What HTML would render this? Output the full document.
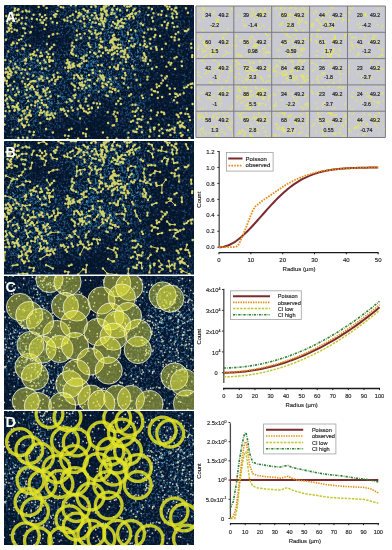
<!DOCTYPE html><html><head><meta charset="utf-8"><style>html,body{margin:0;padding:0;background:#fff;}#p{position:relative;width:392px;height:550px;overflow:hidden;background:#fff;}svg{position:absolute;left:0;top:0;} text{font-family:"Liberation Sans", Arial, sans-serif;} .pl text{stroke:#222;stroke-width:0.14px;}</style></head><body><div id="p"><svg width="392" height="550" viewBox="0 0 392 550" font-size="6" fill="#2a2a2a"><defs><clipPath id="cpA"><rect x="0" y="0" width="190" height="134"/></clipPath><clipPath id="cpB"><rect x="0" y="0" width="190" height="133.4"/></clipPath><clipPath id="cpC"><rect x="0" y="0" width="190" height="133.8"/></clipPath><clipPath id="cpD"><rect x="0" y="0" width="190" height="134.3"/></clipPath><filter id="soft" x="-5%" y="-5%" width="110%" height="110%"><feGaussianBlur stdDeviation="0.5"/></filter><filter id="bl6" x="-20%" y="-20%" width="140%" height="140%"><feGaussianBlur stdDeviation="7"/></filter><filter id="tz" x="0" y="0" width="190" height="134" filterUnits="userSpaceOnUse"><feTurbulence type="fractalNoise" baseFrequency="0.45" numOctaves="2" seed="4"/><feColorMatrix type="matrix" values="0 0 0 0 0.08  0 0 0 0 0.36  0 0 0 0 0.58  3.4 0 0 0 -1.6"/></filter><mask id="mAB" maskUnits="userSpaceOnUse" x="0" y="0" width="190" height="134"><rect width="190" height="134" fill="#1c1c1c"/><g filter="url(#bl6)" fill="#fff"><rect x="0.0" y="0.0" width="23.8" height="22.3" fill-opacity="0.40"/><rect x="23.8" y="0.0" width="23.8" height="22.3" fill-opacity="0.20"/><rect x="47.5" y="0.0" width="23.8" height="22.3" fill-opacity="0.40"/><rect x="71.2" y="0.0" width="23.8" height="22.3" fill-opacity="1.00"/><rect x="95.0" y="0.0" width="23.8" height="22.3" fill-opacity="1.00"/><rect x="118.8" y="0.0" width="23.8" height="22.3" fill-opacity="0.70"/><rect x="142.5" y="0.0" width="23.8" height="22.3" fill-opacity="0.20"/><rect x="166.2" y="0.0" width="23.8" height="22.3" fill-opacity="0.20"/><rect x="0.0" y="22.3" width="23.8" height="22.3" fill-opacity="0.40"/><rect x="23.8" y="22.3" width="23.8" height="22.3" fill-opacity="0.00"/><rect x="47.5" y="22.3" width="23.8" height="22.3" fill-opacity="0.10"/><rect x="71.2" y="22.3" width="23.8" height="22.3" fill-opacity="0.60"/><rect x="95.0" y="22.3" width="23.8" height="22.3" fill-opacity="0.80"/><rect x="118.8" y="22.3" width="23.8" height="22.3" fill-opacity="0.70"/><rect x="142.5" y="22.3" width="23.8" height="22.3" fill-opacity="0.10"/><rect x="166.2" y="22.3" width="23.8" height="22.3" fill-opacity="0.20"/><rect x="0.0" y="44.7" width="23.8" height="22.3" fill-opacity="1.00"/><rect x="23.8" y="44.7" width="23.8" height="22.3" fill-opacity="0.70"/><rect x="47.5" y="44.7" width="23.8" height="22.3" fill-opacity="0.40"/><rect x="71.2" y="44.7" width="23.8" height="22.3" fill-opacity="1.00"/><rect x="95.0" y="44.7" width="23.8" height="22.3" fill-opacity="0.40"/><rect x="118.8" y="44.7" width="23.8" height="22.3" fill-opacity="1.00"/><rect x="142.5" y="44.7" width="23.8" height="22.3" fill-opacity="0.10"/><rect x="166.2" y="44.7" width="23.8" height="22.3" fill-opacity="0.10"/><rect x="0.0" y="67.0" width="23.8" height="22.3" fill-opacity="0.40"/><rect x="23.8" y="67.0" width="23.8" height="22.3" fill-opacity="1.00"/><rect x="47.5" y="67.0" width="23.8" height="22.3" fill-opacity="0.40"/><rect x="71.2" y="67.0" width="23.8" height="22.3" fill-opacity="1.00"/><rect x="95.0" y="67.0" width="23.8" height="22.3" fill-opacity="1.00"/><rect x="118.8" y="67.0" width="23.8" height="22.3" fill-opacity="0.40"/><rect x="142.5" y="67.0" width="23.8" height="22.3" fill-opacity="0.00"/><rect x="166.2" y="67.0" width="23.8" height="22.3" fill-opacity="0.10"/><rect x="0.0" y="89.3" width="23.8" height="22.3" fill-opacity="1.00"/><rect x="23.8" y="89.3" width="23.8" height="22.3" fill-opacity="1.00"/><rect x="47.5" y="89.3" width="23.8" height="22.3" fill-opacity="0.70"/><rect x="71.2" y="89.3" width="23.8" height="22.3" fill-opacity="0.40"/><rect x="95.0" y="89.3" width="23.8" height="22.3" fill-opacity="0.10"/><rect x="118.8" y="89.3" width="23.8" height="22.3" fill-opacity="0.40"/><rect x="142.5" y="89.3" width="23.8" height="22.3" fill-opacity="0.00"/><rect x="166.2" y="89.3" width="23.8" height="22.3" fill-opacity="0.10"/><rect x="0.0" y="111.7" width="23.8" height="22.3" fill-opacity="0.40"/><rect x="23.8" y="111.7" width="23.8" height="22.3" fill-opacity="0.40"/><rect x="47.5" y="111.7" width="23.8" height="22.3" fill-opacity="0.10"/><rect x="71.2" y="111.7" width="23.8" height="22.3" fill-opacity="0.00"/><rect x="95.0" y="111.7" width="23.8" height="22.3" fill-opacity="0.10"/><rect x="118.8" y="111.7" width="23.8" height="22.3" fill-opacity="0.40"/><rect x="142.5" y="111.7" width="23.8" height="22.3" fill-opacity="0.10"/><rect x="166.2" y="111.7" width="23.8" height="22.3" fill-opacity="0.40"/></g></mask><mask id="mCD" maskUnits="userSpaceOnUse" x="0" y="0" width="190" height="134"><rect width="190" height="134" fill="#2a2a2a"/><g filter="url(#bl6)" fill="#fff"><rect x="0.0" y="0.0" width="23.8" height="22.3" fill-opacity="0.11"/><rect x="23.8" y="0.0" width="23.8" height="22.3" fill-opacity="0.89"/><rect x="47.5" y="0.0" width="23.8" height="22.3" fill-opacity="0.56"/><rect x="71.2" y="0.0" width="23.8" height="22.3" fill-opacity="0.00"/><rect x="95.0" y="0.0" width="23.8" height="22.3" fill-opacity="0.00"/><rect x="118.8" y="0.0" width="23.8" height="22.3" fill-opacity="0.11"/><rect x="142.5" y="0.0" width="23.8" height="22.3" fill-opacity="0.56"/><rect x="166.2" y="0.0" width="23.8" height="22.3" fill-opacity="0.56"/><rect x="0.0" y="22.3" width="23.8" height="22.3" fill-opacity="0.11"/><rect x="23.8" y="22.3" width="23.8" height="22.3" fill-opacity="0.67"/><rect x="47.5" y="22.3" width="23.8" height="22.3" fill-opacity="0.11"/><rect x="71.2" y="22.3" width="23.8" height="22.3" fill-opacity="0.11"/><rect x="95.0" y="22.3" width="23.8" height="22.3" fill-opacity="0.00"/><rect x="118.8" y="22.3" width="23.8" height="22.3" fill-opacity="0.33"/><rect x="142.5" y="22.3" width="23.8" height="22.3" fill-opacity="0.89"/><rect x="166.2" y="22.3" width="23.8" height="22.3" fill-opacity="0.89"/><rect x="0.0" y="44.7" width="23.8" height="22.3" fill-opacity="0.89"/><rect x="23.8" y="44.7" width="23.8" height="22.3" fill-opacity="0.33"/><rect x="47.5" y="44.7" width="23.8" height="22.3" fill-opacity="0.11"/><rect x="71.2" y="44.7" width="23.8" height="22.3" fill-opacity="0.00"/><rect x="95.0" y="44.7" width="23.8" height="22.3" fill-opacity="0.11"/><rect x="118.8" y="44.7" width="23.8" height="22.3" fill-opacity="0.33"/><rect x="142.5" y="44.7" width="23.8" height="22.3" fill-opacity="0.89"/><rect x="166.2" y="44.7" width="23.8" height="22.3" fill-opacity="0.89"/><rect x="0.0" y="67.0" width="23.8" height="22.3" fill-opacity="0.89"/><rect x="23.8" y="67.0" width="23.8" height="22.3" fill-opacity="0.67"/><rect x="47.5" y="67.0" width="23.8" height="22.3" fill-opacity="0.11"/><rect x="71.2" y="67.0" width="23.8" height="22.3" fill-opacity="0.11"/><rect x="95.0" y="67.0" width="23.8" height="22.3" fill-opacity="0.11"/><rect x="118.8" y="67.0" width="23.8" height="22.3" fill-opacity="0.56"/><rect x="142.5" y="67.0" width="23.8" height="22.3" fill-opacity="0.67"/><rect x="166.2" y="67.0" width="23.8" height="22.3" fill-opacity="0.67"/><rect x="0.0" y="89.3" width="23.8" height="22.3" fill-opacity="0.33"/><rect x="23.8" y="89.3" width="23.8" height="22.3" fill-opacity="0.89"/><rect x="47.5" y="89.3" width="23.8" height="22.3" fill-opacity="0.56"/><rect x="71.2" y="89.3" width="23.8" height="22.3" fill-opacity="0.11"/><rect x="95.0" y="89.3" width="23.8" height="22.3" fill-opacity="0.11"/><rect x="118.8" y="89.3" width="23.8" height="22.3" fill-opacity="0.56"/><rect x="142.5" y="89.3" width="23.8" height="22.3" fill-opacity="0.33"/><rect x="166.2" y="89.3" width="23.8" height="22.3" fill-opacity="0.67"/><rect x="0.0" y="111.7" width="23.8" height="22.3" fill-opacity="0.11"/><rect x="23.8" y="111.7" width="23.8" height="22.3" fill-opacity="0.33"/><rect x="47.5" y="111.7" width="23.8" height="22.3" fill-opacity="0.33"/><rect x="71.2" y="111.7" width="23.8" height="22.3" fill-opacity="0.11"/><rect x="95.0" y="111.7" width="23.8" height="22.3" fill-opacity="0.11"/><rect x="118.8" y="111.7" width="23.8" height="22.3" fill-opacity="0.33"/><rect x="142.5" y="111.7" width="23.8" height="22.3" fill-opacity="0.33"/><rect x="166.2" y="111.7" width="23.8" height="22.3" fill-opacity="0.33"/></g></mask></defs><g transform="translate(4,5)" clip-path="url(#cpA)"><g filter="url(#soft)"><g><rect width="190" height="134" fill="#06122a"/><rect width="190" height="134" filter="url(#tz)" mask="url(#mAB)"/><path d="M97.8 79.0h0M92.6 38.6h0M82.6 31.4h0M17.5 132.4h0M3.8 22.2h0M117.2 97.7h0M51.9 78.7h0M10.4 44.3h0M43.2 92.3h0M188.3 114.6h0M142.5 57.6h0M42.3 83.6h0M146.7 43.7h0M1.3 64.5h0M87.1 78.1h0M29.6 84.4h0M131.1 74.0h0M28.7 58.5h0M32.7 120.9h0M126.1 124.7h0M111.7 64.3h0M129.8 23.9h0M68.7 21.5h0M55.1 105.2h0M162.0 44.6h0M92.1 71.4h0M98.9 38.9h0M149.1 38.6h0M20.7 115.7h0M31.5 35.8h0M60.2 121.1h0M114.1 15.7h0M6.5 91.5h0M1.9 23.1h0M184.5 122.7h0M115.2 81.0h0M93.1 58.8h0M36.6 58.3h0M119.0 17.2h0M72.2 103.8h0M174.0 71.1h0M107.6 22.9h0M9.3 101.7h0M111.1 53.5h0M36.5 80.2h0M117.0 83.9h0M66.8 23.2h0M55.5 4.2h0M59.2 95.7h0M49.4 114.0h0M169.7 123.8h0M93.4 126.0h0M103.6 133.3h0M107.1 88.4h0M109.2 78.4h0M122.8 56.2h0M136.1 15.7h0M76.0 101.8h0M140.2 49.2h0M7.7 31.9h0M83.5 29.5h0M70.4 49.1h0M187.7 18.3h0M135.5 44.6h0M11.6 100.9h0M39.1 47.7h0M63.8 107.2h0M78.0 121.5h0M16.1 95.5h0M14.9 70.8h0M187.1 122.4h0M121.6 27.7h0M23.0 93.9h0M84.3 55.2h0M60.8 122.1h0M61.1 79.2h0M64.9 61.9h0M21.5 83.2h0M73.8 58.7h0M146.5 53.7h0M95.8 33.6h0M96.8 37.4h0M111.2 130.1h0M98.1 15.1h0M144.2 88.2h0M141.8 43.3h0M86.7 17.8h0M59.3 2.3h0M109.1 28.4h0M123.2 18.0h0M26.1 98.3h0M175.0 5.6h0M101.8 1.8h0M141.2 76.3h0M33.8 73.3h0M46.7 81.8h0M22.9 70.1h0M130.6 122.5h0M104.9 62.6h0M31.8 99.1h0M34.3 89.5h0M98.1 75.1h0M143.2 25.5h0M113.5 44.9h0M173.6 2.6h0M69.9 28.6h0M11.4 5.1h0M35.6 61.9h0M82.8 2.8h0M41.8 84.7h0M99.6 27.2h0M20.1 83.0h0M70.5 54.2h0M3.7 47.7h0M189.1 119.5h0M2.6 43.5h0M24.9 81.8h0M25.2 58.3h0M183.8 36.1h0M96.7 15.0h0M31.3 55.8h0M60.0 92.7h0M104.6 9.3h0M187.5 94.8h0M83.1 86.2h0M24.5 96.4h0M136.0 48.2h0M188.5 59.7h0M187.4 8.7h0M145.5 84.3h0M67.7 13.3h0M74.4 1.2h0M33.1 108.4h0M13.1 14.8h0M20.2 12.1h0M23.8 102.5h0M118.0 69.8h0M101.5 72.2h0M171.7 17.6h0M4.7 16.0h0M77.0 116.5h0M137.6 20.0h0M50.6 121.5h0M189.8 88.4h0M99.0 59.1h0M53.8 86.0h0M22.9 53.4h0M187.0 3.5h0M155.2 113.0h0M167.5 95.6h0M80.7 127.6h0M133.4 131.5h0M20.9 67.5h0M174.4 129.8h0M102.7 74.7h0M128.0 64.8h0M50.0 110.5h0M25.3 85.2h0M41.8 103.2h0M130.3 45.4h0M169.0 29.9h0M36.6 115.2h0M7.8 63.4h0M36.5 114.7h0M28.4 65.5h0M181.3 41.6h0M71.5 49.2h0M146.4 53.2h0M38.0 34.5h0M83.7 8.1h0M172.6 8.7h0M121.6 38.8h0M27.3 101.4h0M188.1 132.4h0M35.7 79.6h0M68.7 46.5h0M38.6 41.9h0M27.6 10.1h0M9.8 109.1h0M23.3 130.3h0M107.6 77.4h0M133.8 11.5h0M143.5 50.4h0M106.5 12.6h0M45.7 71.4h0M9.8 65.3h0M38.7 88.1h0M46.7 91.3h0M72.5 11.3h0M163.2 95.5h0M129.1 65.1h0M66.2 101.9h0M42.5 122.4h0M77.5 81.2h0M69.0 66.0h0M149.2 113.6h0M28.0 59.6h0M36.0 76.8h0M132.0 17.4h0M122.3 80.8h0M94.3 84.9h0M159.5 65.4h0M67.6 54.7h0M14.6 47.6h0M22.3 47.9h0M114.6 82.1h0M24.6 21.2h0M38.1 95.9h0M91.1 31.6h0M12.7 109.4h0M9.9 73.7h0M155.6 15.3h0M121.1 54.6h0M72.7 51.2h0M134.3 5.3h0M80.9 74.3h0M35.1 125.5h0M98.4 12.6h0M73.4 57.4h0M68.4 6.9h0M132.0 117.8h0M77.8 50.2h0M119.8 33.7h0M13.7 50.7h0M57.0 66.6h0M61.1 94.9h0M23.9 104.8h0M188.0 37.6h0M186.1 117.9h0M98.4 82.8h0M173.3 21.8h0M35.3 45.5h0M86.5 57.9h0M52.9 75.5h0M138.7 123.2h0M85.8 65.4h0M166.8 23.7h0M35.3 117.9h0M116.9 45.3h0M8.0 92.5h0M9.4 72.1h0M13.9 124.0h0M71.2 42.8h0M5.1 101.3h0M113.7 36.3h0M33.9 91.3h0M175.0 54.7h0M177.0 96.9h0M50.6 86.6h0M10.7 34.7h0M39.5 51.7h0M159.3 62.6h0M91.9 80.7h0M40.7 61.3h0M82.3 80.0h0M124.2 67.3h0M67.3 85.9h0M184.0 9.3h0M107.7 26.4h0M133.2 90.8h0M7.8 52.5h0M38.6 56.7h0M73.6 129.8h0M145.4 54.3h0M25.9 47.9h0M128.5 88.2h0M78.3 87.3h0M20.8 73.0h0M48.2 33.3h0M29.2 56.8h0M11.4 38.6h0M40.2 83.9h0M58.6 64.8h0M78.9 114.3h0M38.8 113.3h0M25.9 112.2h0M149.3 106.0h0M41.2 115.6h0M2.2 111.1h0M110.8 70.1h0M40.5 49.3h0M105.5 61.3h0M108.3 10.4h0M19.6 11.0h0M13.7 79.0h0M75.9 28.7h0M117.8 47.8h0M5.7 7.1h0M52.4 65.9h0M89.5 73.2h0M23.6 133.7h0M50.6 68.0h0M99.8 89.5h0M24.5 125.3h0M111.4 1.5h0M90.5 88.5h0M124.9 36.3h0M121.7 22.0h0M163.0 132.3h0M39.3 96.1h0M83.4 32.7h0M96.9 63.0h0M119.2 104.6h0M88.2 11.3h0M44.8 79.9h0M71.7 120.2h0M7.9 97.0h0M119.0 19.1h0M70.7 94.4h0M67.3 58.5h0M9.2 132.1h0M47.0 80.9h0M56.4 24.0h0M177.8 49.7h0M25.8 58.8h0M25.4 87.3h0M15.2 37.7h0M43.1 50.5h0M32.3 126.4h0M53.6 120.6h0M51.1 107.7h0M185.5 46.7h0M5.1 80.1h0M188.6 2.8h0M37.7 87.1h0M103.4 4.8h0M79.1 68.7h0M16.7 17.5h0M132.4 82.0h0M17.6 76.3h0M89.2 47.7h0M82.6 108.1h0M112.0 69.6h0M90.6 87.5h0M155.1 23.6h0M2.9 121.0h0M38.9 45.2h0M98.1 78.5h0M73.2 4.5h0M156.2 26.7h0M94.7 111.1h0M80.5 70.7h0M76.7 66.0h0M142.4 107.6h0M176.1 56.9h0M122.4 45.9h0M117.5 128.9h0M74.5 39.3h0M166.2 2.6h0M22.1 90.3h0M173.7 117.4h0M186.0 100.0h0M160.3 38.2h0M23.4 60.3h0M54.5 102.1h0M19.0 3.6h0M164.2 119.0h0M90.9 82.9h0M91.8 4.5h0M79.0 75.5h0M99.2 32.3h0M130.3 78.3h0M152.2 86.8h0M60.6 35.7h0M103.4 12.4h0M82.9 10.2h0M50.4 11.6h0M116.2 104.1h0M139.9 72.8h0M112.0 74.7h0M19.5 120.8h0M132.1 40.3h0M110.8 105.7h0M167.7 26.3h0M7.1 12.5h0M47.3 64.6h0M129.7 7.9h0M102.4 5.0h0M165.6 100.0h0M117.5 19.3h0M127.0 14.5h0M112.9 66.1h0M90.0 12.5h0M40.6 39.9h0M176.2 114.5h0M105.8 78.3h0M162.3 39.9h0M125.0 51.2h0M120.9 52.6h0M21.2 107.1h0M4.0 111.9h0M22.0 108.6h0M100.1 78.3h0M111.1 7.9h0M74.7 99.6h0M98.8 72.3h0M147.9 32.2h0M127.7 20.3h0M77.2 41.9h0M55.5 130.3h0M68.4 1.6h0M145.0 103.7h0M20.3 104.4h0M43.0 116.8h0M39.8 90.4h0M67.8 116.8h0M75.6 31.6h0M71.1 67.1h0M104.7 72.5h0M71.6 69.0h0M67.2 100.6h0M45.1 105.3h0M66.3 101.8h0M160.2 21.3h0M188.6 22.8h0M89.4 55.2h0M138.4 110.8h0M125.8 17.9h0M100.5 83.3h0M166.3 129.7h0M184.8 5.9h0M9.4 32.2h0M120.4 111.3h0M88.1 85.1h0M49.7 81.0h0M150.4 10.3h0M10.1 111.8h0M10.1 5.3h0M15.0 47.9h0M83.8 54.5h0M117.5 60.2h0M21.6 50.0h0M38.8 28.7h0M117.0 24.1h0M151.2 6.8h0M144.1 87.8h0M101.2 16.0h0M18.9 104.4h0M166.2 8.4h0M79.5 105.9h0M29.5 12.7h0M103.4 2.8h0M107.1 56.8h0M110.0 103.7h0M138.0 32.6h0M112.7 92.7h0M153.6 96.9h0M68.1 123.2h0M116.9 49.7h0M98.4 19.7h0M126.8 3.5h0M145.5 93.9h0M121.3 36.9h0M103.2 63.6h0M173.4 0.4h0M71.9 34.1h0M139.7 50.3h0M149.3 27.0h0M147.5 65.8h0M64.6 107.8h0M106.5 10.8h0M62.6 115.2h0M11.3 49.6h0M176.0 6.7h0M92.2 14.0h0M23.0 105.3h0M134.3 90.7h0M112.6 68.2h0M45.4 76.4h0M162.3 99.7h0M135.1 12.5h0M41.7 0.8h0M77.9 12.5h0M70.8 52.2h0M28.0 69.4h0M98.8 55.9h0M34.5 99.9h0M48.3 70.5h0M71.4 59.2h0M74.5 77.7h0M185.2 131.9h0M134.6 83.1h0M164.6 83.6h0M169.1 42.9h0M68.0 110.7h0M9.8 23.5h0M24.2 105.4h0M50.5 20.7h0M74.8 58.6h0M21.6 78.7h0M97.1 130.8h0M97.9 53.7h0M162.8 28.2h0M22.0 59.6h0M117.3 22.7h0M174.4 31.9h0M33.7 74.5h0M169.6 66.3h0M88.0 29.1h0M181.9 114.9h0M116.9 66.9h0M120.6 23.8h0M172.0 56.5h0M112.6 56.8h0M64.7 104.7h0M62.2 0.2h0M82.1 22.6h0M69.6 11.5h0M178.8 97.8h0M32.1 14.8h0M68.1 38.4h0M2.7 118.7h0M154.7 114.2h0M121.4 12.6h0M53.6 87.1h0M2.1 111.6h0M79.6 30.0h0M21.5 82.3h0M161.8 47.2h0M82.9 3.1h0M0.3 15.6h0M142.1 68.3h0M62.2 79.0h0M155.9 8.8h0M132.9 89.8h0M12.2 94.0h0M133.1 56.6h0M126.3 113.4h0M90.6 24.7h0M67.1 109.1h0M68.9 10.5h0M115.9 114.2h0M89.6 67.4h0M19.2 29.4h0M90.2 33.8h0M15.2 47.1h0M189.4 70.6h0M52.7 2.4h0M135.0 54.2h0M134.5 66.0h0M134.9 83.9h0M4.9 38.9h0M136.7 88.4h0M101.2 81.3h0M45.0 115.9h0M83.5 20.3h0M5.0 61.3h0M122.5 77.4h0M187.4 20.0h0M118.5 123.4h0M130.1 115.3h0M84.3 49.2h0M167.8 70.6h0M137.3 30.5h0M44.8 7.2h0M40.3 73.4h0M151.9 96.2h0M53.6 52.4h0M51.5 22.0h0M139.3 44.3h0M170.2 22.2h0M182.6 34.8h0M123.3 6.7h0M52.9 31.1h0M39.3 10.8h0M65.2 33.6h0M17.7 77.3h0M166.6 3.7h0M18.4 18.5h0M125.6 49.3h0M177.0 45.0h0M70.7 79.1h0M105.0 49.1h0M26.6 48.1h0M131.7 37.4h0M43.9 15.6h0M107.7 5.8h0M98.5 100.0h0M76.2 77.3h0M55.2 104.6h0M21.7 5.0h0M169.4 132.1h0M106.2 30.5h0M181.0 18.8h0M152.9 68.0h0M18.3 104.4h0M107.0 14.5h0M93.3 61.5h0M129.3 130.5h0M12.9 112.9h0M93.4 58.8h0M161.5 12.0h0M1.5 109.6h0M25.8 107.9h0M66.4 76.9h0M45.0 101.8h0M34.7 78.2h0M114.6 73.8h0M121.1 62.3h0M45.1 80.0h0M44.4 69.2h0M55.2 114.9h0M102.1 13.5h0M145.1 106.2h0M118.5 67.0h0M15.7 34.4h0M158.0 21.8h0M79.5 15.6h0M139.8 29.2h0M0.2 69.0h0M106.6 84.1h0M63.9 66.1h0M34.2 34.3h0M110.4 26.9h0M175.6 119.1h0M129.3 68.1h0M19.4 129.9h0M163.4 90.7h0M117.4 110.2h0M76.4 43.9h0M74.8 73.4h0M33.6 105.0h0M121.6 121.0h0M27.8 78.0h0M64.9 67.5h0M43.0 77.1h0M182.1 55.0h0M142.1 21.8h0M71.6 85.6h0M72.7 73.3h0M152.1 32.7h0M90.3 126.4h0M53.2 20.9h0M92.4 58.9h0M23.8 109.6h0M149.7 115.0h0M175.1 87.8h0M88.9 53.4h0M142.2 63.4h0M167.8 31.4h0M81.9 109.6h0M15.0 99.9h0M124.3 17.6h0M18.6 94.1h0M106.1 68.0h0M29.7 73.8h0M167.2 18.0h0M68.2 42.8h0M11.1 82.7h0M88.1 8.9h0M188.4 117.1h0M33.5 8.5h0M175.7 62.8h0M52.0 24.1h0M9.7 100.5h0M66.7 60.2h0M152.3 30.8h0M135.0 25.3h0M156.0 128.4h0M175.5 85.2h0M10.8 20.5h0M120.9 94.0h0M70.3 3.7h0M110.6 60.1h0M36.5 88.9h0M123.8 54.3h0M0.9 62.8h0M117.9 28.6h0M21.9 63.2h0M185.9 127.3h0M45.1 121.0h0M130.3 73.3h0M102.6 75.1h0M166.6 116.9h0M164.8 89.5h0M156.9 20.3h0M133.6 60.6h0M52.5 107.7h0M111.7 130.7h0M150.6 43.1h0M35.1 88.6h0M48.1 33.8h0M131.1 41.3h0M158.0 39.5h0M89.7 108.0h0M49.1 105.5h0M17.1 76.6h0M64.5 109.8h0M114.9 60.7h0M134.9 45.8h0M34.5 86.0h0M144.4 18.4h0M175.5 26.3h0M106.2 45.6h0M49.2 2.5h0M103.7 62.1h0M136.1 126.2h0M60.7 0.0h0M165.2 101.6h0M8.7 82.0h0M88.2 7.1h0M64.6 106.4h0M42.0 107.2h0M87.8 21.1h0M33.4 43.7h0M99.2 115.5h0M35.2 37.3h0M25.6 93.3h0M133.7 92.3h0M148.0 55.6h0M88.7 18.6h0M78.7 56.4h0M85.1 73.5h0M42.5 25.3h0M53.5 49.9h0M189.3 64.1h0M135.0 80.2h0M88.8 44.2h0M51.6 54.8h0M176.3 28.0h0M90.6 6.3h0M157.2 18.2h0M8.0 98.6h0M9.6 69.1h0M164.6 82.6h0M20.5 3.9h0M44.9 57.8h0M36.6 82.3h0M37.4 6.3h0M96.2 32.5h0M169.7 111.3h0M106.6 12.8h0M115.8 75.8h0M7.3 81.5h0M103.3 75.5h0M184.2 110.9h0M107.9 41.5h0M24.0 98.2h0M176.5 128.8h0M88.3 7.0h0M34.4 76.9h0M89.3 77.4h0M89.9 62.1h0M131.9 54.8h0M154.9 113.5h0M93.5 60.7h0M188.1 1.0h0M42.5 53.3h0M113.6 94.7h0M126.8 70.8h0M19.3 75.1h0M121.0 95.9h0M10.9 132.1h0M112.7 21.4h0M56.5 5.8h0M114.2 5.8h0M55.1 107.8h0M155.2 12.6h0M88.2 84.1h0M37.0 104.3h0M104.3 103.7h0M172.7 109.3h0M177.9 24.4h0M179.2 104.9h0M189.3 101.1h0M147.0 39.6h0M18.9 7.1h0M40.2 90.9h0M64.6 106.7h0M141.9 100.3h0M74.1 70.0h0M34.6 81.8h0M176.4 79.8h0M29.2 113.8h0M31.4 2.8h0M35.3 77.4h0M122.5 124.7h0M132.5 8.2h0M131.5 91.0h0M176.7 29.0h0M66.7 124.5h0M16.9 104.2h0M153.3 68.9h0M2.6 42.5h0M86.1 13.0h0M189.8 109.9h0M7.8 1.9h0M94.0 62.0h0M91.2 7.9h0M121.1 30.6h0M96.3 39.4h0M83.8 79.3h0M121.6 21.6h0M180.8 120.5h0M97.2 85.1h0M130.3 132.6h0M144.6 92.9h0M15.6 45.1h0M65.3 96.2h0M75.9 104.4h0M38.7 127.4h0M184.6 74.2h0M76.1 83.2h0M105.9 54.4h0M128.5 102.6h0M23.7 107.3h0M2.0 53.8h0M117.9 8.3h0M6.9 61.0h0M171.0 51.4h0M79.9 17.2h0M48.2 41.4h0M78.5 35.1h0M93.6 67.2h0M11.7 83.4h0M143.6 119.6h0M132.0 127.5h0M108.7 70.4h0M73.5 74.8h0M135.9 38.0h0M181.6 61.5h0M132.1 19.8h0M174.7 84.3h0M126.0 15.9h0M62.8 46.1h0M99.7 6.6h0M166.7 17.4h0M123.8 10.8h0M29.7 76.1h0M74.3 10.1h0M122.3 54.4h0M42.9 131.7h0M73.4 121.4h0M4.8 24.3h0M71.5 59.2h0M22.3 98.9h0M158.6 56.3h0M179.9 109.7h0M116.7 17.6h0M26.5 78.7h0M124.7 77.2h0M98.4 67.5h0M66.4 112.6h0M187.4 38.2h0M38.9 38.9h0M121.0 38.5h0M0.3 90.8h0M122.4 20.7h0M91.0 56.7h0M96.0 51.0h0M57.0 106.4h0M56.9 128.6h0M0.3 24.1h0M21.4 124.8h0M174.4 31.7h0M36.2 53.1h0M97.8 36.4h0M145.2 88.2h0M134.3 77.7h0M135.1 102.7h0M21.2 76.7h0M103.8 100.0h0M177.9 90.8h0M16.8 23.6h0M111.6 53.1h0M113.4 130.0h0M72.4 21.8h0M59.1 27.5h0M171.6 96.5h0M26.8 113.0h0M85.2 61.7h0M5.8 74.8h0M16.5 48.1h0M126.7 71.4h0M51.8 72.2h0M57.5 18.5h0M189.6 96.4h0M45.9 129.0h0M135.2 12.9h0" stroke="#0e2a48" stroke-width="1.5" stroke-linecap="round" opacity="0.75"/><path d="M185.6 73.2h0M149.9 124.2h0M173.0 90.2h0M68.7 96.6h0M91.7 26.8h0M99.8 47.8h0M20.0 65.9h0M81.5 79.8h0M94.2 22.9h0M120.8 77.5h0M85.2 59.9h0M33.9 67.6h0M108.0 117.0h0M98.4 18.1h0M48.6 63.0h0M36.3 52.1h0M115.6 88.2h0M141.4 95.0h0M57.2 49.4h0M181.6 60.2h0M17.6 6.7h0M49.9 58.4h0M74.2 43.2h0M69.5 94.0h0M47.8 127.5h0M119.6 30.8h0M140.4 50.3h0M16.2 99.2h0M83.3 18.7h0M12.0 37.7h0M69.7 78.5h0M57.0 42.8h0M71.1 132.7h0M165.7 39.9h0M56.6 7.7h0M106.1 126.3h0M102.2 28.5h0M76.0 65.0h0M110.4 11.6h0M1.1 51.4h0M74.2 44.0h0M54.3 91.1h0M166.8 8.2h0M14.5 70.7h0M16.0 60.8h0M5.2 3.8h0M163.4 2.3h0M24.3 117.1h0M11.3 81.5h0M56.6 103.4h0M0.4 82.1h0M120.4 97.0h0M64.1 107.2h0M136.9 76.0h0M22.9 58.5h0M120.0 118.4h0M111.0 76.9h0M139.4 98.8h0M119.7 45.9h0M174.1 114.3h0M82.1 113.6h0M141.9 32.9h0M155.1 3.1h0M45.6 99.4h0M125.3 9.4h0M127.4 34.7h0M129.2 103.8h0M44.7 22.2h0M70.7 11.2h0M98.0 54.9h0M94.2 33.5h0M70.4 100.5h0M125.9 132.2h0M104.8 106.9h0M122.8 102.1h0M109.2 67.5h0M84.0 77.5h0M92.7 52.1h0M72.5 40.8h0M179.2 15.8h0M157.9 126.2h0M121.5 9.5h0M0.8 58.3h0M9.5 92.4h0M86.9 36.2h0M144.9 38.6h0M130.8 35.3h0M97.4 16.1h0M164.3 123.9h0M81.9 118.9h0M96.0 26.4h0M104.5 40.6h0M86.0 92.0h0M65.1 69.1h0M139.5 114.8h0M4.5 60.1h0M165.2 54.3h0M158.8 97.3h0M153.1 87.0h0M171.1 98.8h0M177.7 22.2h0M99.0 28.6h0M187.2 10.9h0M62.5 11.6h0M180.8 74.3h0M46.5 104.3h0M92.1 81.9h0M32.9 107.2h0M142.9 89.3h0M112.7 124.4h0M43.9 98.2h0M49.5 19.2h0M31.2 61.9h0M67.4 20.2h0M170.4 46.3h0M43.1 113.2h0M50.7 122.4h0M63.7 0.9h0M124.6 96.5h0M122.3 10.2h0M180.2 115.7h0M28.7 32.0h0M2.4 105.1h0M108.4 94.0h0M122.0 57.5h0M37.5 81.9h0M91.1 97.7h0M132.5 73.0h0M70.6 103.8h0M51.6 121.2h0M24.3 106.8h0M62.1 0.0h0M142.1 79.2h0M125.2 41.0h0M66.7 18.2h0M106.5 89.7h0M187.8 29.1h0M80.8 55.6h0M77.5 11.7h0M106.1 5.7h0M6.6 91.6h0M21.8 40.2h0M123.2 31.1h0M125.8 115.7h0M156.3 103.4h0M76.8 34.4h0M7.5 84.9h0M153.3 73.4h0M56.3 116.4h0M94.8 3.9h0M106.1 73.4h0M84.5 57.8h0M51.7 88.3h0M73.8 107.3h0M102.9 66.3h0M131.2 75.9h0M73.3 109.6h0M12.2 123.9h0M54.3 132.3h0M35.2 132.9h0M188.8 130.0h0M39.4 47.2h0M151.0 60.9h0M35.9 10.2h0M46.8 112.6h0M87.4 81.4h0M32.6 77.6h0M129.8 38.8h0M24.2 132.6h0M10.4 116.5h0M0.7 40.5h0M148.4 44.6h0M183.7 114.7h0M99.7 61.7h0M17.0 85.7h0M130.9 72.7h0M169.2 34.1h0M171.3 121.6h0M0.6 67.3h0M96.9 39.3h0M125.2 74.0h0M99.4 74.7h0M174.6 26.0h0M78.3 78.0h0M95.5 96.9h0M85.5 22.1h0M118.2 48.6h0M68.5 114.7h0M4.0 62.9h0M176.1 120.5h0M143.7 104.3h0M33.8 73.7h0M123.2 32.9h0M142.5 23.1h0M33.8 54.1h0M120.5 56.7h0M79.4 47.1h0M104.1 59.7h0M82.9 10.4h0M5.2 41.6h0M1.4 127.1h0M33.5 79.0h0M107.0 69.4h0M90.1 86.2h0M136.6 7.9h0M108.7 52.3h0M19.7 114.8h0M65.2 17.3h0M129.1 14.6h0M183.6 54.5h0M136.4 80.2h0M80.9 64.3h0M56.4 57.8h0M73.4 34.0h0M182.4 22.8h0M106.0 119.0h0M25.1 74.4h0M107.7 114.4h0M57.6 110.0h0M16.2 36.6h0M21.8 112.1h0M46.5 7.8h0M181.0 94.9h0M93.8 55.7h0M65.7 11.7h0M25.2 68.2h0M28.4 99.7h0M144.3 66.5h0M49.1 27.1h0M50.1 77.6h0M85.8 48.3h0M153.5 100.1h0M23.0 62.4h0M27.9 59.6h0M75.2 91.4h0M122.5 109.7h0M92.5 1.9h0M88.6 54.8h0M69.6 118.8h0M93.3 75.9h0M107.9 93.7h0M180.6 69.6h0M146.1 124.1h0M128.6 52.5h0M123.3 103.3h0M1.4 114.6h0M184.8 123.3h0M77.8 19.1h0M7.6 79.7h0M139.4 11.9h0M13.6 42.5h0M70.3 118.2h0M132.8 106.4h0M9.6 31.5h0M48.8 131.7h0M70.1 15.2h0M176.9 51.1h0M44.1 50.6h0M70.8 58.1h0M95.2 63.1h0M0.8 64.1h0M93.0 61.6h0M75.4 93.1h0M99.8 61.7h0M162.4 52.0h0M47.4 85.5h0M96.0 108.3h0M160.4 118.4h0M48.3 99.7h0M147.1 2.9h0M59.6 42.3h0M68.8 34.9h0M128.0 41.6h0M98.0 36.9h0M4.0 1.8h0M64.3 26.6h0M121.9 91.7h0M12.8 40.0h0M87.3 67.2h0M61.7 68.0h0M3.1 49.5h0M27.1 68.7h0M81.4 33.9h0M19.4 30.5h0M90.2 15.8h0M161.2 29.2h0M164.9 4.9h0M27.2 121.0h0M63.3 67.7h0M104.2 19.2h0M45.2 9.5h0M59.8 14.5h0M68.2 92.2h0M59.7 122.1h0M121.7 17.0h0M138.9 129.0h0M187.6 6.0h0M65.8 70.9h0M161.2 108.1h0M176.0 16.3h0M85.0 57.3h0M99.6 77.6h0M0.6 109.0h0M184.2 55.4h0M58.8 115.1h0M33.0 6.5h0M74.1 68.4h0M3.0 2.2h0M112.9 53.5h0M187.5 130.8h0M173.3 3.9h0M36.6 12.1h0M6.1 59.1h0M21.0 127.7h0M16.5 55.9h0M29.9 103.3h0M0.5 0.6h0M79.7 35.5h0M98.6 39.1h0M143.1 61.1h0M38.3 113.0h0M13.9 119.7h0M8.5 5.5h0M75.9 79.8h0M107.0 45.1h0M20.7 129.4h0M14.1 8.0h0M9.1 60.5h0M14.0 46.1h0M106.4 40.3h0M155.1 63.4h0M85.1 41.4h0M130.2 8.6h0M64.2 83.4h0M46.6 76.4h0M2.9 45.3h0M84.9 99.0h0M9.8 104.3h0M153.7 0.9h0M163.9 14.9h0M118.2 76.8h0M146.5 95.7h0M74.6 11.3h0M31.5 72.9h0M63.5 56.4h0M1.2 28.1h0M95.1 81.0h0M107.8 48.2h0M8.2 48.7h0M93.9 88.3h0M82.6 113.7h0M36.5 32.4h0M37.7 56.1h0M62.8 42.2h0M94.8 34.2h0M84.2 82.1h0M181.1 127.5h0M157.4 1.6h0M41.0 49.2h0M179.7 95.8h0M122.0 43.7h0M7.3 45.3h0M65.9 21.4h0M100.6 74.5h0M156.2 55.2h0M140.2 41.8h0M109.8 129.1h0M81.1 83.2h0M2.8 77.0h0M86.4 69.8h0M3.8 97.6h0M85.2 78.2h0M69.7 85.5h0M22.5 73.2h0M116.0 26.7h0M26.2 19.1h0M123.1 103.0h0M117.6 115.1h0M43.0 8.8h0M129.3 2.6h0M106.3 31.0h0M23.8 102.1h0M21.1 28.8h0M61.8 9.5h0M74.6 15.2h0M28.4 122.7h0M131.4 118.1h0M68.1 43.7h0M3.3 111.0h0M151.0 69.1h0M96.0 27.8h0M61.3 58.4h0M165.7 56.1h0M29.3 99.9h0M100.6 13.8h0M106.2 5.9h0M107.6 98.0h0M33.3 90.1h0M42.8 58.2h0M21.5 89.4h0M189.5 120.9h0M147.1 124.3h0M77.5 78.9h0M133.2 39.1h0M150.6 59.8h0M31.7 113.9h0M106.0 37.8h0M102.3 48.1h0M125.7 108.9h0M21.4 65.3h0M87.4 8.0h0M157.9 8.6h0M86.8 12.8h0M95.3 68.5h0M113.2 118.5h0M113.8 6.6h0M185.9 34.0h0M8.7 54.9h0M64.9 38.5h0M128.0 132.1h0M89.4 55.6h0M16.2 116.9h0M85.6 75.9h0M59.2 94.5h0M108.0 132.6h0M37.6 45.4h0M46.4 49.1h0M71.3 76.3h0M99.0 41.5h0M71.2 31.7h0M91.3 69.5h0M47.0 25.3h0M40.6 107.3h0M119.9 48.5h0M110.1 60.4h0M177.1 104.1h0M100.4 66.9h0M106.0 116.3h0M77.4 123.9h0M107.8 124.1h0M155.7 8.1h0M124.8 91.6h0M55.7 99.8h0M44.3 100.2h0M87.5 41.5h0M88.3 21.4h0M182.9 43.3h0M133.1 54.2h0M68.3 74.2h0M51.3 54.4h0M45.2 132.9h0M69.3 28.1h0M74.6 45.0h0M38.3 11.1h0M31.6 130.6h0M40.2 69.2h0M34.2 93.0h0M152.8 133.5h0M45.5 87.4h0M150.0 65.8h0M146.9 35.5h0M100.4 39.6h0M2.4 107.3h0M185.8 22.6h0M17.7 129.5h0M43.7 37.5h0M181.4 64.2h0M86.3 60.9h0M122.7 97.2h0M152.2 70.6h0M115.6 49.3h0M185.8 40.9h0M75.2 53.6h0M37.9 71.1h0M41.6 82.8h0M8.3 125.8h0M131.9 85.2h0M111.6 115.9h0M91.2 97.6h0M83.8 4.9h0M91.3 91.1h0M35.8 46.5h0M139.1 108.2h0M97.5 13.2h0M97.0 102.7h0M115.7 106.1h0M140.4 103.3h0M146.9 9.8h0M134.0 33.9h0M180.7 70.4h0M136.2 45.5h0M90.0 71.6h0M45.9 103.0h0M185.1 132.2h0M3.6 73.2h0M148.8 53.1h0M132.9 93.9h0M34.9 102.5h0M49.5 6.3h0M107.2 17.2h0M8.2 126.8h0M5.1 93.8h0M3.6 21.1h0M90.5 0.4h0M177.0 45.8h0M30.5 73.5h0M119.0 72.7h0M93.2 6.8h0M149.3 99.5h0M95.1 92.3h0M60.2 75.0h0M176.9 19.6h0M37.9 83.5h0M162.0 129.5h0M172.7 70.6h0M6.9 106.1h0M34.4 116.6h0M118.9 56.9h0M85.5 83.9h0M38.0 101.9h0M12.5 115.5h0M39.3 53.8h0M67.3 60.8h0M186.2 122.7h0M161.4 16.4h0M67.3 91.6h0M22.2 133.1h0M61.4 4.7h0M124.7 53.4h0M81.2 76.5h0M162.0 117.5h0M97.1 91.9h0M114.1 52.7h0M40.0 111.5h0M25.6 4.5h0M117.9 82.7h0M71.4 46.1h0M120.8 91.5h0M111.0 19.7h0M55.4 64.4h0M50.2 85.2h0M154.2 114.8h0M68.4 29.4h0M21.4 64.0h0M67.9 2.6h0M71.7 41.1h0M50.8 47.8h0M106.4 90.9h0M67.0 18.4h0M33.9 58.9h0M10.1 90.5h0M137.4 23.8h0M129.0 65.2h0M25.5 127.1h0M79.0 83.3h0M59.1 79.1h0M158.7 34.0h0M85.9 27.8h0M40.6 117.5h0M22.2 55.8h0M177.4 47.3h0M109.3 65.4h0M14.5 71.5h0M105.7 81.1h0M72.4 48.8h0M78.3 51.8h0M94.0 81.2h0M80.4 50.2h0M173.0 119.1h0M19.6 93.5h0M110.7 47.0h0M107.6 57.9h0M179.0 103.0h0M84.0 100.2h0M53.9 96.5h0M49.8 53.9h0M42.5 79.3h0M141.6 66.1h0M94.0 115.2h0M129.6 74.0h0M30.6 40.5h0M1.8 96.1h0M114.6 39.2h0M27.3 7.0h0M171.5 55.2h0M33.3 112.0h0M28.3 93.0h0M184.6 43.8h0M33.4 73.4h0M57.4 64.8h0M0.6 37.1h0M182.6 62.7h0M60.9 39.2h0M24.6 59.7h0M148.4 123.3h0M72.3 109.6h0M61.5 21.9h0M11.5 114.3h0M114.1 52.2h0M154.1 73.8h0M113.2 97.4h0M48.5 85.8h0M28.2 64.9h0M88.4 57.1h0M161.2 17.5h0M78.4 56.2h0M134.6 41.9h0M51.5 69.4h0M64.0 89.4h0M134.2 118.7h0M88.8 88.4h0M109.0 37.7h0M60.1 37.8h0M29.2 59.0h0M180.9 115.7h0M14.1 72.5h0M75.2 107.1h0M18.8 113.5h0M25.3 44.2h0M0.2 58.3h0M19.2 75.9h0M104.1 89.6h0M56.1 59.8h0M79.4 97.8h0M118.0 42.7h0M77.3 90.0h0M91.4 20.2h0M104.6 68.2h0M133.7 75.8h0M12.5 84.3h0M42.8 20.2h0M177.9 9.8h0M9.6 109.3h0M18.3 17.8h0M108.5 40.5h0M31.0 101.3h0M156.1 30.1h0M117.7 23.9h0M131.4 117.6h0M138.8 8.7h0M58.9 69.0h0M133.9 120.1h0M46.4 20.5h0M38.5 43.1h0M42.8 34.7h0M121.2 110.7h0M41.5 63.1h0M76.2 73.0h0M105.9 66.7h0M89.1 85.9h0M84.2 91.0h0M164.2 5.8h0M105.2 43.4h0M29.2 129.9h0M105.0 78.7h0M128.3 82.4h0M78.6 32.4h0M114.7 18.7h0M37.7 105.1h0M73.9 31.4h0M139.9 108.3h0M134.7 111.7h0M39.8 124.3h0M89.2 24.8h0M19.2 69.7h0M54.9 24.6h0M42.7 77.1h0M28.6 129.8h0M11.7 110.4h0M91.0 65.2h0M129.9 100.6h0M20.5 26.6h0M186.4 8.4h0M103.9 44.9h0M105.2 72.9h0M116.3 69.8h0M154.7 97.6h0M107.4 77.2h0M49.0 50.0h0M44.4 59.8h0M164.1 131.4h0M43.1 70.5h0M29.4 43.6h0M125.4 16.0h0M37.4 100.6h0M172.8 128.4h0M112.6 113.9h0M101.0 69.9h0M39.9 126.3h0M139.0 111.9h0M56.3 21.6h0M36.7 59.3h0M131.7 99.8h0M104.2 12.3h0M44.8 92.3h0M119.1 114.5h0M73.7 83.4h0M84.7 59.4h0M160.1 50.6h0M129.5 38.8h0M118.0 107.1h0M117.5 27.7h0M55.8 87.3h0M46.8 83.4h0M28.9 70.2h0M110.9 127.3h0M88.7 68.3h0M11.8 53.3h0M3.8 107.4h0M172.9 29.7h0M116.8 115.9h0M64.9 93.7h0M78.6 113.9h0M77.8 23.4h0M83.3 36.0h0M50.6 59.3h0M79.5 78.5h0M102.3 87.5h0M8.2 131.2h0M111.0 70.4h0M148.7 62.1h0M68.1 101.4h0M99.9 99.1h0M117.7 82.9h0M149.5 99.1h0M114.3 41.1h0M164.3 74.5h0M1.0 66.6h0M79.0 60.2h0M3.5 79.1h0M15.8 120.0h0M133.2 27.0h0M22.0 48.9h0M83.7 11.2h0M103.6 35.1h0M25.1 63.3h0M115.3 82.5h0M22.9 20.8h0M21.9 121.7h0M91.4 56.3h0M128.9 66.4h0M114.3 16.8h0M126.5 41.6h0M175.5 42.2h0M77.0 19.7h0M73.7 18.9h0M17.0 124.8h0M2.0 6.4h0M21.3 106.5h0M112.5 54.2h0M11.2 101.4h0M126.5 69.2h0M37.1 106.4h0M182.1 105.2h0M142.0 95.7h0M168.4 122.1h0M135.1 88.8h0M56.4 63.6h0M63.7 116.6h0M25.9 83.4h0M55.9 41.7h0M7.8 124.7h0M58.7 46.1h0M135.1 39.8h0M102.9 31.1h0M90.2 16.0h0M188.9 120.6h0M62.0 5.2h0M27.4 96.0h0M132.5 104.5h0M3.0 28.3h0M64.8 26.5h0M25.7 3.6h0M80.1 30.6h0M13.4 28.1h0M70.2 105.4h0M145.9 71.5h0M67.3 58.1h0M47.4 43.2h0M82.1 96.3h0M171.0 121.4h0M118.4 117.4h0M132.2 63.9h0M44.7 79.4h0M94.2 102.3h0M91.7 110.7h0M124.3 24.0h0M74.2 117.0h0M29.5 115.8h0M79.5 59.1h0M109.0 76.4h0M151.5 30.3h0M47.2 119.0h0M139.5 133.6h0M165.2 46.9h0M41.4 98.3h0M11.2 89.2h0M53.7 32.5h0M24.3 95.8h0M117.8 5.9h0M102.7 59.5h0M34.4 126.0h0M54.7 64.8h0M80.5 97.5h0M2.9 113.6h0M89.4 5.3h0M126.4 78.8h0M82.5 33.4h0M117.3 84.1h0M91.2 45.7h0M144.8 85.7h0M42.4 81.8h0M54.2 23.7h0M187.6 11.4h0M86.6 64.9h0M144.9 95.4h0M57.4 64.9h0M130.6 124.7h0M58.4 1.8h0M80.6 104.5h0M115.3 73.2h0M113.9 97.9h0M29.0 9.7h0M33.8 58.7h0M119.2 63.6h0M62.8 58.2h0M72.0 23.3h0M40.0 11.3h0M107.1 12.5h0M61.7 8.4h0M4.1 86.2h0M46.1 91.8h0M27.5 9.1h0M103.0 48.2h0M136.6 11.7h0M63.7 72.2h0M163.8 18.4h0M45.9 100.7h0M50.6 1.3h0M78.2 9.3h0M107.1 57.6h0M130.5 5.2h0M136.0 50.5h0M36.9 69.9h0M71.2 32.9h0M85.7 13.7h0M101.0 106.5h0M150.2 41.7h0M48.2 70.4h0M31.4 129.9h0M93.3 70.6h0M153.3 133.3h0M135.7 4.1h0M144.3 65.6h0M102.7 94.0h0M39.5 68.8h0M101.6 24.8h0M153.2 25.4h0M136.8 53.2h0M160.2 91.7h0M39.2 85.0h0M56.2 98.8h0M174.7 49.3h0M164.6 30.3h0M156.8 11.8h0M25.4 82.3h0M12.8 106.8h0" stroke="#1a4e7c" stroke-width="1.5" stroke-linecap="round" opacity="0.75"/><path d="M181.4 80.3h0M120.7 125.1h0M96.8 23.8h0M103.1 26.3h0M84.8 19.7h0M118.2 59.6h0M148.2 13.9h0M93.5 53.5h0M47.1 80.1h0M102.9 69.7h0M160.7 100.5h0M183.3 49.3h0M35.1 9.1h0M81.5 84.7h0M39.6 36.0h0M14.3 133.6h0M13.1 48.8h0M60.7 92.1h0M56.5 105.2h0M114.3 64.0h0M129.5 14.0h0M62.9 68.9h0M4.8 62.8h0M133.2 20.1h0M131.4 10.6h0M181.9 38.0h0M119.6 51.2h0M84.8 85.4h0M166.9 46.4h0M179.1 70.5h0M68.2 58.4h0M18.1 82.7h0M74.6 53.5h0M90.0 56.4h0M37.4 61.4h0M67.8 42.3h0M113.3 19.3h0M7.0 86.3h0M78.0 9.7h0M121.6 19.2h0M0.9 81.7h0M94.6 96.6h0M116.6 82.1h0M187.6 5.0h0M150.4 130.9h0M24.1 82.5h0M162.1 112.9h0M26.1 58.6h0M51.0 69.7h0M66.4 64.6h0M2.0 4.8h0M34.8 43.8h0M135.7 98.7h0M120.8 30.4h0M20.9 37.3h0M116.4 5.1h0M140.7 88.7h0M165.1 119.7h0M49.8 133.3h0M70.8 32.6h0M81.7 21.1h0M128.4 32.9h0M19.4 42.5h0M88.9 39.3h0M55.7 97.9h0M3.5 93.9h0M112.1 93.3h0M39.2 68.4h0M8.1 98.1h0M85.8 52.8h0M108.6 3.4h0M21.6 38.4h0M158.0 21.1h0M76.4 69.6h0M95.3 85.3h0M159.6 115.2h0M125.4 47.0h0M138.8 26.4h0M1.0 0.1h0M68.4 99.8h0M13.3 103.8h0M148.8 11.7h0M175.0 118.0h0M101.9 71.9h0M21.4 10.9h0M15.6 108.6h0M68.8 46.0h0M20.1 93.5h0M9.5 46.9h0M27.4 16.7h0M165.2 9.0h0M52.5 20.3h0M7.3 67.0h0M174.2 56.8h0M70.3 127.7h0M167.8 21.8h0M105.5 88.1h0M120.9 36.8h0M104.5 67.8h0M141.6 113.4h0M97.3 13.4h0M91.7 111.0h0M123.3 113.4h0M16.2 30.3h0M145.5 9.6h0M1.6 96.6h0M0.4 125.7h0M112.5 33.8h0M147.4 42.0h0M89.9 29.3h0M72.7 77.4h0M128.4 116.3h0M109.3 77.6h0M186.3 67.2h0M132.5 104.4h0M120.0 45.5h0M143.1 22.2h0M33.7 40.2h0M107.7 40.5h0M144.7 116.8h0M72.4 75.3h0M121.4 3.1h0M8.7 42.8h0M89.0 71.3h0M47.3 6.1h0M99.0 23.6h0M99.9 35.8h0M8.3 43.0h0M25.9 27.5h0M121.3 36.5h0M41.7 94.7h0M142.0 133.9h0M8.0 97.2h0M83.3 60.6h0M76.0 45.8h0M85.6 87.5h0M22.6 50.9h0M37.4 25.2h0M157.8 5.9h0M44.4 107.9h0M62.1 47.0h0M91.3 78.3h0M123.6 3.1h0M145.6 92.8h0M106.8 122.7h0M0.1 16.2h0M92.1 35.5h0M134.4 124.6h0M169.0 44.4h0M10.3 69.0h0M41.3 74.3h0M86.2 32.7h0M131.9 74.6h0M152.7 7.7h0M20.3 90.2h0M56.7 78.1h0M65.9 32.2h0M181.9 71.4h0M17.1 7.0h0M73.2 51.5h0M109.9 92.7h0M163.5 72.5h0M21.5 105.7h0M121.6 107.7h0M55.5 81.9h0M35.5 76.1h0M102.7 73.1h0M11.6 18.7h0M187.4 130.1h0M139.7 98.7h0M109.9 14.3h0M25.4 21.7h0M47.8 96.4h0M112.0 12.0h0M106.8 72.4h0M92.9 47.1h0M122.9 128.1h0M82.1 9.1h0M22.9 28.3h0M159.8 5.0h0M36.3 40.2h0M174.8 128.2h0M107.9 25.3h0M61.5 21.5h0M110.8 59.9h0M57.5 67.3h0M3.1 48.7h0M123.1 65.1h0M98.0 20.3h0M185.0 111.2h0M102.2 3.7h0M89.1 18.3h0M3.6 89.5h0M141.7 127.4h0M51.4 61.0h0M38.9 74.9h0M176.1 122.9h0M117.9 13.9h0M130.9 83.1h0M126.2 99.7h0M52.0 57.7h0M113.5 16.9h0M64.7 73.8h0M176.6 122.0h0M108.3 48.2h0M35.6 131.5h0M53.3 3.6h0M102.0 82.6h0M85.5 41.1h0M7.0 113.6h0M36.3 49.9h0M140.0 60.8h0M39.3 31.3h0M111.1 48.6h0M9.4 98.0h0M98.4 17.9h0M171.5 0.8h0M91.9 30.2h0M126.9 71.4h0M127.6 30.4h0M9.9 58.0h0M3.5 131.3h0M129.7 127.0h0M122.4 103.3h0M123.8 85.0h0M22.9 108.2h0M187.6 52.5h0M50.8 24.5h0M115.5 19.7h0M44.6 66.5h0M87.7 66.2h0M47.1 88.9h0M150.2 41.0h0M119.6 125.9h0M8.5 84.2h0M35.9 18.1h0M82.5 75.9h0M65.8 49.4h0M98.6 73.0h0M100.7 27.9h0M93.6 106.7h0M182.7 28.8h0M100.5 30.2h0M26.0 96.8h0M8.0 81.4h0M99.3 61.9h0M30.6 57.2h0M106.2 80.7h0M52.9 36.0h0M112.9 103.8h0M18.5 78.8h0M137.9 97.8h0M6.0 32.7h0M94.0 21.0h0M11.4 131.8h0M139.9 114.6h0M117.8 77.6h0M99.4 78.9h0M167.6 44.1h0M157.7 12.7h0M80.3 13.6h0M73.5 102.7h0M167.6 78.9h0M76.8 21.6h0M118.9 54.8h0M6.2 83.0h0M169.2 69.2h0M31.1 97.7h0M4.1 61.4h0M59.1 7.3h0M74.3 108.4h0M116.6 36.9h0M84.3 61.2h0M114.5 119.7h0M59.4 1.3h0M35.7 97.5h0M98.0 85.5h0M146.7 55.8h0M134.7 100.5h0M189.6 79.9h0M4.2 94.9h0M102.8 87.1h0M55.3 54.3h0M112.1 38.4h0M84.7 65.0h0M15.0 89.8h0M185.4 88.3h0M116.4 9.7h0M125.6 22.0h0M164.1 76.8h0M44.7 73.6h0M44.8 30.5h0M8.3 112.2h0M8.5 133.9h0M174.3 18.7h0M35.5 26.1h0M153.3 67.8h0M159.8 124.8h0M30.0 77.9h0M78.3 89.0h0M16.6 126.6h0M58.5 23.8h0M26.2 32.8h0M39.9 70.0h0M57.3 27.6h0M93.7 56.4h0M99.2 24.4h0M20.7 44.7h0M176.5 103.6h0M87.3 59.0h0M159.0 22.9h0M85.4 131.1h0M110.2 73.7h0M42.7 37.3h0M25.0 40.2h0M176.7 38.7h0M146.1 111.5h0M120.7 25.8h0M10.6 57.3h0M153.3 14.9h0M146.2 121.3h0M132.6 30.4h0M174.1 47.9h0M4.2 0.9h0M122.7 0.1h0M147.4 5.6h0M58.2 61.3h0M45.5 105.8h0M21.8 105.8h0M40.3 64.1h0M46.1 124.2h0M4.7 121.1h0M16.9 62.1h0M40.6 48.1h0M101.9 10.1h0M28.5 51.4h0M146.2 101.0h0M104.2 18.6h0M11.8 16.9h0M73.7 32.9h0M124.5 47.7h0M145.0 106.2h0M162.3 19.1h0M13.3 81.5h0M131.3 55.6h0M6.8 128.2h0M135.5 26.6h0M126.7 110.9h0M80.2 48.9h0M20.4 120.6h0M3.7 52.0h0M121.0 79.6h0M27.5 56.1h0M108.9 64.0h0M51.7 40.4h0M47.1 114.2h0M70.5 86.3h0M80.1 25.6h0M111.5 3.5h0M83.3 43.9h0M146.1 23.2h0M110.6 17.7h0M173.9 12.0h0M169.7 19.0h0M19.6 55.6h0M104.9 82.0h0M16.3 54.3h0M86.2 84.8h0M39.9 21.9h0M128.5 51.2h0M24.2 87.4h0M26.4 126.9h0M101.1 3.6h0M88.1 60.4h0M21.6 85.3h0M124.0 57.3h0M144.4 47.4h0M92.2 24.7h0M123.6 107.0h0M166.3 52.5h0M126.0 45.2h0M127.5 78.5h0M77.0 53.1h0M122.9 4.4h0M57.4 45.0h0M96.6 73.0h0M90.7 94.1h0M139.4 125.5h0M27.8 67.4h0M155.8 90.9h0M150.3 35.3h0M117.0 108.7h0M9.7 2.1h0M65.0 96.9h0M11.1 24.7h0M120.2 31.7h0M141.7 7.4h0M126.0 33.3h0M130.2 92.7h0M107.2 48.0h0M179.3 24.7h0M112.4 81.8h0M43.2 105.0h0M139.3 89.8h0M72.1 40.2h0M55.9 121.2h0M16.7 128.0h0M75.9 46.8h0M46.0 30.6h0M11.5 98.8h0M111.6 56.1h0M170.3 87.7h0M153.9 86.8h0M135.8 92.1h0M15.3 101.8h0M40.0 36.4h0M148.8 41.8h0M87.4 50.0h0M111.3 103.0h0M132.7 123.4h0M131.0 80.9h0M115.7 80.5h0M169.6 121.0h0M116.7 63.5h0M3.9 94.1h0M103.2 43.0h0M40.8 43.9h0M115.6 50.1h0M100.0 84.2h0M83.2 62.9h0M133.8 32.0h0M95.1 1.3h0M32.8 14.3h0M167.3 93.8h0M77.5 46.8h0M6.3 100.2h0M20.5 101.4h0M113.8 120.1h0M50.3 68.4h0M30.4 57.8h0M2.9 33.5h0M34.4 57.4h0M101.7 90.3h0M75.7 126.7h0M80.3 73.3h0M132.2 38.2h0M118.2 113.5h0M133.9 21.1h0M88.4 57.2h0M69.4 5.4h0M66.6 47.6h0M136.2 65.8h0M56.7 88.2h0M100.5 55.4h0M187.8 34.7h0M166.5 11.8h0M95.8 72.5h0M179.8 31.8h0M146.8 122.3h0M18.6 131.8h0M180.2 17.0h0M103.6 24.5h0M111.7 21.8h0M116.7 23.3h0M19.9 51.5h0M31.3 21.3h0M77.4 10.0h0M45.8 105.9h0M150.7 22.5h0M114.5 22.6h0M118.8 38.0h0M76.9 62.4h0M17.9 97.4h0M171.7 22.2h0M62.8 28.8h0M97.1 16.1h0M178.9 51.5h0M111.0 126.4h0M129.0 8.5h0M149.4 63.2h0M103.7 48.7h0M171.2 35.8h0M4.6 115.2h0M110.1 47.6h0M159.3 114.7h0M185.3 127.6h0M7.4 6.6h0M104.8 20.1h0M61.3 62.8h0M3.5 93.2h0M149.6 74.0h0M58.5 29.7h0M20.1 48.0h0M23.1 103.1h0M76.7 7.8h0M139.5 42.8h0M100.0 35.6h0M42.7 39.0h0M51.9 77.8h0M127.8 130.1h0M49.1 0.4h0M101.4 35.7h0M16.9 12.6h0M118.2 70.0h0M122.1 104.3h0M23.8 66.5h0M5.8 91.1h0M64.9 110.8h0M46.6 16.3h0M40.6 130.4h0M36.5 67.7h0M133.9 25.9h0M47.4 97.4h0M159.6 56.1h0M15.8 74.0h0M24.1 53.1h0M117.4 59.0h0M17.7 17.3h0M59.4 91.4h0M51.6 109.2h0M142.5 37.7h0M121.5 70.0h0M6.7 67.5h0M86.8 11.9h0M50.6 109.0h0M72.8 41.5h0M153.1 45.6h0M124.3 68.8h0M60.4 50.0h0M11.2 65.5h0M139.6 37.3h0M31.2 53.2h0M154.3 108.7h0M69.7 89.9h0M132.3 99.2h0M47.0 100.8h0M52.0 47.2h0M178.0 5.8h0M136.9 54.9h0M42.8 65.6h0M47.4 9.2h0M119.5 14.8h0M124.4 54.1h0M30.6 90.9h0M38.8 87.0h0M73.3 31.2h0M136.9 81.9h0M120.0 65.5h0M120.6 1.7h0M175.1 7.6h0M99.5 84.2h0M12.0 5.3h0M24.2 130.1h0M26.7 0.1h0M20.4 52.2h0M6.8 16.2h0M42.5 90.3h0M126.3 15.2h0M134.6 109.2h0M70.4 24.3h0M67.0 113.4h0M100.0 21.2h0M135.4 1.5h0M128.6 127.7h0M35.0 11.5h0M161.5 124.5h0M169.5 132.3h0M15.3 84.9h0M137.1 31.0h0M106.1 76.0h0M24.5 26.2h0M80.6 117.3h0M45.7 131.8h0M141.4 9.4h0M183.7 130.6h0M117.6 44.2h0M53.2 80.1h0M39.1 98.7h0M188.3 56.3h0M45.1 120.9h0M117.2 25.2h0M101.1 64.5h0M174.9 89.3h0M174.6 133.2h0M133.7 32.5h0M113.0 11.2h0M50.9 53.0h0M135.2 12.4h0M158.2 113.8h0M17.6 96.4h0M137.3 126.1h0M115.1 24.6h0M65.9 62.6h0M19.2 20.4h0M66.0 6.0h0M47.0 74.7h0M95.1 92.0h0M156.2 19.5h0M19.3 90.3h0M77.9 4.4h0M124.0 74.0h0M25.3 86.6h0M1.7 110.1h0M69.0 94.7h0M36.8 47.0h0M62.5 87.3h0M49.0 19.1h0M44.4 132.1h0M116.2 22.0h0M90.1 17.2h0M166.5 12.7h0M54.6 62.6h0M88.1 10.3h0M134.2 123.3h0M58.3 21.0h0M128.0 34.3h0M127.3 41.8h0M80.3 10.4h0M60.1 4.3h0M170.3 9.3h0M44.1 45.7h0M75.5 97.4h0M86.9 81.0h0M2.7 95.0h0M22.6 92.9h0M78.5 23.0h0M157.9 73.6h0M176.8 60.4h0M184.8 117.8h0M179.1 54.1h0M166.0 97.3h0M162.8 14.7h0M66.9 13.9h0M139.6 130.8h0M37.0 44.9h0M133.2 99.8h0M136.8 82.4h0M22.3 15.4h0M179.6 80.7h0M110.4 74.8h0M59.8 86.1h0M53.1 67.8h0M144.8 93.8h0M91.5 65.2h0M99.6 6.6h0M111.3 7.2h0M79.5 82.5h0M101.1 110.6h0M68.8 20.8h0M43.9 94.6h0M117.6 19.3h0M141.6 92.6h0M125.3 23.2h0M131.8 38.2h0M108.4 52.6h0M119.6 40.1h0M189.9 10.6h0M176.9 11.8h0M125.5 122.5h0M182.1 52.9h0M150.5 11.6h0M17.7 86.1h0M28.9 82.4h0M5.0 44.4h0M25.8 68.8h0M76.1 117.6h0M93.6 42.1h0M172.6 130.5h0M55.3 29.0h0M55.3 12.2h0M137.3 101.9h0M104.2 95.8h0M87.9 70.3h0M150.5 31.2h0M86.1 56.3h0M183.7 126.5h0M113.2 14.3h0M176.1 28.7h0M133.0 37.7h0M99.2 102.0h0M160.8 71.4h0M97.4 12.5h0M134.2 97.7h0M117.0 6.4h0M169.0 95.9h0M142.5 74.8h0M106.6 15.1h0M132.8 11.0h0M129.8 28.0h0M27.8 95.0h0M22.7 19.8h0M79.2 88.2h0M132.3 3.1h0M60.0 120.3h0M71.5 80.4h0M92.3 42.2h0M13.6 120.0h0M94.5 29.6h0M79.3 10.8h0M114.2 123.1h0M95.2 52.1h0M143.4 59.1h0M179.2 117.7h0M163.1 25.1h0M2.8 76.1h0M53.6 113.5h0M123.2 5.1h0M25.2 14.9h0M86.1 87.7h0M133.8 59.2h0M98.1 59.0h0M79.3 11.9h0M179.7 86.5h0M21.9 35.4h0M178.6 101.7h0M121.0 0.6h0M114.8 79.5h0M28.5 92.3h0M92.1 58.6h0M2.3 30.1h0M109.4 27.1h0M102.3 87.9h0M32.1 67.1h0M52.6 119.0h0M68.6 8.0h0M20.6 64.8h0M5.3 68.3h0M168.9 63.5h0M10.5 82.0h0M165.4 65.4h0M33.3 81.8h0M173.5 35.3h0M55.3 68.7h0M12.7 132.2h0M70.5 30.2h0M42.6 55.0h0M3.6 73.9h0M86.4 85.6h0M51.6 58.5h0M77.4 24.2h0M45.9 87.3h0M154.6 21.3h0M14.3 131.2h0M134.4 132.9h0M150.5 129.1h0M10.8 4.0h0M63.5 74.6h0M125.6 22.8h0M9.6 122.9h0M179.0 77.4h0M140.0 2.8h0M172.4 132.6h0M12.5 9.5h0M38.4 88.2h0M179.1 39.5h0M79.6 106.2h0M92.4 126.8h0M65.0 15.5h0M5.8 23.0h0M40.4 53.4h0M30.6 67.1h0M84.0 60.1h0M120.8 67.7h0M75.5 4.7h0M83.8 80.7h0M20.4 37.2h0M185.2 16.5h0M168.9 9.6h0M46.2 97.7h0M71.4 82.7h0M9.4 15.1h0M91.6 106.5h0M15.6 15.3h0M8.0 2.6h0M15.7 60.4h0M143.0 10.1h0M38.5 49.6h0M127.3 1.4h0M79.6 54.1h0M104.5 4.3h0M113.6 50.1h0M69.9 70.7h0M91.0 56.6h0M38.5 57.3h0M85.0 116.3h0M57.9 91.9h0M34.1 95.3h0M185.6 23.9h0M41.7 125.8h0M47.8 6.7h0M168.4 97.2h0M88.2 50.0h0M140.7 101.3h0M88.5 61.3h0M92.8 55.7h0M97.4 67.3h0M30.4 119.9h0M13.0 72.2h0M7.4 92.7h0M63.1 82.4h0M109.8 62.2h0M55.9 90.2h0M35.4 67.0h0M82.8 8.9h0M113.4 125.5h0M128.6 51.2h0M70.2 1.8h0M8.5 58.9h0M140.5 50.8h0M149.5 23.8h0M55.9 122.6h0M188.0 46.8h0M54.1 102.7h0M29.9 109.3h0M108.6 6.8h0M132.4 33.2h0M35.6 103.8h0M68.5 60.2h0M60.3 77.2h0M149.7 2.1h0M104.5 18.3h0M28.7 57.3h0M4.9 13.7h0M167.4 46.9h0M93.2 64.9h0M116.1 3.9h0M50.0 7.4h0M109.1 7.9h0M92.5 83.4h0M96.7 3.1h0M19.0 109.5h0M173.7 20.8h0M49.0 40.0h0M12.1 112.4h0M108.7 58.9h0M34.1 95.5h0M66.8 46.4h0M11.0 80.4h0M189.9 114.5h0M117.5 93.9h0M49.5 66.0h0M182.4 43.8h0M28.1 132.5h0M164.9 10.9h0M102.9 14.5h0M80.4 50.2h0M7.9 89.2h0M17.8 69.8h0M53.4 83.0h0M138.4 25.2h0M145.9 122.6h0M121.7 56.6h0M6.1 55.8h0M103.4 10.3h0" stroke="#2878a8" stroke-width="1.5" stroke-linecap="round" opacity="0.75"/><path d="M86.0 75.0h0M81.2 76.5h0M36.1 107.7h0M36.8 105.3h0M35.3 110.1h0M153.8 92.9h0M158.1 92.0h0M117.0 21.1h0M119.1 22.0h0M120.0 18.2h0M97.4 4.0h0M76.1 113.4h0M161.0 0.1h0M51.3 11.7h0M51.4 9.1h0M46.8 13.5h0M48.6 17.2h0M85.0 25.6h0M79.7 51.4h0M112.6 133.7h0M19.1 132.6h0M23.3 132.8h0M157.8 51.7h0M110.7 32.6h0M108.8 30.7h0M111.6 111.5h0M112.7 114.0h0M172.6 109.6h0M30.1 84.3h0M33.2 81.5h0M80.1 13.9h0M80.4 18.4h0M48.8 110.4h0M43.6 109.7h0M124.2 82.5h0M174.3 27.3h0M171.7 28.9h0M8.9 37.8h0M17.5 18.5h0M15.0 14.8h0M111.0 18.8h0M90.2 47.9h0M4.0 85.2h0M1.7 90.2h0M150.7 122.6h0M154.8 119.6h0M108.8 83.7h0M111.3 83.9h0M111.0 85.1h0M48.9 55.8h0M45.3 56.8h0M45.1 54.8h0M97.8 41.6h0M43.7 93.6h0M41.7 90.4h0M46.5 91.5h0M27.2 82.0h0M25.3 78.9h0M173.7 118.0h0M176.2 116.6h0M175.9 120.5h0M170.2 5.4h0M171.3 3.1h0M72.7 69.7h0M70.3 70.4h0M77.7 70.7h0M7.9 95.0h0M5.5 91.7h0M121.8 54.3h0M122.0 57.0h0M8.9 84.3h0M6.2 80.3h0M13.2 83.2h0M37.9 63.7h0M143.5 71.7h0M98.9 82.3h0M101.5 78.7h0M73.7 60.4h0M123.8 27.5h0M66.2 11.1h0M63.5 12.6h0M68.8 9.7h0M164.8 57.5h0M162.4 61.6h0M166.5 59.6h0M131.0 126.7h0M144.0 58.9h0M141.5 55.9h0M146.2 55.5h0M38.2 71.8h0M35.3 74.6h0M43.2 73.2h0M103.4 132.6h0M131.3 8.8h0M135.5 6.5h0M76.8 33.0h0M72.3 35.0h0M171.1 63.9h0M79.7 3.9h0M6.8 20.8h0M5.3 23.9h0M117.8 14.1h0M133.3 117.8h0M135.2 114.0h0M119.3 46.6h0M117.2 51.4h0M120.4 52.0h0M168.6 17.9h0M80.1 105.9h0M76.8 102.4h0M18.3 76.4h0M21.1 78.9h0M35.9 9.5h0M91.4 25.4h0M87.8 102.5h0M84.8 104.0h0M7.8 26.8h0M7.5 23.3h0M76.9 80.3h0M77.9 77.5h0M13.4 45.8h0M94.5 28.6h0M96.8 28.3h0M116.9 99.0h0M112.2 98.9h0M123.1 1.4h0M126.5 -0.8h0M8.6 124.6h0M13.5 123.7h0M103.0 79.9h0M99.5 81.8h0M113.6 49.0h0M110.7 47.8h0M136.2 39.7h0M111.3 84.8h0M114.4 85.9h0M75.6 78.0h0M80.2 80.3h0M155.2 80.9h0M152.9 82.2h0M157.3 78.3h0M29.4 48.7h0M26.5 49.5h0M139.5 31.9h0M140.4 27.8h0M107.3 79.3h0M174.0 117.8h0M1.8 34.8h0M19.5 72.6h0M173.4 21.6h0M170.1 21.9h0M64.3 66.3h0M142.0 52.3h0M124.2 132.6h0M124.5 127.6h0M126.0 136.5h0M110.3 61.9h0M113.8 63.9h0M105.9 62.3h0M56.8 103.9h0M94.0 102.4h0M41.6 88.1h0M171.5 92.1h0M172.5 89.0h0M170.0 95.3h0M177.6 119.9h0M178.7 117.9h0M140.4 49.3h0M158.9 75.4h0M161.2 73.3h0M4.2 69.1h0M3.6 71.3h0M6.2 66.1h0M110.6 40.9h0M114.6 43.2h0M27.3 99.9h0M64.3 61.5h0M62.5 58.1h0M121.7 70.2h0M80.1 56.3h0M188.3 50.3h0M74.0 70.9h0M89.6 97.9h0M147.4 24.0h0M151.2 24.5h0M152.1 41.9h0M152.7 44.8h0M136.3 79.7h0M75.9 29.1h0M80.7 28.4h0M147.1 105.5h0M85.5 33.0h0M79.0 103.4h0M82.2 106.8h0M76.1 100.8h0M10.1 76.6h0M18.5 64.3h0M14.7 63.3h0M21.3 64.7h0M36.7 91.4h0M37.7 95.3h0M99.9 21.1h0M98.5 24.3h0M12.7 10.0h0M10.6 5.8h0M149.0 16.3h0M148.1 12.7h0M143.4 74.4h0M38.0 98.0h0M33.8 96.2h0M63.0 110.8h0M118.1 17.6h0M112.6 12.1h0M26.4 27.5h0M21.2 28.1h0M60.4 105.7h0M57.4 105.1h0M61.6 108.7h0M83.8 74.7h0M85.0 69.9h0M116.2 21.2h0M113.0 20.2h0M95.1 19.0h0M99.6 18.9h0M98.8 17.4h0M25.9 64.0h0M23.4 68.7h0M68.6 62.0h0M45.3 76.3h0M23.3 110.5h0M23.5 114.6h0M14.5 4.3h0M3.1 26.7h0M100.3 15.8h0M97.2 15.5h0M107.9 44.5h0M137.1 105.5h0M134.1 103.3h0M78.2 83.6h0M78.2 79.8h0M77.7 58.2h0M75.8 61.6h0M75.7 59.2h0M82.3 50.4h0M86.1 47.0h0M46.4 113.1h0M50.1 112.5h0M20.0 121.9h0M24.8 120.1h0M70.1 73.2h0M42.1 100.0h0M18.7 106.2h0M15.4 104.5h0M17.4 110.6h0M4.5 23.0h0M5.9 19.8h0M67.7 78.5h0M86.4 42.0h0M177.4 131.0h0M132.6 75.0h0M36.4 117.9h0M22.9 92.6h0M95.3 39.6h0M98.4 36.8h0M95.7 42.8h0M176.1 89.4h0M87.9 10.2h0M100.9 6.1h0M97.4 5.2h0M5.5 105.9h0M0.5 119.5h0M105.6 86.4h0M106.4 82.6h0M98.9 127.5h0M21.3 58.4h0M22.0 53.6h0M22.1 55.5h0M92.9 29.6h0M92.7 32.5h0M137.4 114.8h0M150.4 31.9h0M146.4 33.9h0M97.0 50.8h0M95.2 46.2h0M149.5 8.2h0M148.0 3.9h0M114.1 18.0h0M114.1 15.7h0M114.4 23.2h0M26.9 52.7h0M31.9 50.5h0M116.4 39.6h0M79.5 11.5h0M76.7 16.2h0M116.1 5.3h0M168.0 123.8h0M170.7 122.7h0M72.0 6.6h0M34.9 73.6h0M76.0 79.6h0M70.9 81.4h0M129.0 115.6h0M127.0 116.8h0M107.8 87.0h0M172.3 2.7h0M167.6 4.3h0M127.2 40.5h0M129.8 41.2h0M113.1 4.3h0M108.7 4.9h0M98.2 73.5h0M96.9 71.1h0M42.9 39.1h0M91.7 1.5h0M90.4 -0.5h0M23.2 103.8h0M26.2 105.7h0M74.6 8.1h0M73.6 12.5h0M42.1 124.0h0M66.6 95.4h0M70.7 92.8h0M13.7 4.7h0M10.9 3.5h0M126.9 24.9h0M124.1 29.3h0M131.4 25.8h0M41.1 10.1h0M38.1 12.0h0M40.3 15.0h0M7.2 18.2h0M3.5 18.3h0M4.0 81.1h0M2.7 78.4h0M0.2 72.9h0M131.3 106.7h0M93.2 75.6h0M90.3 78.8h0M94.7 86.6h0M129.1 5.4h0M130.7 3.7h0M74.5 95.9h0M76.6 100.5h0M38.9 75.5h0M37.3 73.5h0M140.6 36.0h0M71.6 89.7h0M150.2 124.3h0M146.5 126.4h0M9.3 95.6h0M36.8 47.8h0M162.6 22.9h0M164.1 18.2h0M145.4 131.5h0M103.7 107.2h0M167.3 58.0h0M51.3 76.2h0M50.9 79.1h0M91.6 49.0h0M127.3 0.5h0M75.2 7.7h0M75.2 10.5h0M74.5 10.6h0M102.4 90.4h0M143.2 41.5h0M168.4 8.5h0M168.1 11.5h0M171.8 6.8h0M170.8 83.6h0M43.2 52.0h0M44.4 48.9h0M121.2 47.4h0M118.7 45.7h0M40.6 24.1h0M103.8 91.1h0M29.6 50.0h0M1.8 67.3h0M6.5 65.8h0M144.7 2.8h0M81.7 129.0h0M82.7 124.0h0M154.4 9.4h0M157.9 6.1h0M99.8 1.4h0M101.8 0.1h0M117.1 46.2h0M113.1 46.1h0M21.7 112.2h0M18.2 113.7h0M102.8 5.7h0M100.3 3.1h0M99.4 3.4h0M188.6 98.9h0M192.2 98.7h0M47.6 108.2h0M51.2 108.5h0M42.3 108.5h0M143.8 117.5h0M146.7 113.7h0M28.8 49.0h0M176.5 128.0h0M178.6 129.9h0M39.3 84.3h0M179.7 88.2h0M88.6 17.3h0M86.0 15.1h0M139.9 48.3h0M140.6 50.6h0M53.1 17.9h0M65.8 94.3h0M67.7 96.0h0M69.6 90.6h0M14.9 86.9h0M11.3 89.9h0M114.2 60.1h0M112.2 63.7h0M125.1 35.9h0M127.7 32.8h0M112.7 116.1h0M110.1 120.2h0M18.9 120.1h0M21.2 120.4h0M29.6 9.7h0M27.8 13.8h0M25.3 6.4h0M185.5 133.0h0M12.6 61.9h0M98.4 78.3h0M98.0 12.9h0M31.7 87.0h0M28.9 82.3h0M29.6 49.7h0M20.7 55.3h0M107.2 9.1h0M96.8 41.3h0M46.9 55.5h0M111.9 22.8h0M29.4 130.0h0M25.5 126.4h0M43.5 106.8h0M45.7 110.1h0M5.4 14.8h0M2.3 10.9h0M8.8 15.8h0M14.9 35.0h0M13.1 38.3h0M49.1 49.3h0M45.8 52.2h0M63.4 15.7h0M67.1 17.1h0M60.1 14.6h0M42.3 13.3h0M38.9 17.4h0M98.8 70.6h0M94.3 73.6h0M69.5 80.1h0M70.7 84.7h0M10.6 24.6h0M13.0 25.4h0M54.3 91.1h0M158.0 44.0h0M149.8 86.1h0M153.8 87.3h0M110.2 0.7h0M108.0 4.4h0M173.6 110.0h0M83.7 100.7h0M81.6 96.4h0M158.7 128.2h0M157.7 123.8h0M155.2 130.9h0M18.4 43.4h0M170.4 124.7h0M165.9 124.9h0M73.7 104.3h0M146.9 43.4h0M123.8 50.5h0M119.8 51.7h0M87.8 103.3h0M85.7 107.3h0M109.2 34.4h0M106.0 37.6h0M82.2 82.8h0M85.3 80.8h0M6.7 93.6h0M2.9 93.8h0M1.6 95.4h0M67.8 40.5h0M115.9 16.2h0M118.6 21.0h0M113.6 18.6h0M20.7 105.5h0M23.6 101.9h0M20.4 108.5h0M3.9 72.0h0M2.9 75.9h0M49.9 10.2h0M52.4 9.2h0M30.9 100.6h0M31.4 97.5h0M35.9 102.3h0M68.9 105.5h0M67.6 102.4h0M41.1 85.8h0M42.9 84.2h0M104.5 77.0h0M182.6 26.2h0M184.3 24.4h0M126.6 9.1h0M129.8 13.1h0M132.0 8.2h0M129.1 11.5h0M126.2 11.6h0M128.1 8.1h0M92.3 10.5h0M97.1 8.6h0M96.7 13.3h0M48.7 29.4h0M163.1 125.3h0M164.7 120.0h0M108.6 120.4h0M181.9 3.2h0M130.8 69.6h0M185.3 111.7h0M186.0 115.1h0M170.7 32.4h0M167.5 31.9h0M128.2 61.0h0M129.4 63.4h0M49.4 70.0h0M62.6 97.3h0M102.6 10.5h0M83.9 6.0h0M188.2 51.9h0M64.2 105.9h0M59.3 103.9h0M80.7 21.2h0M65.0 124.7h0M67.6 123.8h0M138.0 127.2h0M137.3 122.0h0M137.8 90.6h0M138.9 93.0h0M100.1 72.4h0M99.9 74.9h0M98.8 70.5h0M121.3 14.0h0M117.2 15.1h0M123.4 11.0h0M4.6 102.2h0M53.5 6.1h0M182.7 82.0h0M34.7 2.0h0M116.3 57.6h0M113.8 62.1h0M187.1 38.7h0M187.4 42.8h0M29.9 127.0h0M120.4 0.4h0M72.0 0.2h0M67.0 0.3h0M108.0 7.6h0M110.5 8.6h0M5.2 72.2h0M6.1 69.3h0M157.5 106.9h0M160.2 108.9h0M159.8 107.8h0M163.3 20.3h0M158.0 20.2h0M160.6 16.7h0M84.8 40.0h0M153.8 107.4h0M152.8 110.2h0M12.3 89.4h0M14.5 87.1h0M35.3 93.0h0M32.6 89.3h0M33.6 89.8h0M77.4 52.9h0M93.5 51.5h0M43.9 82.9h0M98.0 42.3h0M19.6 44.0h0M182.9 103.7h0M184.0 109.1h0M9.5 101.4h0M10.8 105.3h0M45.9 43.9h0M162.8 71.2h0M150.0 122.8h0M146.0 124.6h0M178.3 120.9h0M176.3 122.0h0M180.7 122.4h0M187.5 82.4h0M188.5 78.4h0M7.9 7.8h0M180.9 26.0h0M104.6 0.3h0M102.2 1.3h0M100.9 2.1h0M141.4 54.0h0M139.3 55.4h0M138.6 52.8h0M108.4 54.0h0M107.8 49.7h0M121.2 45.0h0M117.1 42.8h0M123.2 42.9h0M6.4 12.4h0M69.5 58.5h0M70.1 60.7h0M165.8 83.4h0M163.0 80.5h0M125.3 90.8h0M127.1 89.2h0M65.5 57.2h0M66.1 60.6h0M110.0 33.7h0M107.7 35.2h0M114.6 34.5h0M4.1 101.4h0M1.6 106.1h0M18.6 6.5h0M22.7 6.2h0M21.9 5.5h0M144.2 10.1h0M131.1 111.0h0M133.6 114.3h0M97.6 72.3h0M99.5 74.9h0M165.8 125.1h0M5.1 25.6h0M41.5 63.5h0M45.7 61.1h0M53.5 67.7h0M54.2 71.9h0M56.6 72.1h0M64.8 59.0h0M173.9 90.7h0M171.3 88.7h0M91.0 7.9h0M129.3 126.1h0M132.5 127.0h0M11.9 13.6h0M13.3 16.4h0M9.7 9.7h0M61.3 62.6h0M64.3 63.0h0M66.5 62.8h0M56.9 2.0h0M54.4 0.3h0M21.5 113.4h0M22.9 117.1h0M25.2 109.9h0M46.4 109.4h0M42.5 110.2h0M42.6 3.0h0M123.1 5.3h0M124.9 10.0h0M125.4 1.4h0M131.4 99.8h0M128.5 99.7h0M63.8 57.2h0M14.4 133.1h0M112.4 73.2h0M13.0 99.8h0M13.8 103.4h0M103.3 45.1h0M106.2 45.5h0M101.7 42.7h0M13.8 102.1h0M8.5 101.3h0M15.0 104.7h0M151.3 30.0h0M156.1 31.0h0M26.7 27.0h0M60.7 15.4h0M124.7 51.9h0M119.3 52.1h0M128.1 8.8h0M22.8 84.9h0M25.8 83.6h0M1.3 55.0h0M100.9 6.5h0M98.6 8.9h0M103.4 9.9h0M14.8 115.9h0M72.9 30.2h0M72.7 25.5h0M28.1 21.8h0M45.9 86.7h0M152.6 79.4h0M36.3 15.0h0M37.6 17.4h0M32.9 14.3h0M28.4 76.1h0M31.6 76.2h0M161.8 38.8h0M50.1 39.8h0M132.9 123.9h0M135.1 121.4h0M47.8 74.7h0M50.1 72.2h0M27.3 54.1h0M163.9 4.0h0M162.9 1.4h0M165.5 1.7h0M105.8 45.5h0M89.1 67.9h0M88.5 65.0h0M177.7 56.4h0M178.0 61.0h0M23.9 80.3h0M21.5 81.7h0M183.9 7.8h0M26.4 90.6h0M21.6 89.2h0M70.7 15.1h0M90.4 13.5h0M30.4 46.7h0M33.4 45.0h0M123.4 49.8h0M123.6 52.1h0M120.3 49.0h0M84.4 38.3h0M2.0 63.8h0M4.3 62.4h0M1.6 67.8h0M68.3 49.0h0M72.1 50.8h0M162.4 10.8h0M157.2 9.7h0M18.6 30.9h0M17.3 34.1h0M173.2 97.6h0M91.8 17.7h0M107.6 20.7h0M39.6 86.2h0M180.3 82.8h0M184.2 80.1h0M7.7 67.5h0M3.8 67.2h0M7.2 70.3h0M165.1 125.6h0M22.5 12.8h0M18.1 12.9h0M69.3 49.4h0M67.2 47.8h0M68.0 45.4h0M166.5 129.9h0M170.6 127.4h0M106.6 36.0h0M47.7 42.3h0M175.0 40.6h0M93.0 12.7h0M97.6 10.9h0M177.2 108.0h0M181.4 108.8h0M152.5 43.7h0M79.7 11.1h0M83.4 11.4h0M77.0 9.2h0M6.6 56.4h0M109.1 16.9h0M33.5 87.9h0M147.8 89.7h0M151.1 86.2h0M147.6 84.5h0M21.6 18.8h0M20.8 23.5h0M19.2 23.1h0M17.7 118.5h0M15.1 114.9h0M144.1 24.4h0M81.3 5.6h0M83.4 7.2h0M37.5 71.4h0M119.1 63.8h0M121.1 68.0h0M155.4 125.6h0M172.5 12.2h0M173.1 8.6h0M168.9 13.2h0M70.3 61.0h0M74.8 60.2h0M29.3 70.5h0M42.6 47.0h0M70.1 41.7h0M68.4 37.8h0M68.6 44.1h0M38.0 50.7h0M140.0 40.6h0M142.1 41.9h0M184.1 125.1h0M179.7 122.0h0M38.1 107.8h0M40.1 106.4h0M111.6 42.7h0M114.1 39.8h0M9.6 38.3h0M7.6 39.7h0M76.7 80.1h0M78.9 81.0h0M78.3 73.2h0M75.0 72.4h0M76.1 73.8h0M110.5 106.7h0M113.5 107.7h0M109.7 109.2h0M5.6 64.4h0M68.5 59.5h0M79.6 53.8h0M82.5 55.8h0M132.5 105.6h0M128.7 106.5h0M9.4 63.7h0M11.5 67.1h0M12.3 67.4h0M92.9 98.5h0M95.9 98.7h0M100.3 4.5h0M102.3 8.1h0M23.9 74.1h0M63.4 55.0h0M65.5 57.4h0M3.6 98.6h0M4.0 101.6h0M-0.6 99.7h0M59.3 2.6h0M125.1 13.4h0M170.6 35.3h0M175.0 34.5h0M96.8 36.4h0M96.6 33.7h0M48.9 127.4h0M14.1 98.1h0M84.9 90.5h0M82.0 93.7h0M152.5 61.9h0M147.9 63.7h0M174.6 111.9h0M176.4 108.2h0M25.5 107.9h0M26.9 110.7h0M26.6 110.1h0M161.4 73.6h0M157.6 70.6h0M87.3 2.0h0M0.9 111.3h0M-3.3 108.5h0M170.5 53.2h0M172.6 52.0h0M108.3 42.4h0M17.4 68.3h0M64.5 131.0h0M63.5 134.1h0M61.0 130.4h0M116.2 93.5h0M114.3 96.0h0M30.0 76.0h0M26.6 76.8h0M27.9 81.0h0M11.3 59.0h0M49.3 29.2h0M44.9 31.4h0M53.4 28.6h0M39.8 99.9h0M43.2 102.1h0M24.1 96.1h0M94.1 60.1h0M97.9 60.2h0M97.4 60.1h0M33.5 55.5h0M36.2 58.3h0M36.1 51.2h0M130.7 39.3h0M128.9 41.4h0M186.6 78.9h0M74.1 133.5h0M42.0 19.7h0M38.9 18.0h0M104.1 118.0h0M101.2 13.8h0M98.3 11.1h0M101.3 16.4h0M94.3 14.3h0M97.6 15.4h0M172.9 9.0h0M45.4 114.3h0M43.1 113.8h0M83.9 108.3h0M0.7 74.2h0M4.9 72.8h0M53.5 74.1h0M51.4 75.3h0M39.6 0.6h0M79.1 128.2h0M81.9 131.3h0M26.1 40.7h0M21.8 40.2h0M138.6 111.4h0M10.7 102.4h0M96.1 19.5h0M91.2 27.9h0M87.7 28.9h0M10.5 105.7h0M12.4 101.8h0M136.9 18.4h0M138.9 20.0h0M14.7 9.8h0M4.3 46.5h0M112.3 34.8h0M109.5 38.9h0M108.6 34.5h0M40.3 55.2h0M41.6 57.1h0M109.5 33.0h0M108.7 37.2h0M108.3 37.6h0M110.6 34.5h0M110.1 29.8h0M110.6 33.2h0M110.6 43.4h0M109.5 48.7h0M108.5 45.1h0M165.8 89.1h0M98.4 81.2h0M106.0 74.1h0M109.3 41.8h0M112.8 42.3h0M34.0 96.0h0M35.4 91.4h0M31.4 96.5h0M96.3 70.4h0M95.8 66.2h0M146.0 38.6h0M140.8 38.9h0M104.3 47.7h0M98.9 47.9h0M101.8 45.3h0M120.5 73.5h0M119.9 78.5h0M118.2 72.8h0M74.4 83.1h0M16.9 115.1h0M87.4 21.9h0M86.3 26.6h0M0.7 75.6h0" stroke="#d4d26a" stroke-width="2.45" stroke-linecap="round"/></g></g></g><g transform="translate(4,141)" clip-path="url(#cpB)"><g filter="url(#soft)"><g><rect width="190" height="134" fill="#06122a"/><rect width="190" height="134" filter="url(#tz)" mask="url(#mAB)"/><path d="M97.8 79.0h0M92.6 38.6h0M82.6 31.4h0M17.5 132.4h0M3.8 22.2h0M117.2 97.7h0M51.9 78.7h0M10.4 44.3h0M43.2 92.3h0M188.3 114.6h0M142.5 57.6h0M42.3 83.6h0M146.7 43.7h0M1.3 64.5h0M87.1 78.1h0M29.6 84.4h0M131.1 74.0h0M28.7 58.5h0M32.7 120.9h0M126.1 124.7h0M111.7 64.3h0M129.8 23.9h0M68.7 21.5h0M55.1 105.2h0M162.0 44.6h0M92.1 71.4h0M98.9 38.9h0M149.1 38.6h0M20.7 115.7h0M31.5 35.8h0M60.2 121.1h0M114.1 15.7h0M6.5 91.5h0M1.9 23.1h0M184.5 122.7h0M115.2 81.0h0M93.1 58.8h0M36.6 58.3h0M119.0 17.2h0M72.2 103.8h0M174.0 71.1h0M107.6 22.9h0M9.3 101.7h0M111.1 53.5h0M36.5 80.2h0M117.0 83.9h0M66.8 23.2h0M55.5 4.2h0M59.2 95.7h0M49.4 114.0h0M169.7 123.8h0M93.4 126.0h0M103.6 133.3h0M107.1 88.4h0M109.2 78.4h0M122.8 56.2h0M136.1 15.7h0M76.0 101.8h0M140.2 49.2h0M7.7 31.9h0M83.5 29.5h0M70.4 49.1h0M187.7 18.3h0M135.5 44.6h0M11.6 100.9h0M39.1 47.7h0M63.8 107.2h0M78.0 121.5h0M16.1 95.5h0M14.9 70.8h0M187.1 122.4h0M121.6 27.7h0M23.0 93.9h0M84.3 55.2h0M60.8 122.1h0M61.1 79.2h0M64.9 61.9h0M21.5 83.2h0M73.8 58.7h0M146.5 53.7h0M95.8 33.6h0M96.8 37.4h0M111.2 130.1h0M98.1 15.1h0M144.2 88.2h0M141.8 43.3h0M86.7 17.8h0M59.3 2.3h0M109.1 28.4h0M123.2 18.0h0M26.1 98.3h0M175.0 5.6h0M101.8 1.8h0M141.2 76.3h0M33.8 73.3h0M46.7 81.8h0M22.9 70.1h0M130.6 122.5h0M104.9 62.6h0M31.8 99.1h0M34.3 89.5h0M98.1 75.1h0M143.2 25.5h0M113.5 44.9h0M173.6 2.6h0M69.9 28.6h0M11.4 5.1h0M35.6 61.9h0M82.8 2.8h0M41.8 84.7h0M99.6 27.2h0M20.1 83.0h0M70.5 54.2h0M3.7 47.7h0M189.1 119.5h0M2.6 43.5h0M24.9 81.8h0M25.2 58.3h0M183.8 36.1h0M96.7 15.0h0M31.3 55.8h0M60.0 92.7h0M104.6 9.3h0M187.5 94.8h0M83.1 86.2h0M24.5 96.4h0M136.0 48.2h0M188.5 59.7h0M187.4 8.7h0M145.5 84.3h0M67.7 13.3h0M74.4 1.2h0M33.1 108.4h0M13.1 14.8h0M20.2 12.1h0M23.8 102.5h0M118.0 69.8h0M101.5 72.2h0M171.7 17.6h0M4.7 16.0h0M77.0 116.5h0M137.6 20.0h0M50.6 121.5h0M189.8 88.4h0M99.0 59.1h0M53.8 86.0h0M22.9 53.4h0M187.0 3.5h0M155.2 113.0h0M167.5 95.6h0M80.7 127.6h0M133.4 131.5h0M20.9 67.5h0M174.4 129.8h0M102.7 74.7h0M128.0 64.8h0M50.0 110.5h0M25.3 85.2h0M41.8 103.2h0M130.3 45.4h0M169.0 29.9h0M36.6 115.2h0M7.8 63.4h0M36.5 114.7h0M28.4 65.5h0M181.3 41.6h0M71.5 49.2h0M146.4 53.2h0M38.0 34.5h0M83.7 8.1h0M172.6 8.7h0M121.6 38.8h0M27.3 101.4h0M188.1 132.4h0M35.7 79.6h0M68.7 46.5h0M38.6 41.9h0M27.6 10.1h0M9.8 109.1h0M23.3 130.3h0M107.6 77.4h0M133.8 11.5h0M143.5 50.4h0M106.5 12.6h0M45.7 71.4h0M9.8 65.3h0M38.7 88.1h0M46.7 91.3h0M72.5 11.3h0M163.2 95.5h0M129.1 65.1h0M66.2 101.9h0M42.5 122.4h0M77.5 81.2h0M69.0 66.0h0M149.2 113.6h0M28.0 59.6h0M36.0 76.8h0M132.0 17.4h0M122.3 80.8h0M94.3 84.9h0M159.5 65.4h0M67.6 54.7h0M14.6 47.6h0M22.3 47.9h0M114.6 82.1h0M24.6 21.2h0M38.1 95.9h0M91.1 31.6h0M12.7 109.4h0M9.9 73.7h0M155.6 15.3h0M121.1 54.6h0M72.7 51.2h0M134.3 5.3h0M80.9 74.3h0M35.1 125.5h0M98.4 12.6h0M73.4 57.4h0M68.4 6.9h0M132.0 117.8h0M77.8 50.2h0M119.8 33.7h0M13.7 50.7h0M57.0 66.6h0M61.1 94.9h0M23.9 104.8h0M188.0 37.6h0M186.1 117.9h0M98.4 82.8h0M173.3 21.8h0M35.3 45.5h0M86.5 57.9h0M52.9 75.5h0M138.7 123.2h0M85.8 65.4h0M166.8 23.7h0M35.3 117.9h0M116.9 45.3h0M8.0 92.5h0M9.4 72.1h0M13.9 124.0h0M71.2 42.8h0M5.1 101.3h0M113.7 36.3h0M33.9 91.3h0M175.0 54.7h0M177.0 96.9h0M50.6 86.6h0M10.7 34.7h0M39.5 51.7h0M159.3 62.6h0M91.9 80.7h0M40.7 61.3h0M82.3 80.0h0M124.2 67.3h0M67.3 85.9h0M184.0 9.3h0M107.7 26.4h0M133.2 90.8h0M7.8 52.5h0M38.6 56.7h0M73.6 129.8h0M145.4 54.3h0M25.9 47.9h0M128.5 88.2h0M78.3 87.3h0M20.8 73.0h0M48.2 33.3h0M29.2 56.8h0M11.4 38.6h0M40.2 83.9h0M58.6 64.8h0M78.9 114.3h0M38.8 113.3h0M25.9 112.2h0M149.3 106.0h0M41.2 115.6h0M2.2 111.1h0M110.8 70.1h0M40.5 49.3h0M105.5 61.3h0M108.3 10.4h0M19.6 11.0h0M13.7 79.0h0M75.9 28.7h0M117.8 47.8h0M5.7 7.1h0M52.4 65.9h0M89.5 73.2h0M23.6 133.7h0M50.6 68.0h0M99.8 89.5h0M24.5 125.3h0M111.4 1.5h0M90.5 88.5h0M124.9 36.3h0M121.7 22.0h0M163.0 132.3h0M39.3 96.1h0M83.4 32.7h0M96.9 63.0h0M119.2 104.6h0M88.2 11.3h0M44.8 79.9h0M71.7 120.2h0M7.9 97.0h0M119.0 19.1h0M70.7 94.4h0M67.3 58.5h0M9.2 132.1h0M47.0 80.9h0M56.4 24.0h0M177.8 49.7h0M25.8 58.8h0M25.4 87.3h0M15.2 37.7h0M43.1 50.5h0M32.3 126.4h0M53.6 120.6h0M51.1 107.7h0M185.5 46.7h0M5.1 80.1h0M188.6 2.8h0M37.7 87.1h0M103.4 4.8h0M79.1 68.7h0M16.7 17.5h0M132.4 82.0h0M17.6 76.3h0M89.2 47.7h0M82.6 108.1h0M112.0 69.6h0M90.6 87.5h0M155.1 23.6h0M2.9 121.0h0M38.9 45.2h0M98.1 78.5h0M73.2 4.5h0M156.2 26.7h0M94.7 111.1h0M80.5 70.7h0M76.7 66.0h0M142.4 107.6h0M176.1 56.9h0M122.4 45.9h0M117.5 128.9h0M74.5 39.3h0M166.2 2.6h0M22.1 90.3h0M173.7 117.4h0M186.0 100.0h0M160.3 38.2h0M23.4 60.3h0M54.5 102.1h0M19.0 3.6h0M164.2 119.0h0M90.9 82.9h0M91.8 4.5h0M79.0 75.5h0M99.2 32.3h0M130.3 78.3h0M152.2 86.8h0M60.6 35.7h0M103.4 12.4h0M82.9 10.2h0M50.4 11.6h0M116.2 104.1h0M139.9 72.8h0M112.0 74.7h0M19.5 120.8h0M132.1 40.3h0M110.8 105.7h0M167.7 26.3h0M7.1 12.5h0M47.3 64.6h0M129.7 7.9h0M102.4 5.0h0M165.6 100.0h0M117.5 19.3h0M127.0 14.5h0M112.9 66.1h0M90.0 12.5h0M40.6 39.9h0M176.2 114.5h0M105.8 78.3h0M162.3 39.9h0M125.0 51.2h0M120.9 52.6h0M21.2 107.1h0M4.0 111.9h0M22.0 108.6h0M100.1 78.3h0M111.1 7.9h0M74.7 99.6h0M98.8 72.3h0M147.9 32.2h0M127.7 20.3h0M77.2 41.9h0M55.5 130.3h0M68.4 1.6h0M145.0 103.7h0M20.3 104.4h0M43.0 116.8h0M39.8 90.4h0M67.8 116.8h0M75.6 31.6h0M71.1 67.1h0M104.7 72.5h0M71.6 69.0h0M67.2 100.6h0M45.1 105.3h0M66.3 101.8h0M160.2 21.3h0M188.6 22.8h0M89.4 55.2h0M138.4 110.8h0M125.8 17.9h0M100.5 83.3h0M166.3 129.7h0M184.8 5.9h0M9.4 32.2h0M120.4 111.3h0M88.1 85.1h0M49.7 81.0h0M150.4 10.3h0M10.1 111.8h0M10.1 5.3h0M15.0 47.9h0M83.8 54.5h0M117.5 60.2h0M21.6 50.0h0M38.8 28.7h0M117.0 24.1h0M151.2 6.8h0M144.1 87.8h0M101.2 16.0h0M18.9 104.4h0M166.2 8.4h0M79.5 105.9h0M29.5 12.7h0M103.4 2.8h0M107.1 56.8h0M110.0 103.7h0M138.0 32.6h0M112.7 92.7h0M153.6 96.9h0M68.1 123.2h0M116.9 49.7h0M98.4 19.7h0M126.8 3.5h0M145.5 93.9h0M121.3 36.9h0M103.2 63.6h0M173.4 0.4h0M71.9 34.1h0M139.7 50.3h0M149.3 27.0h0M147.5 65.8h0M64.6 107.8h0M106.5 10.8h0M62.6 115.2h0M11.3 49.6h0M176.0 6.7h0M92.2 14.0h0M23.0 105.3h0M134.3 90.7h0M112.6 68.2h0M45.4 76.4h0M162.3 99.7h0M135.1 12.5h0M41.7 0.8h0M77.9 12.5h0M70.8 52.2h0M28.0 69.4h0M98.8 55.9h0M34.5 99.9h0M48.3 70.5h0M71.4 59.2h0M74.5 77.7h0M185.2 131.9h0M134.6 83.1h0M164.6 83.6h0M169.1 42.9h0M68.0 110.7h0M9.8 23.5h0M24.2 105.4h0M50.5 20.7h0M74.8 58.6h0M21.6 78.7h0M97.1 130.8h0M97.9 53.7h0M162.8 28.2h0M22.0 59.6h0M117.3 22.7h0M174.4 31.9h0M33.7 74.5h0M169.6 66.3h0M88.0 29.1h0M181.9 114.9h0M116.9 66.9h0M120.6 23.8h0M172.0 56.5h0M112.6 56.8h0M64.7 104.7h0M62.2 0.2h0M82.1 22.6h0M69.6 11.5h0M178.8 97.8h0M32.1 14.8h0M68.1 38.4h0M2.7 118.7h0M154.7 114.2h0M121.4 12.6h0M53.6 87.1h0M2.1 111.6h0M79.6 30.0h0M21.5 82.3h0M161.8 47.2h0M82.9 3.1h0M0.3 15.6h0M142.1 68.3h0M62.2 79.0h0M155.9 8.8h0M132.9 89.8h0M12.2 94.0h0M133.1 56.6h0M126.3 113.4h0M90.6 24.7h0M67.1 109.1h0M68.9 10.5h0M115.9 114.2h0M89.6 67.4h0M19.2 29.4h0M90.2 33.8h0M15.2 47.1h0M189.4 70.6h0M52.7 2.4h0M135.0 54.2h0M134.5 66.0h0M134.9 83.9h0M4.9 38.9h0M136.7 88.4h0M101.2 81.3h0M45.0 115.9h0M83.5 20.3h0M5.0 61.3h0M122.5 77.4h0M187.4 20.0h0M118.5 123.4h0M130.1 115.3h0M84.3 49.2h0M167.8 70.6h0M137.3 30.5h0M44.8 7.2h0M40.3 73.4h0M151.9 96.2h0M53.6 52.4h0M51.5 22.0h0M139.3 44.3h0M170.2 22.2h0M182.6 34.8h0M123.3 6.7h0M52.9 31.1h0M39.3 10.8h0M65.2 33.6h0M17.7 77.3h0M166.6 3.7h0M18.4 18.5h0M125.6 49.3h0M177.0 45.0h0M70.7 79.1h0M105.0 49.1h0M26.6 48.1h0M131.7 37.4h0M43.9 15.6h0M107.7 5.8h0M98.5 100.0h0M76.2 77.3h0M55.2 104.6h0M21.7 5.0h0M169.4 132.1h0M106.2 30.5h0M181.0 18.8h0M152.9 68.0h0M18.3 104.4h0M107.0 14.5h0M93.3 61.5h0M129.3 130.5h0M12.9 112.9h0M93.4 58.8h0M161.5 12.0h0M1.5 109.6h0M25.8 107.9h0M66.4 76.9h0M45.0 101.8h0M34.7 78.2h0M114.6 73.8h0M121.1 62.3h0M45.1 80.0h0M44.4 69.2h0M55.2 114.9h0M102.1 13.5h0M145.1 106.2h0M118.5 67.0h0M15.7 34.4h0M158.0 21.8h0M79.5 15.6h0M139.8 29.2h0M0.2 69.0h0M106.6 84.1h0M63.9 66.1h0M34.2 34.3h0M110.4 26.9h0M175.6 119.1h0M129.3 68.1h0M19.4 129.9h0M163.4 90.7h0M117.4 110.2h0M76.4 43.9h0M74.8 73.4h0M33.6 105.0h0M121.6 121.0h0M27.8 78.0h0M64.9 67.5h0M43.0 77.1h0M182.1 55.0h0M142.1 21.8h0M71.6 85.6h0M72.7 73.3h0M152.1 32.7h0M90.3 126.4h0M53.2 20.9h0M92.4 58.9h0M23.8 109.6h0M149.7 115.0h0M175.1 87.8h0M88.9 53.4h0M142.2 63.4h0M167.8 31.4h0M81.9 109.6h0M15.0 99.9h0M124.3 17.6h0M18.6 94.1h0M106.1 68.0h0M29.7 73.8h0M167.2 18.0h0M68.2 42.8h0M11.1 82.7h0M88.1 8.9h0M188.4 117.1h0M33.5 8.5h0M175.7 62.8h0M52.0 24.1h0M9.7 100.5h0M66.7 60.2h0M152.3 30.8h0M135.0 25.3h0M156.0 128.4h0M175.5 85.2h0M10.8 20.5h0M120.9 94.0h0M70.3 3.7h0M110.6 60.1h0M36.5 88.9h0M123.8 54.3h0M0.9 62.8h0M117.9 28.6h0M21.9 63.2h0M185.9 127.3h0M45.1 121.0h0M130.3 73.3h0M102.6 75.1h0M166.6 116.9h0M164.8 89.5h0M156.9 20.3h0M133.6 60.6h0M52.5 107.7h0M111.7 130.7h0M150.6 43.1h0M35.1 88.6h0M48.1 33.8h0M131.1 41.3h0M158.0 39.5h0M89.7 108.0h0M49.1 105.5h0M17.1 76.6h0M64.5 109.8h0M114.9 60.7h0M134.9 45.8h0M34.5 86.0h0M144.4 18.4h0M175.5 26.3h0M106.2 45.6h0M49.2 2.5h0M103.7 62.1h0M136.1 126.2h0M60.7 0.0h0M165.2 101.6h0M8.7 82.0h0M88.2 7.1h0M64.6 106.4h0M42.0 107.2h0M87.8 21.1h0M33.4 43.7h0M99.2 115.5h0M35.2 37.3h0M25.6 93.3h0M133.7 92.3h0M148.0 55.6h0M88.7 18.6h0M78.7 56.4h0M85.1 73.5h0M42.5 25.3h0M53.5 49.9h0M189.3 64.1h0M135.0 80.2h0M88.8 44.2h0M51.6 54.8h0M176.3 28.0h0M90.6 6.3h0M157.2 18.2h0M8.0 98.6h0M9.6 69.1h0M164.6 82.6h0M20.5 3.9h0M44.9 57.8h0M36.6 82.3h0M37.4 6.3h0M96.2 32.5h0M169.7 111.3h0M106.6 12.8h0M115.8 75.8h0M7.3 81.5h0M103.3 75.5h0M184.2 110.9h0M107.9 41.5h0M24.0 98.2h0M176.5 128.8h0M88.3 7.0h0M34.4 76.9h0M89.3 77.4h0M89.9 62.1h0M131.9 54.8h0M154.9 113.5h0M93.5 60.7h0M188.1 1.0h0M42.5 53.3h0M113.6 94.7h0M126.8 70.8h0M19.3 75.1h0M121.0 95.9h0M10.9 132.1h0M112.7 21.4h0M56.5 5.8h0M114.2 5.8h0M55.1 107.8h0M155.2 12.6h0M88.2 84.1h0M37.0 104.3h0M104.3 103.7h0M172.7 109.3h0M177.9 24.4h0M179.2 104.9h0M189.3 101.1h0M147.0 39.6h0M18.9 7.1h0M40.2 90.9h0M64.6 106.7h0M141.9 100.3h0M74.1 70.0h0M34.6 81.8h0M176.4 79.8h0M29.2 113.8h0M31.4 2.8h0M35.3 77.4h0M122.5 124.7h0M132.5 8.2h0M131.5 91.0h0M176.7 29.0h0M66.7 124.5h0M16.9 104.2h0M153.3 68.9h0M2.6 42.5h0M86.1 13.0h0M189.8 109.9h0M7.8 1.9h0M94.0 62.0h0M91.2 7.9h0M121.1 30.6h0M96.3 39.4h0M83.8 79.3h0M121.6 21.6h0M180.8 120.5h0M97.2 85.1h0M130.3 132.6h0M144.6 92.9h0M15.6 45.1h0M65.3 96.2h0M75.9 104.4h0M38.7 127.4h0M184.6 74.2h0M76.1 83.2h0M105.9 54.4h0M128.5 102.6h0M23.7 107.3h0M2.0 53.8h0M117.9 8.3h0M6.9 61.0h0M171.0 51.4h0M79.9 17.2h0M48.2 41.4h0M78.5 35.1h0M93.6 67.2h0M11.7 83.4h0M143.6 119.6h0M132.0 127.5h0M108.7 70.4h0M73.5 74.8h0M135.9 38.0h0M181.6 61.5h0M132.1 19.8h0M174.7 84.3h0M126.0 15.9h0M62.8 46.1h0M99.7 6.6h0M166.7 17.4h0M123.8 10.8h0M29.7 76.1h0M74.3 10.1h0M122.3 54.4h0M42.9 131.7h0M73.4 121.4h0M4.8 24.3h0M71.5 59.2h0M22.3 98.9h0M158.6 56.3h0M179.9 109.7h0M116.7 17.6h0M26.5 78.7h0M124.7 77.2h0M98.4 67.5h0M66.4 112.6h0M187.4 38.2h0M38.9 38.9h0M121.0 38.5h0M0.3 90.8h0M122.4 20.7h0M91.0 56.7h0M96.0 51.0h0M57.0 106.4h0M56.9 128.6h0M0.3 24.1h0M21.4 124.8h0M174.4 31.7h0M36.2 53.1h0M97.8 36.4h0M145.2 88.2h0M134.3 77.7h0M135.1 102.7h0M21.2 76.7h0M103.8 100.0h0M177.9 90.8h0M16.8 23.6h0M111.6 53.1h0M113.4 130.0h0M72.4 21.8h0M59.1 27.5h0M171.6 96.5h0M26.8 113.0h0M85.2 61.7h0M5.8 74.8h0M16.5 48.1h0M126.7 71.4h0M51.8 72.2h0M57.5 18.5h0M189.6 96.4h0M45.9 129.0h0M135.2 12.9h0" stroke="#0e2a48" stroke-width="1.5" stroke-linecap="round" opacity="0.75"/><path d="M185.6 73.2h0M149.9 124.2h0M173.0 90.2h0M68.7 96.6h0M91.7 26.8h0M99.8 47.8h0M20.0 65.9h0M81.5 79.8h0M94.2 22.9h0M120.8 77.5h0M85.2 59.9h0M33.9 67.6h0M108.0 117.0h0M98.4 18.1h0M48.6 63.0h0M36.3 52.1h0M115.6 88.2h0M141.4 95.0h0M57.2 49.4h0M181.6 60.2h0M17.6 6.7h0M49.9 58.4h0M74.2 43.2h0M69.5 94.0h0M47.8 127.5h0M119.6 30.8h0M140.4 50.3h0M16.2 99.2h0M83.3 18.7h0M12.0 37.7h0M69.7 78.5h0M57.0 42.8h0M71.1 132.7h0M165.7 39.9h0M56.6 7.7h0M106.1 126.3h0M102.2 28.5h0M76.0 65.0h0M110.4 11.6h0M1.1 51.4h0M74.2 44.0h0M54.3 91.1h0M166.8 8.2h0M14.5 70.7h0M16.0 60.8h0M5.2 3.8h0M163.4 2.3h0M24.3 117.1h0M11.3 81.5h0M56.6 103.4h0M0.4 82.1h0M120.4 97.0h0M64.1 107.2h0M136.9 76.0h0M22.9 58.5h0M120.0 118.4h0M111.0 76.9h0M139.4 98.8h0M119.7 45.9h0M174.1 114.3h0M82.1 113.6h0M141.9 32.9h0M155.1 3.1h0M45.6 99.4h0M125.3 9.4h0M127.4 34.7h0M129.2 103.8h0M44.7 22.2h0M70.7 11.2h0M98.0 54.9h0M94.2 33.5h0M70.4 100.5h0M125.9 132.2h0M104.8 106.9h0M122.8 102.1h0M109.2 67.5h0M84.0 77.5h0M92.7 52.1h0M72.5 40.8h0M179.2 15.8h0M157.9 126.2h0M121.5 9.5h0M0.8 58.3h0M9.5 92.4h0M86.9 36.2h0M144.9 38.6h0M130.8 35.3h0M97.4 16.1h0M164.3 123.9h0M81.9 118.9h0M96.0 26.4h0M104.5 40.6h0M86.0 92.0h0M65.1 69.1h0M139.5 114.8h0M4.5 60.1h0M165.2 54.3h0M158.8 97.3h0M153.1 87.0h0M171.1 98.8h0M177.7 22.2h0M99.0 28.6h0M187.2 10.9h0M62.5 11.6h0M180.8 74.3h0M46.5 104.3h0M92.1 81.9h0M32.9 107.2h0M142.9 89.3h0M112.7 124.4h0M43.9 98.2h0M49.5 19.2h0M31.2 61.9h0M67.4 20.2h0M170.4 46.3h0M43.1 113.2h0M50.7 122.4h0M63.7 0.9h0M124.6 96.5h0M122.3 10.2h0M180.2 115.7h0M28.7 32.0h0M2.4 105.1h0M108.4 94.0h0M122.0 57.5h0M37.5 81.9h0M91.1 97.7h0M132.5 73.0h0M70.6 103.8h0M51.6 121.2h0M24.3 106.8h0M62.1 0.0h0M142.1 79.2h0M125.2 41.0h0M66.7 18.2h0M106.5 89.7h0M187.8 29.1h0M80.8 55.6h0M77.5 11.7h0M106.1 5.7h0M6.6 91.6h0M21.8 40.2h0M123.2 31.1h0M125.8 115.7h0M156.3 103.4h0M76.8 34.4h0M7.5 84.9h0M153.3 73.4h0M56.3 116.4h0M94.8 3.9h0M106.1 73.4h0M84.5 57.8h0M51.7 88.3h0M73.8 107.3h0M102.9 66.3h0M131.2 75.9h0M73.3 109.6h0M12.2 123.9h0M54.3 132.3h0M35.2 132.9h0M188.8 130.0h0M39.4 47.2h0M151.0 60.9h0M35.9 10.2h0M46.8 112.6h0M87.4 81.4h0M32.6 77.6h0M129.8 38.8h0M24.2 132.6h0M10.4 116.5h0M0.7 40.5h0M148.4 44.6h0M183.7 114.7h0M99.7 61.7h0M17.0 85.7h0M130.9 72.7h0M169.2 34.1h0M171.3 121.6h0M0.6 67.3h0M96.9 39.3h0M125.2 74.0h0M99.4 74.7h0M174.6 26.0h0M78.3 78.0h0M95.5 96.9h0M85.5 22.1h0M118.2 48.6h0M68.5 114.7h0M4.0 62.9h0M176.1 120.5h0M143.7 104.3h0M33.8 73.7h0M123.2 32.9h0M142.5 23.1h0M33.8 54.1h0M120.5 56.7h0M79.4 47.1h0M104.1 59.7h0M82.9 10.4h0M5.2 41.6h0M1.4 127.1h0M33.5 79.0h0M107.0 69.4h0M90.1 86.2h0M136.6 7.9h0M108.7 52.3h0M19.7 114.8h0M65.2 17.3h0M129.1 14.6h0M183.6 54.5h0M136.4 80.2h0M80.9 64.3h0M56.4 57.8h0M73.4 34.0h0M182.4 22.8h0M106.0 119.0h0M25.1 74.4h0M107.7 114.4h0M57.6 110.0h0M16.2 36.6h0M21.8 112.1h0M46.5 7.8h0M181.0 94.9h0M93.8 55.7h0M65.7 11.7h0M25.2 68.2h0M28.4 99.7h0M144.3 66.5h0M49.1 27.1h0M50.1 77.6h0M85.8 48.3h0M153.5 100.1h0M23.0 62.4h0M27.9 59.6h0M75.2 91.4h0M122.5 109.7h0M92.5 1.9h0M88.6 54.8h0M69.6 118.8h0M93.3 75.9h0M107.9 93.7h0M180.6 69.6h0M146.1 124.1h0M128.6 52.5h0M123.3 103.3h0M1.4 114.6h0M184.8 123.3h0M77.8 19.1h0M7.6 79.7h0M139.4 11.9h0M13.6 42.5h0M70.3 118.2h0M132.8 106.4h0M9.6 31.5h0M48.8 131.7h0M70.1 15.2h0M176.9 51.1h0M44.1 50.6h0M70.8 58.1h0M95.2 63.1h0M0.8 64.1h0M93.0 61.6h0M75.4 93.1h0M99.8 61.7h0M162.4 52.0h0M47.4 85.5h0M96.0 108.3h0M160.4 118.4h0M48.3 99.7h0M147.1 2.9h0M59.6 42.3h0M68.8 34.9h0M128.0 41.6h0M98.0 36.9h0M4.0 1.8h0M64.3 26.6h0M121.9 91.7h0M12.8 40.0h0M87.3 67.2h0M61.7 68.0h0M3.1 49.5h0M27.1 68.7h0M81.4 33.9h0M19.4 30.5h0M90.2 15.8h0M161.2 29.2h0M164.9 4.9h0M27.2 121.0h0M63.3 67.7h0M104.2 19.2h0M45.2 9.5h0M59.8 14.5h0M68.2 92.2h0M59.7 122.1h0M121.7 17.0h0M138.9 129.0h0M187.6 6.0h0M65.8 70.9h0M161.2 108.1h0M176.0 16.3h0M85.0 57.3h0M99.6 77.6h0M0.6 109.0h0M184.2 55.4h0M58.8 115.1h0M33.0 6.5h0M74.1 68.4h0M3.0 2.2h0M112.9 53.5h0M187.5 130.8h0M173.3 3.9h0M36.6 12.1h0M6.1 59.1h0M21.0 127.7h0M16.5 55.9h0M29.9 103.3h0M0.5 0.6h0M79.7 35.5h0M98.6 39.1h0M143.1 61.1h0M38.3 113.0h0M13.9 119.7h0M8.5 5.5h0M75.9 79.8h0M107.0 45.1h0M20.7 129.4h0M14.1 8.0h0M9.1 60.5h0M14.0 46.1h0M106.4 40.3h0M155.1 63.4h0M85.1 41.4h0M130.2 8.6h0M64.2 83.4h0M46.6 76.4h0M2.9 45.3h0M84.9 99.0h0M9.8 104.3h0M153.7 0.9h0M163.9 14.9h0M118.2 76.8h0M146.5 95.7h0M74.6 11.3h0M31.5 72.9h0M63.5 56.4h0M1.2 28.1h0M95.1 81.0h0M107.8 48.2h0M8.2 48.7h0M93.9 88.3h0M82.6 113.7h0M36.5 32.4h0M37.7 56.1h0M62.8 42.2h0M94.8 34.2h0M84.2 82.1h0M181.1 127.5h0M157.4 1.6h0M41.0 49.2h0M179.7 95.8h0M122.0 43.7h0M7.3 45.3h0M65.9 21.4h0M100.6 74.5h0M156.2 55.2h0M140.2 41.8h0M109.8 129.1h0M81.1 83.2h0M2.8 77.0h0M86.4 69.8h0M3.8 97.6h0M85.2 78.2h0M69.7 85.5h0M22.5 73.2h0M116.0 26.7h0M26.2 19.1h0M123.1 103.0h0M117.6 115.1h0M43.0 8.8h0M129.3 2.6h0M106.3 31.0h0M23.8 102.1h0M21.1 28.8h0M61.8 9.5h0M74.6 15.2h0M28.4 122.7h0M131.4 118.1h0M68.1 43.7h0M3.3 111.0h0M151.0 69.1h0M96.0 27.8h0M61.3 58.4h0M165.7 56.1h0M29.3 99.9h0M100.6 13.8h0M106.2 5.9h0M107.6 98.0h0M33.3 90.1h0M42.8 58.2h0M21.5 89.4h0M189.5 120.9h0M147.1 124.3h0M77.5 78.9h0M133.2 39.1h0M150.6 59.8h0M31.7 113.9h0M106.0 37.8h0M102.3 48.1h0M125.7 108.9h0M21.4 65.3h0M87.4 8.0h0M157.9 8.6h0M86.8 12.8h0M95.3 68.5h0M113.2 118.5h0M113.8 6.6h0M185.9 34.0h0M8.7 54.9h0M64.9 38.5h0M128.0 132.1h0M89.4 55.6h0M16.2 116.9h0M85.6 75.9h0M59.2 94.5h0M108.0 132.6h0M37.6 45.4h0M46.4 49.1h0M71.3 76.3h0M99.0 41.5h0M71.2 31.7h0M91.3 69.5h0M47.0 25.3h0M40.6 107.3h0M119.9 48.5h0M110.1 60.4h0M177.1 104.1h0M100.4 66.9h0M106.0 116.3h0M77.4 123.9h0M107.8 124.1h0M155.7 8.1h0M124.8 91.6h0M55.7 99.8h0M44.3 100.2h0M87.5 41.5h0M88.3 21.4h0M182.9 43.3h0M133.1 54.2h0M68.3 74.2h0M51.3 54.4h0M45.2 132.9h0M69.3 28.1h0M74.6 45.0h0M38.3 11.1h0M31.6 130.6h0M40.2 69.2h0M34.2 93.0h0M152.8 133.5h0M45.5 87.4h0M150.0 65.8h0M146.9 35.5h0M100.4 39.6h0M2.4 107.3h0M185.8 22.6h0M17.7 129.5h0M43.7 37.5h0M181.4 64.2h0M86.3 60.9h0M122.7 97.2h0M152.2 70.6h0M115.6 49.3h0M185.8 40.9h0M75.2 53.6h0M37.9 71.1h0M41.6 82.8h0M8.3 125.8h0M131.9 85.2h0M111.6 115.9h0M91.2 97.6h0M83.8 4.9h0M91.3 91.1h0M35.8 46.5h0M139.1 108.2h0M97.5 13.2h0M97.0 102.7h0M115.7 106.1h0M140.4 103.3h0M146.9 9.8h0M134.0 33.9h0M180.7 70.4h0M136.2 45.5h0M90.0 71.6h0M45.9 103.0h0M185.1 132.2h0M3.6 73.2h0M148.8 53.1h0M132.9 93.9h0M34.9 102.5h0M49.5 6.3h0M107.2 17.2h0M8.2 126.8h0M5.1 93.8h0M3.6 21.1h0M90.5 0.4h0M177.0 45.8h0M30.5 73.5h0M119.0 72.7h0M93.2 6.8h0M149.3 99.5h0M95.1 92.3h0M60.2 75.0h0M176.9 19.6h0M37.9 83.5h0M162.0 129.5h0M172.7 70.6h0M6.9 106.1h0M34.4 116.6h0M118.9 56.9h0M85.5 83.9h0M38.0 101.9h0M12.5 115.5h0M39.3 53.8h0M67.3 60.8h0M186.2 122.7h0M161.4 16.4h0M67.3 91.6h0M22.2 133.1h0M61.4 4.7h0M124.7 53.4h0M81.2 76.5h0M162.0 117.5h0M97.1 91.9h0M114.1 52.7h0M40.0 111.5h0M25.6 4.5h0M117.9 82.7h0M71.4 46.1h0M120.8 91.5h0M111.0 19.7h0M55.4 64.4h0M50.2 85.2h0M154.2 114.8h0M68.4 29.4h0M21.4 64.0h0M67.9 2.6h0M71.7 41.1h0M50.8 47.8h0M106.4 90.9h0M67.0 18.4h0M33.9 58.9h0M10.1 90.5h0M137.4 23.8h0M129.0 65.2h0M25.5 127.1h0M79.0 83.3h0M59.1 79.1h0M158.7 34.0h0M85.9 27.8h0M40.6 117.5h0M22.2 55.8h0M177.4 47.3h0M109.3 65.4h0M14.5 71.5h0M105.7 81.1h0M72.4 48.8h0M78.3 51.8h0M94.0 81.2h0M80.4 50.2h0M173.0 119.1h0M19.6 93.5h0M110.7 47.0h0M107.6 57.9h0M179.0 103.0h0M84.0 100.2h0M53.9 96.5h0M49.8 53.9h0M42.5 79.3h0M141.6 66.1h0M94.0 115.2h0M129.6 74.0h0M30.6 40.5h0M1.8 96.1h0M114.6 39.2h0M27.3 7.0h0M171.5 55.2h0M33.3 112.0h0M28.3 93.0h0M184.6 43.8h0M33.4 73.4h0M57.4 64.8h0M0.6 37.1h0M182.6 62.7h0M60.9 39.2h0M24.6 59.7h0M148.4 123.3h0M72.3 109.6h0M61.5 21.9h0M11.5 114.3h0M114.1 52.2h0M154.1 73.8h0M113.2 97.4h0M48.5 85.8h0M28.2 64.9h0M88.4 57.1h0M161.2 17.5h0M78.4 56.2h0M134.6 41.9h0M51.5 69.4h0M64.0 89.4h0M134.2 118.7h0M88.8 88.4h0M109.0 37.7h0M60.1 37.8h0M29.2 59.0h0M180.9 115.7h0M14.1 72.5h0M75.2 107.1h0M18.8 113.5h0M25.3 44.2h0M0.2 58.3h0M19.2 75.9h0M104.1 89.6h0M56.1 59.8h0M79.4 97.8h0M118.0 42.7h0M77.3 90.0h0M91.4 20.2h0M104.6 68.2h0M133.7 75.8h0M12.5 84.3h0M42.8 20.2h0M177.9 9.8h0M9.6 109.3h0M18.3 17.8h0M108.5 40.5h0M31.0 101.3h0M156.1 30.1h0M117.7 23.9h0M131.4 117.6h0M138.8 8.7h0M58.9 69.0h0M133.9 120.1h0M46.4 20.5h0M38.5 43.1h0M42.8 34.7h0M121.2 110.7h0M41.5 63.1h0M76.2 73.0h0M105.9 66.7h0M89.1 85.9h0M84.2 91.0h0M164.2 5.8h0M105.2 43.4h0M29.2 129.9h0M105.0 78.7h0M128.3 82.4h0M78.6 32.4h0M114.7 18.7h0M37.7 105.1h0M73.9 31.4h0M139.9 108.3h0M134.7 111.7h0M39.8 124.3h0M89.2 24.8h0M19.2 69.7h0M54.9 24.6h0M42.7 77.1h0M28.6 129.8h0M11.7 110.4h0M91.0 65.2h0M129.9 100.6h0M20.5 26.6h0M186.4 8.4h0M103.9 44.9h0M105.2 72.9h0M116.3 69.8h0M154.7 97.6h0M107.4 77.2h0M49.0 50.0h0M44.4 59.8h0M164.1 131.4h0M43.1 70.5h0M29.4 43.6h0M125.4 16.0h0M37.4 100.6h0M172.8 128.4h0M112.6 113.9h0M101.0 69.9h0M39.9 126.3h0M139.0 111.9h0M56.3 21.6h0M36.7 59.3h0M131.7 99.8h0M104.2 12.3h0M44.8 92.3h0M119.1 114.5h0M73.7 83.4h0M84.7 59.4h0M160.1 50.6h0M129.5 38.8h0M118.0 107.1h0M117.5 27.7h0M55.8 87.3h0M46.8 83.4h0M28.9 70.2h0M110.9 127.3h0M88.7 68.3h0M11.8 53.3h0M3.8 107.4h0M172.9 29.7h0M116.8 115.9h0M64.9 93.7h0M78.6 113.9h0M77.8 23.4h0M83.3 36.0h0M50.6 59.3h0M79.5 78.5h0M102.3 87.5h0M8.2 131.2h0M111.0 70.4h0M148.7 62.1h0M68.1 101.4h0M99.9 99.1h0M117.7 82.9h0M149.5 99.1h0M114.3 41.1h0M164.3 74.5h0M1.0 66.6h0M79.0 60.2h0M3.5 79.1h0M15.8 120.0h0M133.2 27.0h0M22.0 48.9h0M83.7 11.2h0M103.6 35.1h0M25.1 63.3h0M115.3 82.5h0M22.9 20.8h0M21.9 121.7h0M91.4 56.3h0M128.9 66.4h0M114.3 16.8h0M126.5 41.6h0M175.5 42.2h0M77.0 19.7h0M73.7 18.9h0M17.0 124.8h0M2.0 6.4h0M21.3 106.5h0M112.5 54.2h0M11.2 101.4h0M126.5 69.2h0M37.1 106.4h0M182.1 105.2h0M142.0 95.7h0M168.4 122.1h0M135.1 88.8h0M56.4 63.6h0M63.7 116.6h0M25.9 83.4h0M55.9 41.7h0M7.8 124.7h0M58.7 46.1h0M135.1 39.8h0M102.9 31.1h0M90.2 16.0h0M188.9 120.6h0M62.0 5.2h0M27.4 96.0h0M132.5 104.5h0M3.0 28.3h0M64.8 26.5h0M25.7 3.6h0M80.1 30.6h0M13.4 28.1h0M70.2 105.4h0M145.9 71.5h0M67.3 58.1h0M47.4 43.2h0M82.1 96.3h0M171.0 121.4h0M118.4 117.4h0M132.2 63.9h0M44.7 79.4h0M94.2 102.3h0M91.7 110.7h0M124.3 24.0h0M74.2 117.0h0M29.5 115.8h0M79.5 59.1h0M109.0 76.4h0M151.5 30.3h0M47.2 119.0h0M139.5 133.6h0M165.2 46.9h0M41.4 98.3h0M11.2 89.2h0M53.7 32.5h0M24.3 95.8h0M117.8 5.9h0M102.7 59.5h0M34.4 126.0h0M54.7 64.8h0M80.5 97.5h0M2.9 113.6h0M89.4 5.3h0M126.4 78.8h0M82.5 33.4h0M117.3 84.1h0M91.2 45.7h0M144.8 85.7h0M42.4 81.8h0M54.2 23.7h0M187.6 11.4h0M86.6 64.9h0M144.9 95.4h0M57.4 64.9h0M130.6 124.7h0M58.4 1.8h0M80.6 104.5h0M115.3 73.2h0M113.9 97.9h0M29.0 9.7h0M33.8 58.7h0M119.2 63.6h0M62.8 58.2h0M72.0 23.3h0M40.0 11.3h0M107.1 12.5h0M61.7 8.4h0M4.1 86.2h0M46.1 91.8h0M27.5 9.1h0M103.0 48.2h0M136.6 11.7h0M63.7 72.2h0M163.8 18.4h0M45.9 100.7h0M50.6 1.3h0M78.2 9.3h0M107.1 57.6h0M130.5 5.2h0M136.0 50.5h0M36.9 69.9h0M71.2 32.9h0M85.7 13.7h0M101.0 106.5h0M150.2 41.7h0M48.2 70.4h0M31.4 129.9h0M93.3 70.6h0M153.3 133.3h0M135.7 4.1h0M144.3 65.6h0M102.7 94.0h0M39.5 68.8h0M101.6 24.8h0M153.2 25.4h0M136.8 53.2h0M160.2 91.7h0M39.2 85.0h0M56.2 98.8h0M174.7 49.3h0M164.6 30.3h0M156.8 11.8h0M25.4 82.3h0M12.8 106.8h0" stroke="#1a4e7c" stroke-width="1.5" stroke-linecap="round" opacity="0.75"/><path d="M181.4 80.3h0M120.7 125.1h0M96.8 23.8h0M103.1 26.3h0M84.8 19.7h0M118.2 59.6h0M148.2 13.9h0M93.5 53.5h0M47.1 80.1h0M102.9 69.7h0M160.7 100.5h0M183.3 49.3h0M35.1 9.1h0M81.5 84.7h0M39.6 36.0h0M14.3 133.6h0M13.1 48.8h0M60.7 92.1h0M56.5 105.2h0M114.3 64.0h0M129.5 14.0h0M62.9 68.9h0M4.8 62.8h0M133.2 20.1h0M131.4 10.6h0M181.9 38.0h0M119.6 51.2h0M84.8 85.4h0M166.9 46.4h0M179.1 70.5h0M68.2 58.4h0M18.1 82.7h0M74.6 53.5h0M90.0 56.4h0M37.4 61.4h0M67.8 42.3h0M113.3 19.3h0M7.0 86.3h0M78.0 9.7h0M121.6 19.2h0M0.9 81.7h0M94.6 96.6h0M116.6 82.1h0M187.6 5.0h0M150.4 130.9h0M24.1 82.5h0M162.1 112.9h0M26.1 58.6h0M51.0 69.7h0M66.4 64.6h0M2.0 4.8h0M34.8 43.8h0M135.7 98.7h0M120.8 30.4h0M20.9 37.3h0M116.4 5.1h0M140.7 88.7h0M165.1 119.7h0M49.8 133.3h0M70.8 32.6h0M81.7 21.1h0M128.4 32.9h0M19.4 42.5h0M88.9 39.3h0M55.7 97.9h0M3.5 93.9h0M112.1 93.3h0M39.2 68.4h0M8.1 98.1h0M85.8 52.8h0M108.6 3.4h0M21.6 38.4h0M158.0 21.1h0M76.4 69.6h0M95.3 85.3h0M159.6 115.2h0M125.4 47.0h0M138.8 26.4h0M1.0 0.1h0M68.4 99.8h0M13.3 103.8h0M148.8 11.7h0M175.0 118.0h0M101.9 71.9h0M21.4 10.9h0M15.6 108.6h0M68.8 46.0h0M20.1 93.5h0M9.5 46.9h0M27.4 16.7h0M165.2 9.0h0M52.5 20.3h0M7.3 67.0h0M174.2 56.8h0M70.3 127.7h0M167.8 21.8h0M105.5 88.1h0M120.9 36.8h0M104.5 67.8h0M141.6 113.4h0M97.3 13.4h0M91.7 111.0h0M123.3 113.4h0M16.2 30.3h0M145.5 9.6h0M1.6 96.6h0M0.4 125.7h0M112.5 33.8h0M147.4 42.0h0M89.9 29.3h0M72.7 77.4h0M128.4 116.3h0M109.3 77.6h0M186.3 67.2h0M132.5 104.4h0M120.0 45.5h0M143.1 22.2h0M33.7 40.2h0M107.7 40.5h0M144.7 116.8h0M72.4 75.3h0M121.4 3.1h0M8.7 42.8h0M89.0 71.3h0M47.3 6.1h0M99.0 23.6h0M99.9 35.8h0M8.3 43.0h0M25.9 27.5h0M121.3 36.5h0M41.7 94.7h0M142.0 133.9h0M8.0 97.2h0M83.3 60.6h0M76.0 45.8h0M85.6 87.5h0M22.6 50.9h0M37.4 25.2h0M157.8 5.9h0M44.4 107.9h0M62.1 47.0h0M91.3 78.3h0M123.6 3.1h0M145.6 92.8h0M106.8 122.7h0M0.1 16.2h0M92.1 35.5h0M134.4 124.6h0M169.0 44.4h0M10.3 69.0h0M41.3 74.3h0M86.2 32.7h0M131.9 74.6h0M152.7 7.7h0M20.3 90.2h0M56.7 78.1h0M65.9 32.2h0M181.9 71.4h0M17.1 7.0h0M73.2 51.5h0M109.9 92.7h0M163.5 72.5h0M21.5 105.7h0M121.6 107.7h0M55.5 81.9h0M35.5 76.1h0M102.7 73.1h0M11.6 18.7h0M187.4 130.1h0M139.7 98.7h0M109.9 14.3h0M25.4 21.7h0M47.8 96.4h0M112.0 12.0h0M106.8 72.4h0M92.9 47.1h0M122.9 128.1h0M82.1 9.1h0M22.9 28.3h0M159.8 5.0h0M36.3 40.2h0M174.8 128.2h0M107.9 25.3h0M61.5 21.5h0M110.8 59.9h0M57.5 67.3h0M3.1 48.7h0M123.1 65.1h0M98.0 20.3h0M185.0 111.2h0M102.2 3.7h0M89.1 18.3h0M3.6 89.5h0M141.7 127.4h0M51.4 61.0h0M38.9 74.9h0M176.1 122.9h0M117.9 13.9h0M130.9 83.1h0M126.2 99.7h0M52.0 57.7h0M113.5 16.9h0M64.7 73.8h0M176.6 122.0h0M108.3 48.2h0M35.6 131.5h0M53.3 3.6h0M102.0 82.6h0M85.5 41.1h0M7.0 113.6h0M36.3 49.9h0M140.0 60.8h0M39.3 31.3h0M111.1 48.6h0M9.4 98.0h0M98.4 17.9h0M171.5 0.8h0M91.9 30.2h0M126.9 71.4h0M127.6 30.4h0M9.9 58.0h0M3.5 131.3h0M129.7 127.0h0M122.4 103.3h0M123.8 85.0h0M22.9 108.2h0M187.6 52.5h0M50.8 24.5h0M115.5 19.7h0M44.6 66.5h0M87.7 66.2h0M47.1 88.9h0M150.2 41.0h0M119.6 125.9h0M8.5 84.2h0M35.9 18.1h0M82.5 75.9h0M65.8 49.4h0M98.6 73.0h0M100.7 27.9h0M93.6 106.7h0M182.7 28.8h0M100.5 30.2h0M26.0 96.8h0M8.0 81.4h0M99.3 61.9h0M30.6 57.2h0M106.2 80.7h0M52.9 36.0h0M112.9 103.8h0M18.5 78.8h0M137.9 97.8h0M6.0 32.7h0M94.0 21.0h0M11.4 131.8h0M139.9 114.6h0M117.8 77.6h0M99.4 78.9h0M167.6 44.1h0M157.7 12.7h0M80.3 13.6h0M73.5 102.7h0M167.6 78.9h0M76.8 21.6h0M118.9 54.8h0M6.2 83.0h0M169.2 69.2h0M31.1 97.7h0M4.1 61.4h0M59.1 7.3h0M74.3 108.4h0M116.6 36.9h0M84.3 61.2h0M114.5 119.7h0M59.4 1.3h0M35.7 97.5h0M98.0 85.5h0M146.7 55.8h0M134.7 100.5h0M189.6 79.9h0M4.2 94.9h0M102.8 87.1h0M55.3 54.3h0M112.1 38.4h0M84.7 65.0h0M15.0 89.8h0M185.4 88.3h0M116.4 9.7h0M125.6 22.0h0M164.1 76.8h0M44.7 73.6h0M44.8 30.5h0M8.3 112.2h0M8.5 133.9h0M174.3 18.7h0M35.5 26.1h0M153.3 67.8h0M159.8 124.8h0M30.0 77.9h0M78.3 89.0h0M16.6 126.6h0M58.5 23.8h0M26.2 32.8h0M39.9 70.0h0M57.3 27.6h0M93.7 56.4h0M99.2 24.4h0M20.7 44.7h0M176.5 103.6h0M87.3 59.0h0M159.0 22.9h0M85.4 131.1h0M110.2 73.7h0M42.7 37.3h0M25.0 40.2h0M176.7 38.7h0M146.1 111.5h0M120.7 25.8h0M10.6 57.3h0M153.3 14.9h0M146.2 121.3h0M132.6 30.4h0M174.1 47.9h0M4.2 0.9h0M122.7 0.1h0M147.4 5.6h0M58.2 61.3h0M45.5 105.8h0M21.8 105.8h0M40.3 64.1h0M46.1 124.2h0M4.7 121.1h0M16.9 62.1h0M40.6 48.1h0M101.9 10.1h0M28.5 51.4h0M146.2 101.0h0M104.2 18.6h0M11.8 16.9h0M73.7 32.9h0M124.5 47.7h0M145.0 106.2h0M162.3 19.1h0M13.3 81.5h0M131.3 55.6h0M6.8 128.2h0M135.5 26.6h0M126.7 110.9h0M80.2 48.9h0M20.4 120.6h0M3.7 52.0h0M121.0 79.6h0M27.5 56.1h0M108.9 64.0h0M51.7 40.4h0M47.1 114.2h0M70.5 86.3h0M80.1 25.6h0M111.5 3.5h0M83.3 43.9h0M146.1 23.2h0M110.6 17.7h0M173.9 12.0h0M169.7 19.0h0M19.6 55.6h0M104.9 82.0h0M16.3 54.3h0M86.2 84.8h0M39.9 21.9h0M128.5 51.2h0M24.2 87.4h0M26.4 126.9h0M101.1 3.6h0M88.1 60.4h0M21.6 85.3h0M124.0 57.3h0M144.4 47.4h0M92.2 24.7h0M123.6 107.0h0M166.3 52.5h0M126.0 45.2h0M127.5 78.5h0M77.0 53.1h0M122.9 4.4h0M57.4 45.0h0M96.6 73.0h0M90.7 94.1h0M139.4 125.5h0M27.8 67.4h0M155.8 90.9h0M150.3 35.3h0M117.0 108.7h0M9.7 2.1h0M65.0 96.9h0M11.1 24.7h0M120.2 31.7h0M141.7 7.4h0M126.0 33.3h0M130.2 92.7h0M107.2 48.0h0M179.3 24.7h0M112.4 81.8h0M43.2 105.0h0M139.3 89.8h0M72.1 40.2h0M55.9 121.2h0M16.7 128.0h0M75.9 46.8h0M46.0 30.6h0M11.5 98.8h0M111.6 56.1h0M170.3 87.7h0M153.9 86.8h0M135.8 92.1h0M15.3 101.8h0M40.0 36.4h0M148.8 41.8h0M87.4 50.0h0M111.3 103.0h0M132.7 123.4h0M131.0 80.9h0M115.7 80.5h0M169.6 121.0h0M116.7 63.5h0M3.9 94.1h0M103.2 43.0h0M40.8 43.9h0M115.6 50.1h0M100.0 84.2h0M83.2 62.9h0M133.8 32.0h0M95.1 1.3h0M32.8 14.3h0M167.3 93.8h0M77.5 46.8h0M6.3 100.2h0M20.5 101.4h0M113.8 120.1h0M50.3 68.4h0M30.4 57.8h0M2.9 33.5h0M34.4 57.4h0M101.7 90.3h0M75.7 126.7h0M80.3 73.3h0M132.2 38.2h0M118.2 113.5h0M133.9 21.1h0M88.4 57.2h0M69.4 5.4h0M66.6 47.6h0M136.2 65.8h0M56.7 88.2h0M100.5 55.4h0M187.8 34.7h0M166.5 11.8h0M95.8 72.5h0M179.8 31.8h0M146.8 122.3h0M18.6 131.8h0M180.2 17.0h0M103.6 24.5h0M111.7 21.8h0M116.7 23.3h0M19.9 51.5h0M31.3 21.3h0M77.4 10.0h0M45.8 105.9h0M150.7 22.5h0M114.5 22.6h0M118.8 38.0h0M76.9 62.4h0M17.9 97.4h0M171.7 22.2h0M62.8 28.8h0M97.1 16.1h0M178.9 51.5h0M111.0 126.4h0M129.0 8.5h0M149.4 63.2h0M103.7 48.7h0M171.2 35.8h0M4.6 115.2h0M110.1 47.6h0M159.3 114.7h0M185.3 127.6h0M7.4 6.6h0M104.8 20.1h0M61.3 62.8h0M3.5 93.2h0M149.6 74.0h0M58.5 29.7h0M20.1 48.0h0M23.1 103.1h0M76.7 7.8h0M139.5 42.8h0M100.0 35.6h0M42.7 39.0h0M51.9 77.8h0M127.8 130.1h0M49.1 0.4h0M101.4 35.7h0M16.9 12.6h0M118.2 70.0h0M122.1 104.3h0M23.8 66.5h0M5.8 91.1h0M64.9 110.8h0M46.6 16.3h0M40.6 130.4h0M36.5 67.7h0M133.9 25.9h0M47.4 97.4h0M159.6 56.1h0M15.8 74.0h0M24.1 53.1h0M117.4 59.0h0M17.7 17.3h0M59.4 91.4h0M51.6 109.2h0M142.5 37.7h0M121.5 70.0h0M6.7 67.5h0M86.8 11.9h0M50.6 109.0h0M72.8 41.5h0M153.1 45.6h0M124.3 68.8h0M60.4 50.0h0M11.2 65.5h0M139.6 37.3h0M31.2 53.2h0M154.3 108.7h0M69.7 89.9h0M132.3 99.2h0M47.0 100.8h0M52.0 47.2h0M178.0 5.8h0M136.9 54.9h0M42.8 65.6h0M47.4 9.2h0M119.5 14.8h0M124.4 54.1h0M30.6 90.9h0M38.8 87.0h0M73.3 31.2h0M136.9 81.9h0M120.0 65.5h0M120.6 1.7h0M175.1 7.6h0M99.5 84.2h0M12.0 5.3h0M24.2 130.1h0M26.7 0.1h0M20.4 52.2h0M6.8 16.2h0M42.5 90.3h0M126.3 15.2h0M134.6 109.2h0M70.4 24.3h0M67.0 113.4h0M100.0 21.2h0M135.4 1.5h0M128.6 127.7h0M35.0 11.5h0M161.5 124.5h0M169.5 132.3h0M15.3 84.9h0M137.1 31.0h0M106.1 76.0h0M24.5 26.2h0M80.6 117.3h0M45.7 131.8h0M141.4 9.4h0M183.7 130.6h0M117.6 44.2h0M53.2 80.1h0M39.1 98.7h0M188.3 56.3h0M45.1 120.9h0M117.2 25.2h0M101.1 64.5h0M174.9 89.3h0M174.6 133.2h0M133.7 32.5h0M113.0 11.2h0M50.9 53.0h0M135.2 12.4h0M158.2 113.8h0M17.6 96.4h0M137.3 126.1h0M115.1 24.6h0M65.9 62.6h0M19.2 20.4h0M66.0 6.0h0M47.0 74.7h0M95.1 92.0h0M156.2 19.5h0M19.3 90.3h0M77.9 4.4h0M124.0 74.0h0M25.3 86.6h0M1.7 110.1h0M69.0 94.7h0M36.8 47.0h0M62.5 87.3h0M49.0 19.1h0M44.4 132.1h0M116.2 22.0h0M90.1 17.2h0M166.5 12.7h0M54.6 62.6h0M88.1 10.3h0M134.2 123.3h0M58.3 21.0h0M128.0 34.3h0M127.3 41.8h0M80.3 10.4h0M60.1 4.3h0M170.3 9.3h0M44.1 45.7h0M75.5 97.4h0M86.9 81.0h0M2.7 95.0h0M22.6 92.9h0M78.5 23.0h0M157.9 73.6h0M176.8 60.4h0M184.8 117.8h0M179.1 54.1h0M166.0 97.3h0M162.8 14.7h0M66.9 13.9h0M139.6 130.8h0M37.0 44.9h0M133.2 99.8h0M136.8 82.4h0M22.3 15.4h0M179.6 80.7h0M110.4 74.8h0M59.8 86.1h0M53.1 67.8h0M144.8 93.8h0M91.5 65.2h0M99.6 6.6h0M111.3 7.2h0M79.5 82.5h0M101.1 110.6h0M68.8 20.8h0M43.9 94.6h0M117.6 19.3h0M141.6 92.6h0M125.3 23.2h0M131.8 38.2h0M108.4 52.6h0M119.6 40.1h0M189.9 10.6h0M176.9 11.8h0M125.5 122.5h0M182.1 52.9h0M150.5 11.6h0M17.7 86.1h0M28.9 82.4h0M5.0 44.4h0M25.8 68.8h0M76.1 117.6h0M93.6 42.1h0M172.6 130.5h0M55.3 29.0h0M55.3 12.2h0M137.3 101.9h0M104.2 95.8h0M87.9 70.3h0M150.5 31.2h0M86.1 56.3h0M183.7 126.5h0M113.2 14.3h0M176.1 28.7h0M133.0 37.7h0M99.2 102.0h0M160.8 71.4h0M97.4 12.5h0M134.2 97.7h0M117.0 6.4h0M169.0 95.9h0M142.5 74.8h0M106.6 15.1h0M132.8 11.0h0M129.8 28.0h0M27.8 95.0h0M22.7 19.8h0M79.2 88.2h0M132.3 3.1h0M60.0 120.3h0M71.5 80.4h0M92.3 42.2h0M13.6 120.0h0M94.5 29.6h0M79.3 10.8h0M114.2 123.1h0M95.2 52.1h0M143.4 59.1h0M179.2 117.7h0M163.1 25.1h0M2.8 76.1h0M53.6 113.5h0M123.2 5.1h0M25.2 14.9h0M86.1 87.7h0M133.8 59.2h0M98.1 59.0h0M79.3 11.9h0M179.7 86.5h0M21.9 35.4h0M178.6 101.7h0M121.0 0.6h0M114.8 79.5h0M28.5 92.3h0M92.1 58.6h0M2.3 30.1h0M109.4 27.1h0M102.3 87.9h0M32.1 67.1h0M52.6 119.0h0M68.6 8.0h0M20.6 64.8h0M5.3 68.3h0M168.9 63.5h0M10.5 82.0h0M165.4 65.4h0M33.3 81.8h0M173.5 35.3h0M55.3 68.7h0M12.7 132.2h0M70.5 30.2h0M42.6 55.0h0M3.6 73.9h0M86.4 85.6h0M51.6 58.5h0M77.4 24.2h0M45.9 87.3h0M154.6 21.3h0M14.3 131.2h0M134.4 132.9h0M150.5 129.1h0M10.8 4.0h0M63.5 74.6h0M125.6 22.8h0M9.6 122.9h0M179.0 77.4h0M140.0 2.8h0M172.4 132.6h0M12.5 9.5h0M38.4 88.2h0M179.1 39.5h0M79.6 106.2h0M92.4 126.8h0M65.0 15.5h0M5.8 23.0h0M40.4 53.4h0M30.6 67.1h0M84.0 60.1h0M120.8 67.7h0M75.5 4.7h0M83.8 80.7h0M20.4 37.2h0M185.2 16.5h0M168.9 9.6h0M46.2 97.7h0M71.4 82.7h0M9.4 15.1h0M91.6 106.5h0M15.6 15.3h0M8.0 2.6h0M15.7 60.4h0M143.0 10.1h0M38.5 49.6h0M127.3 1.4h0M79.6 54.1h0M104.5 4.3h0M113.6 50.1h0M69.9 70.7h0M91.0 56.6h0M38.5 57.3h0M85.0 116.3h0M57.9 91.9h0M34.1 95.3h0M185.6 23.9h0M41.7 125.8h0M47.8 6.7h0M168.4 97.2h0M88.2 50.0h0M140.7 101.3h0M88.5 61.3h0M92.8 55.7h0M97.4 67.3h0M30.4 119.9h0M13.0 72.2h0M7.4 92.7h0M63.1 82.4h0M109.8 62.2h0M55.9 90.2h0M35.4 67.0h0M82.8 8.9h0M113.4 125.5h0M128.6 51.2h0M70.2 1.8h0M8.5 58.9h0M140.5 50.8h0M149.5 23.8h0M55.9 122.6h0M188.0 46.8h0M54.1 102.7h0M29.9 109.3h0M108.6 6.8h0M132.4 33.2h0M35.6 103.8h0M68.5 60.2h0M60.3 77.2h0M149.7 2.1h0M104.5 18.3h0M28.7 57.3h0M4.9 13.7h0M167.4 46.9h0M93.2 64.9h0M116.1 3.9h0M50.0 7.4h0M109.1 7.9h0M92.5 83.4h0M96.7 3.1h0M19.0 109.5h0M173.7 20.8h0M49.0 40.0h0M12.1 112.4h0M108.7 58.9h0M34.1 95.5h0M66.8 46.4h0M11.0 80.4h0M189.9 114.5h0M117.5 93.9h0M49.5 66.0h0M182.4 43.8h0M28.1 132.5h0M164.9 10.9h0M102.9 14.5h0M80.4 50.2h0M7.9 89.2h0M17.8 69.8h0M53.4 83.0h0M138.4 25.2h0M145.9 122.6h0M121.7 56.6h0M6.1 55.8h0M103.4 10.3h0" stroke="#2878a8" stroke-width="1.5" stroke-linecap="round" opacity="0.75"/><path d="M86.0 75.0h0M81.2 76.5h0M36.1 107.7h0M36.8 105.3h0M35.3 110.1h0M153.8 92.9h0M158.1 92.0h0M117.0 21.1h0M119.1 22.0h0M120.0 18.2h0M97.4 4.0h0M76.1 113.4h0M161.0 0.1h0M51.3 11.7h0M51.4 9.1h0M46.8 13.5h0M48.6 17.2h0M85.0 25.6h0M79.7 51.4h0M112.6 133.7h0M19.1 132.6h0M23.3 132.8h0M157.8 51.7h0M110.7 32.6h0M108.8 30.7h0M111.6 111.5h0M112.7 114.0h0M172.6 109.6h0M30.1 84.3h0M33.2 81.5h0M80.1 13.9h0M80.4 18.4h0M48.8 110.4h0M43.6 109.7h0M124.2 82.5h0M174.3 27.3h0M171.7 28.9h0M8.9 37.8h0M17.5 18.5h0M15.0 14.8h0M111.0 18.8h0M90.2 47.9h0M4.0 85.2h0M1.7 90.2h0M150.7 122.6h0M154.8 119.6h0M108.8 83.7h0M111.3 83.9h0M111.0 85.1h0M48.9 55.8h0M45.3 56.8h0M45.1 54.8h0M97.8 41.6h0M43.7 93.6h0M41.7 90.4h0M46.5 91.5h0M27.2 82.0h0M25.3 78.9h0M173.7 118.0h0M176.2 116.6h0M175.9 120.5h0M170.2 5.4h0M171.3 3.1h0M72.7 69.7h0M70.3 70.4h0M77.7 70.7h0M7.9 95.0h0M5.5 91.7h0M121.8 54.3h0M122.0 57.0h0M8.9 84.3h0M6.2 80.3h0M13.2 83.2h0M37.9 63.7h0M143.5 71.7h0M98.9 82.3h0M101.5 78.7h0M73.7 60.4h0M123.8 27.5h0M66.2 11.1h0M63.5 12.6h0M68.8 9.7h0M164.8 57.5h0M162.4 61.6h0M166.5 59.6h0M131.0 126.7h0M144.0 58.9h0M141.5 55.9h0M146.2 55.5h0M38.2 71.8h0M35.3 74.6h0M43.2 73.2h0M103.4 132.6h0M131.3 8.8h0M135.5 6.5h0M76.8 33.0h0M72.3 35.0h0M171.1 63.9h0M79.7 3.9h0M6.8 20.8h0M5.3 23.9h0M117.8 14.1h0M133.3 117.8h0M135.2 114.0h0M119.3 46.6h0M117.2 51.4h0M120.4 52.0h0M168.6 17.9h0M80.1 105.9h0M76.8 102.4h0M18.3 76.4h0M21.1 78.9h0M35.9 9.5h0M91.4 25.4h0M87.8 102.5h0M84.8 104.0h0M7.8 26.8h0M7.5 23.3h0M76.9 80.3h0M77.9 77.5h0M13.4 45.8h0M94.5 28.6h0M96.8 28.3h0M116.9 99.0h0M112.2 98.9h0M123.1 1.4h0M126.5 -0.8h0M8.6 124.6h0M13.5 123.7h0M103.0 79.9h0M99.5 81.8h0M113.6 49.0h0M110.7 47.8h0M136.2 39.7h0M111.3 84.8h0M114.4 85.9h0M75.6 78.0h0M80.2 80.3h0M155.2 80.9h0M152.9 82.2h0M157.3 78.3h0M29.4 48.7h0M26.5 49.5h0M139.5 31.9h0M140.4 27.8h0M107.3 79.3h0M174.0 117.8h0M1.8 34.8h0M19.5 72.6h0M173.4 21.6h0M170.1 21.9h0M64.3 66.3h0M142.0 52.3h0M124.2 132.6h0M124.5 127.6h0M126.0 136.5h0M110.3 61.9h0M113.8 63.9h0M105.9 62.3h0M56.8 103.9h0M94.0 102.4h0M41.6 88.1h0M171.5 92.1h0M172.5 89.0h0M170.0 95.3h0M177.6 119.9h0M178.7 117.9h0M140.4 49.3h0M158.9 75.4h0M161.2 73.3h0M4.2 69.1h0M3.6 71.3h0M6.2 66.1h0M110.6 40.9h0M114.6 43.2h0M27.3 99.9h0M64.3 61.5h0M62.5 58.1h0M121.7 70.2h0M80.1 56.3h0M188.3 50.3h0M74.0 70.9h0M89.6 97.9h0M147.4 24.0h0M151.2 24.5h0M152.1 41.9h0M152.7 44.8h0M136.3 79.7h0M75.9 29.1h0M80.7 28.4h0M147.1 105.5h0M85.5 33.0h0M79.0 103.4h0M82.2 106.8h0M76.1 100.8h0M10.1 76.6h0M18.5 64.3h0M14.7 63.3h0M21.3 64.7h0M36.7 91.4h0M37.7 95.3h0M99.9 21.1h0M98.5 24.3h0M12.7 10.0h0M10.6 5.8h0M149.0 16.3h0M148.1 12.7h0M143.4 74.4h0M38.0 98.0h0M33.8 96.2h0M63.0 110.8h0M118.1 17.6h0M112.6 12.1h0M26.4 27.5h0M21.2 28.1h0M60.4 105.7h0M57.4 105.1h0M61.6 108.7h0M83.8 74.7h0M85.0 69.9h0M116.2 21.2h0M113.0 20.2h0M95.1 19.0h0M99.6 18.9h0M98.8 17.4h0M25.9 64.0h0M23.4 68.7h0M68.6 62.0h0M45.3 76.3h0M23.3 110.5h0M23.5 114.6h0M14.5 4.3h0M3.1 26.7h0M100.3 15.8h0M97.2 15.5h0M107.9 44.5h0M137.1 105.5h0M134.1 103.3h0M78.2 83.6h0M78.2 79.8h0M77.7 58.2h0M75.8 61.6h0M75.7 59.2h0M82.3 50.4h0M86.1 47.0h0M46.4 113.1h0M50.1 112.5h0M20.0 121.9h0M24.8 120.1h0M70.1 73.2h0M42.1 100.0h0M18.7 106.2h0M15.4 104.5h0M17.4 110.6h0M4.5 23.0h0M5.9 19.8h0M67.7 78.5h0M86.4 42.0h0M177.4 131.0h0M132.6 75.0h0M36.4 117.9h0M22.9 92.6h0M95.3 39.6h0M98.4 36.8h0M95.7 42.8h0M176.1 89.4h0M87.9 10.2h0M100.9 6.1h0M97.4 5.2h0M5.5 105.9h0M0.5 119.5h0M105.6 86.4h0M106.4 82.6h0M98.9 127.5h0M21.3 58.4h0M22.0 53.6h0M22.1 55.5h0M92.9 29.6h0M92.7 32.5h0M137.4 114.8h0M150.4 31.9h0M146.4 33.9h0M97.0 50.8h0M95.2 46.2h0M149.5 8.2h0M148.0 3.9h0M114.1 18.0h0M114.1 15.7h0M114.4 23.2h0M26.9 52.7h0M31.9 50.5h0M116.4 39.6h0M79.5 11.5h0M76.7 16.2h0M116.1 5.3h0M168.0 123.8h0M170.7 122.7h0M72.0 6.6h0M34.9 73.6h0M76.0 79.6h0M70.9 81.4h0M129.0 115.6h0M127.0 116.8h0M107.8 87.0h0M172.3 2.7h0M167.6 4.3h0M127.2 40.5h0M129.8 41.2h0M113.1 4.3h0M108.7 4.9h0M98.2 73.5h0M96.9 71.1h0M42.9 39.1h0M91.7 1.5h0M90.4 -0.5h0M23.2 103.8h0M26.2 105.7h0M74.6 8.1h0M73.6 12.5h0M42.1 124.0h0M66.6 95.4h0M70.7 92.8h0M13.7 4.7h0M10.9 3.5h0M126.9 24.9h0M124.1 29.3h0M131.4 25.8h0M41.1 10.1h0M38.1 12.0h0M40.3 15.0h0M7.2 18.2h0M3.5 18.3h0M4.0 81.1h0M2.7 78.4h0M0.2 72.9h0M131.3 106.7h0M93.2 75.6h0M90.3 78.8h0M94.7 86.6h0M129.1 5.4h0M130.7 3.7h0M74.5 95.9h0M76.6 100.5h0M38.9 75.5h0M37.3 73.5h0M140.6 36.0h0M71.6 89.7h0M150.2 124.3h0M146.5 126.4h0M9.3 95.6h0M36.8 47.8h0M162.6 22.9h0M164.1 18.2h0M145.4 131.5h0M103.7 107.2h0M167.3 58.0h0M51.3 76.2h0M50.9 79.1h0M91.6 49.0h0M127.3 0.5h0M75.2 7.7h0M75.2 10.5h0M74.5 10.6h0M102.4 90.4h0M143.2 41.5h0M168.4 8.5h0M168.1 11.5h0M171.8 6.8h0M170.8 83.6h0M43.2 52.0h0M44.4 48.9h0M121.2 47.4h0M118.7 45.7h0M40.6 24.1h0M103.8 91.1h0M29.6 50.0h0M1.8 67.3h0M6.5 65.8h0M144.7 2.8h0M81.7 129.0h0M82.7 124.0h0M154.4 9.4h0M157.9 6.1h0M99.8 1.4h0M101.8 0.1h0M117.1 46.2h0M113.1 46.1h0M21.7 112.2h0M18.2 113.7h0M102.8 5.7h0M100.3 3.1h0M99.4 3.4h0M188.6 98.9h0M192.2 98.7h0M47.6 108.2h0M51.2 108.5h0M42.3 108.5h0M143.8 117.5h0M146.7 113.7h0M28.8 49.0h0M176.5 128.0h0M178.6 129.9h0M39.3 84.3h0M179.7 88.2h0M88.6 17.3h0M86.0 15.1h0M139.9 48.3h0M140.6 50.6h0M53.1 17.9h0M65.8 94.3h0M67.7 96.0h0M69.6 90.6h0M14.9 86.9h0M11.3 89.9h0M114.2 60.1h0M112.2 63.7h0M125.1 35.9h0M127.7 32.8h0M112.7 116.1h0M110.1 120.2h0M18.9 120.1h0M21.2 120.4h0M29.6 9.7h0M27.8 13.8h0M25.3 6.4h0M185.5 133.0h0M12.6 61.9h0M98.4 78.3h0M98.0 12.9h0M31.7 87.0h0M28.9 82.3h0M29.6 49.7h0M20.7 55.3h0M107.2 9.1h0M96.8 41.3h0M46.9 55.5h0M111.9 22.8h0M29.4 130.0h0M25.5 126.4h0M43.5 106.8h0M45.7 110.1h0M5.4 14.8h0M2.3 10.9h0M8.8 15.8h0M14.9 35.0h0M13.1 38.3h0M49.1 49.3h0M45.8 52.2h0M63.4 15.7h0M67.1 17.1h0M60.1 14.6h0M42.3 13.3h0M38.9 17.4h0M98.8 70.6h0M94.3 73.6h0M69.5 80.1h0M70.7 84.7h0M10.6 24.6h0M13.0 25.4h0M54.3 91.1h0M158.0 44.0h0M149.8 86.1h0M153.8 87.3h0M110.2 0.7h0M108.0 4.4h0M173.6 110.0h0M83.7 100.7h0M81.6 96.4h0M158.7 128.2h0M157.7 123.8h0M155.2 130.9h0M18.4 43.4h0M170.4 124.7h0M165.9 124.9h0M73.7 104.3h0M146.9 43.4h0M123.8 50.5h0M119.8 51.7h0M87.8 103.3h0M85.7 107.3h0M109.2 34.4h0M106.0 37.6h0M82.2 82.8h0M85.3 80.8h0M6.7 93.6h0M2.9 93.8h0M1.6 95.4h0M67.8 40.5h0M115.9 16.2h0M118.6 21.0h0M113.6 18.6h0M20.7 105.5h0M23.6 101.9h0M20.4 108.5h0M3.9 72.0h0M2.9 75.9h0M49.9 10.2h0M52.4 9.2h0M30.9 100.6h0M31.4 97.5h0M35.9 102.3h0M68.9 105.5h0M67.6 102.4h0M41.1 85.8h0M42.9 84.2h0M104.5 77.0h0M182.6 26.2h0M184.3 24.4h0M126.6 9.1h0M129.8 13.1h0M132.0 8.2h0M129.1 11.5h0M126.2 11.6h0M128.1 8.1h0M92.3 10.5h0M97.1 8.6h0M96.7 13.3h0M48.7 29.4h0M163.1 125.3h0M164.7 120.0h0M108.6 120.4h0M181.9 3.2h0M130.8 69.6h0M185.3 111.7h0M186.0 115.1h0M170.7 32.4h0M167.5 31.9h0M128.2 61.0h0M129.4 63.4h0M49.4 70.0h0M62.6 97.3h0M102.6 10.5h0M83.9 6.0h0M188.2 51.9h0M64.2 105.9h0M59.3 103.9h0M80.7 21.2h0M65.0 124.7h0M67.6 123.8h0M138.0 127.2h0M137.3 122.0h0M137.8 90.6h0M138.9 93.0h0M100.1 72.4h0M99.9 74.9h0M98.8 70.5h0M121.3 14.0h0M117.2 15.1h0M123.4 11.0h0M4.6 102.2h0M53.5 6.1h0M182.7 82.0h0M34.7 2.0h0M116.3 57.6h0M113.8 62.1h0M187.1 38.7h0M187.4 42.8h0M29.9 127.0h0M120.4 0.4h0M72.0 0.2h0M67.0 0.3h0M108.0 7.6h0M110.5 8.6h0M5.2 72.2h0M6.1 69.3h0M157.5 106.9h0M160.2 108.9h0M159.8 107.8h0M163.3 20.3h0M158.0 20.2h0M160.6 16.7h0M84.8 40.0h0M153.8 107.4h0M152.8 110.2h0M12.3 89.4h0M14.5 87.1h0M35.3 93.0h0M32.6 89.3h0M33.6 89.8h0M77.4 52.9h0M93.5 51.5h0M43.9 82.9h0M98.0 42.3h0M19.6 44.0h0M182.9 103.7h0M184.0 109.1h0M9.5 101.4h0M10.8 105.3h0M45.9 43.9h0M162.8 71.2h0M150.0 122.8h0M146.0 124.6h0M178.3 120.9h0M176.3 122.0h0M180.7 122.4h0M187.5 82.4h0M188.5 78.4h0M7.9 7.8h0M180.9 26.0h0M104.6 0.3h0M102.2 1.3h0M100.9 2.1h0M141.4 54.0h0M139.3 55.4h0M138.6 52.8h0M108.4 54.0h0M107.8 49.7h0M121.2 45.0h0M117.1 42.8h0M123.2 42.9h0M6.4 12.4h0M69.5 58.5h0M70.1 60.7h0M165.8 83.4h0M163.0 80.5h0M125.3 90.8h0M127.1 89.2h0M65.5 57.2h0M66.1 60.6h0M110.0 33.7h0M107.7 35.2h0M114.6 34.5h0M4.1 101.4h0M1.6 106.1h0M18.6 6.5h0M22.7 6.2h0M21.9 5.5h0M144.2 10.1h0M131.1 111.0h0M133.6 114.3h0M97.6 72.3h0M99.5 74.9h0M165.8 125.1h0M5.1 25.6h0M41.5 63.5h0M45.7 61.1h0M53.5 67.7h0M54.2 71.9h0M56.6 72.1h0M64.8 59.0h0M173.9 90.7h0M171.3 88.7h0M91.0 7.9h0M129.3 126.1h0M132.5 127.0h0M11.9 13.6h0M13.3 16.4h0M9.7 9.7h0M61.3 62.6h0M64.3 63.0h0M66.5 62.8h0M56.9 2.0h0M54.4 0.3h0M21.5 113.4h0M22.9 117.1h0M25.2 109.9h0M46.4 109.4h0M42.5 110.2h0M42.6 3.0h0M123.1 5.3h0M124.9 10.0h0M125.4 1.4h0M131.4 99.8h0M128.5 99.7h0M63.8 57.2h0M14.4 133.1h0M112.4 73.2h0M13.0 99.8h0M13.8 103.4h0M103.3 45.1h0M106.2 45.5h0M101.7 42.7h0M13.8 102.1h0M8.5 101.3h0M15.0 104.7h0M151.3 30.0h0M156.1 31.0h0M26.7 27.0h0M60.7 15.4h0M124.7 51.9h0M119.3 52.1h0M128.1 8.8h0M22.8 84.9h0M25.8 83.6h0M1.3 55.0h0M100.9 6.5h0M98.6 8.9h0M103.4 9.9h0M14.8 115.9h0M72.9 30.2h0M72.7 25.5h0M28.1 21.8h0M45.9 86.7h0M152.6 79.4h0M36.3 15.0h0M37.6 17.4h0M32.9 14.3h0M28.4 76.1h0M31.6 76.2h0M161.8 38.8h0M50.1 39.8h0M132.9 123.9h0M135.1 121.4h0M47.8 74.7h0M50.1 72.2h0M27.3 54.1h0M163.9 4.0h0M162.9 1.4h0M165.5 1.7h0M105.8 45.5h0M89.1 67.9h0M88.5 65.0h0M177.7 56.4h0M178.0 61.0h0M23.9 80.3h0M21.5 81.7h0M183.9 7.8h0M26.4 90.6h0M21.6 89.2h0M70.7 15.1h0M90.4 13.5h0M30.4 46.7h0M33.4 45.0h0M123.4 49.8h0M123.6 52.1h0M120.3 49.0h0M84.4 38.3h0M2.0 63.8h0M4.3 62.4h0M1.6 67.8h0M68.3 49.0h0M72.1 50.8h0M162.4 10.8h0M157.2 9.7h0M18.6 30.9h0M17.3 34.1h0M173.2 97.6h0M91.8 17.7h0M107.6 20.7h0M39.6 86.2h0M180.3 82.8h0M184.2 80.1h0M7.7 67.5h0M3.8 67.2h0M7.2 70.3h0M165.1 125.6h0M22.5 12.8h0M18.1 12.9h0M69.3 49.4h0M67.2 47.8h0M68.0 45.4h0M166.5 129.9h0M170.6 127.4h0M106.6 36.0h0M47.7 42.3h0M175.0 40.6h0M93.0 12.7h0M97.6 10.9h0M177.2 108.0h0M181.4 108.8h0M152.5 43.7h0M79.7 11.1h0M83.4 11.4h0M77.0 9.2h0M6.6 56.4h0M109.1 16.9h0M33.5 87.9h0M147.8 89.7h0M151.1 86.2h0M147.6 84.5h0M21.6 18.8h0M20.8 23.5h0M19.2 23.1h0M17.7 118.5h0M15.1 114.9h0M144.1 24.4h0M81.3 5.6h0M83.4 7.2h0M37.5 71.4h0M119.1 63.8h0M121.1 68.0h0M155.4 125.6h0M172.5 12.2h0M173.1 8.6h0M168.9 13.2h0M70.3 61.0h0M74.8 60.2h0M29.3 70.5h0M42.6 47.0h0M70.1 41.7h0M68.4 37.8h0M68.6 44.1h0M38.0 50.7h0M140.0 40.6h0M142.1 41.9h0M184.1 125.1h0M179.7 122.0h0M38.1 107.8h0M40.1 106.4h0M111.6 42.7h0M114.1 39.8h0M9.6 38.3h0M7.6 39.7h0M76.7 80.1h0M78.9 81.0h0M78.3 73.2h0M75.0 72.4h0M76.1 73.8h0M110.5 106.7h0M113.5 107.7h0M109.7 109.2h0M5.6 64.4h0M68.5 59.5h0M79.6 53.8h0M82.5 55.8h0M132.5 105.6h0M128.7 106.5h0M9.4 63.7h0M11.5 67.1h0M12.3 67.4h0M92.9 98.5h0M95.9 98.7h0M100.3 4.5h0M102.3 8.1h0M23.9 74.1h0M63.4 55.0h0M65.5 57.4h0M3.6 98.6h0M4.0 101.6h0M-0.6 99.7h0M59.3 2.6h0M125.1 13.4h0M170.6 35.3h0M175.0 34.5h0M96.8 36.4h0M96.6 33.7h0M48.9 127.4h0M14.1 98.1h0M84.9 90.5h0M82.0 93.7h0M152.5 61.9h0M147.9 63.7h0M174.6 111.9h0M176.4 108.2h0M25.5 107.9h0M26.9 110.7h0M26.6 110.1h0M161.4 73.6h0M157.6 70.6h0M87.3 2.0h0M0.9 111.3h0M-3.3 108.5h0M170.5 53.2h0M172.6 52.0h0M108.3 42.4h0M17.4 68.3h0M64.5 131.0h0M63.5 134.1h0M61.0 130.4h0M116.2 93.5h0M114.3 96.0h0M30.0 76.0h0M26.6 76.8h0M27.9 81.0h0M11.3 59.0h0M49.3 29.2h0M44.9 31.4h0M53.4 28.6h0M39.8 99.9h0M43.2 102.1h0M24.1 96.1h0M94.1 60.1h0M97.9 60.2h0M97.4 60.1h0M33.5 55.5h0M36.2 58.3h0M36.1 51.2h0M130.7 39.3h0M128.9 41.4h0M186.6 78.9h0M74.1 133.5h0M42.0 19.7h0M38.9 18.0h0M104.1 118.0h0M101.2 13.8h0M98.3 11.1h0M101.3 16.4h0M94.3 14.3h0M97.6 15.4h0M172.9 9.0h0M45.4 114.3h0M43.1 113.8h0M83.9 108.3h0M0.7 74.2h0M4.9 72.8h0M53.5 74.1h0M51.4 75.3h0M39.6 0.6h0M79.1 128.2h0M81.9 131.3h0M26.1 40.7h0M21.8 40.2h0M138.6 111.4h0M10.7 102.4h0M96.1 19.5h0M91.2 27.9h0M87.7 28.9h0M10.5 105.7h0M12.4 101.8h0M136.9 18.4h0M138.9 20.0h0M14.7 9.8h0M4.3 46.5h0M112.3 34.8h0M109.5 38.9h0M108.6 34.5h0M40.3 55.2h0M41.6 57.1h0M109.5 33.0h0M108.7 37.2h0M108.3 37.6h0M110.6 34.5h0M110.1 29.8h0M110.6 33.2h0M110.6 43.4h0M109.5 48.7h0M108.5 45.1h0M165.8 89.1h0M98.4 81.2h0M106.0 74.1h0M109.3 41.8h0M112.8 42.3h0M34.0 96.0h0M35.4 91.4h0M31.4 96.5h0M96.3 70.4h0M95.8 66.2h0M146.0 38.6h0M140.8 38.9h0M104.3 47.7h0M98.9 47.9h0M101.8 45.3h0M120.5 73.5h0M119.9 78.5h0M118.2 72.8h0M74.4 83.1h0M16.9 115.1h0M87.4 21.9h0M86.3 26.6h0M0.7 75.6h0" stroke="#d4d26a" stroke-width="2.45" stroke-linecap="round"/></g><path d="M86.0 75.0L83.8 74.7M81.2 76.5L83.8 74.7M36.1 107.7L38.1 107.8M36.8 105.3L36.1 107.7M35.3 110.1L36.1 107.7M153.8 92.9L158.1 92.0M158.1 92.0L153.8 92.9M117.0 21.1L116.2 21.2M119.1 22.0L118.6 21.0M120.0 18.2L118.1 17.6M97.4 4.0L97.4 5.2M76.1 113.4L80.1 105.9M161.0 0.1L162.9 1.4M51.3 11.7L49.9 10.2M51.4 9.1L52.4 9.2M46.8 13.5L48.6 17.2M48.6 17.2L46.8 13.5M85.0 25.6L86.3 26.6M79.7 51.4L79.6 53.8M112.6 133.7L103.4 132.6M19.1 132.6L23.3 132.8M23.3 132.8L19.1 132.6M157.8 51.7L158.0 44.0M110.7 32.6L110.6 33.2M108.8 30.7L110.1 29.8M111.6 111.5L112.7 114.0M112.7 114.0L112.7 116.1M172.6 109.6L173.6 110.0M30.1 84.3L28.9 82.3M33.2 81.5L30.1 84.3M80.1 13.9L79.5 11.5M80.4 18.4L80.7 21.2M48.8 110.4L50.1 112.5M43.6 109.7L42.5 110.2M124.2 82.5L119.9 78.5M174.3 27.3L171.7 28.9M171.7 28.9L174.3 27.3M8.9 37.8L9.6 38.3M17.5 18.5L21.6 18.8M15.0 14.8L13.3 16.4M111.0 18.8L113.0 20.2M90.2 47.9L91.6 49.0M4.0 85.2L4.0 81.1M1.7 90.2L2.9 93.8M150.7 122.6L150.0 122.8M154.8 119.6L157.7 123.8M108.8 83.7L111.3 83.9M111.3 83.9L111.3 84.8M111.0 85.1L111.3 84.8M48.9 55.8L46.9 55.5M45.3 56.8L45.1 54.8M45.1 54.8L46.9 55.5M97.8 41.6L98.0 42.3M43.7 93.6L46.5 91.5M41.7 90.4L41.6 88.1M46.5 91.5L43.7 93.6M27.2 82.0L27.9 81.0M25.3 78.9L23.9 80.3M173.7 118.0L174.0 117.8M176.2 116.6L174.0 117.8M175.9 120.5L176.3 122.0M170.2 5.4L171.8 6.8M171.3 3.1L172.3 2.7M72.7 69.7L74.0 70.9M70.3 70.4L72.7 69.7M77.7 70.7L78.3 73.2M7.9 95.0L9.3 95.6M5.5 91.7L6.7 93.6M121.8 54.3L122.0 57.0M122.0 57.0L121.8 54.3M8.9 84.3L13.2 83.2M6.2 80.3L4.0 81.1M13.2 83.2L14.9 86.9M37.9 63.7L41.5 63.5M143.5 71.7L143.4 74.4M98.9 82.3L99.5 81.8M101.5 78.7L103.0 79.9M73.7 60.4L74.8 60.2M123.8 27.5L124.1 29.3M66.2 11.1L68.8 9.7M63.5 12.6L63.4 15.7M68.8 9.7L66.2 11.1M164.8 57.5L167.3 58.0M162.4 61.6L166.5 59.6M166.5 59.6L167.3 58.0M131.0 126.7L132.5 127.0M144.0 58.9L141.5 55.9M141.5 55.9L141.4 54.0M146.2 55.5L144.0 58.9M38.2 71.8L37.5 71.4M35.3 74.6L34.9 73.6M43.2 73.2L45.3 76.3M103.4 132.6L98.9 127.5M131.3 8.8L132.0 8.2M135.5 6.5L132.0 8.2M76.8 33.0L75.9 29.1M72.3 35.0L72.9 30.2M171.1 63.9L166.5 59.6M79.7 3.9L81.3 5.6M6.8 20.8L5.9 19.8M5.3 23.9L4.5 23.0M117.8 14.1L117.2 15.1M133.3 117.8L133.6 114.3M135.2 114.0L133.6 114.3M119.3 46.6L118.7 45.7M117.2 51.4L119.3 52.1M120.4 52.0L119.8 51.7M168.6 17.9L170.1 21.9M80.1 105.9L82.2 106.8M76.8 102.4L76.1 100.8M18.3 76.4L21.1 78.9M21.1 78.9L21.5 81.7M35.9 9.5L38.1 12.0M91.4 25.4L91.2 27.9M87.8 102.5L87.8 103.3M84.8 104.0L87.8 103.3M7.8 26.8L5.1 25.6M7.5 23.3L5.3 23.9M76.9 80.3L76.7 80.1M77.9 77.5L78.2 79.8M13.4 45.8L18.4 43.4M94.5 28.6L92.9 29.6M96.8 28.3L94.5 28.6M116.9 99.0L114.3 96.0M112.2 98.9L114.3 96.0M123.1 1.4L125.4 1.4M126.5 -0.8L127.3 0.5M8.6 124.6L13.5 123.7M13.5 123.7L8.6 124.6M103.0 79.9L101.5 78.7M99.5 81.8L98.9 82.3M113.6 49.0L113.1 46.1M110.7 47.8L109.5 48.7M136.2 39.7L140.0 40.6M111.3 84.8L111.0 85.1M114.4 85.9L111.3 84.8M75.6 78.0L76.0 79.6M80.2 80.3L78.9 81.0M155.2 80.9L152.9 82.2M152.9 82.2L155.2 80.9M157.3 78.3L158.9 75.4M29.4 48.7L28.8 49.0M26.5 49.5L28.8 49.0M139.5 31.9L140.6 36.0M140.4 27.8L139.5 31.9M107.3 79.3L106.4 82.6M174.0 117.8L173.7 118.0M1.8 34.8L8.9 37.8M19.5 72.6L18.3 76.4M173.4 21.6L170.1 21.9M170.1 21.9L173.4 21.6M64.3 66.3L64.3 63.0M142.0 52.3L141.4 54.0M124.2 132.6L126.0 136.5M124.5 127.6L124.2 132.6M126.0 136.5L124.2 132.6M110.3 61.9L112.2 63.7M113.8 63.9L112.2 63.7M105.9 62.3L110.3 61.9M56.8 103.9L57.4 105.1M94.0 102.4L92.9 98.5M41.6 88.1L41.7 90.4M171.5 92.1L173.9 90.7M172.5 89.0L171.3 88.7M170.0 95.3L171.5 92.1M177.6 119.9L178.3 120.9M178.7 117.9L177.6 119.9M140.4 49.3L139.9 48.3M158.9 75.4L161.4 73.6M161.2 73.3L161.4 73.6M4.2 69.1L6.1 69.3M3.6 71.3L3.9 72.0M6.2 66.1L6.5 65.8M110.6 40.9L109.3 41.8M114.6 43.2L112.8 42.3M27.3 99.9L30.9 100.6M64.3 61.5L64.3 63.0M62.5 58.1L63.8 57.2M121.7 70.2L121.1 68.0M80.1 56.3L82.5 55.8M188.3 50.3L188.2 51.9M74.0 70.9L72.7 69.7M89.6 97.9L92.9 98.5M147.4 24.0L144.1 24.4M151.2 24.5L147.4 24.0M152.1 41.9L152.5 43.7M152.7 44.8L152.5 43.7M136.3 79.7L132.6 75.0M75.9 29.1L72.9 30.2M80.7 28.4L75.9 29.1M147.1 105.5L153.8 107.4M85.5 33.0L87.7 28.9M79.0 103.4L76.8 102.4M82.2 106.8L83.9 108.3M76.1 100.8L76.6 100.5M10.1 76.6L6.2 80.3M18.5 64.3L21.3 64.7M14.7 63.3L12.6 61.9M21.3 64.7L18.5 64.3M36.7 91.4L35.4 91.4M37.7 95.3L38.0 98.0M99.9 21.1L99.6 18.9M98.5 24.3L99.9 21.1M12.7 10.0L14.7 9.8M10.6 5.8L10.9 3.5M149.0 16.3L148.1 12.7M148.1 12.7L149.0 16.3M143.4 74.4L143.5 71.7M38.0 98.0L39.8 99.9M33.8 96.2L34.0 96.0M63.0 110.8L61.6 108.7M118.1 17.6L120.0 18.2M112.6 12.1L114.1 15.7M26.4 27.5L26.7 27.0M21.2 28.1L18.6 30.9M60.4 105.7L59.3 103.9M57.4 105.1L56.8 103.9M61.6 108.7L63.0 110.8M83.8 74.7L86.0 75.0M85.0 69.9L89.1 67.9M116.2 21.2L117.0 21.1M113.0 20.2L113.6 18.6M95.1 19.0L96.1 19.5M99.6 18.9L98.8 17.4M98.8 17.4L99.6 18.9M25.9 64.0L21.3 64.7M23.4 68.7L21.3 64.7M68.6 62.0L70.1 60.7M45.3 76.3L47.8 74.7M23.3 110.5L25.2 109.9M23.5 114.6L21.5 113.4M14.5 4.3L13.7 4.7M3.1 26.7L5.1 25.6M100.3 15.8L101.3 16.4M97.2 15.5L97.6 15.4M107.9 44.5L108.5 45.1M137.1 105.5L134.1 103.3M134.1 103.3L132.5 105.6M78.2 83.6L78.9 81.0M78.2 79.8L78.9 81.0M77.7 58.2L75.7 59.2M75.8 61.6L74.8 60.2M75.7 59.2L74.8 60.2M82.3 50.4L79.7 51.4M86.1 47.0L90.2 47.9M46.4 113.1L45.4 114.3M50.1 112.5L48.8 110.4M20.0 121.9L21.2 120.4M24.8 120.1L22.9 117.1M70.1 73.2L70.3 70.4M42.1 100.0L43.2 102.1M18.7 106.2L20.7 105.5M15.4 104.5L15.0 104.7M17.4 110.6L18.2 113.7M4.5 23.0L5.3 23.9M5.9 19.8L6.8 20.8M67.7 78.5L69.5 80.1M86.4 42.0L84.8 40.0M177.4 131.0L178.6 129.9M132.6 75.0L130.8 69.6M36.4 117.9L43.1 113.8M22.9 92.6L24.1 96.1M95.3 39.6L96.8 41.3M98.4 36.8L96.8 36.4M95.7 42.8L96.8 41.3M176.1 89.4L173.9 90.7M87.9 10.2L91.0 7.9M100.9 6.1L100.9 6.5M97.4 5.2L97.4 4.0M5.5 105.9L4.6 102.2M0.5 119.5L0.9 111.3M105.6 86.4L107.8 87.0M106.4 82.6L108.8 83.7M98.9 127.5L103.4 132.6M21.3 58.4L22.1 55.5M22.0 53.6L22.1 55.5M22.1 55.5L20.7 55.3M92.9 29.6L94.5 28.6M92.7 32.5L92.9 29.6M137.4 114.8L135.2 114.0M150.4 31.9L151.3 30.0M146.4 33.9L150.4 31.9M97.0 50.8L98.9 47.9M95.2 46.2L95.7 42.8M149.5 8.2L148.0 3.9M148.0 3.9L144.7 2.8M114.1 18.0L113.6 18.6M114.1 15.7L115.9 16.2M114.4 23.2L111.9 22.8M26.9 52.7L27.3 54.1M31.9 50.5L29.6 50.0M116.4 39.6L114.1 39.8M79.5 11.5L79.7 11.1M76.7 16.2L80.1 13.9M116.1 5.3L113.1 4.3M168.0 123.8L165.9 124.9M170.7 122.7L170.4 124.7M72.0 6.6L74.6 8.1M34.9 73.6L35.3 74.6M76.0 79.6L76.7 80.1M70.9 81.4L69.5 80.1M129.0 115.6L127.0 116.8M127.0 116.8L129.0 115.6M107.8 87.0L105.6 86.4M172.3 2.7L171.3 3.1M167.6 4.3L170.2 5.4M127.2 40.5L128.9 41.4M129.8 41.2L128.9 41.4M113.1 4.3L116.1 5.3M108.7 4.9L108.0 4.4M98.2 73.5L97.6 72.3M96.9 71.1L96.3 70.4M42.9 39.1L45.9 43.9M91.7 1.5L90.4 -0.5M90.4 -0.5L91.7 1.5M23.2 103.8L23.6 101.9M26.2 105.7L25.5 107.9M74.6 8.1L75.2 7.7M73.6 12.5L74.5 10.6M42.1 124.0L48.9 127.4M66.6 95.4L67.7 96.0M70.7 92.8L69.6 90.6M13.7 4.7L14.5 4.3M10.9 3.5L10.6 5.8M126.9 24.9L123.8 27.5M124.1 29.3L123.8 27.5M131.4 25.8L126.9 24.9M41.1 10.1L42.3 13.3M38.1 12.0L35.9 9.5M40.3 15.0L42.3 13.3M7.2 18.2L5.9 19.8M3.5 18.3L5.9 19.8M4.0 81.1L6.2 80.3M2.7 78.4L2.9 75.9M0.2 72.9L0.7 74.2M131.3 106.7L132.5 105.6M93.2 75.6L94.3 73.6M90.3 78.8L93.2 75.6M94.7 86.6L98.9 82.3M129.1 5.4L130.7 3.7M130.7 3.7L129.1 5.4M74.5 95.9L70.7 92.8M76.6 100.5L76.1 100.8M38.9 75.5L37.3 73.5M37.3 73.5L38.2 71.8M140.6 36.0L140.8 38.9M71.6 89.7L69.6 90.6M150.2 124.3L150.0 122.8M146.5 126.4L146.0 124.6M9.3 95.6L7.9 95.0M36.8 47.8L38.0 50.7M162.6 22.9L163.3 20.3M164.1 18.2L163.3 20.3M145.4 131.5L146.5 126.4M103.7 107.2L109.7 109.2M167.3 58.0L166.5 59.6M51.3 76.2L51.4 75.3M50.9 79.1L51.3 76.2M91.6 49.0L90.2 47.9M127.3 0.5L126.5 -0.8M75.2 7.7L74.6 8.1M75.2 10.5L74.5 10.6M74.5 10.6L75.2 10.5M102.4 90.4L103.8 91.1M143.2 41.5L142.1 41.9M168.4 8.5L168.1 11.5M168.1 11.5L168.9 13.2M171.8 6.8L170.2 5.4M170.8 83.6L165.8 83.4M43.2 52.0L45.8 52.2M44.4 48.9L42.6 47.0M121.2 47.4L120.3 49.0M118.7 45.7L119.3 46.6M40.6 24.1L42.0 19.7M103.8 91.1L102.4 90.4M29.6 50.0L29.6 49.7M1.8 67.3L1.6 67.8M6.5 65.8L6.2 66.1M144.7 2.8L148.0 3.9M81.7 129.0L81.9 131.3M82.7 124.0L81.7 129.0M154.4 9.4L157.2 9.7M157.9 6.1L157.2 9.7M99.8 1.4L100.9 2.1M101.8 0.1L102.2 1.3M117.1 46.2L118.7 45.7M113.1 46.1L110.7 47.8M21.7 112.2L21.5 113.4M18.2 113.7L16.9 115.1M102.8 5.7L100.9 6.1M100.3 3.1L99.4 3.4M99.4 3.4L100.3 3.1M188.6 98.9L192.2 98.7M192.2 98.7L188.6 98.9M47.6 108.2L46.4 109.4M51.2 108.5L48.8 110.4M42.3 108.5L42.5 110.2M143.8 117.5L146.7 113.7M146.7 113.7L143.8 117.5M28.8 49.0L29.4 48.7M176.5 128.0L178.6 129.9M178.6 129.9L177.4 131.0M39.3 84.3L39.6 86.2M179.7 88.2L176.1 89.4M88.6 17.3L91.8 17.7M86.0 15.1L88.6 17.3M139.9 48.3L140.4 49.3M140.6 50.6L140.4 49.3M53.1 17.9L48.6 17.2M65.8 94.3L66.6 95.4M67.7 96.0L66.6 95.4M69.6 90.6L71.6 89.7M14.9 86.9L14.5 87.1M11.3 89.9L12.3 89.4M114.2 60.1L113.8 62.1M112.2 63.7L113.8 63.9M125.1 35.9L127.7 32.8M127.7 32.8L125.1 35.9M112.7 116.1L112.7 114.0M110.1 120.2L108.6 120.4M18.9 120.1L17.7 118.5M21.2 120.4L20.0 121.9M29.6 9.7L27.8 13.8M27.8 13.8L29.6 9.7M25.3 6.4L22.7 6.2M185.5 133.0L178.6 129.9M12.6 61.9L14.7 63.3M98.4 78.3L98.4 81.2M98.0 12.9L96.7 13.3M31.7 87.0L33.5 87.9M28.9 82.3L27.9 81.0M29.6 49.7L29.6 50.0M20.7 55.3L22.1 55.5M107.2 9.1L108.0 7.6M96.8 41.3L97.8 41.6M46.9 55.5L45.1 54.8M111.9 22.8L114.4 23.2M29.4 130.0L29.9 127.0M25.5 126.4L29.9 127.0M43.5 106.8L42.3 108.5M45.7 110.1L46.4 109.4M5.4 14.8L6.4 12.4M2.3 10.9L6.4 12.4M8.8 15.8L7.2 18.2M14.9 35.0L17.3 34.1M13.1 38.3L9.6 38.3M49.1 49.3L45.8 52.2M45.8 52.2L43.2 52.0M63.4 15.7L60.7 15.4M67.1 17.1L63.4 15.7M60.1 14.6L60.7 15.4M42.3 13.3L40.3 15.0M38.9 17.4L38.9 18.0M98.8 70.6L98.8 70.5M94.3 73.6L93.2 75.6M69.5 80.1L70.9 81.4M70.7 84.7L70.9 81.4M10.6 24.6L13.0 25.4M13.0 25.4L10.6 24.6M54.3 91.1L46.5 91.5M158.0 44.0L152.7 44.8M149.8 86.1L151.1 86.2M153.8 87.3L151.1 86.2M110.2 0.7L108.0 4.4M108.0 4.4L108.7 4.9M173.6 110.0L172.6 109.6M83.7 100.7L84.8 104.0M81.6 96.4L82.0 93.7M158.7 128.2L155.4 125.6M157.7 123.8L155.4 125.6M155.2 130.9L158.7 128.2M18.4 43.4L19.6 44.0M170.4 124.7L170.7 122.7M165.9 124.9L165.8 125.1M73.7 104.3L76.8 102.4M146.9 43.4L143.2 41.5M123.8 50.5L123.4 49.8M119.8 51.7L119.3 52.1M87.8 103.3L87.8 102.5M85.7 107.3L83.9 108.3M109.2 34.4L108.6 34.5M106.0 37.6L106.6 36.0M82.2 82.8L80.2 80.3M85.3 80.8L82.2 82.8M6.7 93.6L7.9 95.0M2.9 93.8L1.6 95.4M1.6 95.4L2.9 93.8M67.8 40.5L70.1 41.7M115.9 16.2L117.2 15.1M118.6 21.0L119.1 22.0M113.6 18.6L114.1 18.0M20.7 105.5L18.7 106.2M23.6 101.9L23.2 103.8M20.4 108.5L18.7 106.2M3.9 72.0L3.6 71.3M2.9 75.9L0.7 75.6M49.9 10.2L51.4 9.1M52.4 9.2L51.4 9.1M30.9 100.6L31.4 97.5M31.4 97.5L31.4 96.5M35.9 102.3L36.8 105.3M68.9 105.5L67.6 102.4M67.6 102.4L68.9 105.5M41.1 85.8L39.6 86.2M42.9 84.2L43.9 82.9M104.5 77.0L103.0 79.9M182.6 26.2L180.9 26.0M184.3 24.4L182.6 26.2M126.6 9.1L128.1 8.8M129.8 13.1L129.1 11.5M132.0 8.2L131.3 8.8M129.1 11.5L129.8 13.1M126.2 11.6L124.9 10.0M128.1 8.1L128.1 8.8M92.3 10.5L93.0 12.7M97.1 8.6L98.6 8.9M96.7 13.3L98.0 12.9M48.7 29.4L49.3 29.2M163.1 125.3L165.1 125.6M164.7 120.0L165.9 124.9M108.6 120.4L110.1 120.2M181.9 3.2L183.9 7.8M130.8 69.6L132.6 75.0M185.3 111.7L184.0 109.1M186.0 115.1L185.3 111.7M170.7 32.4L170.6 35.3M167.5 31.9L170.7 32.4M128.2 61.0L129.4 63.4M129.4 63.4L128.2 61.0M49.4 70.0L50.1 72.2M62.6 97.3L65.8 94.3M102.6 10.5L103.4 9.9M83.9 6.0L83.4 7.2M188.2 51.9L188.3 50.3M64.2 105.9L61.6 108.7M59.3 103.9L60.4 105.7M80.7 21.2L80.4 18.4M65.0 124.7L67.6 123.8M67.6 123.8L65.0 124.7M138.0 127.2L137.3 122.0M137.3 122.0L135.1 121.4M137.8 90.6L138.9 93.0M138.9 93.0L137.8 90.6M100.1 72.4L98.2 73.5M99.9 74.9L99.5 74.9M98.8 70.5L98.8 70.6M121.3 14.0L117.8 14.1M117.2 15.1L117.8 14.1M123.4 11.0L124.9 10.0M4.6 102.2L4.0 101.6M53.5 6.1L52.4 9.2M182.7 82.0L184.2 80.1M34.7 2.0L39.6 0.6M116.3 57.6L114.2 60.1M113.8 62.1L113.8 63.9M187.1 38.7L187.4 42.8M187.4 42.8L187.1 38.7M29.9 127.0L29.4 130.0M120.4 0.4L123.1 1.4M72.0 0.2L67.0 0.3M67.0 0.3L72.0 0.2M108.0 7.6L107.2 9.1M110.5 8.6L108.0 7.6M5.2 72.2L4.9 72.8M6.1 69.3L7.2 70.3M157.5 106.9L159.8 107.8M160.2 108.9L159.8 107.8M159.8 107.8L160.2 108.9M163.3 20.3L164.1 18.2M158.0 20.2L160.6 16.7M160.6 16.7L164.1 18.2M84.8 40.0L84.4 38.3M153.8 107.4L152.8 110.2M152.8 110.2L153.8 107.4M12.3 89.4L11.3 89.9M14.5 87.1L14.9 86.9M35.3 93.0L35.4 91.4M32.6 89.3L33.6 89.8M33.6 89.8L32.6 89.3M77.4 52.9L79.6 53.8M93.5 51.5L91.6 49.0M43.9 82.9L42.9 84.2M98.0 42.3L97.8 41.6M19.6 44.0L18.4 43.4M182.9 103.7L181.4 108.8M184.0 109.1L181.4 108.8M9.5 101.4L8.5 101.3M10.8 105.3L10.5 105.7M45.9 43.9L47.7 42.3M162.8 71.2L161.2 73.3M150.0 122.8L150.7 122.6M146.0 124.6L146.5 126.4M178.3 120.9L177.6 119.9M176.3 122.0L175.9 120.5M180.7 122.4L179.7 122.0M187.5 82.4L186.6 78.9M188.5 78.4L186.6 78.9M7.9 7.8L9.7 9.7M180.9 26.0L182.6 26.2M104.6 0.3L102.2 1.3M102.2 1.3L101.8 0.1M100.9 2.1L100.3 3.1M141.4 54.0L142.0 52.3M139.3 55.4L141.5 55.9M138.6 52.8L139.3 55.4M108.4 54.0L107.8 49.7M107.8 49.7L109.5 48.7M121.2 45.0L121.2 47.4M117.1 42.8L114.6 43.2M123.2 42.9L121.2 45.0M6.4 12.4L5.4 14.8M69.5 58.5L68.5 59.5M70.1 60.7L70.3 61.0M165.8 83.4L163.0 80.5M163.0 80.5L165.8 83.4M125.3 90.8L127.1 89.2M127.1 89.2L125.3 90.8M65.5 57.2L65.5 57.4M66.1 60.6L64.3 61.5M110.0 33.7L110.6 33.2M107.7 35.2L108.6 34.5M114.6 34.5L112.3 34.8M4.1 101.4L4.0 101.6M1.6 106.1L5.5 105.9M18.6 6.5L21.9 5.5M22.7 6.2L21.9 5.5M21.9 5.5L22.7 6.2M144.2 10.1L148.1 12.7M131.1 111.0L133.6 114.3M133.6 114.3L135.2 114.0M97.6 72.3L98.2 73.5M99.5 74.9L99.9 74.9M165.8 125.1L165.9 124.9M5.1 25.6L5.3 23.9M41.5 63.5L37.9 63.7M45.7 61.1L45.3 56.8M53.5 67.7L54.2 71.9M54.2 71.9L53.5 74.1M56.6 72.1L54.2 71.9M64.8 59.0L65.5 57.4M173.9 90.7L172.5 89.0M171.3 88.7L172.5 89.0M91.0 7.9L92.3 10.5M129.3 126.1L131.0 126.7M132.5 127.0L131.0 126.7M11.9 13.6L13.3 16.4M13.3 16.4L15.0 14.8M9.7 9.7L7.9 7.8M61.3 62.6L64.3 63.0M64.3 63.0L64.3 61.5M66.5 62.8L66.1 60.6M56.9 2.0L59.3 2.6M54.4 0.3L56.9 2.0M21.5 113.4L21.7 112.2M22.9 117.1L23.5 114.6M25.2 109.9L26.6 110.1M46.4 109.4L45.7 110.1M42.5 110.2L43.6 109.7M42.6 3.0L39.6 0.6M123.1 5.3L123.1 1.4M124.9 10.0L123.4 11.0M125.4 1.4L127.3 0.5M131.4 99.8L128.5 99.7M128.5 99.7L131.4 99.8M63.8 57.2L65.5 57.2M14.4 133.1L19.1 132.6M112.4 73.2L118.2 72.8M13.0 99.8L14.1 98.1M13.8 103.4L13.8 102.1M103.3 45.1L101.8 45.3M106.2 45.5L105.8 45.5M101.7 42.7L101.8 45.3M13.8 102.1L13.8 103.4M8.5 101.3L9.5 101.4M15.0 104.7L15.4 104.5M151.3 30.0L150.4 31.9M156.1 31.0L151.3 30.0M26.7 27.0L26.4 27.5M60.7 15.4L60.1 14.6M124.7 51.9L123.6 52.1M119.3 52.1L119.8 51.7M128.1 8.8L128.1 8.1M22.8 84.9L25.8 83.6M25.8 83.6L27.2 82.0M1.3 55.0L6.6 56.4M100.9 6.5L100.9 6.1M98.6 8.9L97.1 8.6M103.4 9.9L102.6 10.5M14.8 115.9L15.1 114.9M72.9 30.2L75.9 29.1M72.7 25.5L72.9 30.2M28.1 21.8L26.7 27.0M45.9 86.7L42.9 84.2M152.6 79.4L152.9 82.2M36.3 15.0L37.6 17.4M37.6 17.4L38.9 17.4M32.9 14.3L36.3 15.0M28.4 76.1L30.0 76.0M31.6 76.2L30.0 76.0M161.8 38.8L158.0 44.0M50.1 39.8L47.7 42.3M132.9 123.9L132.5 127.0M135.1 121.4L137.3 122.0M47.8 74.7L45.3 76.3M50.1 72.2L49.4 70.0M27.3 54.1L26.9 52.7M163.9 4.0L162.9 1.4M162.9 1.4L161.0 0.1M165.5 1.7L162.9 1.4M105.8 45.5L106.2 45.5M89.1 67.9L88.5 65.0M88.5 65.0L89.1 67.9M177.7 56.4L178.0 61.0M178.0 61.0L177.7 56.4M23.9 80.3L25.3 78.9M21.5 81.7L21.1 78.9M183.9 7.8L181.9 3.2M26.4 90.6L22.9 92.6M21.6 89.2L22.9 92.6M70.7 15.1L73.6 12.5M90.4 13.5L93.0 12.7M30.4 46.7L29.4 48.7M33.4 45.0L30.4 46.7M123.4 49.8L123.8 50.5M123.6 52.1L124.7 51.9M120.3 49.0L121.2 47.4M84.4 38.3L84.8 40.0M2.0 63.8L4.3 62.4M4.3 62.4L5.6 64.4M1.6 67.8L1.8 67.3M68.3 49.0L69.3 49.4M72.1 50.8L69.3 49.4M162.4 10.8L157.2 9.7M157.2 9.7L154.4 9.4M18.6 30.9L17.3 34.1M17.3 34.1L14.9 35.0M173.2 97.6L170.0 95.3M91.8 17.7L88.6 17.3M107.6 20.7L111.0 18.8M39.6 86.2L41.1 85.8M180.3 82.8L182.7 82.0M184.2 80.1L182.7 82.0M7.7 67.5L6.5 65.8M3.8 67.2L1.8 67.3M7.2 70.3L6.1 69.3M165.1 125.6L165.8 125.1M22.5 12.8L18.1 12.9M18.1 12.9L15.0 14.8M69.3 49.4L68.3 49.0M67.2 47.8L68.3 49.0M68.0 45.4L68.6 44.1M166.5 129.9L165.1 125.6M170.6 127.4L170.4 124.7M106.6 36.0L107.7 35.2M47.7 42.3L45.9 43.9M175.0 40.6L175.0 34.5M93.0 12.7L94.3 14.3M97.6 10.9L98.3 11.1M177.2 108.0L176.4 108.2M181.4 108.8L184.0 109.1M152.5 43.7L152.7 44.8M79.7 11.1L79.5 11.5M83.4 11.4L79.7 11.1M77.0 9.2L75.2 10.5M6.6 56.4L11.3 59.0M109.1 16.9L111.0 18.8M33.5 87.9L32.6 89.3M147.8 89.7L149.8 86.1M151.1 86.2L149.8 86.1M147.6 84.5L149.8 86.1M21.6 18.8L17.5 18.5M20.8 23.5L19.2 23.1M19.2 23.1L20.8 23.5M17.7 118.5L18.9 120.1M15.1 114.9L14.8 115.9M144.1 24.4L147.4 24.0M81.3 5.6L79.7 3.9M83.4 7.2L83.9 6.0M37.5 71.4L38.2 71.8M119.1 63.8L121.1 68.0M121.1 68.0L121.7 70.2M155.4 125.6L157.7 123.8M172.5 12.2L172.9 9.0M173.1 8.6L172.9 9.0M168.9 13.2L168.1 11.5M70.3 61.0L70.1 60.7M74.8 60.2L73.7 60.4M29.3 70.5L30.0 76.0M42.6 47.0L44.4 48.9M70.1 41.7L67.8 40.5M68.4 37.8L67.8 40.5M68.6 44.1L68.0 45.4M38.0 50.7L36.1 51.2M140.0 40.6L140.8 38.9M142.1 41.9L143.2 41.5M184.1 125.1L180.7 122.4M179.7 122.0L180.7 122.4M38.1 107.8L36.1 107.7M40.1 106.4L38.1 107.8M111.6 42.7L110.6 43.4M114.1 39.8L116.4 39.6M9.6 38.3L8.9 37.8M7.6 39.7L8.9 37.8M76.7 80.1L76.9 80.3M78.9 81.0L78.2 79.8M78.3 73.2L76.1 73.8M75.0 72.4L76.1 73.8M76.1 73.8L75.0 72.4M110.5 106.7L109.7 109.2M113.5 107.7L110.5 106.7M109.7 109.2L110.5 106.7M5.6 64.4L6.5 65.8M68.5 59.5L69.5 58.5M79.6 53.8L77.4 52.9M82.5 55.8L80.1 56.3M132.5 105.6L131.3 106.7M128.7 106.5L131.3 106.7M9.4 63.7L6.5 65.8M11.5 67.1L12.3 67.4M12.3 67.4L11.5 67.1M92.9 98.5L95.9 98.7M95.9 98.7L92.9 98.5M100.3 4.5L100.3 3.1M102.3 8.1L103.4 9.9M23.9 74.1L26.6 76.8M63.4 55.0L63.8 57.2M65.5 57.4L65.5 57.2M3.6 98.6L4.1 101.4M4.0 101.6L4.1 101.4M-0.6 99.7L3.6 98.6M59.3 2.6L56.9 2.0M125.1 13.4L126.2 11.6M170.6 35.3L170.7 32.4M175.0 34.5L170.6 35.3M96.8 36.4L98.4 36.8M96.6 33.7L96.8 36.4M48.9 127.4L42.1 124.0M14.1 98.1L13.0 99.8M84.9 90.5L82.0 93.7M82.0 93.7L81.6 96.4M152.5 61.9L147.9 63.7M147.9 63.7L152.5 61.9M174.6 111.9L173.6 110.0M176.4 108.2L177.2 108.0M25.5 107.9L25.2 109.9M26.9 110.7L26.6 110.1M26.6 110.1L26.9 110.7M161.4 73.6L161.2 73.3M157.6 70.6L161.2 73.3M87.3 2.0L90.4 -0.5M0.9 111.3L-3.3 108.5M-3.3 108.5L0.9 111.3M170.5 53.2L172.6 52.0M172.6 52.0L170.5 53.2M108.3 42.4L109.3 41.8M17.4 68.3L18.5 64.3M64.5 131.0L63.5 134.1M63.5 134.1L64.5 131.0M61.0 130.4L64.5 131.0M116.2 93.5L114.3 96.0M114.3 96.0L116.2 93.5M30.0 76.0L28.4 76.1M26.6 76.8L28.4 76.1M27.9 81.0L27.2 82.0M11.3 59.0L12.6 61.9M49.3 29.2L48.7 29.4M44.9 31.4L48.7 29.4M53.4 28.6L49.3 29.2M39.8 99.9L42.1 100.0M43.2 102.1L42.1 100.0M24.1 96.1L22.9 92.6M94.1 60.1L97.4 60.1M97.9 60.2L97.4 60.1M97.4 60.1L97.9 60.2M33.5 55.5L36.2 58.3M36.2 58.3L33.5 55.5M36.1 51.2L38.0 50.7M130.7 39.3L129.8 41.2M128.9 41.4L129.8 41.2M186.6 78.9L188.5 78.4M74.1 133.5L79.1 128.2M42.0 19.7L38.9 18.0M38.9 18.0L38.9 17.4M104.1 118.0L108.6 120.4M101.2 13.8L100.3 15.8M98.3 11.1L97.6 10.9M101.3 16.4L100.3 15.8M94.3 14.3L93.0 12.7M97.6 15.4L97.2 15.5M172.9 9.0L173.1 8.6M45.4 114.3L46.4 113.1M43.1 113.8L45.4 114.3M83.9 108.3L85.7 107.3M0.7 74.2L0.7 75.6M4.9 72.8L5.2 72.2M53.5 74.1L51.4 75.3M51.4 75.3L51.3 76.2M39.6 0.6L42.6 3.0M79.1 128.2L81.7 129.0M81.9 131.3L81.7 129.0M26.1 40.7L21.8 40.2M21.8 40.2L26.1 40.7M138.6 111.4L137.4 114.8M10.7 102.4L9.5 101.4M96.1 19.5L95.1 19.0M91.2 27.9L92.9 29.6M87.7 28.9L86.3 26.6M10.5 105.7L10.8 105.3M12.4 101.8L13.8 102.1M136.9 18.4L138.9 20.0M138.9 20.0L136.9 18.4M14.7 9.8L12.7 10.0M4.3 46.5L7.6 39.7M112.3 34.8L110.6 34.5M109.5 38.9L108.3 37.6M108.6 34.5L109.2 34.4M40.3 55.2L41.6 57.1M41.6 57.1L40.3 55.2M109.5 33.0L110.0 33.7M108.7 37.2L108.3 37.6M108.3 37.6L108.7 37.2M110.6 34.5L110.0 33.7M110.1 29.8L108.8 30.7M110.6 33.2L110.7 32.6M110.6 43.4L111.6 42.7M109.5 48.7L110.7 47.8M108.5 45.1L107.9 44.5M165.8 89.1L171.3 88.7M98.4 81.2L98.9 82.3M106.0 74.1L104.5 77.0M109.3 41.8L108.3 42.4M112.8 42.3L111.6 42.7M34.0 96.0L33.8 96.2M35.4 91.4L36.7 91.4M31.4 96.5L31.4 97.5M96.3 70.4L96.9 71.1M95.8 66.2L96.3 70.4M146.0 38.6L143.2 41.5M140.8 38.9L140.0 40.6M104.3 47.7L105.8 45.5M98.9 47.9L97.0 50.8M101.8 45.3L103.3 45.1M120.5 73.5L118.2 72.8M119.9 78.5L120.5 73.5M118.2 72.8L120.5 73.5M74.4 83.1L76.9 80.3M16.9 115.1L15.1 114.9M87.4 21.9L85.0 25.6M86.3 26.6L85.0 25.6M0.7 75.6L0.7 74.2" stroke="#d4d26a" stroke-width="0.95" fill="none"/></g></g><g transform="translate(4,276)" clip-path="url(#cpC)"><g filter="url(#soft)"><g><rect width="190" height="134" fill="#06122a"/><rect width="190" height="134" filter="url(#tz)" mask="url(#mCD)"/><path d="M0.9 41.2h0M119.2 87.6h0M45.1 17.5h0M164.9 59.1h0M10.1 112.9h0M149.4 109.7h0M173.0 95.4h0M168.3 50.3h0M78.7 83.2h0M50.7 101.4h0M172.9 57.7h0M138.2 126.5h0M141.4 17.1h0M150.0 60.2h0M31.5 90.7h0M157.8 6.5h0M135.0 53.3h0M33.2 112.5h0M96.5 81.2h0M14.9 71.3h0M96.8 24.8h0M120.3 45.8h0M58.9 86.5h0M9.5 73.8h0M11.5 85.4h0M19.3 18.3h0M169.5 27.6h0M174.3 63.6h0M187.4 16.5h0M56.3 90.4h0M95.0 55.9h0M186.3 25.5h0M67.8 75.0h0M9.4 66.9h0M43.8 53.7h0M104.3 95.8h0M174.8 118.6h0M101.8 40.7h0M172.0 92.5h0M175.3 97.5h0M61.6 37.8h0M42.1 82.2h0M65.1 15.4h0M58.0 57.4h0M41.2 115.9h0M10.2 130.6h0M133.4 91.2h0M54.1 84.5h0M25.8 62.3h0M124.4 114.5h0M71.3 109.4h0M72.7 123.2h0M165.2 25.9h0M91.7 72.7h0M24.4 121.7h0M141.4 15.1h0M19.7 48.3h0M117.7 90.0h0M36.2 67.6h0M49.2 60.6h0M41.9 3.8h0M180.9 82.5h0M160.7 9.1h0M181.4 58.9h0M152.9 132.0h0M74.1 24.3h0M10.0 82.7h0M185.5 11.5h0M167.5 12.5h0M67.3 78.0h0M3.3 77.8h0M154.1 51.9h0M97.0 67.8h0M60.2 41.0h0M47.0 6.0h0M178.2 6.0h0M3.4 102.0h0M167.4 44.1h0M166.1 47.7h0M151.4 76.0h0M65.1 94.0h0M134.8 71.5h0M186.8 63.4h0M32.8 53.8h0M34.1 76.3h0M37.8 34.0h0M136.6 133.9h0M70.7 72.8h0M5.6 130.6h0M120.2 45.8h0M85.3 38.7h0M64.6 54.5h0M156.2 47.5h0M31.4 2.2h0M107.8 3.9h0M169.8 70.6h0M23.6 62.4h0M153.4 106.7h0M132.9 69.1h0M175.3 70.2h0M124.2 122.6h0M170.4 133.5h0M9.0 71.2h0M128.4 19.9h0M17.9 88.4h0M6.5 132.6h0M163.7 37.1h0M49.9 27.2h0M47.7 107.4h0M145.6 100.1h0M97.2 124.0h0M146.4 54.0h0M32.8 87.9h0M172.2 11.5h0M76.6 69.7h0M70.3 92.3h0M118.7 52.9h0M103.1 39.3h0M136.9 125.0h0M163.0 77.1h0M106.0 16.5h0M88.0 108.1h0M125.8 40.4h0M173.4 110.9h0M181.9 55.2h0M185.4 102.0h0M178.8 125.7h0M187.9 54.7h0M71.1 63.8h0M47.2 41.0h0M3.8 96.8h0M189.6 11.8h0M176.0 39.3h0M6.3 128.8h0M96.3 120.3h0M177.8 53.9h0M143.5 33.9h0M185.7 82.4h0M133.4 101.2h0M177.8 55.9h0M39.1 99.6h0M35.8 116.8h0M10.0 69.3h0M146.9 69.4h0M37.1 26.4h0M129.8 101.2h0M53.0 68.6h0M14.0 132.4h0M166.7 46.7h0M74.1 60.8h0M146.4 63.1h0M75.8 90.1h0M116.9 10.8h0M74.1 127.7h0M119.0 113.8h0M113.7 110.6h0M180.5 44.7h0M35.3 43.8h0M136.6 126.9h0M26.7 10.0h0M75.8 89.5h0M101.9 111.5h0M71.1 43.0h0M16.0 65.3h0M156.0 83.2h0M21.2 9.6h0M80.3 50.0h0M25.1 79.9h0M98.7 107.0h0M1.7 53.7h0M93.3 54.2h0M45.1 16.1h0M38.8 69.4h0M32.1 73.2h0M103.0 44.3h0M174.7 128.4h0M155.7 36.0h0M30.7 129.5h0M182.0 83.3h0M153.4 75.2h0M39.4 26.9h0M112.0 79.5h0M165.2 14.0h0M132.3 81.1h0M182.3 76.2h0M113.8 86.8h0M161.5 37.9h0M43.8 56.8h0M35.3 81.2h0M35.2 12.5h0M51.9 30.6h0M148.4 118.0h0M46.3 21.7h0M89.6 122.7h0M178.6 132.9h0M139.9 25.6h0M157.5 121.0h0M24.6 75.8h0M78.7 2.1h0M159.6 67.4h0M8.4 113.8h0M156.4 99.8h0M139.8 105.6h0M99.2 59.1h0M59.7 95.1h0M167.0 77.1h0M103.7 55.7h0M44.0 70.8h0M13.0 75.8h0M54.2 56.5h0M50.5 20.2h0M166.9 97.2h0M182.2 112.9h0M157.1 131.1h0M133.3 126.4h0M26.5 58.8h0M25.4 42.7h0M184.3 88.8h0M147.5 20.9h0M181.1 49.7h0M132.1 77.5h0M101.6 118.6h0M188.6 78.7h0M137.3 21.0h0M144.5 32.2h0M36.1 27.5h0M134.1 104.9h0M178.5 65.6h0M130.2 46.7h0M37.1 62.3h0M120.2 83.1h0M92.3 70.7h0M20.7 82.9h0M14.8 61.1h0M177.7 101.5h0M154.4 93.7h0M60.2 53.9h0M172.3 18.7h0M35.8 130.1h0M72.1 61.3h0M24.2 16.6h0M111.8 78.6h0M31.9 79.4h0M176.3 74.8h0M88.4 99.9h0M132.1 76.1h0M1.0 121.0h0M153.3 93.2h0M127.2 16.1h0M103.2 116.8h0M70.6 96.3h0M20.6 24.6h0M141.8 82.1h0M97.7 24.9h0M5.5 87.1h0M8.1 38.2h0M149.0 48.6h0M124.9 30.6h0M13.8 117.8h0M35.3 96.9h0M17.0 62.5h0M19.1 56.0h0M3.5 49.8h0M51.5 58.4h0M161.2 10.9h0M35.8 38.5h0M182.2 73.0h0M36.9 102.8h0M169.8 107.7h0M179.1 53.6h0M186.0 94.6h0M182.6 69.4h0M12.2 4.7h0M109.2 66.8h0M133.4 9.8h0M59.9 97.8h0M103.9 80.9h0M138.6 78.3h0M41.5 75.4h0M179.7 41.1h0M9.4 91.3h0M120.9 129.0h0M189.6 19.2h0M166.0 122.2h0M16.1 42.9h0M181.6 98.7h0M153.0 86.2h0M52.4 133.6h0M186.7 100.1h0M151.7 12.6h0M182.9 109.6h0M6.2 109.0h0M172.3 89.5h0M101.8 4.5h0M18.2 77.8h0M106.5 19.0h0M175.7 89.5h0M157.4 122.5h0M155.5 61.5h0M37.6 105.1h0M157.7 32.3h0M49.2 11.8h0M121.9 91.3h0M31.9 29.9h0M99.8 89.4h0M176.0 47.7h0M45.2 80.9h0M4.5 25.5h0M150.3 71.4h0M76.2 127.9h0M10.2 8.6h0M125.5 47.9h0M97.2 29.3h0M158.6 16.3h0M23.3 7.6h0M120.7 54.4h0M162.7 47.9h0M187.4 20.1h0M2.6 67.7h0M150.5 24.0h0M133.7 133.6h0M139.5 32.7h0M100.9 17.2h0M44.3 126.6h0M97.1 52.4h0M60.4 48.7h0M41.3 39.0h0M11.3 100.5h0M164.8 63.1h0M107.6 117.7h0M141.5 20.1h0M52.7 13.6h0M168.4 50.1h0M102.8 60.0h0M168.2 57.4h0M31.9 95.8h0M183.3 97.9h0M111.2 51.5h0M68.4 28.1h0M54.1 101.2h0M104.3 91.2h0M164.2 102.1h0M129.2 32.9h0M126.5 128.2h0M49.0 32.7h0M133.0 27.1h0M58.5 31.5h0M170.8 87.6h0M98.9 81.5h0M87.9 75.6h0M65.7 10.4h0M152.4 33.9h0M141.1 68.1h0M156.8 80.8h0M174.9 33.1h0M58.3 112.2h0M149.6 45.9h0M21.5 5.0h0M180.5 38.6h0M188.7 46.2h0M142.3 108.4h0M32.2 0.6h0M4.0 76.7h0M188.9 71.1h0M131.4 30.9h0M95.7 98.2h0M161.7 47.4h0M65.8 1.4h0M188.0 68.9h0M17.2 101.5h0M188.0 115.1h0M97.5 103.8h0M25.7 64.5h0M189.8 115.8h0M181.2 9.9h0M95.9 131.5h0M81.5 130.5h0M49.2 21.0h0M25.8 76.1h0M166.8 100.3h0M148.1 52.2h0M183.4 58.3h0M22.7 85.2h0M144.3 88.6h0M61.4 15.0h0M124.0 4.5h0M170.8 113.9h0M126.9 69.0h0M168.5 9.3h0M165.7 115.8h0M109.0 102.8h0M128.4 60.0h0M184.4 129.2h0M117.6 65.6h0M134.6 50.1h0M94.9 70.4h0M21.8 90.8h0M116.5 32.6h0M12.0 75.2h0M60.2 26.1h0M170.0 117.0h0M120.9 58.0h0M165.2 113.1h0M185.7 15.1h0M155.6 124.3h0M186.2 88.7h0M117.0 53.3h0M26.6 86.4h0M186.9 84.4h0M158.6 54.8h0M112.2 111.1h0M152.6 31.7h0M42.6 29.6h0M124.6 16.1h0M31.7 121.1h0M166.9 54.4h0M16.0 57.9h0M38.7 92.1h0M170.3 81.8h0M19.5 84.2h0M35.3 44.5h0M7.4 12.5h0M182.2 12.7h0M104.5 40.1h0M172.3 12.1h0M56.9 108.6h0M99.4 133.2h0M44.3 68.3h0M111.7 72.5h0M101.7 56.8h0M1.8 102.5h0M145.8 37.5h0M8.9 20.9h0M159.1 65.0h0M123.5 24.5h0M140.4 72.7h0M133.5 44.7h0M78.9 77.7h0M29.2 4.3h0M19.8 87.9h0M40.7 11.9h0M100.0 25.1h0M50.9 111.6h0M58.4 90.7h0M77.5 35.5h0M87.0 25.2h0M13.2 69.2h0M2.0 15.2h0M130.7 23.8h0M37.3 69.8h0M178.1 57.1h0M111.6 108.0h0M117.2 128.8h0M182.6 3.9h0M24.3 46.8h0M166.9 108.0h0M182.7 3.8h0M70.3 14.8h0M173.0 95.4h0M14.0 35.7h0M16.8 112.9h0M9.3 62.7h0M144.3 95.1h0M87.5 132.6h0M162.4 31.1h0M131.1 38.3h0M46.6 107.4h0M91.9 1.5h0M62.1 3.0h0M52.9 105.4h0M129.2 37.2h0M40.4 101.0h0M8.9 36.8h0M145.1 25.1h0M174.5 48.0h0M22.8 56.0h0M132.8 80.0h0M184.3 52.7h0M170.9 89.7h0M153.3 59.4h0M160.9 67.4h0M179.6 55.7h0M38.5 45.4h0M172.2 40.9h0M167.8 22.6h0M121.6 0.3h0M176.2 6.4h0" stroke="#0c2240" stroke-width="1.5" stroke-linecap="round" opacity="0.75"/><path d="M45.6 122.5h0M72.1 36.9h0M15.5 69.4h0M132.6 40.3h0M133.9 43.7h0M5.6 52.2h0M174.2 57.2h0M154.4 62.3h0M32.3 73.4h0M75.5 89.4h0M109.9 120.0h0M140.0 57.0h0M182.1 133.2h0M137.3 37.9h0M116.0 99.1h0M158.3 17.9h0M171.4 47.5h0M20.3 56.3h0M165.7 49.6h0M119.7 23.5h0M187.5 100.0h0M134.6 9.0h0M189.3 68.8h0M20.0 78.2h0M76.2 70.8h0M160.4 4.6h0M172.4 114.4h0M157.3 105.1h0M127.3 31.8h0M100.5 122.3h0M29.4 5.3h0M140.2 96.8h0M174.2 51.4h0M144.3 62.7h0M172.0 41.5h0M174.0 38.1h0M189.6 93.6h0M72.2 111.9h0M101.7 59.6h0M2.9 95.6h0M88.3 128.6h0M20.9 61.0h0M101.2 78.5h0M102.0 85.2h0M171.3 5.7h0M31.4 38.1h0M186.9 7.6h0M146.7 95.4h0M56.1 8.0h0M44.6 67.3h0M46.7 58.4h0M107.4 89.6h0M22.8 66.8h0M79.4 128.4h0M159.7 89.7h0M80.9 124.7h0M124.8 45.3h0M185.1 88.2h0M57.7 62.0h0M149.5 55.1h0M130.5 128.3h0M97.4 117.0h0M6.5 114.4h0M14.6 87.6h0M136.1 48.7h0M144.0 72.8h0M68.8 98.9h0M68.7 5.7h0M130.1 81.2h0M159.8 66.8h0M155.9 108.0h0M10.1 81.8h0M160.2 31.6h0M73.8 21.7h0M90.2 17.2h0M67.9 103.3h0M163.7 54.2h0M21.6 120.7h0M132.4 109.4h0M30.6 11.3h0M184.8 116.8h0M35.8 43.8h0M160.9 107.9h0M62.4 35.3h0M151.6 73.8h0M147.7 79.0h0M157.1 80.1h0M11.5 114.6h0M29.5 25.6h0M20.1 3.7h0M51.4 106.6h0M142.0 42.2h0M54.1 5.0h0M165.8 28.2h0M184.8 51.1h0M14.4 80.5h0M155.4 61.9h0M17.9 70.8h0M123.1 82.3h0M38.8 88.5h0M76.1 45.0h0M163.1 2.9h0M177.4 111.8h0M175.5 108.0h0M116.1 116.2h0M160.4 1.0h0M117.1 132.1h0M114.5 29.0h0M102.1 96.3h0M10.0 61.4h0M159.7 101.3h0M8.6 44.4h0M19.2 1.0h0M27.0 84.4h0M67.2 22.3h0M9.3 92.5h0M166.6 72.7h0M157.3 116.4h0M148.1 98.1h0M170.2 36.2h0M11.0 88.0h0M38.2 121.4h0M57.3 107.3h0M28.9 105.6h0M186.7 127.2h0M124.5 124.4h0M133.8 34.7h0M46.6 95.0h0M172.7 84.0h0M172.9 43.1h0M113.3 61.3h0M21.5 112.8h0M163.6 103.0h0M28.0 116.7h0M168.7 124.9h0M13.0 14.5h0M30.6 95.1h0M40.1 20.3h0M158.5 22.1h0M172.2 112.0h0M23.7 20.5h0M88.0 116.8h0M42.7 46.7h0M180.7 0.1h0M130.0 101.9h0M86.0 57.4h0M158.6 112.8h0M152.3 88.2h0M35.5 52.7h0M29.5 95.0h0M48.6 95.5h0M54.7 13.4h0M179.9 28.0h0M171.8 68.2h0M179.5 50.5h0M72.2 116.1h0M101.0 44.2h0M102.0 72.9h0M110.5 86.7h0M51.9 100.1h0M109.3 30.7h0M156.9 27.9h0M2.8 18.5h0M165.6 92.5h0M171.8 4.2h0M107.5 75.7h0M108.4 68.4h0M7.3 39.4h0M180.5 99.9h0M143.9 21.6h0M9.2 129.4h0M93.1 19.8h0M151.5 49.3h0M35.7 72.3h0M6.1 102.9h0M158.2 89.8h0M148.2 88.2h0M179.6 91.0h0M160.4 119.6h0M29.0 4.9h0M52.4 18.1h0M112.1 11.0h0M38.2 93.2h0M36.3 77.1h0M138.0 45.6h0M151.9 65.6h0M77.6 76.5h0M167.4 119.9h0M38.7 114.8h0M164.9 18.9h0M151.2 75.8h0M5.4 74.3h0M10.6 110.9h0M11.2 80.4h0M183.2 117.4h0M47.1 74.8h0M168.0 94.2h0M61.2 96.8h0M10.9 79.7h0M112.7 113.6h0M34.3 39.5h0M91.6 30.6h0M108.6 85.9h0M169.6 57.7h0M39.3 41.6h0M177.8 37.1h0M59.8 11.3h0M114.8 11.4h0M50.6 69.3h0M9.1 71.7h0M134.0 85.3h0M158.9 80.7h0M161.8 46.8h0M182.0 111.2h0M136.9 2.1h0M177.9 83.5h0M132.8 124.0h0M155.8 100.2h0M118.3 22.1h0M155.1 34.5h0M178.5 60.9h0M160.1 125.7h0M35.1 32.1h0M177.9 41.3h0M152.3 125.5h0M15.0 90.5h0M143.3 75.4h0M145.3 62.3h0M170.7 60.3h0M33.5 54.9h0M103.0 37.3h0M7.5 88.5h0M35.3 37.7h0M3.8 2.7h0M3.2 67.1h0M163.9 56.5h0M156.9 43.6h0M59.1 85.4h0M43.7 123.0h0M154.6 119.9h0M150.7 18.5h0M47.8 72.4h0M159.3 55.7h0M175.2 91.7h0M151.9 36.0h0M141.6 39.5h0M47.3 105.1h0M43.4 126.2h0M172.4 101.7h0M182.9 53.0h0M24.5 80.7h0M50.5 71.9h0M164.1 86.1h0M156.2 56.8h0M85.9 90.3h0M23.1 92.1h0M30.4 131.7h0M46.2 79.5h0M24.5 44.4h0M6.2 12.9h0M36.0 45.9h0M90.5 85.7h0M75.7 119.2h0M9.1 57.5h0M34.5 11.8h0M49.2 103.8h0M174.4 120.3h0M110.3 92.9h0M180.6 57.9h0M32.5 46.7h0M157.0 25.7h0M153.6 110.5h0M109.0 127.0h0M130.6 65.1h0M129.4 119.4h0M115.7 33.6h0M92.6 53.0h0M21.9 102.9h0M153.0 106.3h0M58.5 36.1h0M177.6 57.7h0M36.5 109.4h0M14.4 69.2h0M38.0 120.3h0M35.4 112.8h0M135.8 64.0h0M127.1 85.0h0M163.3 83.8h0M144.7 128.9h0M44.5 31.8h0M189.2 87.0h0M19.1 116.0h0M140.1 90.2h0M31.7 25.7h0M145.0 106.0h0M135.1 96.9h0M43.7 68.7h0M6.7 48.5h0M94.2 104.4h0M30.2 11.3h0M26.1 74.6h0M55.7 55.6h0M155.2 1.9h0M106.3 66.2h0M127.9 68.8h0M38.2 31.1h0M181.7 82.4h0M148.4 71.9h0M157.3 76.5h0M178.4 120.0h0M119.6 71.3h0M89.4 101.9h0M66.6 123.6h0M30.4 2.9h0M75.2 0.3h0M164.2 115.0h0M58.8 127.6h0M159.5 9.1h0M173.0 5.7h0M162.6 73.2h0M11.9 112.1h0M120.4 63.9h0M158.2 68.3h0M38.0 8.9h0M34.4 37.1h0M124.6 71.7h0M108.0 131.2h0M2.4 89.1h0M185.4 89.5h0M56.2 9.9h0M28.1 27.9h0M132.0 122.0h0M75.0 24.6h0M162.6 98.6h0M52.7 2.5h0M182.4 54.7h0M8.4 123.8h0M175.8 0.2h0M74.7 82.4h0M170.9 23.5h0M151.3 69.5h0M58.1 39.0h0M25.6 102.0h0M149.9 65.4h0M172.7 35.0h0M112.1 114.5h0M23.3 65.0h0M56.4 88.8h0M44.2 51.2h0M135.9 73.0h0M61.6 36.7h0M42.0 61.2h0M37.3 115.5h0M144.1 44.5h0M186.0 13.1h0M179.2 34.1h0M27.8 15.3h0M68.3 15.9h0M38.2 119.5h0M8.3 49.4h0M2.3 71.1h0M26.7 33.9h0M10.2 48.2h0M73.7 27.4h0M45.9 30.0h0M143.1 131.0h0M46.3 6.6h0M175.4 1.8h0M15.9 55.3h0M9.0 72.0h0M59.4 95.2h0M167.9 70.8h0M153.2 98.5h0M65.0 13.8h0M29.3 38.4h0M161.8 42.2h0M181.6 24.6h0M50.7 29.8h0M158.9 90.8h0M39.3 118.3h0M18.6 91.8h0M32.4 65.8h0M89.7 89.4h0M76.8 32.6h0M23.4 46.9h0M151.3 52.6h0M177.8 82.5h0M169.3 84.4h0M124.2 48.1h0M126.4 79.5h0M88.0 102.3h0M74.8 101.8h0M141.0 54.4h0M183.8 127.3h0M31.6 127.7h0M159.3 129.0h0M47.2 29.1h0M88.2 24.6h0M112.7 56.5h0M168.7 93.7h0M135.7 69.7h0M176.7 58.9h0M189.2 32.2h0M124.7 44.0h0M55.4 115.8h0M179.5 113.1h0M18.6 48.6h0M7.1 83.2h0M172.5 47.7h0M78.2 5.3h0M123.3 50.8h0M148.9 94.1h0M11.7 76.0h0M154.6 29.8h0M25.7 7.0h0M82.5 114.4h0M12.8 4.0h0M48.6 21.0h0M31.5 71.4h0M50.8 97.6h0M37.2 15.1h0M23.0 81.4h0M69.9 25.1h0M41.3 20.9h0M123.8 1.3h0M176.4 30.2h0M189.2 13.7h0M169.5 82.6h0M165.9 80.5h0M72.3 80.1h0M0.9 94.8h0M162.9 41.5h0M27.6 79.8h0M183.6 80.2h0M170.6 107.5h0M21.8 70.1h0M55.3 110.7h0M9.6 13.6h0M13.6 69.6h0M188.1 62.5h0M57.9 29.2h0M26.8 41.3h0M166.0 73.6h0M169.9 41.4h0M41.3 86.0h0M180.4 112.7h0M38.3 88.9h0M61.8 76.2h0M58.2 75.9h0M20.4 48.4h0M177.7 47.3h0M49.3 3.4h0M142.0 38.7h0M100.6 56.8h0M133.5 102.4h0M8.6 134.0h0M16.8 104.1h0M154.0 115.1h0M122.1 121.6h0M126.3 61.4h0M12.5 57.7h0M42.9 27.0h0M167.5 20.6h0M62.8 87.9h0M42.8 44.7h0M54.6 89.1h0M162.4 98.1h0M69.6 34.5h0M24.7 86.6h0M60.1 114.2h0M126.1 111.6h0M169.0 132.0h0M157.9 38.1h0M138.7 84.8h0M151.1 47.1h0M144.2 55.2h0M72.2 14.0h0M56.2 84.5h0M66.2 107.9h0M60.2 12.6h0M7.1 65.0h0M24.0 63.1h0M0.3 24.0h0M151.7 44.4h0M121.5 78.3h0M9.5 43.5h0M132.0 39.3h0M59.2 92.9h0M51.5 101.2h0M55.7 26.9h0M180.3 105.0h0M156.9 76.7h0M168.5 88.0h0M179.0 60.3h0M156.0 112.8h0M122.9 111.2h0M94.5 90.4h0M187.9 103.2h0M120.1 37.4h0M16.0 94.6h0M34.0 56.3h0M17.3 67.4h0" stroke="#143a62" stroke-width="1.5" stroke-linecap="round" opacity="0.75"/><path d="M32.1 75.8h0M173.8 67.4h0M0.2 92.9h0M101.2 129.7h0M177.7 68.8h0M49.2 102.4h0M176.8 125.7h0M27.5 123.6h0M14.4 77.3h0M60.8 19.1h0M34.8 48.5h0M97.7 68.8h0M66.9 92.9h0M136.1 29.0h0M45.2 25.9h0M37.2 76.5h0M143.3 93.1h0M149.1 117.0h0M166.4 99.1h0M174.2 38.0h0M117.4 106.7h0M44.6 50.9h0M125.0 60.2h0M89.2 0.1h0M100.2 118.0h0M156.0 1.6h0M38.0 54.4h0M36.3 0.9h0M47.6 73.0h0M177.1 67.8h0M126.1 131.2h0M184.1 29.2h0M169.9 72.2h0M185.2 7.0h0M115.7 125.3h0M60.2 34.4h0M185.1 29.9h0M164.0 133.0h0M91.4 100.4h0M50.2 28.8h0M18.8 31.7h0M29.1 95.4h0M174.8 84.6h0M2.3 94.0h0M127.1 65.9h0M56.6 34.8h0M72.9 41.8h0M36.8 99.5h0M29.1 103.5h0M147.1 129.4h0M162.6 120.9h0M43.7 0.4h0M164.4 78.3h0M2.9 48.2h0M30.2 64.2h0M152.0 119.0h0M86.8 79.3h0M18.5 85.0h0M52.8 6.7h0M57.5 94.1h0M139.9 111.2h0M79.2 74.2h0M96.8 80.4h0M102.6 116.8h0M186.6 36.7h0M75.0 40.4h0M134.1 30.8h0M177.7 48.8h0M160.9 9.4h0M156.8 43.5h0M70.4 24.6h0M38.3 2.6h0M9.9 60.4h0M156.9 3.7h0M123.7 6.4h0M18.0 70.2h0M22.0 80.7h0M135.3 85.7h0M179.0 28.1h0M109.9 96.2h0M52.5 51.8h0M97.3 8.9h0M175.2 54.4h0M174.1 81.6h0M37.8 27.7h0M66.1 28.5h0M189.5 49.2h0M129.8 37.6h0M160.8 104.8h0M24.5 5.4h0M26.9 9.7h0M120.3 3.6h0M112.8 109.7h0M24.3 26.5h0M168.1 27.9h0M156.5 37.9h0M150.6 24.7h0M146.3 86.2h0M40.3 33.5h0M14.9 90.9h0M88.9 101.3h0M35.7 84.2h0M8.0 59.0h0M150.3 119.8h0M97.3 61.2h0M150.0 17.7h0M90.0 71.7h0M71.2 76.8h0M49.1 25.4h0M62.9 18.8h0M131.8 48.1h0M114.4 123.0h0M184.7 67.5h0M39.4 111.4h0M15.9 128.6h0M24.6 126.8h0M106.1 71.3h0M140.0 5.9h0M1.4 58.1h0M34.8 115.4h0M2.2 35.8h0M49.5 13.8h0M46.2 4.4h0M141.9 16.5h0M172.7 40.0h0M71.3 112.7h0M6.7 78.3h0M154.4 27.4h0M131.6 43.4h0M154.7 67.4h0M9.8 30.6h0M178.3 17.6h0M172.2 47.5h0M67.6 16.7h0M40.7 34.6h0M161.3 82.8h0M41.1 118.8h0M99.8 122.3h0M36.1 26.3h0M129.3 108.4h0M8.4 68.2h0M176.9 100.3h0M59.4 82.4h0M182.2 94.4h0M34.9 22.6h0M49.9 50.5h0M138.3 84.7h0M77.2 71.5h0M9.5 0.6h0M105.4 84.3h0M131.9 109.0h0M54.4 95.7h0M162.5 116.7h0M125.2 128.1h0M30.6 118.5h0M124.9 49.6h0M179.9 127.5h0M189.2 107.0h0M86.0 69.9h0M161.5 96.1h0M149.6 65.5h0M162.7 83.9h0M163.5 24.5h0M155.0 73.0h0M91.8 97.3h0M135.3 120.7h0M157.0 77.0h0M40.9 75.5h0M175.0 98.8h0M120.6 50.7h0M5.7 8.6h0M115.3 81.9h0M17.6 55.7h0M83.7 104.1h0M181.5 43.9h0M25.0 26.1h0M178.8 13.8h0M32.2 68.4h0M32.8 26.2h0M101.8 122.8h0M55.7 72.0h0M134.0 58.1h0M187.3 4.0h0M175.4 6.8h0M94.9 63.5h0M49.5 45.3h0M139.7 8.7h0M67.8 103.9h0M4.8 98.9h0M14.7 99.0h0M42.7 41.0h0M14.4 132.6h0M144.3 97.1h0M100.5 104.0h0M175.4 12.7h0M16.0 113.9h0M128.4 92.6h0M6.6 71.6h0M24.8 57.8h0M161.9 75.1h0M29.3 1.7h0M140.1 115.1h0M182.8 87.8h0M69.9 21.7h0M95.9 117.0h0M110.5 38.7h0M39.3 7.6h0M66.0 107.1h0M82.2 116.4h0M121.8 77.9h0M19.2 109.3h0M1.0 75.4h0M78.5 65.1h0M44.8 112.6h0M34.8 125.0h0M146.9 67.7h0M138.4 46.3h0M1.1 111.0h0M186.7 66.1h0M11.0 73.5h0M155.5 41.8h0M115.6 38.7h0M172.9 33.1h0M128.4 92.3h0M170.6 66.1h0M111.9 77.2h0M75.4 44.5h0M25.2 72.8h0M160.0 61.5h0M189.1 32.1h0M28.7 13.8h0M147.2 18.5h0M107.3 62.0h0M19.4 95.9h0M42.1 94.9h0M126.6 118.1h0M178.1 80.9h0M176.9 4.4h0M60.4 87.8h0M38.8 94.2h0M169.8 83.4h0M104.5 78.2h0M146.5 73.8h0M66.7 37.0h0M15.7 65.5h0M154.1 33.0h0M185.8 38.3h0M173.8 19.4h0M129.0 51.1h0M109.9 3.1h0M62.5 116.3h0M107.8 97.1h0M79.3 97.4h0M176.6 107.1h0M166.3 87.2h0M38.0 22.7h0M44.6 6.6h0M188.0 27.8h0M176.5 61.8h0M14.0 86.7h0M123.6 0.8h0M184.1 76.0h0M36.2 68.9h0M188.3 55.9h0M97.2 37.9h0M61.5 73.4h0M112.6 40.6h0M15.3 51.5h0M64.1 125.6h0M146.8 77.8h0M183.3 129.8h0M127.5 104.7h0M171.9 62.3h0M176.8 56.6h0M147.2 34.8h0M16.6 40.3h0M107.1 102.5h0M86.4 17.6h0M36.9 56.4h0M97.6 5.7h0M130.6 30.6h0M147.0 0.7h0M47.8 29.3h0M165.7 79.6h0M165.1 90.7h0M28.6 86.6h0M140.4 17.3h0M174.3 134.0h0M56.5 79.0h0M35.7 118.3h0M19.8 115.7h0M102.7 123.0h0M186.2 112.6h0M84.7 48.2h0M72.1 64.9h0M135.7 39.3h0M174.5 52.4h0M174.1 78.8h0M23.3 116.6h0M176.5 102.0h0M43.7 31.5h0M54.4 107.8h0M114.9 39.0h0M69.7 76.0h0M22.0 29.6h0M59.7 2.3h0M160.6 86.4h0M183.1 45.0h0M103.0 56.3h0M136.7 24.6h0M54.1 122.8h0M58.2 96.3h0M140.1 7.7h0M169.1 36.4h0M49.8 73.0h0M113.4 108.1h0M174.1 98.9h0M169.1 115.1h0M188.6 25.2h0M40.9 115.2h0M168.9 80.9h0M98.2 101.9h0M3.3 27.7h0M68.6 64.6h0M87.0 84.2h0M167.2 57.8h0M2.4 34.6h0M143.1 90.1h0M109.1 61.0h0M173.5 51.6h0M45.8 93.8h0M94.0 1.0h0M50.0 28.4h0M121.0 106.9h0M189.8 31.8h0M96.3 121.3h0M177.4 64.8h0M114.2 65.5h0M177.4 39.9h0M124.8 71.6h0M135.3 100.1h0M82.1 48.5h0M3.8 54.1h0M13.9 63.3h0M166.4 78.8h0M89.7 4.3h0M142.8 15.1h0M142.6 90.2h0M79.3 120.7h0M22.7 93.6h0M128.4 109.6h0M21.8 60.0h0M62.1 109.2h0M124.5 98.7h0M35.9 24.6h0M167.1 47.1h0M27.5 97.0h0M90.1 15.8h0M183.3 39.6h0M66.2 24.0h0M166.6 10.9h0M145.3 8.4h0M135.1 6.1h0M127.5 98.6h0M152.3 38.2h0M51.8 109.0h0M29.0 39.8h0M36.0 51.6h0M184.3 116.3h0M164.3 115.1h0M140.2 16.4h0M14.2 10.6h0M96.1 26.7h0M106.1 67.6h0M85.5 108.7h0M88.1 78.0h0M128.5 95.9h0M16.6 12.4h0M184.1 65.9h0M48.5 74.3h0M125.4 55.2h0M185.7 114.0h0M162.8 41.2h0M127.3 60.8h0M165.0 33.8h0M185.4 129.6h0M170.7 90.6h0M175.7 59.4h0M28.3 83.7h0M97.0 34.5h0M86.9 21.1h0M112.8 76.7h0M128.9 98.2h0M90.1 77.1h0M166.9 71.5h0M153.8 46.4h0M113.3 113.6h0M28.0 93.3h0M22.8 124.0h0M134.3 75.8h0M154.6 23.6h0M175.5 16.0h0M25.8 92.7h0M172.6 88.5h0M17.1 9.1h0M24.6 68.2h0M76.7 28.5h0M40.3 60.7h0M11.0 105.2h0M155.3 60.5h0M132.9 70.9h0M154.9 47.7h0M153.9 85.2h0M37.5 112.7h0M48.4 51.3h0M86.3 112.7h0M10.6 115.1h0M167.1 126.6h0M163.7 73.3h0M177.2 110.3h0M43.7 83.3h0M150.3 55.8h0M157.7 53.7h0M71.7 79.6h0M19.2 24.4h0M162.5 54.0h0M138.5 131.9h0M134.0 95.9h0M26.4 71.9h0M66.8 119.3h0M153.0 67.3h0M177.4 81.0h0M6.4 115.0h0M147.6 62.3h0M154.9 23.2h0M49.8 49.1h0M156.1 22.3h0M149.0 71.1h0M6.1 40.6h0M83.5 95.2h0M151.3 92.5h0M31.2 39.4h0M46.6 90.0h0M61.8 32.3h0M121.6 118.6h0M104.7 45.0h0M149.2 9.0h0M91.4 86.5h0M93.6 113.9h0M140.9 66.2h0M145.0 81.2h0M149.1 92.9h0M155.1 72.2h0M12.6 21.6h0M167.6 23.8h0M177.6 118.9h0M177.7 112.6h0M90.1 108.8h0M165.9 121.1h0M54.7 116.7h0M108.6 32.6h0M73.0 18.8h0M166.4 80.5h0M112.7 69.6h0M161.1 98.8h0M161.8 8.8h0M189.8 66.0h0M154.9 27.7h0M129.5 2.6h0M78.1 53.0h0M120.5 28.4h0M132.0 99.3h0M67.1 107.2h0M27.8 53.7h0M93.6 97.5h0M45.6 68.6h0M73.8 90.8h0M158.1 2.2h0M179.9 81.8h0M68.0 124.5h0M143.6 34.8h0M67.8 2.8h0M26.8 53.5h0M1.0 61.1h0M33.2 74.2h0M30.3 90.0h0M38.4 104.2h0M113.1 58.9h0M53.6 94.7h0M3.6 44.4h0M18.4 35.5h0M1.7 49.8h0M161.8 122.8h0M120.7 14.3h0M45.7 95.9h0M58.7 26.7h0M173.2 105.6h0M0.9 70.6h0M78.2 70.6h0M53.1 113.9h0M184.5 40.4h0M172.1 36.9h0M36.4 26.2h0M27.3 35.1h0M174.9 46.6h0M38.7 91.6h0M50.7 49.9h0M108.4 73.3h0M188.7 35.5h0M52.5 83.7h0M169.3 11.0h0" stroke="#1f5282" stroke-width="1.5" stroke-linecap="round" opacity="0.75"/><path d="M5.5 62.4h0M123.3 120.7h0M109.0 1.8h0M30.3 106.8h0M117.3 17.0h0M165.6 28.1h0M186.7 116.9h0M182.7 72.3h0M183.6 119.8h0M68.6 22.2h0M0.6 90.8h0M58.9 109.7h0M10.8 130.7h0M142.5 113.2h0M149.7 49.1h0M1.7 6.3h0M181.5 26.3h0M176.6 126.2h0M17.3 45.7h0M174.4 45.6h0M33.7 10.5h0M130.9 133.6h0M157.0 61.1h0M10.6 122.8h0M93.8 112.3h0M149.7 14.3h0M28.4 113.2h0M185.4 60.8h0M138.6 64.2h0M94.9 45.4h0M69.1 94.4h0M47.6 90.0h0M157.4 46.9h0M181.7 69.4h0M110.4 89.2h0M136.9 3.7h0M83.8 87.1h0M130.3 84.5h0M89.6 30.3h0M25.4 42.5h0M36.7 4.8h0M45.2 121.0h0M21.9 111.4h0M6.9 82.2h0M182.1 109.7h0M154.5 86.1h0M27.0 79.9h0M66.7 119.7h0M20.5 75.8h0M71.4 57.8h0M55.4 130.3h0M49.4 131.5h0M23.2 83.3h0M2.5 71.4h0M177.7 104.8h0M55.7 81.5h0M22.5 101.9h0M101.4 45.0h0M100.7 62.2h0M141.6 79.2h0M168.7 73.1h0M147.9 57.3h0M134.6 84.7h0M173.2 51.7h0M161.9 26.3h0M132.0 58.0h0M148.3 122.0h0M154.2 9.2h0M189.7 94.0h0M160.0 29.4h0M180.9 95.5h0M55.6 123.0h0M116.0 55.5h0M118.3 5.8h0M72.0 9.6h0M25.5 57.8h0M28.7 84.6h0M173.0 74.4h0M50.0 73.9h0M142.6 69.3h0M34.1 95.6h0M16.2 89.5h0M23.7 79.6h0M166.6 64.4h0M129.4 29.9h0M26.6 83.7h0M66.2 51.7h0M75.1 13.0h0M38.5 5.3h0M91.4 101.9h0M81.4 62.4h0M29.4 21.3h0M73.3 118.0h0M48.3 37.2h0M54.5 31.5h0M6.1 123.9h0M178.2 92.2h0M89.6 126.7h0M138.6 21.9h0M4.7 30.9h0M76.2 130.5h0M59.2 62.7h0M139.1 96.2h0M188.0 69.5h0M93.3 125.4h0M46.3 6.8h0M58.1 6.9h0M184.6 24.0h0M76.4 71.2h0M59.6 14.5h0M40.7 2.3h0M92.4 76.6h0M42.6 15.5h0M59.4 17.4h0M46.5 11.3h0M109.6 32.9h0M133.1 6.4h0M54.3 50.1h0M144.3 77.0h0M138.3 94.0h0M154.3 51.2h0M12.5 22.7h0M128.4 38.3h0M145.1 74.7h0M9.6 17.4h0M43.9 57.5h0M62.8 1.7h0M157.1 97.4h0M145.8 125.5h0M184.2 79.9h0M154.7 56.2h0M185.8 4.4h0M41.0 37.1h0M45.9 47.1h0M117.4 53.7h0M158.0 65.7h0M32.2 13.2h0M171.0 26.7h0M118.4 107.2h0M1.9 68.6h0M35.1 52.1h0M5.1 41.8h0M131.6 89.8h0M151.7 48.6h0M129.1 70.0h0M14.8 11.7h0M58.3 124.5h0M170.3 32.0h0M103.4 52.7h0M105.2 95.8h0M168.5 28.5h0M31.8 84.8h0M42.7 8.4h0M171.9 40.5h0M115.0 129.5h0M114.7 24.6h0M138.5 8.2h0M158.6 128.3h0M90.6 13.5h0M29.8 12.4h0M118.8 129.3h0M19.5 8.6h0M141.2 11.2h0M103.3 50.3h0M56.2 15.7h0M132.4 105.7h0M45.2 89.3h0M51.5 12.9h0M187.1 72.5h0M177.4 12.3h0M68.6 2.2h0M84.1 63.2h0M147.9 58.2h0M171.4 86.4h0M173.9 50.7h0M143.7 119.5h0M188.9 29.0h0M51.5 63.0h0M126.6 16.5h0M170.5 118.6h0M113.8 18.3h0M174.8 125.6h0M35.1 57.5h0M133.4 12.1h0M122.3 50.2h0M45.8 76.2h0M103.6 98.0h0M91.4 94.6h0M146.5 56.1h0M116.0 106.2h0M65.7 2.9h0M14.7 60.1h0M26.2 47.0h0M11.4 11.8h0M27.3 129.6h0M52.4 105.0h0M49.8 111.1h0M73.8 84.3h0M50.0 117.5h0M170.5 23.7h0M9.9 99.1h0M93.9 116.8h0M116.2 82.0h0M180.3 14.9h0M130.0 12.4h0M160.3 16.2h0M49.1 40.0h0M88.5 20.8h0M50.0 126.9h0M16.8 47.3h0M33.2 18.6h0M130.6 59.9h0M173.3 19.4h0M149.0 112.0h0M20.5 34.7h0M169.0 35.5h0M121.7 128.1h0M146.3 45.1h0M9.5 130.3h0M120.9 97.0h0M77.6 44.1h0M12.2 96.1h0M165.2 8.4h0M170.3 67.9h0M79.1 30.3h0M107.3 38.9h0M21.8 72.0h0M187.6 72.7h0M174.5 51.2h0M174.6 43.6h0M100.5 18.7h0M178.4 62.4h0M174.3 76.9h0M54.0 99.7h0M25.3 22.5h0M31.0 93.6h0M10.0 96.6h0M145.2 45.1h0M174.7 37.8h0M166.6 17.8h0M78.8 130.8h0M0.2 126.4h0M162.1 88.6h0M159.2 90.6h0M139.0 67.7h0M116.7 106.7h0M146.6 112.2h0M101.7 64.1h0M45.3 111.1h0M73.1 86.4h0M52.0 1.4h0M84.5 91.9h0M49.5 112.6h0M20.2 61.4h0M152.6 63.9h0M38.3 8.9h0M19.0 49.5h0M41.8 0.4h0M57.0 97.7h0M131.0 29.1h0M85.7 54.8h0M167.7 95.6h0M36.2 43.9h0M129.6 103.1h0M101.4 112.6h0M18.0 81.2h0M27.3 38.6h0M28.3 57.0h0M1.1 73.7h0M158.5 43.7h0M15.2 20.2h0M11.1 80.6h0M174.6 81.5h0M32.4 57.2h0M156.3 30.8h0M155.2 9.5h0M41.7 89.1h0M17.9 97.9h0M58.8 90.8h0M174.0 85.3h0M28.7 37.3h0M13.5 90.4h0M55.2 12.2h0M176.9 39.1h0M65.7 126.6h0M62.3 91.9h0M165.6 7.8h0M160.7 76.3h0M124.8 82.4h0M167.0 41.0h0M114.6 79.1h0M84.7 98.3h0M54.1 88.0h0M33.7 63.6h0M178.6 52.3h0M189.4 17.4h0M138.2 61.3h0M147.9 41.1h0M8.6 66.9h0M100.0 6.1h0M187.9 105.6h0M86.6 4.4h0M36.4 131.9h0M47.1 8.8h0M158.8 104.9h0M32.1 36.2h0M33.3 96.5h0M173.2 74.7h0M108.9 37.8h0M49.4 61.3h0M15.3 33.1h0M181.8 65.3h0M141.4 79.4h0M162.5 105.9h0M28.4 1.2h0M43.3 0.7h0M43.4 27.5h0M39.2 123.4h0M131.3 10.6h0M88.5 73.1h0M140.9 46.4h0M99.2 112.4h0M114.2 86.4h0M84.8 75.1h0M19.4 124.5h0M94.7 39.5h0M51.3 21.6h0M172.9 10.6h0M132.0 83.7h0M137.0 64.0h0M8.4 67.7h0M62.9 91.7h0M175.8 94.8h0M43.1 65.9h0M137.2 102.5h0M178.5 59.4h0M188.4 43.4h0M163.4 19.6h0M152.6 111.0h0M143.7 44.7h0M60.6 66.9h0M36.2 124.5h0M56.7 108.8h0M90.6 44.0h0M69.1 0.0h0M179.0 47.5h0M55.7 84.3h0M22.3 70.2h0M27.4 105.2h0M166.0 42.5h0M1.2 41.1h0M172.8 121.7h0M187.6 74.3h0M15.7 57.2h0M46.4 56.7h0M99.0 49.1h0M1.9 90.4h0M44.4 42.0h0M39.8 114.2h0M159.0 79.5h0M44.5 8.5h0M171.2 65.9h0M91.7 118.7h0M186.3 43.3h0M172.6 91.2h0M66.0 46.2h0M42.8 69.2h0M5.9 118.0h0M37.3 99.1h0M81.3 26.0h0M180.5 46.7h0M53.0 104.7h0M8.8 61.5h0M121.4 48.1h0M179.9 58.8h0M176.8 83.3h0M150.0 95.4h0M79.2 21.0h0M130.6 44.1h0M172.4 93.9h0M187.9 24.6h0M115.9 95.1h0M158.1 38.5h0M140.0 43.2h0M49.8 10.2h0M142.3 73.4h0M109.5 15.4h0M138.9 46.8h0M41.0 89.5h0M51.9 0.3h0M43.4 98.0h0M110.3 40.5h0M119.3 54.7h0M129.6 51.8h0M5.0 71.9h0M167.0 25.9h0M101.3 125.3h0M64.4 52.2h0M94.7 101.1h0M172.0 79.4h0M28.4 27.1h0M9.1 0.2h0M48.9 66.1h0M106.3 90.5h0M156.4 12.9h0M164.5 111.8h0M133.2 50.4h0M145.3 95.1h0M185.9 23.7h0M138.7 51.8h0M38.8 29.7h0M81.3 119.9h0M174.1 35.1h0M132.2 24.7h0M31.7 33.4h0M31.5 91.1h0M55.3 34.1h0M21.7 58.8h0M176.6 30.5h0M81.5 4.2h0M1.0 62.7h0M181.1 92.3h0M104.8 80.2h0M8.3 9.8h0M157.1 74.8h0M19.1 33.5h0M27.3 99.8h0M31.7 83.1h0M137.9 97.9h0M173.3 58.4h0M119.8 11.1h0M109.8 105.8h0M47.4 50.5h0M30.5 52.5h0M158.9 86.0h0M45.3 84.5h0M56.6 63.1h0M119.2 117.7h0M27.6 91.3h0M93.3 60.5h0M33.5 128.3h0M27.1 99.0h0M39.4 94.7h0M134.0 20.5h0M148.7 95.9h0M134.8 125.3h0M20.0 91.5h0M148.5 97.3h0M152.3 18.1h0M155.7 46.2h0M178.7 9.5h0M47.3 106.8h0M34.7 107.6h0M42.8 119.7h0M128.1 132.0h0M103.3 73.2h0M50.4 91.6h0M70.1 89.9h0M148.4 52.0h0M56.5 23.0h0M161.7 32.7h0M94.5 17.7h0M75.5 16.0h0M182.7 89.8h0M133.5 100.9h0M7.0 37.8h0M83.7 116.7h0M19.8 2.4h0M138.0 60.7h0M27.6 110.2h0M189.4 32.9h0M94.7 128.1h0M42.9 114.8h0M188.8 83.9h0M37.5 65.7h0M38.9 127.3h0M154.9 111.7h0M134.8 47.6h0M31.0 88.1h0M148.7 75.4h0M0.4 35.7h0M165.1 85.1h0M28.9 109.7h0M65.3 93.1h0M141.7 74.9h0M144.6 39.3h0M22.1 73.2h0M89.5 38.8h0M82.7 31.8h0M63.0 16.7h0M160.5 23.9h0M180.0 42.2h0M46.9 116.0h0M37.5 64.4h0M51.4 28.4h0M182.6 68.3h0M76.9 77.8h0M66.1 85.6h0M92.2 66.0h0M24.0 61.7h0M183.7 26.2h0M26.3 106.2h0M39.8 31.6h0M62.9 5.6h0M5.0 85.3h0M89.8 71.2h0M157.9 63.5h0M160.0 69.6h0M174.9 4.7h0M110.5 123.5h0M160.5 111.7h0M55.6 35.5h0M63.3 20.4h0M5.2 98.1h0M155.9 111.9h0M58.2 35.4h0M5.5 34.2h0M54.7 72.2h0M17.9 49.8h0M11.7 54.1h0M73.6 62.5h0M135.4 55.9h0M146.9 39.8h0M122.0 98.9h0M65.6 118.7h0M77.4 17.4h0M184.0 54.6h0M64.8 49.1h0M31.7 40.4h0M39.6 4.2h0M147.4 9.5h0M166.2 71.5h0M56.9 119.6h0M140.6 66.4h0M93.3 57.7h0M64.5 82.4h0M36.3 39.0h0M56.9 72.5h0M23.0 119.7h0M141.8 121.0h0M63.6 67.2h0M55.4 75.3h0M177.9 68.6h0M187.0 83.1h0M160.7 83.9h0M166.8 42.3h0M90.6 26.8h0M152.2 44.3h0M171.7 34.6h0M151.5 119.1h0M129.3 108.6h0M111.6 110.6h0M34.8 100.9h0M43.3 73.3h0M59.1 113.0h0M148.1 55.2h0M182.8 19.8h0M5.6 47.0h0M29.5 126.1h0M135.9 28.6h0M86.8 33.5h0M121.9 42.4h0M83.0 95.3h0M109.4 63.5h0M142.3 77.5h0M34.4 45.8h0M39.1 115.7h0M89.1 99.7h0M114.7 108.8h0M17.7 51.3h0M144.8 8.6h0M173.9 38.7h0M165.0 109.9h0M36.0 97.8h0M149.9 70.0h0M25.6 44.9h0M180.2 41.6h0M185.4 67.9h0M156.9 42.2h0M178.3 2.7h0M165.8 75.9h0M150.7 59.5h0M178.2 92.2h0M141.8 89.5h0M149.2 74.1h0M49.1 104.2h0M18.1 84.3h0M166.2 25.8h0M28.4 29.3h0M22.1 85.8h0M132.8 31.7h0M186.0 54.0h0M62.6 117.9h0M19.0 67.4h0M48.8 60.7h0M185.9 63.3h0M160.3 124.0h0M16.7 77.9h0M33.1 47.0h0M1.7 53.6h0M165.5 34.3h0M131.6 105.7h0M63.2 82.3h0M174.0 55.5h0M183.4 45.7h0M186.8 14.3h0M126.2 132.4h0M159.2 88.5h0M27.1 67.9h0M31.5 83.3h0M10.3 56.4h0M165.1 98.1h0M103.9 69.4h0M37.2 92.3h0M85.7 113.3h0M44.6 81.4h0M111.5 11.6h0M46.7 105.1h0M182.0 118.6h0M22.6 115.9h0M49.4 10.2h0M184.3 25.3h0M1.1 91.7h0M56.5 12.0h0M32.6 83.1h0M8.1 25.1h0M68.4 101.5h0M124.0 77.6h0M180.9 19.0h0M142.9 16.2h0M52.5 112.0h0M68.8 32.2h0M6.6 57.6h0M38.7 43.1h0M63.1 81.4h0M175.8 35.9h0M108.7 28.8h0M166.4 27.8h0M159.1 65.1h0M72.0 23.9h0M144.7 115.8h0M185.4 33.9h0M142.7 76.5h0M31.9 2.3h0M169.3 53.4h0M71.1 85.6h0M37.8 90.9h0M169.5 90.2h0M29.9 133.7h0M121.3 3.4h0M67.4 15.1h0M127.3 99.7h0M22.1 83.9h0M91.9 130.0h0M99.3 4.0h0M36.9 25.0h0M93.0 75.3h0M164.6 98.6h0M4.2 0.0h0M137.9 4.1h0M98.5 49.7h0M43.9 18.8h0M19.7 52.2h0M39.6 10.9h0M156.1 34.9h0M44.3 72.5h0M151.3 31.5h0M35.8 1.2h0M167.5 85.1h0M7.4 18.2h0M34.7 22.7h0M89.9 16.1h0M136.1 2.7h0M151.8 52.1h0M177.1 38.6h0M127.7 124.9h0M112.1 88.7h0M19.4 44.7h0M20.0 86.3h0M148.4 46.4h0M33.5 16.3h0M32.2 109.9h0M163.1 132.2h0M33.6 120.1h0M97.7 113.2h0M50.9 87.3h0M164.4 100.2h0M6.9 75.4h0M121.2 47.1h0M147.8 8.7h0M138.1 84.2h0M15.7 86.1h0M80.9 128.3h0M21.1 52.3h0M107.9 71.5h0M18.9 76.9h0M37.1 49.8h0M51.6 11.0h0M97.3 82.9h0M136.9 112.0h0M81.4 61.4h0M165.4 127.7h0M117.7 113.4h0M95.8 129.9h0M118.8 50.4h0M57.0 129.0h0M90.2 116.1h0M4.2 80.8h0M172.7 73.1h0M178.9 58.6h0M183.8 133.2h0M163.2 102.0h0M44.4 7.8h0M51.3 58.9h0M15.7 62.7h0M139.5 15.5h0M179.9 56.2h0M118.4 34.7h0M14.5 102.6h0M10.2 110.3h0" stroke="#c6cab4" stroke-width="1.7" stroke-linecap="round"/></g><g fill="#f2f440" fill-opacity="0.42" stroke="#fafae4" stroke-width="0.85" stroke-opacity="0.9"><circle cx="45.5" cy="3.0" r="13.6"/><circle cx="63.5" cy="6.0" r="13.6"/><circle cx="16.0" cy="31.0" r="13.6"/><circle cx="25.3" cy="39.0" r="13.6"/><circle cx="61.0" cy="30.0" r="13.6"/><circle cx="72.7" cy="31.5" r="13.6"/><circle cx="52.5" cy="58.0" r="13.6"/><circle cx="70.0" cy="48.0" r="13.6"/><circle cx="93.5" cy="56.0" r="13.6"/><circle cx="38.5" cy="73.5" r="13.6"/><circle cx="158.6" cy="19.5" r="13.6"/><circle cx="166.2" cy="22.6" r="13.6"/><circle cx="113.2" cy="7.3" r="13.6"/><circle cx="125.3" cy="10.9" r="13.6"/><circle cx="97.5" cy="24.5" r="13.6"/><circle cx="117.8" cy="21.5" r="13.6"/><circle cx="106.4" cy="40.5" r="13.6"/><circle cx="124.0" cy="40.0" r="13.6"/><circle cx="113.2" cy="48.5" r="13.6"/><circle cx="133.8" cy="57.0" r="13.6"/><circle cx="109.5" cy="60.6" r="13.6"/><circle cx="24.5" cy="91.0" r="13.6"/><circle cx="31.0" cy="100.5" r="13.6"/><circle cx="26.5" cy="69.0" r="13.6"/><circle cx="55.5" cy="73.0" r="13.6"/><circle cx="71.0" cy="70.0" r="13.6"/><circle cx="86.5" cy="85.5" r="13.6"/><circle cx="65.4" cy="108.2" r="13.6"/><circle cx="72.7" cy="115.5" r="13.6"/><circle cx="21.8" cy="125.2" r="13.6"/><circle cx="33.9" cy="130.0" r="13.6"/><circle cx="58.2" cy="130.0" r="13.6"/><circle cx="87.3" cy="122.7" r="13.6"/><circle cx="133.8" cy="74.0" r="13.6"/><circle cx="103.3" cy="74.0" r="13.6"/><circle cx="104.7" cy="94.5" r="13.6"/><circle cx="170.5" cy="100.5" r="13.6"/><circle cx="180.0" cy="106.5" r="13.6"/><circle cx="113.2" cy="122.7" r="13.6"/><circle cx="127.0" cy="123.0" r="13.6"/><circle cx="97.4" cy="127.6" r="13.6"/><circle cx="145.5" cy="128.0" r="13.6"/><circle cx="183.0" cy="127.5" r="13.6"/><circle cx="72.2" cy="97.0" r="13.6"/><circle cx="36.0" cy="46.0" r="13.6"/></g></g></g><g transform="translate(4,411)" clip-path="url(#cpD)"><g filter="url(#soft)"><g><rect width="190" height="134" fill="#06122a"/><rect width="190" height="134" filter="url(#tz)" mask="url(#mCD)"/><path d="M0.9 41.2h0M119.2 87.6h0M45.1 17.5h0M164.9 59.1h0M10.1 112.9h0M149.4 109.7h0M173.0 95.4h0M168.3 50.3h0M78.7 83.2h0M50.7 101.4h0M172.9 57.7h0M138.2 126.5h0M141.4 17.1h0M150.0 60.2h0M31.5 90.7h0M157.8 6.5h0M135.0 53.3h0M33.2 112.5h0M96.5 81.2h0M14.9 71.3h0M96.8 24.8h0M120.3 45.8h0M58.9 86.5h0M9.5 73.8h0M11.5 85.4h0M19.3 18.3h0M169.5 27.6h0M174.3 63.6h0M187.4 16.5h0M56.3 90.4h0M95.0 55.9h0M186.3 25.5h0M67.8 75.0h0M9.4 66.9h0M43.8 53.7h0M104.3 95.8h0M174.8 118.6h0M101.8 40.7h0M172.0 92.5h0M175.3 97.5h0M61.6 37.8h0M42.1 82.2h0M65.1 15.4h0M58.0 57.4h0M41.2 115.9h0M10.2 130.6h0M133.4 91.2h0M54.1 84.5h0M25.8 62.3h0M124.4 114.5h0M71.3 109.4h0M72.7 123.2h0M165.2 25.9h0M91.7 72.7h0M24.4 121.7h0M141.4 15.1h0M19.7 48.3h0M117.7 90.0h0M36.2 67.6h0M49.2 60.6h0M41.9 3.8h0M180.9 82.5h0M160.7 9.1h0M181.4 58.9h0M152.9 132.0h0M74.1 24.3h0M10.0 82.7h0M185.5 11.5h0M167.5 12.5h0M67.3 78.0h0M3.3 77.8h0M154.1 51.9h0M97.0 67.8h0M60.2 41.0h0M47.0 6.0h0M178.2 6.0h0M3.4 102.0h0M167.4 44.1h0M166.1 47.7h0M151.4 76.0h0M65.1 94.0h0M134.8 71.5h0M186.8 63.4h0M32.8 53.8h0M34.1 76.3h0M37.8 34.0h0M136.6 133.9h0M70.7 72.8h0M5.6 130.6h0M120.2 45.8h0M85.3 38.7h0M64.6 54.5h0M156.2 47.5h0M31.4 2.2h0M107.8 3.9h0M169.8 70.6h0M23.6 62.4h0M153.4 106.7h0M132.9 69.1h0M175.3 70.2h0M124.2 122.6h0M170.4 133.5h0M9.0 71.2h0M128.4 19.9h0M17.9 88.4h0M6.5 132.6h0M163.7 37.1h0M49.9 27.2h0M47.7 107.4h0M145.6 100.1h0M97.2 124.0h0M146.4 54.0h0M32.8 87.9h0M172.2 11.5h0M76.6 69.7h0M70.3 92.3h0M118.7 52.9h0M103.1 39.3h0M136.9 125.0h0M163.0 77.1h0M106.0 16.5h0M88.0 108.1h0M125.8 40.4h0M173.4 110.9h0M181.9 55.2h0M185.4 102.0h0M178.8 125.7h0M187.9 54.7h0M71.1 63.8h0M47.2 41.0h0M3.8 96.8h0M189.6 11.8h0M176.0 39.3h0M6.3 128.8h0M96.3 120.3h0M177.8 53.9h0M143.5 33.9h0M185.7 82.4h0M133.4 101.2h0M177.8 55.9h0M39.1 99.6h0M35.8 116.8h0M10.0 69.3h0M146.9 69.4h0M37.1 26.4h0M129.8 101.2h0M53.0 68.6h0M14.0 132.4h0M166.7 46.7h0M74.1 60.8h0M146.4 63.1h0M75.8 90.1h0M116.9 10.8h0M74.1 127.7h0M119.0 113.8h0M113.7 110.6h0M180.5 44.7h0M35.3 43.8h0M136.6 126.9h0M26.7 10.0h0M75.8 89.5h0M101.9 111.5h0M71.1 43.0h0M16.0 65.3h0M156.0 83.2h0M21.2 9.6h0M80.3 50.0h0M25.1 79.9h0M98.7 107.0h0M1.7 53.7h0M93.3 54.2h0M45.1 16.1h0M38.8 69.4h0M32.1 73.2h0M103.0 44.3h0M174.7 128.4h0M155.7 36.0h0M30.7 129.5h0M182.0 83.3h0M153.4 75.2h0M39.4 26.9h0M112.0 79.5h0M165.2 14.0h0M132.3 81.1h0M182.3 76.2h0M113.8 86.8h0M161.5 37.9h0M43.8 56.8h0M35.3 81.2h0M35.2 12.5h0M51.9 30.6h0M148.4 118.0h0M46.3 21.7h0M89.6 122.7h0M178.6 132.9h0M139.9 25.6h0M157.5 121.0h0M24.6 75.8h0M78.7 2.1h0M159.6 67.4h0M8.4 113.8h0M156.4 99.8h0M139.8 105.6h0M99.2 59.1h0M59.7 95.1h0M167.0 77.1h0M103.7 55.7h0M44.0 70.8h0M13.0 75.8h0M54.2 56.5h0M50.5 20.2h0M166.9 97.2h0M182.2 112.9h0M157.1 131.1h0M133.3 126.4h0M26.5 58.8h0M25.4 42.7h0M184.3 88.8h0M147.5 20.9h0M181.1 49.7h0M132.1 77.5h0M101.6 118.6h0M188.6 78.7h0M137.3 21.0h0M144.5 32.2h0M36.1 27.5h0M134.1 104.9h0M178.5 65.6h0M130.2 46.7h0M37.1 62.3h0M120.2 83.1h0M92.3 70.7h0M20.7 82.9h0M14.8 61.1h0M177.7 101.5h0M154.4 93.7h0M60.2 53.9h0M172.3 18.7h0M35.8 130.1h0M72.1 61.3h0M24.2 16.6h0M111.8 78.6h0M31.9 79.4h0M176.3 74.8h0M88.4 99.9h0M132.1 76.1h0M1.0 121.0h0M153.3 93.2h0M127.2 16.1h0M103.2 116.8h0M70.6 96.3h0M20.6 24.6h0M141.8 82.1h0M97.7 24.9h0M5.5 87.1h0M8.1 38.2h0M149.0 48.6h0M124.9 30.6h0M13.8 117.8h0M35.3 96.9h0M17.0 62.5h0M19.1 56.0h0M3.5 49.8h0M51.5 58.4h0M161.2 10.9h0M35.8 38.5h0M182.2 73.0h0M36.9 102.8h0M169.8 107.7h0M179.1 53.6h0M186.0 94.6h0M182.6 69.4h0M12.2 4.7h0M109.2 66.8h0M133.4 9.8h0M59.9 97.8h0M103.9 80.9h0M138.6 78.3h0M41.5 75.4h0M179.7 41.1h0M9.4 91.3h0M120.9 129.0h0M189.6 19.2h0M166.0 122.2h0M16.1 42.9h0M181.6 98.7h0M153.0 86.2h0M52.4 133.6h0M186.7 100.1h0M151.7 12.6h0M182.9 109.6h0M6.2 109.0h0M172.3 89.5h0M101.8 4.5h0M18.2 77.8h0M106.5 19.0h0M175.7 89.5h0M157.4 122.5h0M155.5 61.5h0M37.6 105.1h0M157.7 32.3h0M49.2 11.8h0M121.9 91.3h0M31.9 29.9h0M99.8 89.4h0M176.0 47.7h0M45.2 80.9h0M4.5 25.5h0M150.3 71.4h0M76.2 127.9h0M10.2 8.6h0M125.5 47.9h0M97.2 29.3h0M158.6 16.3h0M23.3 7.6h0M120.7 54.4h0M162.7 47.9h0M187.4 20.1h0M2.6 67.7h0M150.5 24.0h0M133.7 133.6h0M139.5 32.7h0M100.9 17.2h0M44.3 126.6h0M97.1 52.4h0M60.4 48.7h0M41.3 39.0h0M11.3 100.5h0M164.8 63.1h0M107.6 117.7h0M141.5 20.1h0M52.7 13.6h0M168.4 50.1h0M102.8 60.0h0M168.2 57.4h0M31.9 95.8h0M183.3 97.9h0M111.2 51.5h0M68.4 28.1h0M54.1 101.2h0M104.3 91.2h0M164.2 102.1h0M129.2 32.9h0M126.5 128.2h0M49.0 32.7h0M133.0 27.1h0M58.5 31.5h0M170.8 87.6h0M98.9 81.5h0M87.9 75.6h0M65.7 10.4h0M152.4 33.9h0M141.1 68.1h0M156.8 80.8h0M174.9 33.1h0M58.3 112.2h0M149.6 45.9h0M21.5 5.0h0M180.5 38.6h0M188.7 46.2h0M142.3 108.4h0M32.2 0.6h0M4.0 76.7h0M188.9 71.1h0M131.4 30.9h0M95.7 98.2h0M161.7 47.4h0M65.8 1.4h0M188.0 68.9h0M17.2 101.5h0M188.0 115.1h0M97.5 103.8h0M25.7 64.5h0M189.8 115.8h0M181.2 9.9h0M95.9 131.5h0M81.5 130.5h0M49.2 21.0h0M25.8 76.1h0M166.8 100.3h0M148.1 52.2h0M183.4 58.3h0M22.7 85.2h0M144.3 88.6h0M61.4 15.0h0M124.0 4.5h0M170.8 113.9h0M126.9 69.0h0M168.5 9.3h0M165.7 115.8h0M109.0 102.8h0M128.4 60.0h0M184.4 129.2h0M117.6 65.6h0M134.6 50.1h0M94.9 70.4h0M21.8 90.8h0M116.5 32.6h0M12.0 75.2h0M60.2 26.1h0M170.0 117.0h0M120.9 58.0h0M165.2 113.1h0M185.7 15.1h0M155.6 124.3h0M186.2 88.7h0M117.0 53.3h0M26.6 86.4h0M186.9 84.4h0M158.6 54.8h0M112.2 111.1h0M152.6 31.7h0M42.6 29.6h0M124.6 16.1h0M31.7 121.1h0M166.9 54.4h0M16.0 57.9h0M38.7 92.1h0M170.3 81.8h0M19.5 84.2h0M35.3 44.5h0M7.4 12.5h0M182.2 12.7h0M104.5 40.1h0M172.3 12.1h0M56.9 108.6h0M99.4 133.2h0M44.3 68.3h0M111.7 72.5h0M101.7 56.8h0M1.8 102.5h0M145.8 37.5h0M8.9 20.9h0M159.1 65.0h0M123.5 24.5h0M140.4 72.7h0M133.5 44.7h0M78.9 77.7h0M29.2 4.3h0M19.8 87.9h0M40.7 11.9h0M100.0 25.1h0M50.9 111.6h0M58.4 90.7h0M77.5 35.5h0M87.0 25.2h0M13.2 69.2h0M2.0 15.2h0M130.7 23.8h0M37.3 69.8h0M178.1 57.1h0M111.6 108.0h0M117.2 128.8h0M182.6 3.9h0M24.3 46.8h0M166.9 108.0h0M182.7 3.8h0M70.3 14.8h0M173.0 95.4h0M14.0 35.7h0M16.8 112.9h0M9.3 62.7h0M144.3 95.1h0M87.5 132.6h0M162.4 31.1h0M131.1 38.3h0M46.6 107.4h0M91.9 1.5h0M62.1 3.0h0M52.9 105.4h0M129.2 37.2h0M40.4 101.0h0M8.9 36.8h0M145.1 25.1h0M174.5 48.0h0M22.8 56.0h0M132.8 80.0h0M184.3 52.7h0M170.9 89.7h0M153.3 59.4h0M160.9 67.4h0M179.6 55.7h0M38.5 45.4h0M172.2 40.9h0M167.8 22.6h0M121.6 0.3h0M176.2 6.4h0" stroke="#0c2240" stroke-width="1.5" stroke-linecap="round" opacity="0.75"/><path d="M45.6 122.5h0M72.1 36.9h0M15.5 69.4h0M132.6 40.3h0M133.9 43.7h0M5.6 52.2h0M174.2 57.2h0M154.4 62.3h0M32.3 73.4h0M75.5 89.4h0M109.9 120.0h0M140.0 57.0h0M182.1 133.2h0M137.3 37.9h0M116.0 99.1h0M158.3 17.9h0M171.4 47.5h0M20.3 56.3h0M165.7 49.6h0M119.7 23.5h0M187.5 100.0h0M134.6 9.0h0M189.3 68.8h0M20.0 78.2h0M76.2 70.8h0M160.4 4.6h0M172.4 114.4h0M157.3 105.1h0M127.3 31.8h0M100.5 122.3h0M29.4 5.3h0M140.2 96.8h0M174.2 51.4h0M144.3 62.7h0M172.0 41.5h0M174.0 38.1h0M189.6 93.6h0M72.2 111.9h0M101.7 59.6h0M2.9 95.6h0M88.3 128.6h0M20.9 61.0h0M101.2 78.5h0M102.0 85.2h0M171.3 5.7h0M31.4 38.1h0M186.9 7.6h0M146.7 95.4h0M56.1 8.0h0M44.6 67.3h0M46.7 58.4h0M107.4 89.6h0M22.8 66.8h0M79.4 128.4h0M159.7 89.7h0M80.9 124.7h0M124.8 45.3h0M185.1 88.2h0M57.7 62.0h0M149.5 55.1h0M130.5 128.3h0M97.4 117.0h0M6.5 114.4h0M14.6 87.6h0M136.1 48.7h0M144.0 72.8h0M68.8 98.9h0M68.7 5.7h0M130.1 81.2h0M159.8 66.8h0M155.9 108.0h0M10.1 81.8h0M160.2 31.6h0M73.8 21.7h0M90.2 17.2h0M67.9 103.3h0M163.7 54.2h0M21.6 120.7h0M132.4 109.4h0M30.6 11.3h0M184.8 116.8h0M35.8 43.8h0M160.9 107.9h0M62.4 35.3h0M151.6 73.8h0M147.7 79.0h0M157.1 80.1h0M11.5 114.6h0M29.5 25.6h0M20.1 3.7h0M51.4 106.6h0M142.0 42.2h0M54.1 5.0h0M165.8 28.2h0M184.8 51.1h0M14.4 80.5h0M155.4 61.9h0M17.9 70.8h0M123.1 82.3h0M38.8 88.5h0M76.1 45.0h0M163.1 2.9h0M177.4 111.8h0M175.5 108.0h0M116.1 116.2h0M160.4 1.0h0M117.1 132.1h0M114.5 29.0h0M102.1 96.3h0M10.0 61.4h0M159.7 101.3h0M8.6 44.4h0M19.2 1.0h0M27.0 84.4h0M67.2 22.3h0M9.3 92.5h0M166.6 72.7h0M157.3 116.4h0M148.1 98.1h0M170.2 36.2h0M11.0 88.0h0M38.2 121.4h0M57.3 107.3h0M28.9 105.6h0M186.7 127.2h0M124.5 124.4h0M133.8 34.7h0M46.6 95.0h0M172.7 84.0h0M172.9 43.1h0M113.3 61.3h0M21.5 112.8h0M163.6 103.0h0M28.0 116.7h0M168.7 124.9h0M13.0 14.5h0M30.6 95.1h0M40.1 20.3h0M158.5 22.1h0M172.2 112.0h0M23.7 20.5h0M88.0 116.8h0M42.7 46.7h0M180.7 0.1h0M130.0 101.9h0M86.0 57.4h0M158.6 112.8h0M152.3 88.2h0M35.5 52.7h0M29.5 95.0h0M48.6 95.5h0M54.7 13.4h0M179.9 28.0h0M171.8 68.2h0M179.5 50.5h0M72.2 116.1h0M101.0 44.2h0M102.0 72.9h0M110.5 86.7h0M51.9 100.1h0M109.3 30.7h0M156.9 27.9h0M2.8 18.5h0M165.6 92.5h0M171.8 4.2h0M107.5 75.7h0M108.4 68.4h0M7.3 39.4h0M180.5 99.9h0M143.9 21.6h0M9.2 129.4h0M93.1 19.8h0M151.5 49.3h0M35.7 72.3h0M6.1 102.9h0M158.2 89.8h0M148.2 88.2h0M179.6 91.0h0M160.4 119.6h0M29.0 4.9h0M52.4 18.1h0M112.1 11.0h0M38.2 93.2h0M36.3 77.1h0M138.0 45.6h0M151.9 65.6h0M77.6 76.5h0M167.4 119.9h0M38.7 114.8h0M164.9 18.9h0M151.2 75.8h0M5.4 74.3h0M10.6 110.9h0M11.2 80.4h0M183.2 117.4h0M47.1 74.8h0M168.0 94.2h0M61.2 96.8h0M10.9 79.7h0M112.7 113.6h0M34.3 39.5h0M91.6 30.6h0M108.6 85.9h0M169.6 57.7h0M39.3 41.6h0M177.8 37.1h0M59.8 11.3h0M114.8 11.4h0M50.6 69.3h0M9.1 71.7h0M134.0 85.3h0M158.9 80.7h0M161.8 46.8h0M182.0 111.2h0M136.9 2.1h0M177.9 83.5h0M132.8 124.0h0M155.8 100.2h0M118.3 22.1h0M155.1 34.5h0M178.5 60.9h0M160.1 125.7h0M35.1 32.1h0M177.9 41.3h0M152.3 125.5h0M15.0 90.5h0M143.3 75.4h0M145.3 62.3h0M170.7 60.3h0M33.5 54.9h0M103.0 37.3h0M7.5 88.5h0M35.3 37.7h0M3.8 2.7h0M3.2 67.1h0M163.9 56.5h0M156.9 43.6h0M59.1 85.4h0M43.7 123.0h0M154.6 119.9h0M150.7 18.5h0M47.8 72.4h0M159.3 55.7h0M175.2 91.7h0M151.9 36.0h0M141.6 39.5h0M47.3 105.1h0M43.4 126.2h0M172.4 101.7h0M182.9 53.0h0M24.5 80.7h0M50.5 71.9h0M164.1 86.1h0M156.2 56.8h0M85.9 90.3h0M23.1 92.1h0M30.4 131.7h0M46.2 79.5h0M24.5 44.4h0M6.2 12.9h0M36.0 45.9h0M90.5 85.7h0M75.7 119.2h0M9.1 57.5h0M34.5 11.8h0M49.2 103.8h0M174.4 120.3h0M110.3 92.9h0M180.6 57.9h0M32.5 46.7h0M157.0 25.7h0M153.6 110.5h0M109.0 127.0h0M130.6 65.1h0M129.4 119.4h0M115.7 33.6h0M92.6 53.0h0M21.9 102.9h0M153.0 106.3h0M58.5 36.1h0M177.6 57.7h0M36.5 109.4h0M14.4 69.2h0M38.0 120.3h0M35.4 112.8h0M135.8 64.0h0M127.1 85.0h0M163.3 83.8h0M144.7 128.9h0M44.5 31.8h0M189.2 87.0h0M19.1 116.0h0M140.1 90.2h0M31.7 25.7h0M145.0 106.0h0M135.1 96.9h0M43.7 68.7h0M6.7 48.5h0M94.2 104.4h0M30.2 11.3h0M26.1 74.6h0M55.7 55.6h0M155.2 1.9h0M106.3 66.2h0M127.9 68.8h0M38.2 31.1h0M181.7 82.4h0M148.4 71.9h0M157.3 76.5h0M178.4 120.0h0M119.6 71.3h0M89.4 101.9h0M66.6 123.6h0M30.4 2.9h0M75.2 0.3h0M164.2 115.0h0M58.8 127.6h0M159.5 9.1h0M173.0 5.7h0M162.6 73.2h0M11.9 112.1h0M120.4 63.9h0M158.2 68.3h0M38.0 8.9h0M34.4 37.1h0M124.6 71.7h0M108.0 131.2h0M2.4 89.1h0M185.4 89.5h0M56.2 9.9h0M28.1 27.9h0M132.0 122.0h0M75.0 24.6h0M162.6 98.6h0M52.7 2.5h0M182.4 54.7h0M8.4 123.8h0M175.8 0.2h0M74.7 82.4h0M170.9 23.5h0M151.3 69.5h0M58.1 39.0h0M25.6 102.0h0M149.9 65.4h0M172.7 35.0h0M112.1 114.5h0M23.3 65.0h0M56.4 88.8h0M44.2 51.2h0M135.9 73.0h0M61.6 36.7h0M42.0 61.2h0M37.3 115.5h0M144.1 44.5h0M186.0 13.1h0M179.2 34.1h0M27.8 15.3h0M68.3 15.9h0M38.2 119.5h0M8.3 49.4h0M2.3 71.1h0M26.7 33.9h0M10.2 48.2h0M73.7 27.4h0M45.9 30.0h0M143.1 131.0h0M46.3 6.6h0M175.4 1.8h0M15.9 55.3h0M9.0 72.0h0M59.4 95.2h0M167.9 70.8h0M153.2 98.5h0M65.0 13.8h0M29.3 38.4h0M161.8 42.2h0M181.6 24.6h0M50.7 29.8h0M158.9 90.8h0M39.3 118.3h0M18.6 91.8h0M32.4 65.8h0M89.7 89.4h0M76.8 32.6h0M23.4 46.9h0M151.3 52.6h0M177.8 82.5h0M169.3 84.4h0M124.2 48.1h0M126.4 79.5h0M88.0 102.3h0M74.8 101.8h0M141.0 54.4h0M183.8 127.3h0M31.6 127.7h0M159.3 129.0h0M47.2 29.1h0M88.2 24.6h0M112.7 56.5h0M168.7 93.7h0M135.7 69.7h0M176.7 58.9h0M189.2 32.2h0M124.7 44.0h0M55.4 115.8h0M179.5 113.1h0M18.6 48.6h0M7.1 83.2h0M172.5 47.7h0M78.2 5.3h0M123.3 50.8h0M148.9 94.1h0M11.7 76.0h0M154.6 29.8h0M25.7 7.0h0M82.5 114.4h0M12.8 4.0h0M48.6 21.0h0M31.5 71.4h0M50.8 97.6h0M37.2 15.1h0M23.0 81.4h0M69.9 25.1h0M41.3 20.9h0M123.8 1.3h0M176.4 30.2h0M189.2 13.7h0M169.5 82.6h0M165.9 80.5h0M72.3 80.1h0M0.9 94.8h0M162.9 41.5h0M27.6 79.8h0M183.6 80.2h0M170.6 107.5h0M21.8 70.1h0M55.3 110.7h0M9.6 13.6h0M13.6 69.6h0M188.1 62.5h0M57.9 29.2h0M26.8 41.3h0M166.0 73.6h0M169.9 41.4h0M41.3 86.0h0M180.4 112.7h0M38.3 88.9h0M61.8 76.2h0M58.2 75.9h0M20.4 48.4h0M177.7 47.3h0M49.3 3.4h0M142.0 38.7h0M100.6 56.8h0M133.5 102.4h0M8.6 134.0h0M16.8 104.1h0M154.0 115.1h0M122.1 121.6h0M126.3 61.4h0M12.5 57.7h0M42.9 27.0h0M167.5 20.6h0M62.8 87.9h0M42.8 44.7h0M54.6 89.1h0M162.4 98.1h0M69.6 34.5h0M24.7 86.6h0M60.1 114.2h0M126.1 111.6h0M169.0 132.0h0M157.9 38.1h0M138.7 84.8h0M151.1 47.1h0M144.2 55.2h0M72.2 14.0h0M56.2 84.5h0M66.2 107.9h0M60.2 12.6h0M7.1 65.0h0M24.0 63.1h0M0.3 24.0h0M151.7 44.4h0M121.5 78.3h0M9.5 43.5h0M132.0 39.3h0M59.2 92.9h0M51.5 101.2h0M55.7 26.9h0M180.3 105.0h0M156.9 76.7h0M168.5 88.0h0M179.0 60.3h0M156.0 112.8h0M122.9 111.2h0M94.5 90.4h0M187.9 103.2h0M120.1 37.4h0M16.0 94.6h0M34.0 56.3h0M17.3 67.4h0" stroke="#143a62" stroke-width="1.5" stroke-linecap="round" opacity="0.75"/><path d="M32.1 75.8h0M173.8 67.4h0M0.2 92.9h0M101.2 129.7h0M177.7 68.8h0M49.2 102.4h0M176.8 125.7h0M27.5 123.6h0M14.4 77.3h0M60.8 19.1h0M34.8 48.5h0M97.7 68.8h0M66.9 92.9h0M136.1 29.0h0M45.2 25.9h0M37.2 76.5h0M143.3 93.1h0M149.1 117.0h0M166.4 99.1h0M174.2 38.0h0M117.4 106.7h0M44.6 50.9h0M125.0 60.2h0M89.2 0.1h0M100.2 118.0h0M156.0 1.6h0M38.0 54.4h0M36.3 0.9h0M47.6 73.0h0M177.1 67.8h0M126.1 131.2h0M184.1 29.2h0M169.9 72.2h0M185.2 7.0h0M115.7 125.3h0M60.2 34.4h0M185.1 29.9h0M164.0 133.0h0M91.4 100.4h0M50.2 28.8h0M18.8 31.7h0M29.1 95.4h0M174.8 84.6h0M2.3 94.0h0M127.1 65.9h0M56.6 34.8h0M72.9 41.8h0M36.8 99.5h0M29.1 103.5h0M147.1 129.4h0M162.6 120.9h0M43.7 0.4h0M164.4 78.3h0M2.9 48.2h0M30.2 64.2h0M152.0 119.0h0M86.8 79.3h0M18.5 85.0h0M52.8 6.7h0M57.5 94.1h0M139.9 111.2h0M79.2 74.2h0M96.8 80.4h0M102.6 116.8h0M186.6 36.7h0M75.0 40.4h0M134.1 30.8h0M177.7 48.8h0M160.9 9.4h0M156.8 43.5h0M70.4 24.6h0M38.3 2.6h0M9.9 60.4h0M156.9 3.7h0M123.7 6.4h0M18.0 70.2h0M22.0 80.7h0M135.3 85.7h0M179.0 28.1h0M109.9 96.2h0M52.5 51.8h0M97.3 8.9h0M175.2 54.4h0M174.1 81.6h0M37.8 27.7h0M66.1 28.5h0M189.5 49.2h0M129.8 37.6h0M160.8 104.8h0M24.5 5.4h0M26.9 9.7h0M120.3 3.6h0M112.8 109.7h0M24.3 26.5h0M168.1 27.9h0M156.5 37.9h0M150.6 24.7h0M146.3 86.2h0M40.3 33.5h0M14.9 90.9h0M88.9 101.3h0M35.7 84.2h0M8.0 59.0h0M150.3 119.8h0M97.3 61.2h0M150.0 17.7h0M90.0 71.7h0M71.2 76.8h0M49.1 25.4h0M62.9 18.8h0M131.8 48.1h0M114.4 123.0h0M184.7 67.5h0M39.4 111.4h0M15.9 128.6h0M24.6 126.8h0M106.1 71.3h0M140.0 5.9h0M1.4 58.1h0M34.8 115.4h0M2.2 35.8h0M49.5 13.8h0M46.2 4.4h0M141.9 16.5h0M172.7 40.0h0M71.3 112.7h0M6.7 78.3h0M154.4 27.4h0M131.6 43.4h0M154.7 67.4h0M9.8 30.6h0M178.3 17.6h0M172.2 47.5h0M67.6 16.7h0M40.7 34.6h0M161.3 82.8h0M41.1 118.8h0M99.8 122.3h0M36.1 26.3h0M129.3 108.4h0M8.4 68.2h0M176.9 100.3h0M59.4 82.4h0M182.2 94.4h0M34.9 22.6h0M49.9 50.5h0M138.3 84.7h0M77.2 71.5h0M9.5 0.6h0M105.4 84.3h0M131.9 109.0h0M54.4 95.7h0M162.5 116.7h0M125.2 128.1h0M30.6 118.5h0M124.9 49.6h0M179.9 127.5h0M189.2 107.0h0M86.0 69.9h0M161.5 96.1h0M149.6 65.5h0M162.7 83.9h0M163.5 24.5h0M155.0 73.0h0M91.8 97.3h0M135.3 120.7h0M157.0 77.0h0M40.9 75.5h0M175.0 98.8h0M120.6 50.7h0M5.7 8.6h0M115.3 81.9h0M17.6 55.7h0M83.7 104.1h0M181.5 43.9h0M25.0 26.1h0M178.8 13.8h0M32.2 68.4h0M32.8 26.2h0M101.8 122.8h0M55.7 72.0h0M134.0 58.1h0M187.3 4.0h0M175.4 6.8h0M94.9 63.5h0M49.5 45.3h0M139.7 8.7h0M67.8 103.9h0M4.8 98.9h0M14.7 99.0h0M42.7 41.0h0M14.4 132.6h0M144.3 97.1h0M100.5 104.0h0M175.4 12.7h0M16.0 113.9h0M128.4 92.6h0M6.6 71.6h0M24.8 57.8h0M161.9 75.1h0M29.3 1.7h0M140.1 115.1h0M182.8 87.8h0M69.9 21.7h0M95.9 117.0h0M110.5 38.7h0M39.3 7.6h0M66.0 107.1h0M82.2 116.4h0M121.8 77.9h0M19.2 109.3h0M1.0 75.4h0M78.5 65.1h0M44.8 112.6h0M34.8 125.0h0M146.9 67.7h0M138.4 46.3h0M1.1 111.0h0M186.7 66.1h0M11.0 73.5h0M155.5 41.8h0M115.6 38.7h0M172.9 33.1h0M128.4 92.3h0M170.6 66.1h0M111.9 77.2h0M75.4 44.5h0M25.2 72.8h0M160.0 61.5h0M189.1 32.1h0M28.7 13.8h0M147.2 18.5h0M107.3 62.0h0M19.4 95.9h0M42.1 94.9h0M126.6 118.1h0M178.1 80.9h0M176.9 4.4h0M60.4 87.8h0M38.8 94.2h0M169.8 83.4h0M104.5 78.2h0M146.5 73.8h0M66.7 37.0h0M15.7 65.5h0M154.1 33.0h0M185.8 38.3h0M173.8 19.4h0M129.0 51.1h0M109.9 3.1h0M62.5 116.3h0M107.8 97.1h0M79.3 97.4h0M176.6 107.1h0M166.3 87.2h0M38.0 22.7h0M44.6 6.6h0M188.0 27.8h0M176.5 61.8h0M14.0 86.7h0M123.6 0.8h0M184.1 76.0h0M36.2 68.9h0M188.3 55.9h0M97.2 37.9h0M61.5 73.4h0M112.6 40.6h0M15.3 51.5h0M64.1 125.6h0M146.8 77.8h0M183.3 129.8h0M127.5 104.7h0M171.9 62.3h0M176.8 56.6h0M147.2 34.8h0M16.6 40.3h0M107.1 102.5h0M86.4 17.6h0M36.9 56.4h0M97.6 5.7h0M130.6 30.6h0M147.0 0.7h0M47.8 29.3h0M165.7 79.6h0M165.1 90.7h0M28.6 86.6h0M140.4 17.3h0M174.3 134.0h0M56.5 79.0h0M35.7 118.3h0M19.8 115.7h0M102.7 123.0h0M186.2 112.6h0M84.7 48.2h0M72.1 64.9h0M135.7 39.3h0M174.5 52.4h0M174.1 78.8h0M23.3 116.6h0M176.5 102.0h0M43.7 31.5h0M54.4 107.8h0M114.9 39.0h0M69.7 76.0h0M22.0 29.6h0M59.7 2.3h0M160.6 86.4h0M183.1 45.0h0M103.0 56.3h0M136.7 24.6h0M54.1 122.8h0M58.2 96.3h0M140.1 7.7h0M169.1 36.4h0M49.8 73.0h0M113.4 108.1h0M174.1 98.9h0M169.1 115.1h0M188.6 25.2h0M40.9 115.2h0M168.9 80.9h0M98.2 101.9h0M3.3 27.7h0M68.6 64.6h0M87.0 84.2h0M167.2 57.8h0M2.4 34.6h0M143.1 90.1h0M109.1 61.0h0M173.5 51.6h0M45.8 93.8h0M94.0 1.0h0M50.0 28.4h0M121.0 106.9h0M189.8 31.8h0M96.3 121.3h0M177.4 64.8h0M114.2 65.5h0M177.4 39.9h0M124.8 71.6h0M135.3 100.1h0M82.1 48.5h0M3.8 54.1h0M13.9 63.3h0M166.4 78.8h0M89.7 4.3h0M142.8 15.1h0M142.6 90.2h0M79.3 120.7h0M22.7 93.6h0M128.4 109.6h0M21.8 60.0h0M62.1 109.2h0M124.5 98.7h0M35.9 24.6h0M167.1 47.1h0M27.5 97.0h0M90.1 15.8h0M183.3 39.6h0M66.2 24.0h0M166.6 10.9h0M145.3 8.4h0M135.1 6.1h0M127.5 98.6h0M152.3 38.2h0M51.8 109.0h0M29.0 39.8h0M36.0 51.6h0M184.3 116.3h0M164.3 115.1h0M140.2 16.4h0M14.2 10.6h0M96.1 26.7h0M106.1 67.6h0M85.5 108.7h0M88.1 78.0h0M128.5 95.9h0M16.6 12.4h0M184.1 65.9h0M48.5 74.3h0M125.4 55.2h0M185.7 114.0h0M162.8 41.2h0M127.3 60.8h0M165.0 33.8h0M185.4 129.6h0M170.7 90.6h0M175.7 59.4h0M28.3 83.7h0M97.0 34.5h0M86.9 21.1h0M112.8 76.7h0M128.9 98.2h0M90.1 77.1h0M166.9 71.5h0M153.8 46.4h0M113.3 113.6h0M28.0 93.3h0M22.8 124.0h0M134.3 75.8h0M154.6 23.6h0M175.5 16.0h0M25.8 92.7h0M172.6 88.5h0M17.1 9.1h0M24.6 68.2h0M76.7 28.5h0M40.3 60.7h0M11.0 105.2h0M155.3 60.5h0M132.9 70.9h0M154.9 47.7h0M153.9 85.2h0M37.5 112.7h0M48.4 51.3h0M86.3 112.7h0M10.6 115.1h0M167.1 126.6h0M163.7 73.3h0M177.2 110.3h0M43.7 83.3h0M150.3 55.8h0M157.7 53.7h0M71.7 79.6h0M19.2 24.4h0M162.5 54.0h0M138.5 131.9h0M134.0 95.9h0M26.4 71.9h0M66.8 119.3h0M153.0 67.3h0M177.4 81.0h0M6.4 115.0h0M147.6 62.3h0M154.9 23.2h0M49.8 49.1h0M156.1 22.3h0M149.0 71.1h0M6.1 40.6h0M83.5 95.2h0M151.3 92.5h0M31.2 39.4h0M46.6 90.0h0M61.8 32.3h0M121.6 118.6h0M104.7 45.0h0M149.2 9.0h0M91.4 86.5h0M93.6 113.9h0M140.9 66.2h0M145.0 81.2h0M149.1 92.9h0M155.1 72.2h0M12.6 21.6h0M167.6 23.8h0M177.6 118.9h0M177.7 112.6h0M90.1 108.8h0M165.9 121.1h0M54.7 116.7h0M108.6 32.6h0M73.0 18.8h0M166.4 80.5h0M112.7 69.6h0M161.1 98.8h0M161.8 8.8h0M189.8 66.0h0M154.9 27.7h0M129.5 2.6h0M78.1 53.0h0M120.5 28.4h0M132.0 99.3h0M67.1 107.2h0M27.8 53.7h0M93.6 97.5h0M45.6 68.6h0M73.8 90.8h0M158.1 2.2h0M179.9 81.8h0M68.0 124.5h0M143.6 34.8h0M67.8 2.8h0M26.8 53.5h0M1.0 61.1h0M33.2 74.2h0M30.3 90.0h0M38.4 104.2h0M113.1 58.9h0M53.6 94.7h0M3.6 44.4h0M18.4 35.5h0M1.7 49.8h0M161.8 122.8h0M120.7 14.3h0M45.7 95.9h0M58.7 26.7h0M173.2 105.6h0M0.9 70.6h0M78.2 70.6h0M53.1 113.9h0M184.5 40.4h0M172.1 36.9h0M36.4 26.2h0M27.3 35.1h0M174.9 46.6h0M38.7 91.6h0M50.7 49.9h0M108.4 73.3h0M188.7 35.5h0M52.5 83.7h0M169.3 11.0h0" stroke="#1f5282" stroke-width="1.5" stroke-linecap="round" opacity="0.75"/><path d="M5.5 62.4h0M123.3 120.7h0M109.0 1.8h0M30.3 106.8h0M117.3 17.0h0M165.6 28.1h0M186.7 116.9h0M182.7 72.3h0M183.6 119.8h0M68.6 22.2h0M0.6 90.8h0M58.9 109.7h0M10.8 130.7h0M142.5 113.2h0M149.7 49.1h0M1.7 6.3h0M181.5 26.3h0M176.6 126.2h0M17.3 45.7h0M174.4 45.6h0M33.7 10.5h0M130.9 133.6h0M157.0 61.1h0M10.6 122.8h0M93.8 112.3h0M149.7 14.3h0M28.4 113.2h0M185.4 60.8h0M138.6 64.2h0M94.9 45.4h0M69.1 94.4h0M47.6 90.0h0M157.4 46.9h0M181.7 69.4h0M110.4 89.2h0M136.9 3.7h0M83.8 87.1h0M130.3 84.5h0M89.6 30.3h0M25.4 42.5h0M36.7 4.8h0M45.2 121.0h0M21.9 111.4h0M6.9 82.2h0M182.1 109.7h0M154.5 86.1h0M27.0 79.9h0M66.7 119.7h0M20.5 75.8h0M71.4 57.8h0M55.4 130.3h0M49.4 131.5h0M23.2 83.3h0M2.5 71.4h0M177.7 104.8h0M55.7 81.5h0M22.5 101.9h0M101.4 45.0h0M100.7 62.2h0M141.6 79.2h0M168.7 73.1h0M147.9 57.3h0M134.6 84.7h0M173.2 51.7h0M161.9 26.3h0M132.0 58.0h0M148.3 122.0h0M154.2 9.2h0M189.7 94.0h0M160.0 29.4h0M180.9 95.5h0M55.6 123.0h0M116.0 55.5h0M118.3 5.8h0M72.0 9.6h0M25.5 57.8h0M28.7 84.6h0M173.0 74.4h0M50.0 73.9h0M142.6 69.3h0M34.1 95.6h0M16.2 89.5h0M23.7 79.6h0M166.6 64.4h0M129.4 29.9h0M26.6 83.7h0M66.2 51.7h0M75.1 13.0h0M38.5 5.3h0M91.4 101.9h0M81.4 62.4h0M29.4 21.3h0M73.3 118.0h0M48.3 37.2h0M54.5 31.5h0M6.1 123.9h0M178.2 92.2h0M89.6 126.7h0M138.6 21.9h0M4.7 30.9h0M76.2 130.5h0M59.2 62.7h0M139.1 96.2h0M188.0 69.5h0M93.3 125.4h0M46.3 6.8h0M58.1 6.9h0M184.6 24.0h0M76.4 71.2h0M59.6 14.5h0M40.7 2.3h0M92.4 76.6h0M42.6 15.5h0M59.4 17.4h0M46.5 11.3h0M109.6 32.9h0M133.1 6.4h0M54.3 50.1h0M144.3 77.0h0M138.3 94.0h0M154.3 51.2h0M12.5 22.7h0M128.4 38.3h0M145.1 74.7h0M9.6 17.4h0M43.9 57.5h0M62.8 1.7h0M157.1 97.4h0M145.8 125.5h0M184.2 79.9h0M154.7 56.2h0M185.8 4.4h0M41.0 37.1h0M45.9 47.1h0M117.4 53.7h0M158.0 65.7h0M32.2 13.2h0M171.0 26.7h0M118.4 107.2h0M1.9 68.6h0M35.1 52.1h0M5.1 41.8h0M131.6 89.8h0M151.7 48.6h0M129.1 70.0h0M14.8 11.7h0M58.3 124.5h0M170.3 32.0h0M103.4 52.7h0M105.2 95.8h0M168.5 28.5h0M31.8 84.8h0M42.7 8.4h0M171.9 40.5h0M115.0 129.5h0M114.7 24.6h0M138.5 8.2h0M158.6 128.3h0M90.6 13.5h0M29.8 12.4h0M118.8 129.3h0M19.5 8.6h0M141.2 11.2h0M103.3 50.3h0M56.2 15.7h0M132.4 105.7h0M45.2 89.3h0M51.5 12.9h0M187.1 72.5h0M177.4 12.3h0M68.6 2.2h0M84.1 63.2h0M147.9 58.2h0M171.4 86.4h0M173.9 50.7h0M143.7 119.5h0M188.9 29.0h0M51.5 63.0h0M126.6 16.5h0M170.5 118.6h0M113.8 18.3h0M174.8 125.6h0M35.1 57.5h0M133.4 12.1h0M122.3 50.2h0M45.8 76.2h0M103.6 98.0h0M91.4 94.6h0M146.5 56.1h0M116.0 106.2h0M65.7 2.9h0M14.7 60.1h0M26.2 47.0h0M11.4 11.8h0M27.3 129.6h0M52.4 105.0h0M49.8 111.1h0M73.8 84.3h0M50.0 117.5h0M170.5 23.7h0M9.9 99.1h0M93.9 116.8h0M116.2 82.0h0M180.3 14.9h0M130.0 12.4h0M160.3 16.2h0M49.1 40.0h0M88.5 20.8h0M50.0 126.9h0M16.8 47.3h0M33.2 18.6h0M130.6 59.9h0M173.3 19.4h0M149.0 112.0h0M20.5 34.7h0M169.0 35.5h0M121.7 128.1h0M146.3 45.1h0M9.5 130.3h0M120.9 97.0h0M77.6 44.1h0M12.2 96.1h0M165.2 8.4h0M170.3 67.9h0M79.1 30.3h0M107.3 38.9h0M21.8 72.0h0M187.6 72.7h0M174.5 51.2h0M174.6 43.6h0M100.5 18.7h0M178.4 62.4h0M174.3 76.9h0M54.0 99.7h0M25.3 22.5h0M31.0 93.6h0M10.0 96.6h0M145.2 45.1h0M174.7 37.8h0M166.6 17.8h0M78.8 130.8h0M0.2 126.4h0M162.1 88.6h0M159.2 90.6h0M139.0 67.7h0M116.7 106.7h0M146.6 112.2h0M101.7 64.1h0M45.3 111.1h0M73.1 86.4h0M52.0 1.4h0M84.5 91.9h0M49.5 112.6h0M20.2 61.4h0M152.6 63.9h0M38.3 8.9h0M19.0 49.5h0M41.8 0.4h0M57.0 97.7h0M131.0 29.1h0M85.7 54.8h0M167.7 95.6h0M36.2 43.9h0M129.6 103.1h0M101.4 112.6h0M18.0 81.2h0M27.3 38.6h0M28.3 57.0h0M1.1 73.7h0M158.5 43.7h0M15.2 20.2h0M11.1 80.6h0M174.6 81.5h0M32.4 57.2h0M156.3 30.8h0M155.2 9.5h0M41.7 89.1h0M17.9 97.9h0M58.8 90.8h0M174.0 85.3h0M28.7 37.3h0M13.5 90.4h0M55.2 12.2h0M176.9 39.1h0M65.7 126.6h0M62.3 91.9h0M165.6 7.8h0M160.7 76.3h0M124.8 82.4h0M167.0 41.0h0M114.6 79.1h0M84.7 98.3h0M54.1 88.0h0M33.7 63.6h0M178.6 52.3h0M189.4 17.4h0M138.2 61.3h0M147.9 41.1h0M8.6 66.9h0M100.0 6.1h0M187.9 105.6h0M86.6 4.4h0M36.4 131.9h0M47.1 8.8h0M158.8 104.9h0M32.1 36.2h0M33.3 96.5h0M173.2 74.7h0M108.9 37.8h0M49.4 61.3h0M15.3 33.1h0M181.8 65.3h0M141.4 79.4h0M162.5 105.9h0M28.4 1.2h0M43.3 0.7h0M43.4 27.5h0M39.2 123.4h0M131.3 10.6h0M88.5 73.1h0M140.9 46.4h0M99.2 112.4h0M114.2 86.4h0M84.8 75.1h0M19.4 124.5h0M94.7 39.5h0M51.3 21.6h0M172.9 10.6h0M132.0 83.7h0M137.0 64.0h0M8.4 67.7h0M62.9 91.7h0M175.8 94.8h0M43.1 65.9h0M137.2 102.5h0M178.5 59.4h0M188.4 43.4h0M163.4 19.6h0M152.6 111.0h0M143.7 44.7h0M60.6 66.9h0M36.2 124.5h0M56.7 108.8h0M90.6 44.0h0M69.1 0.0h0M179.0 47.5h0M55.7 84.3h0M22.3 70.2h0M27.4 105.2h0M166.0 42.5h0M1.2 41.1h0M172.8 121.7h0M187.6 74.3h0M15.7 57.2h0M46.4 56.7h0M99.0 49.1h0M1.9 90.4h0M44.4 42.0h0M39.8 114.2h0M159.0 79.5h0M44.5 8.5h0M171.2 65.9h0M91.7 118.7h0M186.3 43.3h0M172.6 91.2h0M66.0 46.2h0M42.8 69.2h0M5.9 118.0h0M37.3 99.1h0M81.3 26.0h0M180.5 46.7h0M53.0 104.7h0M8.8 61.5h0M121.4 48.1h0M179.9 58.8h0M176.8 83.3h0M150.0 95.4h0M79.2 21.0h0M130.6 44.1h0M172.4 93.9h0M187.9 24.6h0M115.9 95.1h0M158.1 38.5h0M140.0 43.2h0M49.8 10.2h0M142.3 73.4h0M109.5 15.4h0M138.9 46.8h0M41.0 89.5h0M51.9 0.3h0M43.4 98.0h0M110.3 40.5h0M119.3 54.7h0M129.6 51.8h0M5.0 71.9h0M167.0 25.9h0M101.3 125.3h0M64.4 52.2h0M94.7 101.1h0M172.0 79.4h0M28.4 27.1h0M9.1 0.2h0M48.9 66.1h0M106.3 90.5h0M156.4 12.9h0M164.5 111.8h0M133.2 50.4h0M145.3 95.1h0M185.9 23.7h0M138.7 51.8h0M38.8 29.7h0M81.3 119.9h0M174.1 35.1h0M132.2 24.7h0M31.7 33.4h0M31.5 91.1h0M55.3 34.1h0M21.7 58.8h0M176.6 30.5h0M81.5 4.2h0M1.0 62.7h0M181.1 92.3h0M104.8 80.2h0M8.3 9.8h0M157.1 74.8h0M19.1 33.5h0M27.3 99.8h0M31.7 83.1h0M137.9 97.9h0M173.3 58.4h0M119.8 11.1h0M109.8 105.8h0M47.4 50.5h0M30.5 52.5h0M158.9 86.0h0M45.3 84.5h0M56.6 63.1h0M119.2 117.7h0M27.6 91.3h0M93.3 60.5h0M33.5 128.3h0M27.1 99.0h0M39.4 94.7h0M134.0 20.5h0M148.7 95.9h0M134.8 125.3h0M20.0 91.5h0M148.5 97.3h0M152.3 18.1h0M155.7 46.2h0M178.7 9.5h0M47.3 106.8h0M34.7 107.6h0M42.8 119.7h0M128.1 132.0h0M103.3 73.2h0M50.4 91.6h0M70.1 89.9h0M148.4 52.0h0M56.5 23.0h0M161.7 32.7h0M94.5 17.7h0M75.5 16.0h0M182.7 89.8h0M133.5 100.9h0M7.0 37.8h0M83.7 116.7h0M19.8 2.4h0M138.0 60.7h0M27.6 110.2h0M189.4 32.9h0M94.7 128.1h0M42.9 114.8h0M188.8 83.9h0M37.5 65.7h0M38.9 127.3h0M154.9 111.7h0M134.8 47.6h0M31.0 88.1h0M148.7 75.4h0M0.4 35.7h0M165.1 85.1h0M28.9 109.7h0M65.3 93.1h0M141.7 74.9h0M144.6 39.3h0M22.1 73.2h0M89.5 38.8h0M82.7 31.8h0M63.0 16.7h0M160.5 23.9h0M180.0 42.2h0M46.9 116.0h0M37.5 64.4h0M51.4 28.4h0M182.6 68.3h0M76.9 77.8h0M66.1 85.6h0M92.2 66.0h0M24.0 61.7h0M183.7 26.2h0M26.3 106.2h0M39.8 31.6h0M62.9 5.6h0M5.0 85.3h0M89.8 71.2h0M157.9 63.5h0M160.0 69.6h0M174.9 4.7h0M110.5 123.5h0M160.5 111.7h0M55.6 35.5h0M63.3 20.4h0M5.2 98.1h0M155.9 111.9h0M58.2 35.4h0M5.5 34.2h0M54.7 72.2h0M17.9 49.8h0M11.7 54.1h0M73.6 62.5h0M135.4 55.9h0M146.9 39.8h0M122.0 98.9h0M65.6 118.7h0M77.4 17.4h0M184.0 54.6h0M64.8 49.1h0M31.7 40.4h0M39.6 4.2h0M147.4 9.5h0M166.2 71.5h0M56.9 119.6h0M140.6 66.4h0M93.3 57.7h0M64.5 82.4h0M36.3 39.0h0M56.9 72.5h0M23.0 119.7h0M141.8 121.0h0M63.6 67.2h0M55.4 75.3h0M177.9 68.6h0M187.0 83.1h0M160.7 83.9h0M166.8 42.3h0M90.6 26.8h0M152.2 44.3h0M171.7 34.6h0M151.5 119.1h0M129.3 108.6h0M111.6 110.6h0M34.8 100.9h0M43.3 73.3h0M59.1 113.0h0M148.1 55.2h0M182.8 19.8h0M5.6 47.0h0M29.5 126.1h0M135.9 28.6h0M86.8 33.5h0M121.9 42.4h0M83.0 95.3h0M109.4 63.5h0M142.3 77.5h0M34.4 45.8h0M39.1 115.7h0M89.1 99.7h0M114.7 108.8h0M17.7 51.3h0M144.8 8.6h0M173.9 38.7h0M165.0 109.9h0M36.0 97.8h0M149.9 70.0h0M25.6 44.9h0M180.2 41.6h0M185.4 67.9h0M156.9 42.2h0M178.3 2.7h0M165.8 75.9h0M150.7 59.5h0M178.2 92.2h0M141.8 89.5h0M149.2 74.1h0M49.1 104.2h0M18.1 84.3h0M166.2 25.8h0M28.4 29.3h0M22.1 85.8h0M132.8 31.7h0M186.0 54.0h0M62.6 117.9h0M19.0 67.4h0M48.8 60.7h0M185.9 63.3h0M160.3 124.0h0M16.7 77.9h0M33.1 47.0h0M1.7 53.6h0M165.5 34.3h0M131.6 105.7h0M63.2 82.3h0M174.0 55.5h0M183.4 45.7h0M186.8 14.3h0M126.2 132.4h0M159.2 88.5h0M27.1 67.9h0M31.5 83.3h0M10.3 56.4h0M165.1 98.1h0M103.9 69.4h0M37.2 92.3h0M85.7 113.3h0M44.6 81.4h0M111.5 11.6h0M46.7 105.1h0M182.0 118.6h0M22.6 115.9h0M49.4 10.2h0M184.3 25.3h0M1.1 91.7h0M56.5 12.0h0M32.6 83.1h0M8.1 25.1h0M68.4 101.5h0M124.0 77.6h0M180.9 19.0h0M142.9 16.2h0M52.5 112.0h0M68.8 32.2h0M6.6 57.6h0M38.7 43.1h0M63.1 81.4h0M175.8 35.9h0M108.7 28.8h0M166.4 27.8h0M159.1 65.1h0M72.0 23.9h0M144.7 115.8h0M185.4 33.9h0M142.7 76.5h0M31.9 2.3h0M169.3 53.4h0M71.1 85.6h0M37.8 90.9h0M169.5 90.2h0M29.9 133.7h0M121.3 3.4h0M67.4 15.1h0M127.3 99.7h0M22.1 83.9h0M91.9 130.0h0M99.3 4.0h0M36.9 25.0h0M93.0 75.3h0M164.6 98.6h0M4.2 0.0h0M137.9 4.1h0M98.5 49.7h0M43.9 18.8h0M19.7 52.2h0M39.6 10.9h0M156.1 34.9h0M44.3 72.5h0M151.3 31.5h0M35.8 1.2h0M167.5 85.1h0M7.4 18.2h0M34.7 22.7h0M89.9 16.1h0M136.1 2.7h0M151.8 52.1h0M177.1 38.6h0M127.7 124.9h0M112.1 88.7h0M19.4 44.7h0M20.0 86.3h0M148.4 46.4h0M33.5 16.3h0M32.2 109.9h0M163.1 132.2h0M33.6 120.1h0M97.7 113.2h0M50.9 87.3h0M164.4 100.2h0M6.9 75.4h0M121.2 47.1h0M147.8 8.7h0M138.1 84.2h0M15.7 86.1h0M80.9 128.3h0M21.1 52.3h0M107.9 71.5h0M18.9 76.9h0M37.1 49.8h0M51.6 11.0h0M97.3 82.9h0M136.9 112.0h0M81.4 61.4h0M165.4 127.7h0M117.7 113.4h0M95.8 129.9h0M118.8 50.4h0M57.0 129.0h0M90.2 116.1h0M4.2 80.8h0M172.7 73.1h0M178.9 58.6h0M183.8 133.2h0M163.2 102.0h0M44.4 7.8h0M51.3 58.9h0M15.7 62.7h0M139.5 15.5h0M179.9 56.2h0M118.4 34.7h0M14.5 102.6h0M10.2 110.3h0" stroke="#c6cab4" stroke-width="1.7" stroke-linecap="round"/></g><g fill="none" stroke="#e2e426" stroke-width="3.3" stroke-opacity="0.85"><circle cx="45.5" cy="3.0" r="13.4"/><circle cx="63.5" cy="6.0" r="13.4"/><circle cx="16.0" cy="31.0" r="13.4"/><circle cx="25.3" cy="39.0" r="13.4"/><circle cx="61.0" cy="30.0" r="13.4"/><circle cx="72.7" cy="31.5" r="13.4"/><circle cx="52.5" cy="58.0" r="13.4"/><circle cx="70.0" cy="48.0" r="13.4"/><circle cx="93.5" cy="56.0" r="13.4"/><circle cx="38.5" cy="73.5" r="13.4"/><circle cx="158.6" cy="19.5" r="13.4"/><circle cx="166.2" cy="22.6" r="13.4"/><circle cx="113.2" cy="7.3" r="13.4"/><circle cx="125.3" cy="10.9" r="13.4"/><circle cx="97.5" cy="24.5" r="13.4"/><circle cx="117.8" cy="21.5" r="13.4"/><circle cx="106.4" cy="40.5" r="13.4"/><circle cx="124.0" cy="40.0" r="13.4"/><circle cx="113.2" cy="48.5" r="13.4"/><circle cx="133.8" cy="57.0" r="13.4"/><circle cx="109.5" cy="60.6" r="13.4"/><circle cx="24.5" cy="91.0" r="13.4"/><circle cx="31.0" cy="100.5" r="13.4"/><circle cx="26.5" cy="69.0" r="13.4"/><circle cx="55.5" cy="73.0" r="13.4"/><circle cx="71.0" cy="70.0" r="13.4"/><circle cx="86.5" cy="85.5" r="13.4"/><circle cx="65.4" cy="108.2" r="13.4"/><circle cx="72.7" cy="115.5" r="13.4"/><circle cx="21.8" cy="125.2" r="13.4"/><circle cx="33.9" cy="130.0" r="13.4"/><circle cx="58.2" cy="130.0" r="13.4"/><circle cx="87.3" cy="122.7" r="13.4"/><circle cx="133.8" cy="74.0" r="13.4"/><circle cx="103.3" cy="74.0" r="13.4"/><circle cx="104.7" cy="94.5" r="13.4"/><circle cx="170.5" cy="100.5" r="13.4"/><circle cx="180.0" cy="106.5" r="13.4"/><circle cx="113.2" cy="122.7" r="13.4"/><circle cx="127.0" cy="123.0" r="13.4"/><circle cx="97.4" cy="127.6" r="13.4"/><circle cx="145.5" cy="128.0" r="13.4"/><circle cx="183.0" cy="127.5" r="13.4"/><circle cx="72.2" cy="97.0" r="13.4"/><circle cx="36.0" cy="46.0" r="13.4"/></g></g></g><g font-family="Liberation Sans, Arial, sans-serif" font-weight="bold" font-size="14.4" fill="#fff"><text x="5.6" y="21.6">A</text><text x="5.6" y="156.8">B</text><text x="5.6" y="291.6">C</text><text x="5.6" y="427.2">D</text></g><defs><filter id="gsoft" x="-5%" y="-5%" width="110%" height="110%"><feGaussianBlur stdDeviation="0.5"/></filter></defs><g fill="#1e1e1e" font-size="5.2"><rect x="195.9" y="6.0" width="189.5" height="131.5" fill="#c9c9d2"/><path d="M208.5 10.5h0M199.3 20.0h0M199.6 21.5h0M204.5 8.9h0M202.9 7.4h0M204.2 10.1h0M201.2 12.3h0M217.6 16.6h0M216.0 17.9h0M207.2 10.4h0M217.4 20.6h0M216.0 20.9h0M203.5 9.2h0M217.2 22.1h0M217.8 21.8h0M216.5 22.4h0M213.2 14.2h0M213.9 13.3h0M217.6 19.8h0M218.4 19.0h0M232.3 9.7h0M231.1 9.1h0M233.8 9.4h0M231.6 8.7h0M231.0 8.2h0M214.7 26.5h0M227.2 30.1h0M227.9 28.6h0M228.0 29.4h0M217.7 23.6h0M216.9 23.2h0M218.3 21.9h0M213.5 11.0h0M214.6 12.2h0M213.3 11.3h0M210.9 28.3h0M202.7 16.7h0M204.1 17.9h0M228.1 13.7h0M229.8 14.3h0M227.6 12.7h0M199.7 10.5h0M198.0 11.7h0M203.3 13.8h0M203.0 13.3h0M217.3 30.3h0M213.3 28.3h0M212.9 27.9h0M213.2 28.0h0M203.6 31.1h0M202.4 30.5h0M202.0 29.3h0M202.2 9.3h0M202.6 7.8h0M242.1 16.1h0M243.8 16.5h0M251.8 9.6h0M253.6 9.5h0M251.8 8.2h0M238.3 15.3h0M238.2 16.0h0M253.3 11.9h0M252.1 12.0h0M235.6 19.8h0M259.9 13.2h0M261.3 12.7h0M242.7 20.2h0M243.2 20.6h0M263.2 25.5h0M264.3 26.7h0M261.5 12.4h0M260.9 10.7h0M259.8 11.6h0M244.0 23.9h0M243.8 25.5h0M270.5 30.4h0M269.0 29.0h0M251.7 15.1h0M252.1 16.6h0M252.9 15.1h0M258.3 26.6h0M264.9 9.8h0M265.9 10.7h0M264.8 8.6h0M263.2 15.0h0M263.1 15.9h0M261.8 13.8h0M270.6 7.5h0M271.8 6.2h0M271.8 9.2h0M258.5 15.5h0M256.7 16.5h0M261.0 9.3h0M260.7 10.7h0M264.6 12.0h0M263.6 12.0h0M262.3 14.9h0M263.5 13.3h0M263.2 16.3h0M258.6 26.9h0M259.8 28.3h0M257.3 25.7h0M253.1 28.4h0M253.5 29.4h0M240.0 10.3h0M254.8 14.9h0M255.8 13.4h0M255.0 13.9h0M244.7 25.9h0M244.9 26.8h0M246.1 25.7h0M256.8 19.3h0M257.5 19.1h0M254.0 18.6h0M254.7 20.0h0M268.8 13.2h0M270.0 11.9h0M276.9 17.7h0M296.9 17.4h0M297.5 18.4h0M305.1 10.6h0M303.8 12.0h0M307.6 12.2h0M287.0 18.8h0M285.7 18.6h0M291.2 15.2h0M290.7 13.7h0M285.8 15.1h0M285.6 13.4h0M285.2 15.6h0M291.1 8.4h0M292.8 7.0h0M282.1 7.8h0M281.3 6.4h0M287.8 29.3h0M287.5 29.4h0M291.2 19.0h0M289.7 17.4h0M297.5 17.3h0M282.3 7.2h0M301.6 8.9h0M300.0 10.2h0M289.0 15.2h0M290.5 14.3h0M287.6 15.3h0M281.2 9.5h0M280.3 8.4h0M306.3 22.3h0M305.6 22.3h0M279.0 15.4h0M308.6 7.7h0M299.1 20.4h0M299.2 19.5h0M288.7 23.1h0M289.3 23.2h0M290.1 24.8h0M283.7 12.1h0M283.1 13.3h0M298.2 22.5h0M299.9 24.2h0M299.4 20.8h0M295.2 28.5h0M294.0 27.0h0M296.4 29.9h0M296.8 13.8h0M297.5 12.1h0M279.2 13.4h0M282.1 30.6h0M281.1 32.2h0M283.7 15.6h0M284.7 8.9h0M284.7 7.8h0M290.8 6.9h0M292.0 5.6h0M293.8 16.5h0M293.1 15.6h0M293.8 19.9h0M294.3 20.6h0M304.4 16.4h0M305.2 16.4h0M282.8 22.1h0M281.2 23.3h0M304.9 22.3h0M306.4 23.2h0M293.1 26.9h0M302.5 21.2h0M301.0 19.6h0M295.6 30.5h0M296.8 30.7h0M296.1 31.0h0M297.2 18.9h0M289.1 8.5h0M296.4 8.4h0M295.5 6.9h0M295.6 9.3h0M279.9 25.1h0M279.9 24.7h0M279.9 25.7h0M300.3 22.0h0M298.8 20.8h0M281.7 25.2h0M282.2 23.8h0M290.0 18.8h0M297.6 23.5h0M298.4 22.7h0M289.4 25.7h0M288.7 24.3h0M289.7 14.0h0M302.3 30.7h0M304.0 30.3h0M303.8 32.3h0M275.2 9.0h0M276.8 7.7h0M302.3 19.4h0M298.0 12.5h0M297.6 11.3h0M299.7 13.2h0M287.2 24.8h0M286.7 24.1h0M288.4 23.0h0M299.8 27.5h0M306.6 11.6h0M305.2 14.0h0M303.7 13.6h0M304.1 8.7h0M305.0 10.0h0M303.3 7.1h0M334.4 22.5h0M333.5 21.6h0M328.9 11.5h0M330.0 11.2h0M311.5 25.6h0M312.9 27.2h0M311.6 26.4h0M312.2 24.9h0M312.6 23.6h0M313.5 24.8h0M343.5 20.4h0M343.4 19.8h0M321.2 25.1h0M320.9 24.1h0M327.9 23.3h0M316.5 10.8h0M316.5 11.9h0M330.4 18.0h0M332.2 17.8h0M315.5 11.6h0M316.7 20.5h0M315.8 19.7h0M331.1 28.7h0M330.7 29.6h0M330.0 27.9h0M337.7 19.1h0M336.4 19.1h0M333.3 28.1h0M331.8 29.5h0M324.4 22.8h0M326.0 24.0h0M325.7 21.0h0M311.6 24.3h0M313.3 24.3h0M310.0 25.9h0M344.1 19.8h0M345.8 18.9h0M342.7 18.6h0M329.4 23.6h0M327.9 24.6h0M327.6 22.3h0M331.1 7.7h0M332.7 8.2h0M329.6 17.6h0M314.0 14.2h0M313.6 13.2h0M332.2 7.1h0M334.0 6.3h0M321.9 27.5h0M321.8 26.6h0M319.4 30.5h0M317.8 29.4h0M342.5 22.8h0M319.7 23.3h0M318.8 21.6h0M322.7 17.2h0M321.6 18.3h0M323.5 17.2h0M317.8 30.8h0M318.8 29.7h0M327.3 13.3h0M325.9 13.8h0M332.5 28.9h0M332.2 29.5h0M334.2 27.7h0M324.7 12.1h0M324.4 12.8h0M317.1 17.9h0M317.9 19.7h0M344.2 14.9h0M344.8 15.0h0M365.3 14.5h0M366.5 16.2h0M365.1 13.1h0M351.1 8.8h0M352.8 7.4h0M352.8 7.7h0M361.2 27.1h0M359.8 27.8h0M360.2 27.2h0M364.5 14.8h0M362.8 14.5h0M365.6 15.7h0M349.8 7.7h0M377.5 8.3h0M378.4 9.8h0M360.6 13.5h0M357.8 24.5h0M359.3 23.8h0M374.5 21.5h0M349.2 12.6h0M350.0 12.5h0M350.2 13.6h0M381.5 26.9h0M383.0 25.8h0M377.4 25.0h0M377.8 24.4h0M359.9 15.7h0M366.9 16.5h0M366.0 14.9h0M349.5 20.4h0M348.3 20.2h0M352.1 8.6h0M204.3 43.5h0M203.1 42.2h0M204.1 44.9h0M205.2 46.4h0M225.0 40.4h0M225.2 39.9h0M223.5 38.0h0M222.4 37.1h0M206.9 55.5h0M206.3 55.1h0M232.7 45.6h0M233.3 44.2h0M213.5 34.0h0M213.9 53.3h0M215.4 51.7h0M213.2 52.0h0M203.6 57.1h0M205.1 56.7h0M228.1 44.2h0M229.1 44.8h0M196.9 48.8h0M195.9 48.4h0M201.8 38.1h0M200.2 39.0h0M229.9 53.2h0M229.5 52.8h0M219.2 35.0h0M225.6 46.6h0M211.5 52.8h0M212.0 51.3h0M202.6 50.3h0M204.4 50.9h0M202.3 48.7h0M223.8 54.9h0M223.5 56.2h0M225.5 54.4h0M203.9 51.1h0M205.4 50.8h0M202.4 35.9h0M211.4 54.9h0M212.4 53.6h0M209.8 53.6h0M226.0 42.9h0M226.8 41.7h0M209.3 37.1h0M210.9 35.7h0M214.5 53.0h0M213.8 54.2h0M198.3 55.6h0M196.7 57.2h0M210.8 55.4h0M211.3 56.7h0M219.2 48.3h0M220.4 47.1h0M204.6 43.0h0M204.2 41.6h0M205.7 51.0h0M204.0 51.2h0M224.2 34.0h0M222.8 34.4h0M216.7 48.6h0M217.2 47.9h0M205.7 42.7h0M205.6 42.5h0M197.5 48.4h0M197.4 48.2h0M198.0 49.5h0M227.1 53.1h0M225.7 51.8h0M226.8 51.7h0M212.7 45.7h0M198.2 36.3h0M199.2 36.4h0M198.7 45.5h0M199.2 46.6h0M197.0 44.0h0M219.0 50.2h0M203.7 57.3h0M203.0 58.5h0M204.8 58.0h0M222.9 38.6h0M223.3 37.7h0M208.5 48.3h0M207.2 48.3h0M210.0 47.2h0M206.2 45.6h0M205.8 44.5h0M211.3 48.8h0M212.0 50.2h0M202.8 52.5h0M224.6 34.3h0M226.3 34.1h0M215.6 50.1h0M205.8 46.3h0M206.7 45.9h0M205.4 45.9h0M239.9 41.3h0M250.7 37.5h0M245.4 45.8h0M245.9 47.6h0M255.9 49.5h0M256.7 50.4h0M242.6 40.3h0M242.3 39.8h0M241.0 40.2h0M256.8 34.2h0M234.7 41.9h0M253.6 46.3h0M253.9 46.6h0M252.5 46.7h0M251.8 36.4h0M252.6 36.3h0M236.9 36.7h0M236.6 35.8h0M235.0 49.0h0M235.4 49.3h0M256.4 45.9h0M255.5 47.3h0M254.8 46.0h0M249.3 39.0h0M267.7 35.7h0M266.4 34.6h0M256.7 45.6h0M257.8 44.5h0M256.0 44.9h0M236.4 55.1h0M237.1 53.3h0M237.6 55.9h0M251.5 51.4h0M250.3 53.2h0M250.6 51.9h0M239.1 55.1h0M239.8 54.3h0M254.7 43.9h0M254.0 45.4h0M267.1 35.2h0M240.8 55.4h0M242.4 56.3h0M246.5 54.8h0M246.8 54.4h0M265.5 55.9h0M265.4 56.0h0M263.7 54.2h0M269.3 38.9h0M270.3 38.5h0M255.8 47.1h0M254.6 45.4h0M238.5 56.0h0M240.2 56.8h0M235.7 36.5h0M259.9 51.3h0M265.7 51.9h0M266.8 53.1h0M267.0 34.7h0M265.5 33.7h0M265.6 33.1h0M265.4 53.2h0M264.5 48.7h0M264.5 47.4h0M263.3 49.1h0M262.7 48.8h0M235.4 39.4h0M233.7 40.4h0M267.6 52.1h0M268.9 52.5h0M266.0 51.8h0M250.4 52.2h0M250.3 50.6h0M255.1 50.7h0M255.5 40.2h0M253.7 39.1h0M256.4 41.9h0M234.8 45.2h0M235.5 46.4h0M236.4 45.6h0M269.3 45.8h0M268.6 44.8h0M260.0 45.4h0M268.7 52.0h0M269.7 52.7h0M269.7 52.5h0M247.5 43.0h0M248.9 43.9h0M247.2 43.5h0M248.1 40.6h0M249.5 40.6h0M247.7 42.0h0M281.0 44.5h0M285.2 41.2h0M286.5 41.0h0M292.6 41.1h0M292.4 42.1h0M292.9 39.7h0M289.3 55.0h0M289.3 54.1h0M299.9 53.5h0M300.7 55.2h0M298.8 48.0h0M297.5 47.4h0M279.4 57.2h0M278.5 49.4h0M278.1 51.1h0M301.4 51.2h0M300.5 49.8h0M302.8 50.4h0M304.6 44.6h0M287.0 52.6h0M287.0 53.1h0M289.3 36.6h0M287.5 35.7h0M290.6 37.3h0M293.8 49.1h0M294.4 49.6h0M304.4 48.9h0M305.0 49.5h0M289.0 40.8h0M305.0 39.1h0M305.7 39.6h0M304.1 38.8h0M289.0 48.5h0M289.1 49.0h0M290.4 49.9h0M284.4 33.4h0M285.9 31.9h0M283.5 32.3h0M298.5 56.6h0M298.6 55.2h0M293.4 46.5h0M293.4 47.0h0M294.5 46.5h0M287.4 56.5h0M289.2 55.4h0M291.2 56.1h0M291.6 55.2h0M286.4 34.6h0M287.7 43.5h0M288.0 42.1h0M283.5 43.0h0M285.3 44.7h0M289.3 37.2h0M301.9 48.8h0M302.4 49.6h0M303.0 47.5h0M296.7 53.6h0M296.6 52.9h0M296.9 52.3h0M302.8 41.9h0M301.9 41.4h0M281.7 43.6h0M281.6 44.7h0M301.5 41.9h0M300.9 41.9h0M295.1 35.2h0M293.9 34.5h0M286.5 35.2h0M287.5 33.9h0M302.7 48.7h0M296.4 38.3h0M296.3 39.3h0M331.4 54.2h0M332.4 53.6h0M315.9 55.4h0M316.3 56.1h0M345.9 35.3h0M344.8 36.0h0M329.7 51.4h0M330.3 50.0h0M328.3 51.1h0M340.4 44.8h0M328.0 55.5h0M327.1 54.3h0M328.3 56.3h0M316.2 41.0h0M316.8 42.2h0M315.8 40.7h0M345.3 35.0h0M345.8 33.3h0M332.5 50.0h0M333.6 48.5h0M328.0 51.8h0M326.3 52.6h0M333.1 41.5h0M332.5 42.5h0M330.5 55.6h0M330.3 55.4h0M330.5 53.5h0M330.0 53.5h0M322.5 57.4h0M324.2 58.0h0M339.1 41.3h0M339.9 39.9h0M345.7 35.3h0M324.9 46.8h0M325.0 45.2h0M324.2 45.0h0M317.3 55.9h0M339.0 55.6h0M339.5 56.0h0M339.7 55.9h0M335.1 38.3h0M335.6 37.2h0M335.7 39.7h0M325.7 35.6h0M323.8 53.4h0M324.0 52.5h0M321.4 43.5h0M319.6 43.8h0M331.4 55.7h0M331.6 54.0h0M330.0 56.8h0M331.3 55.8h0M329.7 56.4h0M331.6 57.6h0M334.3 36.9h0M334.5 35.4h0M334.2 38.4h0M333.2 43.6h0M335.2 36.1h0M318.3 36.1h0M316.6 36.9h0M317.4 36.9h0M317.2 34.3h0M318.0 32.8h0M333.2 50.6h0M333.8 52.0h0M334.7 49.0h0M311.6 34.6h0M324.5 40.8h0M326.2 42.0h0M332.5 40.9h0M332.4 39.7h0M334.2 39.5h0M345.0 37.2h0M344.9 38.2h0M344.9 36.3h0M337.8 41.3h0M336.2 43.1h0M335.9 53.5h0M337.3 54.3h0M311.0 36.8h0M311.3 38.5h0M319.3 42.7h0M319.7 44.1h0M320.4 41.9h0M310.5 39.6h0M309.2 41.1h0M311.4 40.6h0M320.9 36.6h0M320.1 37.8h0M339.7 50.0h0M339.1 48.5h0M339.9 51.1h0M317.7 51.6h0M317.0 50.0h0M324.8 50.6h0M325.1 48.8h0M362.3 46.5h0M363.3 45.5h0M369.3 55.3h0M369.3 55.6h0M355.2 37.9h0M356.3 37.1h0M369.3 42.0h0M368.4 43.5h0M366.2 54.5h0M366.7 55.5h0M354.0 47.9h0M353.2 48.2h0M351.7 38.2h0M352.0 37.1h0M353.2 37.4h0M351.8 44.1h0M350.9 42.5h0M355.6 37.6h0M349.3 34.0h0M350.6 33.8h0M382.7 55.6h0M379.6 48.9h0M373.9 35.3h0M374.2 35.8h0M383.0 49.6h0M381.9 50.9h0M382.6 48.7h0M374.5 37.4h0M376.1 35.8h0M368.4 33.8h0M357.7 45.8h0M356.1 44.5h0M358.6 47.4h0M372.9 40.5h0M373.8 39.1h0M372.2 39.6h0M352.8 45.0h0M352.6 46.1h0M381.5 55.1h0M382.3 54.0h0M379.8 56.7h0M356.3 56.2h0M357.7 54.9h0M364.5 35.5h0M365.8 36.0h0M364.4 34.9h0M378.2 44.9h0M376.9 43.9h0M350.4 50.7h0M350.1 49.5h0M363.5 39.2h0M358.1 53.8h0M359.2 53.0h0M352.3 44.4h0M350.9 46.1h0M350.7 45.8h0M372.6 38.3h0M373.8 36.9h0M373.5 40.0h0M364.0 39.6h0M365.5 38.1h0M358.8 55.2h0M378.5 57.3h0M380.2 55.5h0M377.6 41.5h0M377.4 42.6h0M231.0 66.5h0M230.7 68.0h0M204.6 73.5h0M205.9 73.6h0M205.1 63.7h0M226.8 81.4h0M227.7 80.2h0M225.5 82.0h0M219.5 64.1h0M218.4 62.6h0M223.3 69.5h0M215.5 68.0h0M216.8 69.3h0M214.6 59.8h0M213.3 60.4h0M213.7 60.0h0M232.5 60.3h0M232.8 61.6h0M209.6 82.4h0M201.1 77.1h0M202.1 78.4h0M217.6 81.6h0M219.0 83.2h0M214.7 72.1h0M212.9 73.8h0M204.8 63.9h0M208.0 73.1h0M197.4 82.3h0M196.5 83.5h0M219.8 70.9h0M220.5 69.4h0M228.3 77.1h0M206.6 70.9h0M205.2 69.5h0M228.8 72.8h0M230.1 71.5h0M217.5 77.8h0M219.1 76.1h0M219.8 76.5h0M211.1 82.6h0M210.5 81.7h0M208.9 70.2h0M210.0 71.4h0M198.6 72.2h0M197.7 71.9h0M219.7 68.4h0M218.1 68.2h0M215.0 59.9h0M214.7 59.5h0M232.9 70.6h0M226.1 81.2h0M197.9 75.2h0M199.5 75.7h0M219.5 79.3h0M219.3 65.6h0M212.4 82.9h0M211.0 82.3h0M202.8 60.9h0M201.3 61.2h0M230.5 70.3h0M231.9 71.8h0M217.7 66.2h0M223.6 66.5h0M224.0 66.7h0M224.1 65.4h0M222.5 70.8h0M222.9 70.7h0M245.9 65.4h0M244.8 65.5h0M269.8 69.2h0M268.6 70.8h0M246.4 67.4h0M245.6 69.2h0M245.3 78.5h0M245.5 78.9h0M247.2 75.6h0M248.4 75.1h0M248.2 75.7h0M270.5 76.1h0M270.2 76.7h0M239.7 64.4h0M240.9 64.5h0M261.4 77.8h0M260.6 78.2h0M261.9 78.5h0M249.6 62.0h0M250.5 62.3h0M249.6 63.6h0M255.4 69.7h0M256.7 70.1h0M248.4 70.6h0M247.6 70.0h0M247.8 70.7h0M256.2 75.4h0M263.2 80.4h0M262.7 79.7h0M263.3 81.5h0M250.4 68.7h0M248.9 70.2h0M246.4 80.2h0M248.0 79.2h0M250.1 81.9h0M235.5 65.7h0M234.8 65.9h0M234.9 66.2h0M250.5 79.8h0M250.1 79.3h0M250.8 79.3h0M269.0 76.1h0M267.6 75.7h0M249.2 73.3h0M250.5 74.9h0M252.3 70.3h0M253.0 71.2h0M237.9 68.4h0M239.7 69.5h0M253.2 62.1h0M253.9 63.3h0M270.5 81.3h0M271.0 81.4h0M271.7 80.3h0M267.0 69.6h0M257.5 74.3h0M257.7 74.8h0M260.8 76.5h0M263.2 67.0h0M267.9 69.2h0M255.9 75.9h0M254.7 76.9h0M255.2 80.9h0M255.5 80.6h0M239.0 63.3h0M235.7 61.3h0M236.8 61.7h0M236.8 59.7h0M235.1 78.4h0M233.8 77.5h0M244.6 60.2h0M265.8 82.8h0M247.3 70.5h0M245.5 69.5h0M246.9 71.5h0M236.2 60.7h0M235.3 59.1h0M268.4 80.5h0M266.6 81.8h0M251.1 69.7h0M252.8 69.7h0M269.1 65.4h0M269.7 65.7h0M268.8 65.0h0M260.4 60.0h0M259.0 58.8h0M248.4 59.6h0M248.0 59.1h0M246.8 80.9h0M246.4 79.4h0M239.1 79.8h0M239.3 79.4h0M251.6 67.9h0M249.9 68.5h0M251.0 66.7h0M260.2 61.7h0M260.4 62.7h0M254.7 70.9h0M253.5 70.4h0M260.8 68.7h0M260.1 68.6h0M242.0 80.6h0M243.6 82.4h0M256.2 70.3h0M256.4 69.9h0M253.1 62.5h0M259.2 61.7h0M260.1 62.6h0M235.6 77.1h0M235.0 76.7h0M237.7 63.8h0M237.1 64.4h0M238.6 73.3h0M239.7 74.2h0M241.6 77.2h0M280.7 62.5h0M279.9 62.2h0M282.2 63.5h0M304.5 80.7h0M306.1 79.5h0M285.8 79.1h0M287.2 77.4h0M298.0 70.8h0M297.5 71.3h0M296.9 69.4h0M305.6 77.5h0M287.2 74.4h0M286.1 73.7h0M286.8 72.8h0M283.8 75.2h0M284.0 74.2h0M290.6 72.3h0M291.2 72.5h0M292.1 70.9h0M300.2 75.6h0M304.3 73.9h0M307.9 76.2h0M301.2 64.6h0M302.1 63.1h0M297.7 69.1h0M296.9 67.6h0M306.9 69.9h0M307.5 70.7h0M302.6 74.9h0M302.7 75.5h0M301.6 75.5h0M303.2 78.6h0M304.2 77.0h0M304.0 79.7h0M282.0 72.9h0M282.1 72.0h0M274.7 68.2h0M273.2 68.7h0M273.3 68.9h0M290.2 71.3h0M288.4 72.0h0M277.3 75.2h0M276.0 76.0h0M293.8 65.3h0M292.4 78.2h0M293.0 76.9h0M308.0 80.1h0M309.2 78.7h0M307.3 79.6h0M280.0 60.9h0M279.3 59.5h0M283.7 83.2h0M283.1 83.1h0M285.7 63.6h0M274.2 71.0h0M272.7 71.8h0M275.9 71.2h0M276.4 71.5h0M276.4 72.5h0M275.8 71.0h0M275.8 66.5h0M276.4 64.9h0M299.6 60.0h0M300.9 59.3h0M298.5 60.5h0M303.2 82.3h0M301.8 83.1h0M283.8 74.6h0M282.6 75.8h0M283.1 74.2h0M292.5 68.5h0M291.6 66.9h0M293.1 74.9h0M294.5 76.5h0M293.1 74.9h0M278.2 66.8h0M277.7 65.0h0M277.4 66.7h0M275.8 60.4h0M275.7 59.4h0M275.3 58.7h0M294.7 80.0h0M293.4 78.4h0M293.1 80.7h0M304.8 60.9h0M296.7 79.8h0M296.2 78.0h0M301.7 76.1h0M301.6 76.2h0M291.3 70.0h0M293.0 71.6h0M295.0 79.4h0M298.7 67.6h0M299.0 67.3h0M285.9 75.6h0M285.2 75.1h0M304.6 60.1h0M303.6 61.0h0M297.6 63.0h0M297.8 64.6h0M285.6 65.3h0M285.2 63.9h0M284.4 66.7h0M292.4 62.2h0M292.9 61.0h0M296.8 76.9h0M297.0 75.9h0M293.3 62.2h0M303.4 76.2h0M302.1 76.2h0M303.4 77.4h0M306.9 74.9h0M289.2 76.3h0M290.9 75.2h0M289.7 61.7h0M290.7 60.1h0M281.1 68.6h0M298.0 83.0h0M297.3 83.8h0M297.7 84.4h0M295.0 80.9h0M305.8 80.9h0M305.3 82.1h0M301.7 77.6h0M302.5 62.4h0M302.5 62.5h0M285.5 71.5h0M284.0 71.7h0M301.6 62.2h0M300.8 61.1h0M288.7 80.1h0M287.3 78.4h0M287.3 81.2h0M279.2 73.1h0M280.6 73.7h0M340.8 73.9h0M340.9 74.6h0M339.7 82.8h0M311.3 84.0h0M311.3 85.3h0M312.4 82.3h0M317.0 79.6h0M318.3 81.3h0M317.7 79.4h0M318.7 83.1h0M323.5 72.4h0M324.9 72.8h0M312.0 63.6h0M312.8 63.0h0M327.4 82.6h0M325.6 82.8h0M322.5 59.9h0M323.9 60.3h0M323.0 60.7h0M315.6 68.9h0M328.6 65.9h0M330.3 64.2h0M330.8 78.4h0M331.7 78.9h0M333.4 68.4h0M334.5 67.4h0M339.3 62.9h0M321.4 78.3h0M321.5 78.7h0M323.1 73.0h0M322.5 73.7h0M323.7 74.4h0M338.8 71.8h0M339.9 73.6h0M315.9 64.5h0M315.5 64.1h0M316.9 66.0h0M331.7 63.0h0M330.8 63.2h0M334.3 83.3h0M343.8 73.8h0M331.6 66.9h0M333.4 66.4h0M338.5 70.0h0M340.8 67.3h0M340.0 66.4h0M311.2 63.5h0M310.3 61.7h0M312.1 70.5h0M313.4 71.0h0M317.5 77.5h0M317.9 76.0h0M339.8 81.0h0M340.6 79.2h0M320.2 75.3h0M333.6 82.2h0M333.0 83.5h0M349.3 71.4h0M348.1 72.7h0M377.2 61.6h0M378.2 63.3h0M362.8 82.6h0M349.2 67.2h0M347.6 67.6h0M374.6 67.5h0M349.0 64.6h0M361.3 68.3h0M361.4 68.7h0M368.4 75.6h0M367.5 76.1h0M377.8 71.2h0M376.5 67.0h0M376.7 66.5h0M376.6 66.2h0M357.5 73.2h0M372.1 78.5h0M370.8 79.0h0M362.9 83.6h0M371.0 62.4h0M371.2 61.3h0M382.4 68.4h0M383.9 69.8h0M379.4 78.6h0M361.0 76.9h0M362.8 76.9h0M361.5 76.4h0M377.4 70.8h0M378.4 69.1h0M372.3 59.8h0M372.9 59.2h0M371.3 59.3h0M381.2 68.7h0M379.5 67.0h0M222.4 91.7h0M221.4 92.6h0M220.0 93.1h0M219.0 93.3h0M218.8 94.4h0M228.3 92.3h0M229.4 91.5h0M208.7 97.7h0M207.5 98.4h0M218.4 96.9h0M228.7 90.9h0M227.1 91.9h0M212.6 96.4h0M214.4 95.7h0M197.6 88.5h0M201.5 93.2h0M200.1 92.0h0M221.5 87.9h0M222.0 88.5h0M211.1 94.0h0M217.9 90.7h0M198.1 98.2h0M198.3 98.9h0M223.1 86.9h0M221.6 85.5h0M231.4 109.7h0M229.7 108.7h0M231.6 110.2h0M216.5 110.2h0M217.7 111.9h0M199.5 109.7h0M200.3 108.9h0M203.1 92.2h0M231.8 90.6h0M211.5 99.4h0M210.7 98.8h0M198.2 96.9h0M198.4 97.6h0M232.4 107.3h0M232.0 106.6h0M211.9 109.7h0M212.9 111.1h0M213.0 111.2h0M219.7 91.6h0M220.4 92.4h0M232.7 106.1h0M199.9 101.0h0M229.7 86.9h0M230.3 86.7h0M220.9 97.0h0M213.9 101.7h0M213.9 102.0h0M215.7 100.7h0M219.6 104.1h0M219.0 102.5h0M221.3 103.2h0M220.6 106.1h0M219.5 99.1h0M221.1 100.1h0M206.2 106.5h0M206.3 106.4h0M204.7 89.2h0M204.8 89.3h0M226.2 91.6h0M225.0 92.2h0M203.2 109.1h0M208.4 94.6h0M207.0 93.4h0M207.5 93.2h0M247.5 105.5h0M247.4 104.1h0M249.0 110.3h0M250.9 97.5h0M251.8 96.3h0M259.3 94.8h0M259.7 94.8h0M263.7 91.9h0M261.9 91.1h0M256.0 93.3h0M257.5 92.4h0M244.2 96.5h0M245.5 95.4h0M244.0 97.6h0M257.0 94.9h0M260.6 95.0h0M260.5 93.0h0M260.2 93.4h0M259.6 92.1h0M265.4 88.9h0M267.2 90.2h0M255.7 87.3h0M255.0 85.7h0M262.0 95.1h0M262.0 96.5h0M263.0 93.4h0M256.1 97.1h0M256.8 96.9h0M257.9 96.0h0M237.0 95.5h0M237.0 96.7h0M258.9 104.0h0M259.1 105.5h0M258.2 103.4h0M248.7 97.1h0M242.6 87.6h0M238.3 87.9h0M238.5 86.3h0M259.3 103.3h0M260.6 103.4h0M260.2 104.5h0M239.7 95.8h0M266.3 89.3h0M265.1 91.0h0M241.4 99.0h0M239.9 98.6h0M258.7 93.1h0M258.7 92.8h0M257.1 92.4h0M266.1 105.5h0M265.4 104.2h0M242.1 101.8h0M242.7 102.6h0M240.8 103.4h0M247.0 97.0h0M261.1 85.9h0M249.4 99.7h0M247.8 98.6h0M250.5 90.7h0M251.6 91.0h0M251.1 108.8h0M250.0 107.7h0M250.0 110.1h0M239.1 89.1h0M264.2 98.0h0M268.1 99.6h0M268.1 100.2h0M259.1 93.0h0M259.2 91.8h0M262.8 103.4h0M251.5 90.7h0M269.1 95.9h0M269.9 95.7h0M250.0 107.1h0M248.4 108.4h0M245.3 91.4h0M246.0 92.2h0M245.8 92.1h0M244.6 93.2h0M270.2 95.4h0M246.5 89.6h0M245.5 89.7h0M238.0 97.2h0M237.7 97.8h0M238.8 106.2h0M258.5 90.9h0M245.2 94.3h0M246.6 95.8h0M244.1 93.5h0M245.6 100.1h0M241.9 97.3h0M242.2 96.6h0M255.7 88.2h0M247.1 109.0h0M245.5 108.4h0M250.9 91.8h0M249.8 92.8h0M245.4 87.4h0M244.0 87.6h0M246.5 87.8h0M251.3 86.5h0M249.6 102.9h0M249.9 102.4h0M249.1 103.5h0M240.5 89.9h0M246.6 106.5h0M245.9 105.6h0M245.2 105.6h0M240.2 92.4h0M246.4 91.8h0M253.0 94.8h0M252.2 95.0h0M270.5 108.1h0M271.9 106.4h0M268.8 97.8h0M269.5 96.8h0M261.8 89.5h0M263.6 89.2h0M257.3 88.4h0M237.7 100.0h0M236.7 101.0h0M253.2 105.9h0M251.7 105.3h0M238.2 91.0h0M239.3 90.4h0M264.0 97.1h0M262.3 98.7h0M249.6 95.8h0M263.2 89.4h0M262.0 88.8h0M239.7 90.6h0M240.4 91.3h0M237.0 85.8h0M235.4 85.9h0M236.4 84.2h0M256.5 87.2h0M265.3 105.1h0M258.2 109.7h0M259.3 109.7h0M262.6 98.0h0M263.8 99.5h0M305.3 104.1h0M305.1 105.3h0M301.0 107.2h0M301.9 107.5h0M296.3 101.3h0M307.7 105.2h0M308.6 106.4h0M281.2 100.2h0M282.6 100.5h0M306.4 107.7h0M286.7 105.1h0M287.9 104.7h0M275.7 101.8h0M276.2 103.3h0M288.0 93.2h0M287.9 91.5h0M276.5 105.8h0M276.2 105.0h0M275.2 105.9h0M275.5 95.4h0M275.9 94.7h0M274.0 94.6h0M298.0 96.6h0M296.6 97.3h0M274.0 106.0h0M273.6 105.4h0M278.0 89.8h0M279.4 90.2h0M304.9 95.4h0M304.3 96.8h0M306.0 95.8h0M303.6 109.6h0M303.7 107.8h0M302.4 111.2h0M289.0 105.7h0M289.9 106.3h0M308.2 103.8h0M306.9 104.8h0M307.4 103.5h0M291.2 93.9h0M292.8 93.4h0M296.5 101.3h0M298.1 102.4h0M294.9 101.9h0M290.4 102.8h0M274.6 106.3h0M292.7 96.8h0M293.6 97.7h0M273.8 93.7h0M272.0 95.3h0M282.4 90.3h0M308.7 90.0h0M309.2 89.1h0M300.6 86.3h0M301.1 87.4h0M301.2 85.9h0M345.4 103.2h0M344.7 104.4h0M328.4 86.9h0M329.8 85.8h0M339.7 87.2h0M340.6 86.0h0M321.7 87.0h0M323.4 88.0h0M323.5 102.8h0M322.8 104.4h0M317.6 93.6h0M317.2 94.3h0M317.1 93.0h0M339.2 97.4h0M317.8 108.1h0M317.8 107.8h0M316.6 109.6h0M312.0 92.6h0M312.6 93.8h0M311.7 91.1h0M324.6 103.4h0M324.7 102.7h0M325.1 102.6h0M338.4 86.7h0M337.9 88.3h0M320.0 91.7h0M342.2 88.1h0M343.4 88.8h0M343.7 86.9h0M316.8 103.6h0M338.5 95.4h0M338.2 95.4h0M322.6 107.1h0M322.7 107.1h0M334.7 108.0h0M333.7 108.6h0M381.9 87.3h0M379.2 102.2h0M378.9 102.5h0M378.4 103.4h0M376.9 106.4h0M375.9 107.7h0M357.0 88.8h0M358.4 89.7h0M378.1 101.7h0M376.8 102.5h0M373.8 100.8h0M374.6 101.8h0M370.3 98.3h0M371.7 97.6h0M361.4 99.8h0M361.4 103.0h0M352.7 109.3h0M350.9 109.7h0M353.3 92.5h0M383.8 100.3h0M349.7 106.1h0M365.9 93.0h0M367.5 93.1h0M356.7 99.4h0M355.9 101.2h0M369.3 103.3h0M370.3 101.6h0M366.6 96.2h0M382.9 92.5h0M369.5 95.6h0M368.5 96.9h0M371.3 96.7h0M383.2 93.8h0M381.7 93.8h0M353.2 96.9h0M352.0 97.3h0M351.8 95.7h0M375.9 87.6h0M212.6 116.9h0M213.6 115.8h0M224.1 132.7h0M225.0 134.3h0M230.1 129.8h0M199.0 117.1h0M227.0 127.8h0M227.2 128.3h0M217.2 119.8h0M216.5 118.2h0M203.1 120.8h0M225.9 123.2h0M209.1 133.2h0M210.1 133.1h0M232.7 134.5h0M232.6 135.7h0M201.4 114.7h0M201.4 113.6h0M205.8 112.5h0M206.6 114.1h0M232.3 122.8h0M231.1 124.2h0M232.1 121.5h0M200.7 130.0h0M199.0 131.1h0M202.4 128.5h0M225.0 117.0h0M227.9 120.4h0M227.8 120.9h0M226.8 119.4h0M229.6 121.5h0M200.3 133.7h0M200.0 133.9h0M230.1 128.9h0M231.1 129.2h0M230.9 130.2h0M202.8 128.1h0M203.6 128.0h0M228.7 127.0h0M229.7 126.8h0M222.1 131.8h0M220.3 132.0h0M223.8 117.5h0M205.5 134.4h0M206.6 132.8h0M198.5 117.9h0M199.5 116.3h0M216.9 126.3h0M216.0 125.0h0M215.2 127.2h0M200.5 136.0h0M203.5 131.9h0M203.9 131.3h0M215.2 135.6h0M216.7 133.8h0M216.5 135.8h0M226.5 124.4h0M222.3 128.3h0M222.2 129.0h0M217.0 117.2h0M218.2 118.3h0M213.3 115.0h0M213.9 116.8h0M218.9 114.1h0M219.6 112.6h0M205.4 133.8h0M200.0 118.8h0M200.9 117.5h0M218.7 136.2h0M216.9 134.6h0M200.8 129.1h0M200.9 128.9h0M211.5 127.1h0M213.0 127.9h0M225.6 134.5h0M222.7 112.8h0M224.0 112.5h0M228.6 116.4h0M228.4 117.2h0M205.9 119.4h0M204.2 119.0h0M202.6 116.0h0M203.5 117.2h0M204.4 116.9h0M206.7 118.2h0M206.8 117.6h0M206.8 117.7h0M226.3 112.0h0M227.7 113.1h0M216.0 114.6h0M215.7 114.0h0M199.0 115.0h0M197.8 115.1h0M199.6 115.1h0M268.6 122.1h0M258.1 117.4h0M260.5 122.7h0M270.5 116.4h0M270.9 115.2h0M272.1 115.6h0M248.8 120.4h0M237.9 133.4h0M238.4 134.0h0M261.5 115.5h0M256.3 129.2h0M254.8 130.0h0M254.0 113.8h0M239.8 114.8h0M240.3 114.8h0M241.1 116.3h0M250.9 134.2h0M250.2 133.9h0M259.6 123.0h0M265.9 123.4h0M267.1 121.7h0M264.7 117.6h0M265.8 118.2h0M244.7 112.2h0M243.1 110.8h0M263.0 128.3h0M263.6 127.2h0M239.8 114.4h0M248.5 128.1h0M246.9 127.4h0M244.3 135.0h0M243.8 135.8h0M239.6 131.5h0M239.2 130.3h0M258.7 133.5h0M257.9 133.1h0M262.4 117.5h0M263.8 118.5h0M265.6 117.9h0M264.7 116.2h0M264.1 117.5h0M248.0 119.0h0M247.8 117.6h0M247.9 119.7h0M238.0 114.9h0M239.5 116.4h0M237.7 113.3h0M241.5 118.6h0M241.4 120.1h0M241.7 117.0h0M242.7 130.4h0M241.3 132.0h0M242.8 129.4h0M240.8 133.4h0M239.4 133.3h0M251.6 135.4h0M250.1 135.2h0M246.1 117.1h0M244.6 117.8h0M251.8 118.4h0M257.4 132.0h0M258.0 129.0h0M254.1 117.8h0M254.7 116.5h0M253.6 117.4h0M266.8 120.0h0M265.7 121.1h0M266.4 119.3h0M251.2 129.9h0M250.2 128.2h0M251.0 128.6h0M241.6 130.5h0M243.1 130.1h0M259.3 112.3h0M258.3 112.2h0M259.3 113.9h0M252.5 136.5h0M251.4 136.4h0M245.8 131.4h0M244.9 133.0h0M246.3 122.1h0M246.0 122.8h0M255.2 131.0h0M256.4 129.2h0M256.7 118.4h0M256.6 118.5h0M256.2 117.5h0M255.0 118.8h0M253.7 117.5h0M255.1 119.1h0M266.8 113.4h0M266.5 111.9h0M264.3 131.5h0M265.7 132.1h0M265.8 135.6h0M267.5 136.4h0M238.0 122.8h0M269.7 134.3h0M245.1 135.9h0M244.8 136.0h0M265.4 131.9h0M250.8 124.3h0M252.2 126.0h0M241.6 113.9h0M241.8 112.7h0M259.7 118.3h0M259.4 120.0h0M243.9 132.3h0M257.3 123.7h0M258.3 121.9h0M289.8 128.7h0M289.6 128.1h0M307.8 136.2h0M307.3 117.1h0M306.9 115.8h0M308.2 116.7h0M298.2 121.4h0M299.2 120.0h0M297.2 120.4h0M282.2 112.9h0M283.5 113.3h0M296.0 123.6h0M297.6 123.9h0M295.4 124.3h0M288.4 116.3h0M289.1 117.0h0M289.4 116.0h0M276.8 127.5h0M278.0 128.1h0M295.5 129.4h0M295.1 130.7h0M296.0 116.0h0M294.3 133.0h0M279.7 112.4h0M280.5 111.6h0M278.2 110.6h0M278.8 129.2h0M278.8 116.3h0M277.1 114.9h0M306.4 136.0h0M306.3 134.4h0M285.2 119.2h0M286.5 118.6h0M286.7 118.4h0M282.1 113.6h0M297.8 118.5h0M297.2 118.5h0M279.3 134.9h0M299.8 132.7h0M299.4 133.5h0M298.8 133.8h0M301.6 114.3h0M300.5 115.1h0M301.7 131.5h0M302.1 132.7h0M289.6 122.8h0M279.5 126.4h0M303.0 123.3h0M303.0 123.4h0M284.5 113.4h0M285.4 112.4h0M283.1 127.8h0M283.5 129.2h0M282.0 127.1h0M296.5 118.4h0M295.0 118.3h0M284.8 129.4h0M284.4 129.5h0M283.6 131.1h0M282.1 129.5h0M291.1 115.7h0M291.0 114.6h0M276.8 124.5h0M277.5 124.4h0M283.8 113.9h0M295.1 122.8h0M281.7 128.5h0M281.5 129.8h0M306.6 122.3h0M306.7 123.3h0M298.8 119.8h0M276.3 123.3h0M275.0 124.5h0M306.7 125.8h0M289.4 127.3h0M290.0 128.6h0M296.5 120.4h0M277.8 129.2h0M273.7 134.5h0M273.8 135.2h0M284.0 132.2h0M282.8 131.0h0M284.9 132.0h0M284.8 115.0h0M284.6 115.2h0M275.8 135.3h0M275.7 136.9h0M276.2 134.5h0M289.4 129.7h0M290.3 131.2h0M290.3 133.4h0M291.4 131.7h0M291.1 132.1h0M292.8 132.5h0M283.9 130.0h0M284.5 130.6h0M274.5 112.0h0M274.8 110.2h0M300.2 127.0h0M307.1 120.1h0M308.2 119.2h0M285.8 121.3h0M285.4 120.5h0M306.7 112.3h0M307.6 113.3h0M307.0 113.8h0M302.2 127.9h0M308.5 130.0h0M309.6 129.1h0M334.2 121.4h0M332.9 121.5h0M322.6 132.3h0M324.0 131.1h0M322.0 131.1h0M339.2 132.8h0M340.8 132.7h0M339.1 133.7h0M340.8 130.0h0M339.9 128.6h0M322.3 112.6h0M318.6 113.7h0M328.5 113.3h0M329.0 112.6h0M328.4 112.9h0M333.6 133.9h0M332.9 133.4h0M334.8 134.8h0M323.2 134.6h0M328.0 122.3h0M326.9 121.8h0M323.6 135.7h0M334.2 126.0h0M334.5 125.8h0M335.0 125.8h0M313.8 124.9h0M312.3 126.0h0M332.3 113.4h0M333.7 115.2h0M326.1 121.4h0M344.2 117.0h0M345.9 117.0h0M345.7 124.1h0M334.7 115.5h0M336.5 115.8h0M335.7 114.4h0M343.4 125.6h0M341.9 120.9h0M317.9 112.6h0M318.0 114.1h0M330.7 115.5h0M331.8 115.3h0M331.1 114.7h0M320.4 122.4h0M318.8 123.4h0M321.5 123.8h0M316.4 131.3h0M315.4 132.5h0M318.8 116.3h0M320.5 117.1h0M314.4 123.4h0M313.6 124.6h0M344.0 113.3h0M326.5 114.1h0M343.0 125.8h0M341.7 125.7h0M343.5 127.6h0M322.6 130.9h0M324.4 130.0h0M342.0 120.8h0M341.2 119.6h0M340.9 119.3h0M317.4 119.8h0M316.3 119.7h0M326.4 136.0h0M326.3 135.2h0M326.4 135.9h0M328.9 124.4h0M327.3 125.1h0M345.5 122.0h0M346.3 121.4h0M336.0 132.8h0M335.9 134.0h0M330.3 113.0h0M329.8 113.5h0M331.8 112.7h0M326.1 119.4h0M344.9 115.6h0M345.5 115.2h0M322.3 126.1h0M321.7 127.7h0M330.3 121.9h0M329.6 120.6h0M343.2 136.1h0M344.3 135.9h0M358.3 124.9h0M361.0 125.1h0M361.5 125.1h0M360.4 121.6h0M358.6 122.6h0M350.7 132.0h0M358.3 120.2h0M357.1 120.9h0M356.6 119.1h0M350.5 131.9h0M349.8 130.9h0M364.1 115.0h0M382.7 125.6h0M376.4 115.7h0M374.7 115.7h0M374.8 122.4h0M375.2 124.1h0M349.7 113.4h0M349.7 120.1h0M348.3 118.9h0M354.9 127.0h0M354.4 128.8h0M364.1 121.7h0M363.9 121.6h0M349.2 128.6h0M348.0 130.0h0M377.1 127.5h0M364.5 127.4h0M376.7 125.5h0M364.7 133.8h0M365.3 133.8h0M353.7 113.2h0M353.6 113.9h0M354.0 128.0h0M379.0 120.9h0M379.2 121.8h0M363.1 135.7h0M362.5 135.3h0M358.1 134.3h0M384.3 129.0h0M384.8 129.2h0M377.4 120.3h0M379.0 121.6h0M379.1 120.3h0M378.4 113.1h0M379.3 113.4h0M379.8 113.5h0M363.8 135.1h0M369.7 115.3h0M368.9 113.9h0M371.0 115.1h0M374.7 118.3h0M375.2 116.9h0M374.6 119.1h0M356.1 128.2h0M357.1 127.1h0M366.7 124.4h0M367.7 125.1h0M367.3 123.6h0M371.6 119.8h0M373.3 118.2h0M372.9 121.0h0M359.0 126.9h0M358.5 128.1h0M379.4 118.4h0M364.4 112.6h0M379.2 134.1h0M356.1 126.8h0M374.8 120.5h0M376.4 121.0h0" stroke="#ecec4c" stroke-width="1.5" stroke-linecap="round" opacity="0.8" filter="url(#gsoft)"/><line x1="195.9" y1="6.0" x2="195.9" y2="137.5" stroke="#7a7a82" stroke-width="1"/><line x1="195.9" y1="6.0" x2="385.4" y2="6.0" stroke="#7a7a82" stroke-width="1"/><line x1="233.8" y1="6.0" x2="233.8" y2="137.5" stroke="#7a7a82" stroke-width="1"/><line x1="195.9" y1="32.3" x2="385.4" y2="32.3" stroke="#7a7a82" stroke-width="1"/><line x1="271.7" y1="6.0" x2="271.7" y2="137.5" stroke="#7a7a82" stroke-width="1"/><line x1="195.9" y1="58.6" x2="385.4" y2="58.6" stroke="#7a7a82" stroke-width="1"/><line x1="309.6" y1="6.0" x2="309.6" y2="137.5" stroke="#7a7a82" stroke-width="1"/><line x1="195.9" y1="84.9" x2="385.4" y2="84.9" stroke="#7a7a82" stroke-width="1"/><line x1="347.5" y1="6.0" x2="347.5" y2="137.5" stroke="#7a7a82" stroke-width="1"/><line x1="195.9" y1="111.2" x2="385.4" y2="111.2" stroke="#7a7a82" stroke-width="1"/><line x1="385.4" y1="6.0" x2="385.4" y2="137.5" stroke="#7a7a82" stroke-width="1"/><line x1="195.9" y1="137.5" x2="385.4" y2="137.5" stroke="#7a7a82" stroke-width="1"/><g stroke="#1e1e1e" stroke-width="0.18"><text x="205.3" y="17.2">34</text><text x="218.5" y="17.2">49.2</text><text x="214.8" y="26.6" text-anchor="middle">-2.2</text><text x="243.2" y="17.2">39</text><text x="256.4" y="17.2">49.2</text><text x="252.7" y="26.6" text-anchor="middle">-1.4</text><text x="281.1" y="17.2">69</text><text x="294.3" y="17.2">49.2</text><text x="290.6" y="26.6" text-anchor="middle">2.8</text><text x="319.0" y="17.2">44</text><text x="332.2" y="17.2">49.2</text><text x="328.5" y="26.6" text-anchor="middle">-0.74</text><text x="356.9" y="17.2">20</text><text x="370.1" y="17.2">49.2</text><text x="366.4" y="26.6" text-anchor="middle">-4.2</text><text x="205.3" y="43.5">60</text><text x="218.5" y="43.5">49.2</text><text x="214.8" y="52.9" text-anchor="middle">1.5</text><text x="243.2" y="43.5">56</text><text x="256.4" y="43.5">49.2</text><text x="252.7" y="52.9" text-anchor="middle">0.98</text><text x="281.1" y="43.5">45</text><text x="294.3" y="43.5">49.2</text><text x="290.6" y="52.9" text-anchor="middle">-0.59</text><text x="319.0" y="43.5">61</text><text x="332.2" y="43.5">49.2</text><text x="328.5" y="52.9" text-anchor="middle">1.7</text><text x="356.9" y="43.5">41</text><text x="370.1" y="43.5">49.2</text><text x="366.4" y="52.9" text-anchor="middle">-1.2</text><text x="205.3" y="69.8">42</text><text x="218.5" y="69.8">49.2</text><text x="214.8" y="79.2" text-anchor="middle">-1</text><text x="243.2" y="69.8">72</text><text x="256.4" y="69.8">49.2</text><text x="252.7" y="79.2" text-anchor="middle">3.3</text><text x="281.1" y="69.8">84</text><text x="294.3" y="69.8">49.2</text><text x="290.6" y="79.2" text-anchor="middle">5</text><text x="319.0" y="69.8">36</text><text x="332.2" y="69.8">49.2</text><text x="328.5" y="79.2" text-anchor="middle">-1.8</text><text x="356.9" y="69.8">23</text><text x="370.1" y="69.8">49.2</text><text x="366.4" y="79.2" text-anchor="middle">-3.7</text><text x="205.3" y="96.1">42</text><text x="218.5" y="96.1">49.2</text><text x="214.8" y="105.5" text-anchor="middle">-1</text><text x="243.2" y="96.1">88</text><text x="256.4" y="96.1">49.2</text><text x="252.7" y="105.5" text-anchor="middle">5.5</text><text x="281.1" y="96.1">34</text><text x="294.3" y="96.1">49.2</text><text x="290.6" y="105.5" text-anchor="middle">-2.2</text><text x="319.0" y="96.1">23</text><text x="332.2" y="96.1">49.2</text><text x="328.5" y="105.5" text-anchor="middle">-3.7</text><text x="356.9" y="96.1">24</text><text x="370.1" y="96.1">49.2</text><text x="366.4" y="105.5" text-anchor="middle">-3.6</text><text x="205.3" y="122.4">58</text><text x="218.5" y="122.4">49.2</text><text x="214.8" y="131.8" text-anchor="middle">1.3</text><text x="243.2" y="122.4">69</text><text x="256.4" y="122.4">49.2</text><text x="252.7" y="131.8" text-anchor="middle">2.8</text><text x="281.1" y="122.4">68</text><text x="294.3" y="122.4">49.2</text><text x="290.6" y="131.8" text-anchor="middle">2.7</text><text x="319.0" y="122.4">53</text><text x="332.2" y="122.4">49.2</text><text x="328.5" y="131.8" text-anchor="middle">0.55</text><text x="356.9" y="122.4">44</text><text x="370.1" y="122.4">49.2</text><text x="366.4" y="131.8" text-anchor="middle">-0.74</text></g></g><g class="pl" fill="#222" font-size="6"><line x1="219.2" y1="151" x2="219.2" y2="247.6" stroke="#4a4a4a" stroke-width="1.3"/><line x1="217.3" y1="247.20" x2="219.2" y2="247.20" stroke="#333" stroke-width="1"/><text x="214.6" y="249.35" text-anchor="end">0.0</text><line x1="217.3" y1="231.25" x2="219.2" y2="231.25" stroke="#333" stroke-width="1"/><text x="214.6" y="233.40" text-anchor="end">0.2</text><line x1="217.3" y1="215.30" x2="219.2" y2="215.30" stroke="#333" stroke-width="1"/><text x="214.6" y="217.45" text-anchor="end">0.4</text><line x1="217.3" y1="199.35" x2="219.2" y2="199.35" stroke="#333" stroke-width="1"/><text x="214.6" y="201.50" text-anchor="end">0.6</text><line x1="217.3" y1="183.40" x2="219.2" y2="183.40" stroke="#333" stroke-width="1"/><text x="214.6" y="185.55" text-anchor="end">0.8</text><line x1="217.3" y1="167.45" x2="219.2" y2="167.45" stroke="#333" stroke-width="1"/><text x="214.6" y="169.60" text-anchor="end">1.0</text><line x1="217.3" y1="151.50" x2="219.2" y2="151.50" stroke="#333" stroke-width="1"/><text x="214.6" y="153.65" text-anchor="end">1.2</text><line x1="218.6" y1="252.7" x2="378.6" y2="252.7" stroke="#1a1a1a" stroke-width="1.3"/><line x1="219.00" y1="252.7" x2="219.00" y2="254.3" stroke="#1a1a1a" stroke-width="1"/><text x="219.00" y="262.2" text-anchor="middle">0</text><line x1="250.84" y1="252.7" x2="250.84" y2="254.3" stroke="#1a1a1a" stroke-width="1"/><text x="250.84" y="262.2" text-anchor="middle">10</text><line x1="282.68" y1="252.7" x2="282.68" y2="254.3" stroke="#1a1a1a" stroke-width="1"/><text x="282.68" y="262.2" text-anchor="middle">20</text><line x1="314.52" y1="252.7" x2="314.52" y2="254.3" stroke="#1a1a1a" stroke-width="1"/><text x="314.52" y="262.2" text-anchor="middle">30</text><line x1="346.36" y1="252.7" x2="346.36" y2="254.3" stroke="#1a1a1a" stroke-width="1"/><text x="346.36" y="262.2" text-anchor="middle">40</text><line x1="378.20" y1="252.7" x2="378.20" y2="254.3" stroke="#1a1a1a" stroke-width="1"/><text x="378.20" y="262.2" text-anchor="middle">50</text><text x="299" y="271.1" text-anchor="middle">Radius (µm)</text><text transform="translate(201,199.7) rotate(-90)" text-anchor="middle">Count</text><polyline points="219,247.2 220.59,247.14 222.18,246.98 223.78,246.7 225.37,246.31 226.96,245.82 228.55,245.22 230.14,244.51 231.74,243.71 233.33,242.8 234.92,241.81 236.51,240.72 238.1,239.55 239.7,238.3 241.29,236.98 242.88,235.58 244.47,234.12 246.06,232.59 247.66,231.02 249.25,229.39 250.84,227.72 252.43,226.02 254.02,224.28 255.62,222.52 257.21,220.74 258.8,218.94 260.39,217.13 261.98,215.33 263.58,213.52 265.17,211.72 266.76,209.92 268.35,208.15 269.94,206.39 271.54,204.66 273.13,202.96 274.72,201.28 276.31,199.64 277.9,198.04 279.5,196.47 281.09,194.95 282.68,193.47 284.27,192.04 285.86,190.65 287.46,189.31 289.05,188.02 290.64,186.77 292.23,185.58 293.82,184.44 295.42,183.35 297.01,182.3 298.6,181.31 300.19,180.36 301.78,179.46 303.38,178.61 304.97,177.81 306.56,177.05 308.15,176.33 309.74,175.65 311.34,175.02 312.93,174.42 314.52,173.87 316.11,173.35 317.7,172.86 319.3,172.41 320.89,171.98 322.48,171.59 324.07,171.23 325.66,170.89 327.26,170.58 328.85,170.3 330.44,170.03 332.03,169.79 333.62,169.57 335.22,169.36 336.81,169.18 338.4,169 339.99,168.85 341.58,168.71 343.18,168.58 344.77,168.46 346.36,168.35 347.95,168.26 349.54,168.17 351.14,168.09 352.73,168.02 354.32,167.96 355.91,167.9 357.5,167.85 359.1,167.8 360.69,167.76 362.28,167.72 363.87,167.69 365.46,167.66 367.06,167.64 368.65,167.61 370.24,167.59 371.83,167.58 373.42,167.56 375.02,167.55 376.61,167.53 378.2,167.52" fill="none" stroke="#7b2b2e" stroke-width="2"/><polyline points="219,247.2 233.33,247.2 236.83,246.4 239.06,244.01 242.24,236.83 246.06,227.26 249.88,217.69 252.75,210.51 255.3,206.53 262.62,200.55 271.54,194.56 284.27,185.79 294.46,180.21 304.65,175.82 318.02,171.84 330.44,169.84 346.36,168.41 362.28,167.69 378.2,167.45" fill="none" stroke="#e88a12" stroke-width="1.8" stroke-dasharray="1.6 1.2"/><rect x="226.5" y="152.5" width="46.6" height="18.6" fill="#fff" stroke="#a0a0a0" stroke-width="0.8"/><line x1="228.2" y1="158.5" x2="242.5" y2="158.5" stroke="#7b2b2e" stroke-width="2"/><line x1="228.6" y1="165.7" x2="242.5" y2="165.7" stroke="#e88a12" stroke-width="1.8" stroke-dasharray="1.6 1.2"/><text x="245.6" y="160.6">Poisson</text><text x="245.6" y="167.3">observed</text></g><g class="pl" fill="#222" font-size="5.6"><line x1="223.8" y1="288.8" x2="223.8" y2="383" stroke="#4a4a4a" stroke-width="1.3"/><line x1="221.9" y1="372.70" x2="223.8" y2="372.70" stroke="#333" stroke-width="1"/><text x="217.6" y="375.30" text-anchor="end" font-size="5.7">0</text><line x1="221.9" y1="351.90" x2="223.8" y2="351.90" stroke="#333" stroke-width="1"/><text x="220.4" y="354.50" text-anchor="end" font-size="5.7">10<tspan dy="-2.2" font-size="3.6">4</tspan></text><line x1="221.9" y1="331.10" x2="223.8" y2="331.10" stroke="#333" stroke-width="1"/><text x="220.4" y="333.70" text-anchor="end" font-size="5.7">2x10<tspan dy="-2.2" font-size="3.6">4</tspan></text><line x1="221.9" y1="310.30" x2="223.8" y2="310.30" stroke="#333" stroke-width="1"/><text x="220.4" y="312.90" text-anchor="end" font-size="5.7">3x10<tspan dy="-2.2" font-size="3.6">4</tspan></text><line x1="221.9" y1="289.50" x2="223.8" y2="289.50" stroke="#333" stroke-width="1"/><text x="220.4" y="292.10" text-anchor="end" font-size="5.7">4x10<tspan dy="-2.2" font-size="3.6">4</tspan></text><line x1="223" y1="388.5" x2="380" y2="388.5" stroke="#1a1a1a" stroke-width="1.3"/><line x1="223.80" y1="388.5" x2="223.80" y2="390.1" stroke="#1a1a1a" stroke-width="1"/><text x="223.80" y="397.8" text-anchor="middle">0</text><line x1="239.37" y1="388.5" x2="239.37" y2="390.1" stroke="#1a1a1a" stroke-width="1"/><text x="239.37" y="397.8" text-anchor="middle">10</text><line x1="254.94" y1="388.5" x2="254.94" y2="390.1" stroke="#1a1a1a" stroke-width="1"/><text x="254.94" y="397.8" text-anchor="middle">20</text><line x1="270.51" y1="388.5" x2="270.51" y2="390.1" stroke="#1a1a1a" stroke-width="1"/><text x="270.51" y="397.8" text-anchor="middle">30</text><line x1="286.08" y1="388.5" x2="286.08" y2="390.1" stroke="#1a1a1a" stroke-width="1"/><text x="286.08" y="397.8" text-anchor="middle">40</text><line x1="301.65" y1="388.5" x2="301.65" y2="390.1" stroke="#1a1a1a" stroke-width="1"/><text x="301.65" y="397.8" text-anchor="middle">50</text><line x1="317.22" y1="388.5" x2="317.22" y2="390.1" stroke="#1a1a1a" stroke-width="1"/><text x="317.22" y="397.8" text-anchor="middle">60</text><line x1="332.79" y1="388.5" x2="332.79" y2="390.1" stroke="#1a1a1a" stroke-width="1"/><text x="332.79" y="397.8" text-anchor="middle">70</text><line x1="348.36" y1="388.5" x2="348.36" y2="390.1" stroke="#1a1a1a" stroke-width="1"/><text x="348.36" y="397.8" text-anchor="middle">80</text><line x1="363.93" y1="388.5" x2="363.93" y2="390.1" stroke="#1a1a1a" stroke-width="1"/><text x="363.93" y="397.8" text-anchor="middle">90</text><line x1="379.50" y1="388.5" x2="379.50" y2="390.1" stroke="#1a1a1a" stroke-width="1"/><text x="379.50" y="397.8" text-anchor="middle">100</text><text x="301.7" y="407" text-anchor="middle" font-size="5.9">Radius (µm)</text><text transform="translate(201,336.7) rotate(-90)" text-anchor="middle" font-size="5.9">Count</text><polyline points="223.8,376.86 226.91,376.81 230.03,376.71 233.14,376.55 236.26,376.34 239.37,376.08 242.48,375.77 245.6,375.4 248.71,374.99 251.83,374.52 254.94,374 258.05,373.42 261.17,372.8 264.28,372.12 267.4,371.39 270.51,370.6 273.62,369.77 276.74,368.88 279.85,367.94 282.97,366.95 286.08,365.91 289.19,364.81 292.31,363.66 295.42,362.46 298.54,361.21 301.65,359.9 304.76,358.54 307.88,357.13 310.99,355.67 314.11,354.15 317.22,352.59 320.33,350.97 323.45,349.3 326.56,347.57 329.68,345.8 332.79,343.97 335.9,342.09 339.02,340.15 342.13,338.17 345.25,336.13 348.36,334.04 351.47,331.9 354.59,329.7 357.7,327.46 360.82,325.16 363.93,322.81 367.04,320.4 370.16,317.95 373.27,315.44 376.39,312.88 379.5,310.27" fill="none" stroke="#c2c62a" stroke-width="1.5" stroke-dasharray="2.4 1.2"/><polyline points="223.8,372.7 226.91,372.67 230.03,372.6 233.14,372.46 236.26,372.28 239.37,372.05 242.48,371.76 245.6,371.42 248.71,371.03 251.83,370.58 254.94,370.09 258.05,369.54 261.17,368.94 264.28,368.28 267.4,367.58 270.51,366.82 273.62,366.01 276.74,365.15 279.85,364.23 282.97,363.26 286.08,362.24 289.19,361.17 292.31,360.05 295.42,358.87 298.54,357.64 301.65,356.36 304.76,355.03 307.88,353.65 310.99,352.21 314.11,350.72 317.22,349.18 320.33,347.58 323.45,345.93 326.56,344.24 329.68,342.48 332.79,340.68 335.9,338.83 339.02,336.92 342.13,334.96 345.25,332.94 348.36,330.88 351.47,328.76 354.59,326.59 357.7,324.37 360.82,322.1 363.93,319.77 367.04,317.39 370.16,314.96 373.27,312.48 376.39,309.94 379.5,307.35" fill="none" stroke="#7b2b2e" stroke-width="2"/><polyline points="223.8,372.39 226.91,372.31 230.03,372.19 233.14,372.01 236.26,371.78 239.37,371.5 242.48,371.16 245.6,370.77 248.71,370.33 251.83,369.84 254.94,369.3 258.05,368.7 261.17,368.05 264.28,367.35 267.4,366.6 270.51,365.79 273.62,364.93 276.74,364.02 279.85,363.06 282.97,362.04 286.08,360.98 289.19,359.86 292.31,358.68 295.42,357.46 298.54,356.18 301.65,354.86 304.76,353.47 307.88,352.04 310.99,350.56 314.11,349.02 317.22,347.43 320.33,345.79 323.45,344.09 326.56,342.34 329.68,340.55 332.79,338.69 335.9,336.79 339.02,334.83 342.13,332.83 345.25,330.77 348.36,328.65 351.47,326.49 354.59,324.27 357.7,322 360.82,319.68 363.93,317.31 367.04,314.88 370.16,312.4 373.27,309.87 376.39,307.29 379.5,304.65" fill="none" stroke="#e88a12" stroke-width="1.6" stroke-dasharray="1.4 1.1"/><polyline points="223.8,368.02 226.91,367.97 230.03,367.86 233.14,367.7 236.26,367.49 239.37,367.23 242.48,366.92 245.6,366.55 248.71,366.13 251.83,365.66 254.94,365.14 258.05,364.56 261.17,363.93 264.28,363.25 267.4,362.52 270.51,361.73 273.62,360.9 276.74,360.01 279.85,359.06 282.97,358.07 286.08,357.02 289.19,355.93 292.31,354.77 295.42,353.57 298.54,352.32 301.65,351.01 304.76,349.65 307.88,348.24 310.99,346.77 314.11,345.25 317.22,343.68 320.33,342.06 323.45,340.39 326.56,338.66 329.68,336.89 332.79,335.05 335.9,333.17 339.02,331.24 342.13,329.25 345.25,327.21 348.36,325.12 351.47,322.97 354.59,320.78 357.7,318.53 360.82,316.23 363.93,313.87 367.04,311.47 370.16,309.01 373.27,306.5 376.39,303.94 379.5,301.32" fill="none" stroke="#2f7f33" stroke-width="1.6" stroke-dasharray="2.3 1.1 0.7 1.1"/><rect x="230.5" y="290.8" width="70.8" height="28.8" fill="#fff" stroke="#a0a0a0" stroke-width="0.8"/><line x1="233" y1="296.20" x2="270" y2="296.20" stroke="#7b2b2e" stroke-width="2"/><text x="277.8" y="298.30">Poisson</text><line x1="233" y1="302.40" x2="270" y2="302.40" stroke="#e88a12" stroke-width="1.6" stroke-dasharray="1.4 1.1"/><text x="277.8" y="304.50">observed</text><line x1="233" y1="308.60" x2="270" y2="308.60" stroke="#c2c62a" stroke-width="1.5" stroke-dasharray="2.4 1.2"/><text x="277.8" y="310.70">CI low</text><line x1="233" y1="314.80" x2="270" y2="314.80" stroke="#2f7f33" stroke-width="1.6" stroke-dasharray="2.3 1.1 0.7 1.1"/><text x="277.8" y="316.90">CI high</text></g><g class="pl" fill="#222" font-size="5.6"><line x1="230.4" y1="423.2" x2="230.4" y2="518.8" stroke="#4a4a4a" stroke-width="1.3"/><line x1="228.5" y1="518.50" x2="230.4" y2="518.50" stroke="#333" stroke-width="1"/><text x="224.3" y="520.70" text-anchor="end" font-size="5.8">0</text><line x1="228.5" y1="499.30" x2="230.4" y2="499.30" stroke="#333" stroke-width="1"/><text x="226.4" y="501.50" text-anchor="end" font-size="5.8">5.0x10<tspan dy="-2.2" font-size="3.6">-1</tspan></text><line x1="228.5" y1="480.10" x2="230.4" y2="480.10" stroke="#333" stroke-width="1"/><text x="226.4" y="482.30" text-anchor="end" font-size="5.8">10<tspan dy="-2.2" font-size="3.6">0</tspan></text><line x1="228.5" y1="460.90" x2="230.4" y2="460.90" stroke="#333" stroke-width="1"/><text x="226.4" y="463.10" text-anchor="end" font-size="5.8">1.5x10<tspan dy="-2.2" font-size="3.6">0</tspan></text><line x1="228.5" y1="441.70" x2="230.4" y2="441.70" stroke="#333" stroke-width="1"/><text x="226.4" y="443.90" text-anchor="end" font-size="5.8">2.0x10<tspan dy="-2.2" font-size="3.6">0</tspan></text><line x1="228.5" y1="422.50" x2="230.4" y2="422.50" stroke="#333" stroke-width="1"/><text x="226.4" y="424.70" text-anchor="end" font-size="5.8">2.5x10<tspan dy="-2.2" font-size="3.6">0</tspan></text><line x1="230" y1="523.6" x2="378.9" y2="523.6" stroke="#1a1a1a" stroke-width="1.3"/><line x1="230.40" y1="523.6" x2="230.40" y2="525.2" stroke="#1a1a1a" stroke-width="1"/><text x="230.40" y="533.7" text-anchor="middle">0</text><line x1="245.19" y1="523.6" x2="245.19" y2="525.2" stroke="#1a1a1a" stroke-width="1"/><text x="245.19" y="533.7" text-anchor="middle">10</text><line x1="259.98" y1="523.6" x2="259.98" y2="525.2" stroke="#1a1a1a" stroke-width="1"/><text x="259.98" y="533.7" text-anchor="middle">20</text><line x1="274.77" y1="523.6" x2="274.77" y2="525.2" stroke="#1a1a1a" stroke-width="1"/><text x="274.77" y="533.7" text-anchor="middle">30</text><line x1="289.56" y1="523.6" x2="289.56" y2="525.2" stroke="#1a1a1a" stroke-width="1"/><text x="289.56" y="533.7" text-anchor="middle">40</text><line x1="304.35" y1="523.6" x2="304.35" y2="525.2" stroke="#1a1a1a" stroke-width="1"/><text x="304.35" y="533.7" text-anchor="middle">50</text><line x1="319.14" y1="523.6" x2="319.14" y2="525.2" stroke="#1a1a1a" stroke-width="1"/><text x="319.14" y="533.7" text-anchor="middle">60</text><line x1="333.93" y1="523.6" x2="333.93" y2="525.2" stroke="#1a1a1a" stroke-width="1"/><text x="333.93" y="533.7" text-anchor="middle">70</text><line x1="348.72" y1="523.6" x2="348.72" y2="525.2" stroke="#1a1a1a" stroke-width="1"/><text x="348.72" y="533.7" text-anchor="middle">80</text><line x1="363.51" y1="523.6" x2="363.51" y2="525.2" stroke="#1a1a1a" stroke-width="1"/><text x="363.51" y="533.7" text-anchor="middle">90</text><line x1="378.30" y1="523.6" x2="378.30" y2="525.2" stroke="#1a1a1a" stroke-width="1"/><text x="378.30" y="533.7" text-anchor="middle">100</text><text x="304.8" y="542.8" text-anchor="middle" font-size="5.9">Radius (µm)</text><text transform="translate(201.3,471) rotate(-90)" text-anchor="middle" font-size="5.8">Count</text><line x1="230.4" y1="480.10" x2="378.3" y2="480.10" stroke="#7b2b2e" stroke-width="2"/><polyline points="230.4,518.5 234.84,518.5 237.06,508.9 239.27,487.78 242.23,464.74 244.45,453.22 245.93,452.07 247.41,462.82 249.63,480.1 252.59,485.86 257.02,487.78 262.94,488.55 268.85,489.32 274.77,489.7 280.69,490.08 285.12,488.16 288.08,487.78 291.04,489.7 296.96,491.62 304.35,493.54 311.75,494.69 319.14,495.84 326.54,497 333.93,497.76 341.33,498.15 348.72,498.53 356.12,498.92 363.51,499.3 370.9,501.22 378.3,503.14" fill="none" stroke="#c2c62a" stroke-width="1.5" stroke-dasharray="2.4 1.2"/><polyline points="230.4,518.5 233.36,516.58 236.32,506.98 239.27,482.02 242.23,457.06 244.45,443.62 245.93,441.7 247.41,449.38 249.63,464.74 252.59,473.57 257.02,475.49 262.94,476.26 268.85,477.03 274.77,477.41 280.69,478.18 285.12,477.03 288.08,476.26 291.04,477.8 296.96,480.1 304.35,480.87 311.75,482.02 319.14,483.17 326.54,484.71 333.93,485.48 341.33,486.24 348.72,486.63 356.12,487.01 363.51,487.4 370.9,488.93 378.3,492.77" fill="none" stroke="#e88a12" stroke-width="1.6" stroke-dasharray="1.4 1.1"/><polyline points="230.4,507.75 233.36,501.22 236.32,483.94 239.27,460.9 242.23,443.62 244.45,434.02 245.93,432.48 247.41,439.01 249.63,453.22 252.59,462.05 257.02,463.97 262.94,464.74 268.85,465.89 274.77,466.66 280.69,467.04 285.12,465.89 288.08,465.51 291.04,467.04 296.96,468.58 304.35,470.12 311.75,471.65 319.14,473.19 326.54,474.34 333.93,475.11 341.33,475.88 348.72,477.03 356.12,478.18 363.51,478.95 370.9,480.1 378.3,482.02" fill="none" stroke="#2f7f33" stroke-width="1.6" stroke-dasharray="2.3 1.1 0.7 1.1"/><rect x="263.6" y="424" width="72.3" height="29.9" fill="#fff" stroke="#a0a0a0" stroke-width="0.8"/><line x1="266" y1="429.70" x2="303.2" y2="429.70" stroke="#7b2b2e" stroke-width="2"/><text x="311.9" y="431.80">Poisson</text><line x1="266" y1="436.00" x2="303.2" y2="436.00" stroke="#e88a12" stroke-width="1.6" stroke-dasharray="1.4 1.1"/><text x="311.9" y="438.10">observed</text><line x1="266" y1="442.40" x2="303.2" y2="442.40" stroke="#c2c62a" stroke-width="1.5" stroke-dasharray="2.4 1.2"/><text x="311.9" y="444.50">CI low</text><line x1="266" y1="448.70" x2="303.2" y2="448.70" stroke="#2f7f33" stroke-width="1.6" stroke-dasharray="2.3 1.1 0.7 1.1"/><text x="311.9" y="450.80">CI high</text></g></svg></div></body></html>
